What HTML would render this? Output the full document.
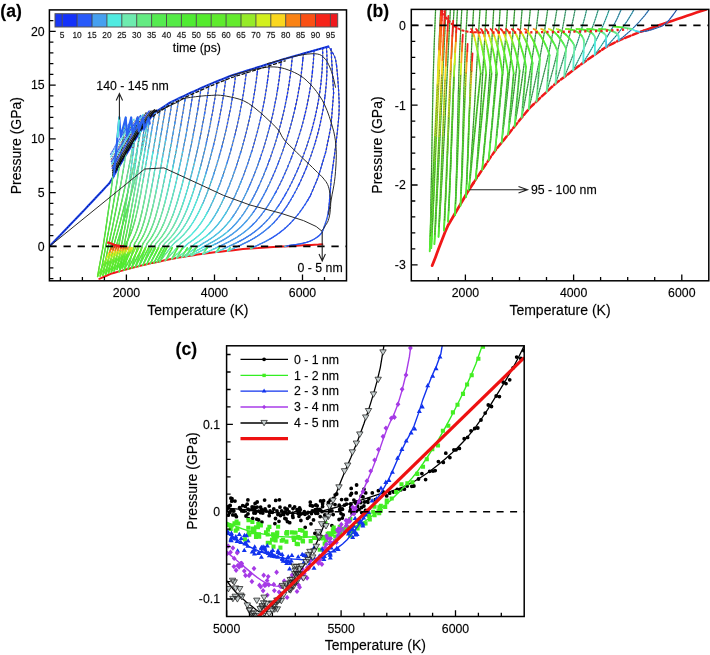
<!DOCTYPE html><html><head><meta charset="utf-8"><style>html,body{margin:0;padding:0;background:#fff}svg{display:block}</style></head><body>
<svg width="710" height="655" viewBox="0 0 710 655" font-family="'Liberation Sans', sans-serif">
<style>text{stroke:#000;stroke-width:0.28px;stroke-opacity:0.55}</style>
<rect width="710" height="655" fill="#fff"/>
<defs><clipPath id="ca"><rect x="49.4" y="9.9" width="297.1" height="270.9"/></clipPath><clipPath id="cb"><rect x="411.3" y="9.4" width="297.5" height="271.4"/></clipPath><clipPath id="cc"><rect x="226.6" y="345.8" width="297.6" height="270.7"/></clipPath></defs>
<g clip-path="url(#ca)" fill="none" stroke-linecap="round" stroke-linejoin="round">
<path d="M99.4 278.8 103.2 277.1 107.0 275.5 110.7 273.9 114.5 272.7 118.3 271.6 122.1 270.6 125.8 269.5 129.6 268.5 133.4 267.5 137.2 266.6 141.0 265.6 144.7 264.7 148.5 263.8 152.3 262.9 156.1 262.2 159.8 261.4 163.6 260.6 167.4 259.8 171.2 259.0 175.0 258.3 178.7 257.5 182.5 256.9 186.3 256.3 190.1 255.7 193.8 255.2 197.6 254.6 201.4 254.0 205.2 253.6 209.0 253.1 212.7 252.6 216.5 252.1 220.3 251.7 224.1 251.2 227.8 250.8 231.6 250.4 235.4 249.9 239.2 249.5 243.0 249.1 246.7 248.8 250.5 248.5 254.3 248.2 258.1 248.0 261.8 247.7 265.6 247.5 269.4 247.2 273.2 247.0 277.0 246.8 280.7 246.6 284.5 246.4 288.3 246.2 292.1 245.9 295.8 245.7 299.6 245.5 303.4 245.3 307.2 245.1 311.0 244.9 314.7 244.7 318.5 244.5 322.3 244.2" stroke="#f01818" stroke-width="2.0"/>
<path d="M49.4 246.4 52.9 242.7 56.5 239.0 60.0 235.4 63.5 231.7 67.1 228.0 70.6 224.3 74.1 220.6 77.6 217.0 81.2 213.3 84.7 209.6 88.2 205.8 91.8 202.0 95.3 198.2 98.8 194.5 102.4 190.7 105.9 186.9 109.4 183.2 113.0 177.2 116.5 171.1 120.0 165.0 123.5 158.9 127.1 152.9 130.6 147.1 134.1 141.4 137.7 135.6 141.2 130.3 144.7 125.6 148.3 120.8 151.8 116.1 155.3 112.2 158.9 109.9 162.4 107.6 165.9 105.3 169.4 103.0 173.0 101.1 176.5 99.5 180.0 97.8 183.6 96.1 187.1 94.4 190.6 92.7 194.2 91.2 197.7 89.6 201.2 88.0 204.7 86.4 208.3 84.9 211.8 83.4 215.3 81.9 218.9 80.5 222.4 79.1 225.9 77.7 229.5 76.3 233.0 75.1 236.5 74.0 240.1 72.8 243.6 71.7 247.1 70.6 250.6 69.5 254.2 68.4 257.7 67.3 261.2 66.2 264.8 65.1 268.3 64.0 271.8 62.9 275.4 61.8 278.9 60.7 282.4 59.6 286.0 58.6 289.5 57.5 293.0 56.5 296.5 55.5 300.1 54.5 303.6 53.4 307.1 52.4 310.7 51.4 314.2 50.4 317.7 49.4 321.3 48.4 324.8 47.4 328.3 46.4" stroke="#1a40f0" stroke-width="2.1"/>
<path d="M49.4 246.4 52.9 242.7 56.5 239.0 60.0 235.4 63.5 231.7 67.1 228.0 70.6 224.3 74.1 220.6 77.6 217.0 81.2 213.3 84.7 209.6 88.2 205.8 91.8 202.0 95.3 198.2 98.8 194.5 102.4 190.7 105.9 186.9 109.4 183.2 113.0 177.2 116.5 171.1 120.0 165.0 123.5 158.9 127.1 152.9 130.6 147.1 134.1 141.4 137.7 135.6 141.2 130.3 144.7 125.6 148.3 120.8 151.8 116.1 155.3 112.2 158.9 109.9 162.4 107.6 165.9 105.3 169.4 103.0 173.0 101.1 176.5 99.5 180.0 97.8 183.6 96.1 187.1 94.4 190.6 92.7 194.2 91.2 197.7 89.6 201.2 88.0 204.7 86.4 208.3 84.9 211.8 83.4 215.3 81.9 218.9 80.5 222.4 79.1 225.9 77.7 229.5 76.3 233.0 75.1 236.5 74.0 240.1 72.8 243.6 71.7 247.1 70.6 250.6 69.5 254.2 68.4 257.7 67.3 261.2 66.2 264.8 65.1 268.3 64.0 271.8 62.9 275.4 61.8 278.9 60.7 282.4 59.6 286.0 58.6 289.5 57.5 293.0 56.5 296.5 55.5 300.1 54.5 303.6 53.4 307.1 52.4 310.7 51.4 314.2 50.4 317.7 49.4 321.3 48.4 324.8 47.4 328.3 46.4" stroke="#000" stroke-width="0.9" stroke-dasharray="1 2.2" opacity="0.6"/>
<path d="M328.1 46.4 329.5 48.2 331.5 50.9 333.3 54.0 334.6 56.6 335.6 59.7 336.6 65.8 337.7 77.3 338.7 91.7 339.2 104.5 339.0 113.6 338.4 121.1 337.7 128.2 337.0 134.9 336.2 141.3 335.3 148.6 334.1 157.6 332.7 167.5 331.5 176.5 330.8 184.0 330.3 190.7 329.8 196.9 329.3 203.1 328.7 208.9 328.0 214.2 326.9 218.7 325.7 222.6 324.5 226.0 323.6 228.6 322.8 230.6 321.9 232.4 320.7 234.1 319.3 235.5 317.5 236.9 315.2 238.5 312.5 240.0 309.6 241.3 306.4 242.4 303.1 243.2 299.7 243.9 296.2 244.5 292.7 245.0 289.7 245.4 287.5 245.9 285.9 246.2 284.9 246.5" stroke="#454545" stroke-width="0.9"/>
<path d="M328.1 46.4 329.5 48.2 331.5 50.9 333.3 54.0 334.6 56.6 335.6 59.7 336.6 65.8" stroke="#1937f5" stroke-width="1.4" stroke-dasharray="1.2 2.8"/>
<path d="M336.6 65.8 337.7 77.3 338.7 91.7 339.2 104.5 339.0 113.6 338.4 121.1" stroke="#1634f8" stroke-width="1.4" stroke-dasharray="1.2 2.8"/>
<path d="M338.4 121.1 337.7 128.2 337.0 134.9 336.2 141.3 335.3 148.6 334.1 157.6 332.7 167.5" stroke="#1432fa" stroke-width="1.4" stroke-dasharray="1.2 2.8"/>
<path d="M332.7 167.5 331.5 176.5 330.8 184.0 330.3 190.7" stroke="#1e46fa" stroke-width="1.4" stroke-dasharray="1.8 2.2"/>
<path d="M330.3 190.7 329.8 196.9 329.3 203.1 328.7 208.9 328.0 214.2" stroke="#1e46fa" stroke-width="1.4" stroke-dasharray="2.4 1.6"/>
<path d="M328.0 214.2 326.9 218.7 325.7 222.6 324.5 226.0" stroke="#285afa" stroke-width="1.4" stroke-dasharray="2.4 1.6"/>
<path d="M324.5 226.0 323.6 228.6 322.8 230.6 321.9 232.4 320.7 234.1 319.3 235.5 317.5 236.9 315.2 238.5 312.5 240.0 309.6 241.3 306.4 242.4 303.1 243.2 299.7 243.9 296.2 244.5 292.7 245.0 289.7 245.4 287.5 245.9 285.9 246.2" stroke="#285afa" stroke-width="1.4" stroke-dasharray="3.2 0.8"/>
<path d="M285.9 246.2 284.9 246.5" stroke="#4bc6e8" stroke-width="1.4" stroke-dasharray="3.2 0.8"/>
<path d="M331.0 48.6 333.6 92.7 331.0 126.0 325.8 151.8 318.0 177.6 310.3 195.9 309.7 196.9 309.0 198.0 308.4 199.1 307.8 200.2 307.1 201.2 306.4 202.3 305.8 203.4 305.1 204.5 304.4 205.5 303.6 206.6 303.3 207.2 302.9 207.7 302.5 208.2 302.2 208.8 301.8 209.3 301.4 209.8 301.0 210.4 300.6 210.9 300.3 211.5 299.9 212.0 299.5 212.5 299.0 213.1 298.6 213.6 298.2 214.1 297.8 214.7 297.4 215.2 296.9 215.8 296.5 216.3 296.1 216.8 295.6 217.4 295.2 217.9 294.7 218.4 294.3 219.0 293.8 219.5 293.3 220.1 292.8 220.6 292.3 221.1 291.8 221.7 291.3 222.2 290.8 222.7 290.3 223.3 289.8 223.8 289.2 224.4 288.7 224.9 288.1 225.4 287.5 226.0 287.0 226.5 286.4 227.0 285.8 227.6 285.2 228.1 284.6 228.7 283.9 229.2 283.3 229.7 282.7 230.3 282.0 230.8 281.3 231.3 280.6 231.9 279.9 232.4 279.2 233.0 278.5 233.5 277.7 234.0 276.9 234.6 276.2 235.1 275.4 235.6 274.6 236.2 273.7 236.7 272.9 237.3 272.0 237.8 271.1 238.3 270.2 238.9 269.3 239.4 268.3 239.9 267.3 240.5 266.3 241.0 265.3 241.6 264.2 242.1 263.2 242.6 262.0 243.2 260.9 243.7 259.8 244.2 258.6 244.8 257.5 245.3 256.4 245.9 255.2 246.4 254.1 246.9 252.9 247.5 251.8 248.0 250.6 248.5" stroke="#454545" stroke-width="0.9"/>
<path d="M331.0 48.6 333.6 92.7" stroke="#1634f8" stroke-width="1.4" stroke-dasharray="1.2 2.8"/>
<path d="M333.6 92.7 331.0 126.0 325.8 151.8" stroke="#1432fa" stroke-width="1.4" stroke-dasharray="1.2 2.8"/>
<path d="M325.8 151.8 318.0 177.6 310.3 195.9" stroke="#1e46fa" stroke-width="1.4" stroke-dasharray="1.8 2.2"/>
<path d="M310.3 195.9 309.7 196.9 309.0 198.0 308.4 199.1 307.8 200.2" stroke="#1e46fa" stroke-width="1.4" stroke-dasharray="2.4 1.6"/>
<path d="M307.8 200.2 307.1 201.2 306.4 202.3 305.8 203.4 305.1 204.5 304.4 205.5 303.6 206.6 303.3 207.2 302.9 207.7 302.5 208.2 302.2 208.8 301.8 209.3 301.4 209.8 301.0 210.4 300.6 210.9 300.3 211.5 299.9 212.0 299.5 212.5 299.0 213.1 298.6 213.6 298.2 214.1 297.8 214.7 297.4 215.2 296.9 215.8 296.5 216.3 296.1 216.8 295.6 217.4 295.2 217.9 294.7 218.4 294.3 219.0 293.8 219.5 293.3 220.1 292.8 220.6 292.3 221.1 291.8 221.7 291.3 222.2 290.8 222.7 290.3 223.3 289.8 223.8 289.2 224.4 288.7 224.9 288.1 225.4 287.5 226.0 287.0 226.5 286.4 227.0 285.8 227.6 285.2 228.1" stroke="#285afa" stroke-width="1.4" stroke-dasharray="2.4 1.6"/>
<path d="M285.2 228.1 284.6 228.7 283.9 229.2 283.3 229.7 282.7 230.3 282.0 230.8 281.3 231.3 280.6 231.9 279.9 232.4 279.2 233.0 278.5 233.5 277.7 234.0 276.9 234.6 276.2 235.1 275.4 235.6 274.6 236.2 273.7 236.7 272.9 237.3 272.0 237.8 271.1 238.3 270.2 238.9 269.3 239.4" stroke="#285afa" stroke-width="1.4" stroke-dasharray="3.2 0.8"/>
<path d="M269.3 239.4 268.3 239.9 267.3 240.5 266.3 241.0 265.3 241.6 264.2 242.1 263.2 242.6 262.0 243.2 260.9 243.7 259.8 244.2 258.6 244.8 257.5 245.3 256.4 245.9 255.2 246.4 254.1 246.9" stroke="#377df5" stroke-width="1.4" stroke-dasharray="3.2 0.8"/>
<path d="M254.1 246.9 252.9 247.5" stroke="#46a0f0" stroke-width="1.4" stroke-dasharray="3.2 0.8"/>
<path d="M252.9 247.5 251.8 248.0" stroke="#4bc6e8" stroke-width="1.4" stroke-dasharray="3.2 0.8"/>
<path d="M251.8 248.0 250.6 248.5" stroke="#50ebe1" stroke-width="1.4" stroke-dasharray="3.2 0.8"/>
<path d="M326.5 47.0 326.6 48.0 326.6 49.1 326.7 50.2 326.7 51.3 326.8 52.3 326.8 53.4 326.9 54.5 326.9 55.6 326.9 56.6 327.0 57.7 327.0 58.8 327.0 59.9 327.0 60.9 327.0 62.0 327.0 63.1 327.0 64.2 327.0 65.2 327.0 66.3 327.0 67.4 327.0 68.5 326.9 69.5 326.9 70.6 326.9 71.7 326.9 72.8 326.8 73.8 326.8 74.9 326.7 76.0 326.7 77.1 326.6 78.1 326.6 79.2 326.5 80.3 326.4 81.4 326.3 82.4 326.3 83.5 326.2 84.6 326.1 85.7 326.0 86.7 325.9 87.8 325.8 88.9 325.7 90.0 325.6 91.0 325.5 92.1 325.4 93.2 325.2 94.3 325.1 95.3 325.0 96.4 324.8 97.5 324.7 98.6 324.6 99.6 324.4 100.7 324.3 101.8 324.1 102.9 323.9 103.9 323.8 105.0 323.6 106.1 323.4 107.2 323.2 108.2 323.1 109.3 322.9 110.4 322.7 111.5 322.5 112.5 322.3 113.6 322.1 114.7 321.9 115.8 321.6 116.8 321.4 117.9 321.2 119.0 321.0 120.1 320.7 121.1 320.5 122.2 320.3 123.3 320.0 124.4 319.8 125.4 319.5 126.5 319.3 127.6 319.0 128.7 318.7 129.7 318.5 130.8 318.2 131.9 317.9 133.0 317.6 134.0 317.3 135.1 317.0 136.2 316.7 137.3 316.4 138.3 316.1 139.4 315.8 140.5 315.5 141.6 315.2 142.6 314.9 143.7 314.5 144.8 314.2 145.9 313.9 146.9 313.5 148.0 313.2 149.1 312.8 150.2 312.5 151.2 312.1 152.3 311.7 153.4 311.4 154.5 311.0 155.5 310.6 156.6 310.2 157.7 309.8 158.8 309.4 159.8 309.0 160.9 308.6 162.0 308.2 163.1 307.8 164.1 307.4 165.2 307.0 166.3 306.5 167.4 306.1 168.4 305.7 169.5 305.2 170.6 304.8 171.7 304.3 172.7 303.9 173.8 303.4 174.9 302.9 176.0 302.4 177.0 302.0 178.1 301.5 179.2 301.0 180.3 300.5 181.3 300.0 182.4 299.5 183.5 298.9 184.6 298.4 185.6 297.9 186.7 297.3 187.8 296.8 188.9 296.3 189.9 295.7 191.0 295.1 192.1 294.5 193.2 294.0 194.2 293.4 195.3 292.8 196.4 292.1 197.5 291.5 198.5 290.9 199.6 290.3 200.7 289.6 201.8 288.9 202.8 288.3 203.9 287.6 205.0 286.9 206.1 286.2 207.1 285.8 207.7 285.4 208.2 285.1 208.7 284.7 209.3 284.3 209.8 283.9 210.4 283.5 210.9 283.1 211.4 282.7 212.0 282.3 212.5 281.9 213.0 281.5 213.6 281.1 214.1 280.7 214.7 280.3 215.2 279.8 215.7 279.4 216.3 279.0 216.8 278.5 217.3 278.1 217.9 277.6 218.4 277.1 219.0 276.7 219.5 276.2 220.0 275.7 220.6 275.2 221.1 274.7 221.6 274.2 222.2 273.7 222.7 273.2 223.3 272.6 223.8 272.1 224.3 271.5 224.9 271.0 225.4 270.4 225.9 269.8 226.5 269.3 227.0 268.7 227.6 268.0 228.1 267.4 228.6 266.8 229.2 266.1 229.7 265.5 230.2 264.8 230.8 264.1 231.3 263.4 231.9 262.7 232.4 262.0 232.9 261.3 233.5 260.5 234.0 259.7 234.5 259.0 235.1 258.1 235.6 257.3 236.2 256.5 236.7 255.6 237.2 254.7 237.8 253.8 238.3 252.9 238.8 252.0 239.4 251.0 239.9 250.0 240.5 249.0 241.0 248.0 241.5 246.9 242.1 245.8 242.6 244.7 243.1 243.6 243.7 242.4 244.2 241.3 244.8 240.1 245.3 239.0 245.8 237.8 246.4 236.7 246.9 235.5 247.4 234.4 248.0 233.2 248.5 232.1 249.1 230.9 249.6 229.7 250.1 228.6 250.7 227.4 251.2" stroke="#454545" stroke-width="0.9"/>
<path d="M326.5 47.0 326.6 48.0 326.6 49.1 326.7 50.2 326.7 51.3 326.8 52.3 326.8 53.4 326.9 54.5 326.9 55.6 326.9 56.6 327.0 57.7 327.0 58.8 327.0 59.9 327.0 60.9 327.0 62.0 327.0 63.1 327.0 64.2 327.0 65.2 327.0 66.3 327.0 67.4 327.0 68.5 326.9 69.5 326.9 70.6 326.9 71.7 326.9 72.8 326.8 73.8 326.8 74.9 326.7 76.0 326.7 77.1 326.6 78.1 326.6 79.2 326.5 80.3 326.4 81.4 326.3 82.4 326.3 83.5 326.2 84.6 326.1 85.7 326.0 86.7 325.9 87.8 325.8 88.9 325.7 90.0 325.6 91.0 325.5 92.1 325.4 93.2 325.2 94.3 325.1 95.3 325.0 96.4 324.8 97.5" stroke="#1634f8" stroke-width="1.4" stroke-dasharray="1.2 2.8"/>
<path d="M324.8 97.5 324.7 98.6 324.6 99.6 324.4 100.7 324.3 101.8 324.1 102.9 323.9 103.9 323.8 105.0 323.6 106.1 323.4 107.2 323.2 108.2 323.1 109.3 322.9 110.4 322.7 111.5 322.5 112.5 322.3 113.6 322.1 114.7 321.9 115.8 321.6 116.8 321.4 117.9 321.2 119.0 321.0 120.1 320.7 121.1 320.5 122.2 320.3 123.3 320.0 124.4 319.8 125.4 319.5 126.5 319.3 127.6 319.0 128.7 318.7 129.7 318.5 130.8 318.2 131.9 317.9 133.0 317.6 134.0 317.3 135.1 317.0 136.2 316.7 137.3 316.4 138.3 316.1 139.4 315.8 140.5 315.5 141.6 315.2 142.6 314.9 143.7" stroke="#1432fa" stroke-width="1.4" stroke-dasharray="1.2 2.8"/>
<path d="M314.9 143.7 314.5 144.8 314.2 145.9 313.9 146.9 313.5 148.0 313.2 149.1 312.8 150.2 312.5 151.2 312.1 152.3 311.7 153.4 311.4 154.5 311.0 155.5 310.6 156.6 310.2 157.7 309.8 158.8 309.4 159.8 309.0 160.9 308.6 162.0 308.2 163.1 307.8 164.1 307.4 165.2 307.0 166.3 306.5 167.4 306.1 168.4" stroke="#1e46fa" stroke-width="1.4" stroke-dasharray="1.2 2.8"/>
<path d="M306.1 168.4 305.7 169.5 305.2 170.6 304.8 171.7 304.3 172.7 303.9 173.8 303.4 174.9 302.9 176.0 302.4 177.0 302.0 178.1 301.5 179.2 301.0 180.3 300.5 181.3 300.0 182.4 299.5 183.5 298.9 184.6" stroke="#1e46fa" stroke-width="1.4" stroke-dasharray="1.8 2.2"/>
<path d="M298.9 184.6 298.4 185.6 297.9 186.7 297.3 187.8 296.8 188.9 296.3 189.9 295.7 191.0 295.1 192.1 294.5 193.2 294.0 194.2 293.4 195.3" stroke="#285afa" stroke-width="1.4" stroke-dasharray="1.8 2.2"/>
<path d="M293.4 195.3 292.8 196.4 292.1 197.5 291.5 198.5 290.9 199.6 290.3 200.7 289.6 201.8 288.9 202.8 288.3 203.9 287.6 205.0 286.9 206.1 286.2 207.1 285.8 207.7 285.4 208.2 285.1 208.7 284.7 209.3 284.3 209.8 283.9 210.4 283.5 210.9 283.1 211.4 282.7 212.0 282.3 212.5 281.9 213.0 281.5 213.6 281.1 214.1 280.7 214.7 280.3 215.2 279.8 215.7 279.4 216.3 279.0 216.8 278.5 217.3 278.1 217.9 277.6 218.4 277.1 219.0 276.7 219.5 276.2 220.0 275.7 220.6 275.2 221.1 274.7 221.6 274.2 222.2 273.7 222.7" stroke="#285afa" stroke-width="1.4" stroke-dasharray="2.4 1.6"/>
<path d="M273.7 222.7 273.2 223.3 272.6 223.8 272.1 224.3 271.5 224.9 271.0 225.4 270.4 225.9 269.8 226.5 269.3 227.0" stroke="#377df5" stroke-width="1.4" stroke-dasharray="2.4 1.6"/>
<path d="M269.3 227.0 268.7 227.6 268.0 228.1 267.4 228.6 266.8 229.2 266.1 229.7 265.5 230.2 264.8 230.8 264.1 231.3 263.4 231.9 262.7 232.4 262.0 232.9 261.3 233.5 260.5 234.0 259.7 234.5 259.0 235.1 258.1 235.6 257.3 236.2 256.5 236.7 255.6 237.2 254.7 237.8 253.8 238.3 252.9 238.8 252.0 239.4 251.0 239.9 250.0 240.5 249.0 241.0 248.0 241.5 246.9 242.1 245.8 242.6 244.7 243.1 243.6 243.7 242.4 244.2 241.3 244.8 240.1 245.3 239.0 245.8 237.8 246.4 236.7 246.9" stroke="#377df5" stroke-width="1.4" stroke-dasharray="3.2 0.8"/>
<path d="M236.7 246.9 235.5 247.4 234.4 248.0" stroke="#46a0f0" stroke-width="1.4" stroke-dasharray="3.2 0.8"/>
<path d="M234.4 248.0 233.2 248.5 232.1 249.1 230.9 249.6" stroke="#4bc6e8" stroke-width="1.4" stroke-dasharray="3.2 0.8"/>
<path d="M230.9 249.6 229.7 250.1 228.6 250.7 227.4 251.2" stroke="#50ebe1" stroke-width="1.4" stroke-dasharray="3.2 0.8"/>
<path d="M322.7 48.0 322.7 49.1 322.7 50.2 322.7 51.3 322.7 52.3 322.7 53.4 322.7 54.5 322.7 55.6 322.6 56.6 322.6 57.7 322.6 58.8 322.6 59.9 322.5 60.9 322.5 62.0 322.5 63.1 322.4 64.2 322.4 65.2 322.3 66.3 322.2 67.4 322.2 68.5 322.1 69.5 322.1 70.6 322.0 71.7 321.9 72.8 321.8 73.8 321.7 74.9 321.6 76.0 321.5 77.1 321.4 78.1 321.3 79.2 321.2 80.3 321.1 81.4 321.0 82.4 320.9 83.5 320.8 84.6 320.6 85.7 320.5 86.7 320.4 87.8 320.2 88.9 320.1 90.0 319.9 91.0 319.8 92.1 319.6 93.2 319.5 94.3 319.3 95.3 319.1 96.4 318.9 97.5 318.8 98.6 318.6 99.6 318.4 100.7 318.2 101.8 318.0 102.9 317.8 103.9 317.6 105.0 317.4 106.1 317.2 107.2 317.0 108.2 316.8 109.3 316.5 110.4 316.3 111.5 316.1 112.5 315.8 113.6 315.6 114.7 315.4 115.8 315.1 116.8 314.9 117.9 314.6 119.0 314.3 120.1 314.1 121.1 313.8 122.2 313.5 123.3 313.2 124.4 313.0 125.4 312.7 126.5 312.4 127.6 312.1 128.7 311.8 129.7 311.5 130.8 311.2 131.9 310.9 133.0 310.6 134.0 310.2 135.1 309.9 136.2 309.6 137.3 309.3 138.3 308.9 139.4 308.6 140.5 308.2 141.6 307.9 142.6 307.5 143.7 307.2 144.8 306.8 145.9 306.4 146.9 306.1 148.0 305.7 149.1 305.3 150.2 304.9 151.2 304.5 152.3 304.1 153.4 303.8 154.5 303.4 155.5 302.9 156.6 302.5 157.7 302.1 158.8 301.7 159.8 301.3 160.9 300.8 162.0 300.4 163.1 300.0 164.1 299.5 165.2 299.1 166.3 298.6 167.4 298.2 168.4 297.7 169.5 297.2 170.6 296.8 171.7 296.3 172.7 295.8 173.8 295.3 174.9 294.8 176.0 294.3 177.0 293.8 178.1 293.3 179.2 292.8 180.3 292.3 181.3 291.8 182.4 291.2 183.5 290.7 184.6 290.1 185.6 289.6 186.7 289.0 187.8 288.5 188.9 287.9 189.9 287.3 191.0 286.7 192.1 286.1 193.2 285.5 194.2 284.9 195.3 284.3 196.4 283.7 197.5 283.0 198.5 282.4 199.6 281.7 200.7 281.0 201.8 280.4 202.8 279.7 203.9 279.0 205.0 278.2 206.1 277.9 206.6 277.5 207.1 277.1 207.7 276.8 208.2 276.4 208.8 276.0 209.3 275.6 209.8 275.2 210.4 274.8 210.9 274.4 211.4 274.0 212.0 273.6 212.5 273.2 213.1 272.8 213.6 272.4 214.1 272.0 214.7 271.5 215.2 271.1 215.7 270.6 216.3 270.2 216.8 269.7 217.4 269.3 217.9 268.8 218.4 268.3 219.0 267.9 219.5 267.4 220.0 266.9 220.6 266.4 221.1 265.9 221.7 265.4 222.2 264.8 222.7 264.3 223.3 263.8 223.8 263.2 224.3 262.7 224.9 262.1 225.4 261.5 226.0 261.0 226.5 260.4 227.0 259.8 227.6 259.1 228.1 258.5 228.6 257.9 229.2 257.2 229.7 256.6 230.3 255.9 230.8 255.2 231.3 254.5 231.9 253.8 232.4 253.0 232.9 252.3 233.5 251.5 234.0 250.8 234.6 250.0 235.1 249.2 235.6 248.3 236.2 247.5 236.7 246.6 237.2 245.7 237.8 244.8 238.3 243.9 238.9 243.0 239.4 242.0 239.9 241.0 240.5 240.0 241.0 239.0 241.5 237.9 242.1 236.8 242.6 235.7 243.2 234.5 243.7 233.4 244.2 232.2 244.8 231.1 245.3 229.9 245.8 228.8 246.4 227.6 246.9 226.4 247.5 225.3 248.0 224.1 248.5 223.0 249.1 221.8 249.6 220.6 250.1 219.5 250.7 218.3 251.2 217.2 251.8 216.0 252.3" stroke="#454545" stroke-width="0.9"/>
<path d="M322.7 48.0 322.7 49.1 322.7 50.2 322.7 51.3 322.7 52.3 322.7 53.4 322.7 54.5 322.7 55.6 322.6 56.6 322.6 57.7 322.6 58.8 322.6 59.9 322.5 60.9 322.5 62.0 322.5 63.1 322.4 64.2 322.4 65.2 322.3 66.3 322.2 67.4 322.2 68.5 322.1 69.5 322.1 70.6 322.0 71.7 321.9 72.8 321.8 73.8 321.7 74.9 321.6 76.0 321.5 77.1 321.4 78.1 321.3 79.2 321.2 80.3 321.1 81.4 321.0 82.4 320.9 83.5" stroke="#1634f8" stroke-width="1.4" stroke-dasharray="1.2 2.8"/>
<path d="M320.9 83.5 320.8 84.6 320.6 85.7 320.5 86.7 320.4 87.8 320.2 88.9 320.1 90.0 319.9 91.0 319.8 92.1 319.6 93.2 319.5 94.3 319.3 95.3 319.1 96.4 318.9 97.5 318.8 98.6 318.6 99.6 318.4 100.7 318.2 101.8 318.0 102.9 317.8 103.9 317.6 105.0 317.4 106.1 317.2 107.2 317.0 108.2 316.8 109.3 316.5 110.4 316.3 111.5 316.1 112.5 315.8 113.6 315.6 114.7 315.4 115.8 315.1 116.8 314.9 117.9 314.6 119.0 314.3 120.1 314.1 121.1 313.8 122.2 313.5 123.3 313.2 124.4 313.0 125.4 312.7 126.5 312.4 127.6 312.1 128.7 311.8 129.7" stroke="#1432fa" stroke-width="1.4" stroke-dasharray="1.2 2.8"/>
<path d="M311.8 129.7 311.5 130.8 311.2 131.9 310.9 133.0 310.6 134.0 310.2 135.1 309.9 136.2 309.6 137.3 309.3 138.3 308.9 139.4 308.6 140.5 308.2 141.6 307.9 142.6 307.5 143.7 307.2 144.8 306.8 145.9 306.4 146.9 306.1 148.0 305.7 149.1 305.3 150.2 304.9 151.2 304.5 152.3 304.1 153.4 303.8 154.5 303.4 155.5 302.9 156.6 302.5 157.7 302.1 158.8 301.7 159.8 301.3 160.9 300.8 162.0 300.4 163.1 300.0 164.1 299.5 165.2 299.1 166.3 298.6 167.4" stroke="#1e46fa" stroke-width="1.4" stroke-dasharray="1.2 2.8"/>
<path d="M298.6 167.4 298.2 168.4 297.7 169.5 297.2 170.6" stroke="#1e46fa" stroke-width="1.4" stroke-dasharray="1.8 2.2"/>
<path d="M297.2 170.6 296.8 171.7 296.3 172.7 295.8 173.8 295.3 174.9 294.8 176.0 294.3 177.0 293.8 178.1 293.3 179.2 292.8 180.3 292.3 181.3 291.8 182.4 291.2 183.5 290.7 184.6 290.1 185.6 289.6 186.7 289.0 187.8 288.5 188.9 287.9 189.9 287.3 191.0 286.7 192.1 286.1 193.2 285.5 194.2" stroke="#285afa" stroke-width="1.4" stroke-dasharray="1.8 2.2"/>
<path d="M285.5 194.2 284.9 195.3 284.3 196.4 283.7 197.5 283.0 198.5 282.4 199.6 281.7 200.7 281.0 201.8 280.4 202.8 279.7 203.9 279.0 205.0 278.2 206.1 277.9 206.6 277.5 207.1" stroke="#285afa" stroke-width="1.4" stroke-dasharray="2.4 1.6"/>
<path d="M277.5 207.1 277.1 207.7 276.8 208.2 276.4 208.8 276.0 209.3 275.6 209.8 275.2 210.4 274.8 210.9 274.4 211.4 274.0 212.0 273.6 212.5 273.2 213.1 272.8 213.6 272.4 214.1 272.0 214.7 271.5 215.2 271.1 215.7 270.6 216.3 270.2 216.8 269.7 217.4 269.3 217.9 268.8 218.4 268.3 219.0 267.9 219.5 267.4 220.0 266.9 220.6 266.4 221.1 265.9 221.7 265.4 222.2 264.8 222.7 264.3 223.3 263.8 223.8 263.2 224.3 262.7 224.9 262.1 225.4 261.5 226.0" stroke="#377df5" stroke-width="1.4" stroke-dasharray="2.4 1.6"/>
<path d="M261.5 226.0 261.0 226.5 260.4 227.0 259.8 227.6 259.1 228.1 258.5 228.6 257.9 229.2 257.2 229.7 256.6 230.3 255.9 230.8 255.2 231.3 254.5 231.9 253.8 232.4 253.0 232.9 252.3 233.5 251.5 234.0 250.8 234.6 250.0 235.1 249.2 235.6 248.3 236.2 247.5 236.7 246.6 237.2 245.7 237.8 244.8 238.3 243.9 238.9 243.0 239.4 242.0 239.9 241.0 240.5 240.0 241.0 239.0 241.5 237.9 242.1" stroke="#377df5" stroke-width="1.4" stroke-dasharray="3.2 0.8"/>
<path d="M237.9 242.1 236.8 242.6 235.7 243.2 234.5 243.7 233.4 244.2 232.2 244.8 231.1 245.3 229.9 245.8 228.8 246.4 227.6 246.9 226.4 247.5 225.3 248.0" stroke="#46a0f0" stroke-width="1.4" stroke-dasharray="3.2 0.8"/>
<path d="M225.3 248.0 224.1 248.5 223.0 249.1 221.8 249.6" stroke="#4bc6e8" stroke-width="1.4" stroke-dasharray="3.2 0.8"/>
<path d="M221.8 249.6 220.6 250.1 219.5 250.7 218.3 251.2" stroke="#50ebe1" stroke-width="1.4" stroke-dasharray="3.2 0.8"/>
<path d="M218.3 251.2 217.2 251.8 216.0 252.3" stroke="#5febc8" stroke-width="1.4" stroke-dasharray="3.2 0.8"/>
<path d="M314.0 50.5 314.0 51.5 313.9 52.6 313.9 53.7 313.8 54.8 313.8 55.8 313.7 56.9 313.6 58.0 313.5 59.1 313.5 60.1 313.4 61.2 313.3 62.3 313.2 63.4 313.1 64.4 313.0 65.5 312.9 66.6 312.8 67.7 312.7 68.7 312.6 69.8 312.5 70.9 312.4 72.0 312.3 73.0 312.2 74.1 312.0 75.2 311.9 76.3 311.8 77.3 311.6 78.4 311.5 79.5 311.4 80.6 311.2 81.6 311.1 82.7 310.9 83.8 310.7 84.9 310.6 85.9 310.4 87.0 310.2 88.1 310.1 89.2 309.9 90.2 309.7 91.3 309.5 92.4 309.3 93.5 309.1 94.5 308.9 95.6 308.7 96.7 308.5 97.8 308.3 98.8 308.1 99.9 307.9 101.0 307.7 102.1 307.5 103.1 307.3 104.2 307.0 105.3 306.8 106.4 306.6 107.4 306.3 108.5 306.1 109.6 305.8 110.7 305.6 111.7 305.3 112.8 305.1 113.9 304.8 115.0 304.5 116.0 304.3 117.1 304.0 118.2 303.7 119.3 303.4 120.3 303.2 121.4 302.9 122.5 302.6 123.6 302.3 124.6 302.0 125.7 301.7 126.8 301.4 127.9 301.1 128.9 300.8 130.0 300.4 131.1 300.1 132.2 299.8 133.2 299.5 134.3 299.1 135.4 298.8 136.5 298.5 137.5 298.1 138.6 297.8 139.7 297.4 140.8 297.1 141.8 296.7 142.9 296.4 144.0 296.0 145.1 295.6 146.1 295.2 147.2 294.9 148.3 294.5 149.4 294.1 150.4 293.7 151.5 293.3 152.6 292.9 153.7 292.5 154.7 292.1 155.8 291.7 156.9 291.3 158.0 290.9 159.0 290.5 160.1 290.0 161.2 289.6 162.3 289.2 163.3 288.7 164.4 288.3 165.5 287.9 166.6 287.4 167.6 287.0 168.7 286.5 169.8 286.0 170.9 285.6 171.9 285.1 173.0 284.6 174.1 284.1 175.2 283.7 176.2 283.2 177.3 282.7 178.4 282.2 179.5 281.7 180.5 281.1 181.6 280.6 182.7 280.1 183.8 279.6 184.8 279.0 185.9 278.5 187.0 278.0 188.1 277.4 189.1 276.8 190.2 276.3 191.3 275.7 192.4 275.1 193.4 274.5 194.5 273.9 195.6 273.3 196.7 272.7 197.7 272.1 198.8 271.5 199.9 270.8 201.0 270.2 202.0 269.5 203.1 268.8 204.2 268.1 205.3 267.4 206.3 266.7 207.4 266.0 208.5 265.6 209.0 265.3 209.6 264.9 210.1 264.5 210.6 264.1 211.2 263.7 211.7 263.3 212.3 262.9 212.8 262.5 213.3 262.1 213.9 261.7 214.4 261.3 214.9 260.9 215.5 260.5 216.0 260.0 216.6 259.6 217.1 259.2 217.6 258.7 218.2 258.2 218.7 257.8 219.2 257.3 219.8 256.8 220.3 256.4 220.9 255.9 221.4 255.4 221.9 254.9 222.5 254.4 223.0 253.8 223.5 253.3 224.1 252.8 224.6 252.2 225.2 251.7 225.7 251.1 226.2 250.5 226.8 250.0 227.3 249.4 227.8 248.8 228.4 248.1 228.9 247.5 229.5 246.9 230.0 246.2 230.5 245.6 231.1 244.9 231.6 244.2 232.1 243.5 232.7 242.8 233.2 242.0 233.8 241.3 234.3 240.5 234.8 239.7 235.4 238.9 235.9 238.1 236.4 237.3 237.0 236.4 237.5 235.5 238.1 234.6 238.6 233.7 239.1 232.8 239.7 231.8 240.2 230.8 240.7 229.8 241.3 228.8 241.8 227.7 242.4 226.6 242.9 225.5 243.4 224.4 244.0 223.3 244.5 222.1 245.0 221.0 245.6 219.9 246.1 218.7 246.7 217.6 247.2 216.5 247.7 215.3 248.3 214.2 248.8 213.0 249.3 211.9 249.9 210.8 250.4 209.6 251.0 208.5 251.5 207.3 252.0 206.2 252.6 205.0 253.1 203.9 253.6 202.8 254.2" stroke="#454545" stroke-width="0.9"/>
<path d="M314.0 50.5 314.0 51.5 313.9 52.6 313.9 53.7 313.8 54.8 313.8 55.8 313.7 56.9 313.6 58.0 313.5 59.1 313.5 60.1 313.4 61.2 313.3 62.3 313.2 63.4 313.1 64.4 313.0 65.5 312.9 66.6 312.8 67.7 312.7 68.7 312.6 69.8 312.5 70.9 312.4 72.0" stroke="#1634f8" stroke-width="1.4" stroke-dasharray="1.2 2.8"/>
<path d="M312.4 72.0 312.3 73.0 312.2 74.1 312.0 75.2 311.9 76.3 311.8 77.3 311.6 78.4 311.5 79.5 311.4 80.6 311.2 81.6 311.1 82.7 310.9 83.8 310.7 84.9 310.6 85.9 310.4 87.0 310.2 88.1 310.1 89.2 309.9 90.2 309.7 91.3 309.5 92.4 309.3 93.5 309.1 94.5 308.9 95.6 308.7 96.7 308.5 97.8 308.3 98.8 308.1 99.9 307.9 101.0 307.7 102.1 307.5 103.1 307.3 104.2 307.0 105.3 306.8 106.4 306.6 107.4 306.3 108.5 306.1 109.6 305.8 110.7 305.6 111.7 305.3 112.8 305.1 113.9 304.8 115.0 304.5 116.0 304.3 117.1 304.0 118.2" stroke="#1432fa" stroke-width="1.4" stroke-dasharray="1.2 2.8"/>
<path d="M304.0 118.2 303.7 119.3 303.4 120.3 303.2 121.4 302.9 122.5 302.6 123.6 302.3 124.6 302.0 125.7 301.7 126.8 301.4 127.9 301.1 128.9 300.8 130.0 300.4 131.1 300.1 132.2 299.8 133.2 299.5 134.3 299.1 135.4 298.8 136.5 298.5 137.5 298.1 138.6 297.8 139.7 297.4 140.8 297.1 141.8 296.7 142.9 296.4 144.0 296.0 145.1 295.6 146.1 295.2 147.2 294.9 148.3 294.5 149.4 294.1 150.4 293.7 151.5 293.3 152.6 292.9 153.7 292.5 154.7 292.1 155.8 291.7 156.9 291.3 158.0" stroke="#1e46fa" stroke-width="1.4" stroke-dasharray="1.2 2.8"/>
<path d="M291.3 158.0 290.9 159.0 290.5 160.1 290.0 161.2 289.6 162.3 289.2 163.3 288.7 164.4 288.3 165.5" stroke="#285afa" stroke-width="1.4" stroke-dasharray="1.2 2.8"/>
<path d="M288.3 165.5 287.9 166.6 287.4 167.6 287.0 168.7 286.5 169.8 286.0 170.9 285.6 171.9 285.1 173.0 284.6 174.1 284.1 175.2 283.7 176.2 283.2 177.3 282.7 178.4 282.2 179.5 281.7 180.5 281.1 181.6 280.6 182.7 280.1 183.8 279.6 184.8 279.0 185.9 278.5 187.0 278.0 188.1 277.4 189.1 276.8 190.2 276.3 191.3 275.7 192.4" stroke="#285afa" stroke-width="1.4" stroke-dasharray="1.8 2.2"/>
<path d="M275.7 192.4 275.1 193.4" stroke="#285afa" stroke-width="1.4" stroke-dasharray="2.4 1.6"/>
<path d="M275.1 193.4 274.5 194.5 273.9 195.6 273.3 196.7 272.7 197.7 272.1 198.8 271.5 199.9 270.8 201.0 270.2 202.0 269.5 203.1 268.8 204.2 268.1 205.3 267.4 206.3 266.7 207.4 266.0 208.5 265.6 209.0 265.3 209.6 264.9 210.1 264.5 210.6 264.1 211.2 263.7 211.7 263.3 212.3 262.9 212.8 262.5 213.3 262.1 213.9 261.7 214.4 261.3 214.9 260.9 215.5 260.5 216.0 260.0 216.6 259.6 217.1 259.2 217.6 258.7 218.2 258.2 218.7 257.8 219.2 257.3 219.8 256.8 220.3 256.4 220.9 255.9 221.4 255.4 221.9 254.9 222.5 254.4 223.0 253.8 223.5 253.3 224.1" stroke="#377df5" stroke-width="1.4" stroke-dasharray="2.4 1.6"/>
<path d="M253.3 224.1 252.8 224.6 252.2 225.2 251.7 225.7 251.1 226.2 250.5 226.8 250.0 227.3" stroke="#377df5" stroke-width="1.4" stroke-dasharray="3.2 0.8"/>
<path d="M250.0 227.3 249.4 227.8 248.8 228.4 248.1 228.9 247.5 229.5 246.9 230.0 246.2 230.5 245.6 231.1 244.9 231.6 244.2 232.1 243.5 232.7 242.8 233.2 242.0 233.8 241.3 234.3 240.5 234.8 239.7 235.4 238.9 235.9 238.1 236.4 237.3 237.0 236.4 237.5 235.5 238.1 234.6 238.6 233.7 239.1 232.8 239.7 231.8 240.2 230.8 240.7 229.8 241.3 228.8 241.8 227.7 242.4 226.6 242.9 225.5 243.4 224.4 244.0 223.3 244.5 222.1 245.0 221.0 245.6 219.9 246.1 218.7 246.7 217.6 247.2" stroke="#46a0f0" stroke-width="1.4" stroke-dasharray="3.2 0.8"/>
<path d="M217.6 247.2 216.5 247.7 215.3 248.3 214.2 248.8 213.0 249.3" stroke="#4bc6e8" stroke-width="1.4" stroke-dasharray="3.2 0.8"/>
<path d="M213.0 249.3 211.9 249.9 210.8 250.4 209.6 251.0 208.5 251.5 207.3 252.0" stroke="#50ebe1" stroke-width="1.4" stroke-dasharray="3.2 0.8"/>
<path d="M207.3 252.0 206.2 252.6 205.0 253.1 203.9 253.6 202.8 254.2" stroke="#5febc8" stroke-width="1.4" stroke-dasharray="3.2 0.8"/>
<path d="M303.3 53.5 303.3 54.6 303.2 55.7 303.1 56.7 303.0 57.8 302.9 58.9 302.8 60.0 302.7 61.0 302.6 62.1 302.5 63.2 302.4 64.3 302.3 65.3 302.2 66.4 302.0 67.5 301.9 68.6 301.8 69.6 301.7 70.7 301.5 71.8 301.4 72.9 301.3 73.9 301.1 75.0 301.0 76.1 300.8 77.2 300.7 78.2 300.5 79.3 300.4 80.4 300.2 81.5 300.0 82.5 299.9 83.6 299.7 84.7 299.5 85.8 299.3 86.8 299.1 87.9 299.0 89.0 298.8 90.1 298.6 91.1 298.4 92.2 298.2 93.3 298.0 94.4 297.8 95.4 297.6 96.5 297.4 97.6 297.2 98.7 296.9 99.7 296.7 100.8 296.5 101.9 296.3 103.0 296.0 104.0 295.8 105.1 295.6 106.2 295.3 107.3 295.1 108.3 294.8 109.4 294.6 110.5 294.3 111.6 294.1 112.6 293.8 113.7 293.5 114.8 293.3 115.9 293.0 116.9 292.7 118.0 292.5 119.1 292.2 120.2 291.9 121.2 291.6 122.3 291.3 123.4 291.0 124.5 290.7 125.5 290.4 126.6 290.1 127.7 289.8 128.8 289.5 129.8 289.2 130.9 288.9 132.0 288.6 133.1 288.2 134.1 287.9 135.2 287.6 136.3 287.2 137.4 286.9 138.4 286.6 139.5 286.2 140.6 285.9 141.7 285.5 142.7 285.2 143.8 284.8 144.9 284.5 146.0 284.1 147.0 283.7 148.1 283.3 149.2 283.0 150.3 282.6 151.3 282.2 152.4 281.8 153.5 281.4 154.6 281.0 155.6 280.7 156.7 280.3 157.8 279.9 158.9 279.4 159.9 279.0 161.0 278.6 162.1 278.2 163.2 277.8 164.2 277.4 165.3 276.9 166.4 276.5 167.5 276.1 168.5 275.6 169.6 275.2 170.7 274.7 171.8 274.3 172.8 273.8 173.9 273.3 175.0 272.9 176.1 272.4 177.1 271.9 178.2 271.4 179.3 271.0 180.4 270.5 181.4 270.0 182.5 269.5 183.6 269.0 184.7 268.5 185.7 267.9 186.8 267.4 187.9 266.9 189.0 266.4 190.0 265.8 191.1 265.3 192.2 264.7 193.3 264.1 194.3 263.6 195.4 263.0 196.5 262.4 197.6 261.8 198.6 261.2 199.7 260.6 200.8 260.0 201.9 259.3 202.9 258.7 204.0 258.0 205.1 257.4 206.2 256.7 207.2 256.0 208.3 255.3 209.4 254.6 210.5 254.2 211.0 253.8 211.5 253.4 212.1 253.1 212.6 252.7 213.2 252.3 213.7 251.9 214.2 251.5 214.8 251.1 215.3 250.7 215.8 250.3 216.4 249.9 216.9 249.4 217.5 249.0 218.0 248.6 218.5 248.1 219.1 247.7 219.6 247.2 220.1 246.8 220.7 246.3 221.2 245.8 221.8 245.3 222.3 244.8 222.8 244.3 223.4 243.8 223.9 243.3 224.4 242.8 225.0 242.3 225.5 241.7 226.1 241.2 226.6 240.6 227.1 240.0 227.7 239.4 228.2 238.8 228.7 238.2 229.3 237.6 229.8 237.0 230.4 236.3 230.9 235.7 231.4 235.0 232.0 234.3 232.5 233.6 233.0 232.9 233.6 232.2 234.1 231.5 234.7 230.7 235.2 229.9 235.7 229.1 236.3 228.3 236.8 227.5 237.3 226.6 237.9 225.8 238.4 224.9 239.0 224.0 239.5 223.0 240.0 222.1 240.6 221.1 241.1 220.1 241.6 219.1 242.2 218.0 242.7 216.9 243.3 215.8 243.8 214.7 244.3 213.6 244.9 212.5 245.4 211.4 245.9 210.3 246.5 209.1 247.0 208.0 247.6 206.9 248.1 205.8 248.6 204.7 249.2 203.6 249.7 202.4 250.2 201.3 250.8 200.2 251.3 199.1 251.9 198.0 252.4 196.8 252.9 195.7 253.5 194.6 254.0 193.5 254.5 192.3 255.1 191.2 255.6" stroke="#454545" stroke-width="0.9"/>
<path d="M303.3 53.5 303.3 54.6 303.2 55.7 303.1 56.7 303.0 57.8 302.9 58.9 302.8 60.0" stroke="#1634f8" stroke-width="1.4" stroke-dasharray="1.2 2.8"/>
<path d="M302.8 60.0 302.7 61.0 302.6 62.1 302.5 63.2 302.4 64.3 302.3 65.3 302.2 66.4 302.0 67.5 301.9 68.6 301.8 69.6 301.7 70.7 301.5 71.8 301.4 72.9 301.3 73.9 301.1 75.0 301.0 76.1 300.8 77.2 300.7 78.2 300.5 79.3 300.4 80.4 300.2 81.5 300.0 82.5 299.9 83.6 299.7 84.7 299.5 85.8 299.3 86.8 299.1 87.9 299.0 89.0 298.8 90.1 298.6 91.1 298.4 92.2 298.2 93.3 298.0 94.4 297.8 95.4 297.6 96.5 297.4 97.6 297.2 98.7 296.9 99.7 296.7 100.8 296.5 101.9 296.3 103.0 296.0 104.0 295.8 105.1 295.6 106.2 295.3 107.3 295.1 108.3" stroke="#1432fa" stroke-width="1.4" stroke-dasharray="1.2 2.8"/>
<path d="M295.1 108.3 294.8 109.4 294.6 110.5 294.3 111.6 294.1 112.6 293.8 113.7 293.5 114.8 293.3 115.9 293.0 116.9 292.7 118.0 292.5 119.1 292.2 120.2 291.9 121.2 291.6 122.3 291.3 123.4 291.0 124.5 290.7 125.5 290.4 126.6 290.1 127.7 289.8 128.8 289.5 129.8 289.2 130.9 288.9 132.0 288.6 133.1 288.2 134.1 287.9 135.2 287.6 136.3 287.2 137.4 286.9 138.4 286.6 139.5 286.2 140.6 285.9 141.7 285.5 142.7 285.2 143.8 284.8 144.9 284.5 146.0" stroke="#1e46fa" stroke-width="1.4" stroke-dasharray="1.2 2.8"/>
<path d="M284.5 146.0 284.1 147.0 283.7 148.1 283.3 149.2 283.0 150.3 282.6 151.3 282.2 152.4 281.8 153.5 281.4 154.6 281.0 155.6 280.7 156.7 280.3 157.8 279.9 158.9 279.4 159.9 279.0 161.0 278.6 162.1 278.2 163.2" stroke="#285afa" stroke-width="1.4" stroke-dasharray="1.2 2.8"/>
<path d="M278.2 163.2 277.8 164.2 277.4 165.3 276.9 166.4 276.5 167.5 276.1 168.5 275.6 169.6 275.2 170.7 274.7 171.8 274.3 172.8 273.8 173.9 273.3 175.0 272.9 176.1 272.4 177.1 271.9 178.2 271.4 179.3 271.0 180.4 270.5 181.4" stroke="#285afa" stroke-width="1.4" stroke-dasharray="1.8 2.2"/>
<path d="M270.5 181.4 270.0 182.5 269.5 183.6 269.0 184.7 268.5 185.7 267.9 186.8 267.4 187.9 266.9 189.0 266.4 190.0" stroke="#377df5" stroke-width="1.4" stroke-dasharray="1.8 2.2"/>
<path d="M266.4 190.0 265.8 191.1 265.3 192.2 264.7 193.3 264.1 194.3 263.6 195.4 263.0 196.5 262.4 197.6 261.8 198.6 261.2 199.7 260.6 200.8 260.0 201.9 259.3 202.9 258.7 204.0 258.0 205.1 257.4 206.2 256.7 207.2 256.0 208.3 255.3 209.4 254.6 210.5 254.2 211.0 253.8 211.5 253.4 212.1 253.1 212.6 252.7 213.2 252.3 213.7" stroke="#377df5" stroke-width="1.4" stroke-dasharray="2.4 1.6"/>
<path d="M252.3 213.7 251.9 214.2 251.5 214.8 251.1 215.3 250.7 215.8 250.3 216.4 249.9 216.9 249.4 217.5 249.0 218.0 248.6 218.5 248.1 219.1 247.7 219.6 247.2 220.1 246.8 220.7 246.3 221.2" stroke="#46a0f0" stroke-width="1.4" stroke-dasharray="2.4 1.6"/>
<path d="M246.3 221.2 245.8 221.8 245.3 222.3 244.8 222.8 244.3 223.4 243.8 223.9 243.3 224.4 242.8 225.0 242.3 225.5 241.7 226.1 241.2 226.6 240.6 227.1 240.0 227.7 239.4 228.2 238.8 228.7 238.2 229.3 237.6 229.8 237.0 230.4 236.3 230.9 235.7 231.4 235.0 232.0 234.3 232.5 233.6 233.0 232.9 233.6 232.2 234.1 231.5 234.7 230.7 235.2 229.9 235.7 229.1 236.3 228.3 236.8 227.5 237.3 226.6 237.9 225.8 238.4 224.9 239.0 224.0 239.5 223.0 240.0 222.1 240.6 221.1 241.1 220.1 241.6 219.1 242.2 218.0 242.7 216.9 243.3 215.8 243.8 214.7 244.3" stroke="#46a0f0" stroke-width="1.4" stroke-dasharray="3.2 0.8"/>
<path d="M214.7 244.3 213.6 244.9 212.5 245.4 211.4 245.9 210.3 246.5 209.1 247.0 208.0 247.6 206.9 248.1 205.8 248.6" stroke="#4bc6e8" stroke-width="1.4" stroke-dasharray="3.2 0.8"/>
<path d="M205.8 248.6 204.7 249.2 203.6 249.7 202.4 250.2 201.3 250.8 200.2 251.3 199.1 251.9" stroke="#50ebe1" stroke-width="1.4" stroke-dasharray="3.2 0.8"/>
<path d="M199.1 251.9 198.0 252.4 196.8 252.9 195.7 253.5 194.6 254.0 193.5 254.5" stroke="#5febc8" stroke-width="1.4" stroke-dasharray="3.2 0.8"/>
<path d="M193.5 254.5 192.3 255.1 191.2 255.6" stroke="#6eebaf" stroke-width="1.4" stroke-dasharray="3.2 0.8"/>
<path d="M292.3 56.7 292.2 57.8 292.1 58.9 292.0 60.0 291.9 61.0 291.8 62.1 291.7 63.2 291.6 64.3 291.5 65.3 291.4 66.4 291.2 67.5 291.1 68.6 291.0 69.6 290.9 70.7 290.7 71.8 290.6 72.9 290.5 73.9 290.3 75.0 290.2 76.1 290.0 77.2 289.9 78.2 289.7 79.3 289.6 80.4 289.4 81.5 289.3 82.5 289.1 83.6 288.9 84.7 288.8 85.8 288.6 86.8 288.4 87.9 288.3 89.0 288.1 90.1 287.9 91.1 287.7 92.2 287.5 93.3 287.3 94.4 287.1 95.4 286.9 96.5 286.7 97.6 286.5 98.7 286.3 99.7 286.1 100.8 285.9 101.9 285.6 103.0 285.4 104.0 285.2 105.1 285.0 106.2 284.7 107.3 284.5 108.3 284.3 109.4 284.0 110.5 283.8 111.6 283.5 112.6 283.3 113.7 283.0 114.8 282.8 115.9 282.5 116.9 282.2 118.0 282.0 119.1 281.7 120.2 281.4 121.2 281.2 122.3 280.9 123.4 280.6 124.5 280.3 125.5 280.0 126.6 279.7 127.7 279.4 128.8 279.1 129.8 278.8 130.9 278.5 132.0 278.2 133.1 277.9 134.1 277.6 135.2 277.3 136.3 277.0 137.4 276.7 138.4 276.3 139.5 276.0 140.6 275.7 141.7 275.3 142.7 275.0 143.8 274.6 144.9 274.3 146.0 274.0 147.0 273.6 148.1 273.2 149.2 272.9 150.3 272.5 151.3 272.2 152.4 271.8 153.5 271.4 154.6 271.0 155.6 270.7 156.7 270.3 157.8 269.9 158.9 269.5 159.9 269.1 161.0 268.7 162.1 268.3 163.2 267.9 164.2 267.5 165.3 267.1 166.4 266.7 167.5 266.3 168.5 265.8 169.6 265.4 170.7 265.0 171.8 264.5 172.8 264.1 173.9 263.7 175.0 263.2 176.1 262.8 177.1 262.3 178.2 261.8 179.3 261.4 180.4 260.9 181.4 260.4 182.5 260.0 183.6 259.5 184.7 259.0 185.7 258.5 186.8 258.0 187.9 257.5 189.0 257.0 190.0 256.5 191.1 255.9 192.2 255.4 193.3 254.9 194.3 254.3 195.4 253.8 196.5 253.2 197.6 252.6 198.6 252.1 199.7 251.5 200.8 250.9 201.9 250.3 202.9 249.7 204.0 249.0 205.1 248.4 206.2 247.8 207.2 247.1 208.3 246.4 209.4 245.7 210.5 245.0 211.5 244.3 212.6 243.9 213.1 243.6 213.7 243.2 214.2 242.8 214.8 242.4 215.3 242.0 215.8 241.6 216.4 241.3 216.9 240.8 217.4 240.4 218.0 240.0 218.5 239.6 219.1 239.2 219.6 238.7 220.1 238.3 220.7 237.9 221.2 237.4 221.7 236.9 222.3 236.5 222.8 236.0 223.4 235.5 223.9 235.0 224.4 234.5 225.0 234.0 225.5 233.5 226.0 233.0 226.6 232.5 227.1 231.9 227.7 231.4 228.2 230.8 228.7 230.2 229.3 229.6 229.8 229.0 230.3 228.4 230.9 227.8 231.4 227.2 232.0 226.5 232.5 225.9 233.0 225.2 233.6 224.5 234.1 223.8 234.6 223.1 235.2 222.4 235.7 221.6 236.3 220.8 236.8 220.1 237.3 219.3 237.9 218.4 238.4 217.6 238.9 216.7 239.5 215.8 240.0 214.9 240.6 214.0 241.1 213.1 241.6 212.1 242.2 211.1 242.7 210.1 243.2 209.1 243.8 208.1 244.3 207.2 244.9 206.2 245.4 205.3 245.9 204.3 246.5 203.3 247.0 202.3 247.5 201.4 248.1 200.4 248.6 199.4 249.2 198.5 249.7 197.5 250.2 196.5 250.8 195.6 251.3 194.6 251.8 193.6 252.4 192.6 252.9 191.7 253.5 190.7 254.0 189.7 254.5 188.7 255.1 187.7 255.6 186.8 256.1 185.8 256.7" stroke="#454545" stroke-width="0.9"/>
<path d="M292.3 56.7 292.2 57.8 292.1 58.9 292.0 60.0 291.9 61.0 291.8 62.1 291.7 63.2 291.6 64.3 291.5 65.3 291.4 66.4 291.2 67.5 291.1 68.6 291.0 69.6 290.9 70.7 290.7 71.8 290.6 72.9 290.5 73.9 290.3 75.0 290.2 76.1 290.0 77.2 289.9 78.2 289.7 79.3 289.6 80.4 289.4 81.5 289.3 82.5 289.1 83.6 288.9 84.7 288.8 85.8 288.6 86.8 288.4 87.9 288.3 89.0 288.1 90.1 287.9 91.1 287.7 92.2 287.5 93.3 287.3 94.4 287.1 95.4 286.9 96.5 286.7 97.6 286.5 98.7" stroke="#1432fa" stroke-width="1.4" stroke-dasharray="1.2 2.8"/>
<path d="M286.5 98.7 286.3 99.7 286.1 100.8 285.9 101.9 285.6 103.0 285.4 104.0 285.2 105.1 285.0 106.2 284.7 107.3 284.5 108.3 284.3 109.4 284.0 110.5 283.8 111.6 283.5 112.6 283.3 113.7 283.0 114.8 282.8 115.9 282.5 116.9 282.2 118.0 282.0 119.1 281.7 120.2 281.4 121.2 281.2 122.3 280.9 123.4 280.6 124.5 280.3 125.5 280.0 126.6 279.7 127.7 279.4 128.8 279.1 129.8 278.8 130.9 278.5 132.0 278.2 133.1 277.9 134.1 277.6 135.2 277.3 136.3" stroke="#1e46fa" stroke-width="1.4" stroke-dasharray="1.2 2.8"/>
<path d="M277.3 136.3 277.0 137.4 276.7 138.4 276.3 139.5 276.0 140.6 275.7 141.7 275.3 142.7 275.0 143.8 274.6 144.9 274.3 146.0 274.0 147.0 273.6 148.1 273.2 149.2 272.9 150.3 272.5 151.3 272.2 152.4 271.8 153.5 271.4 154.6 271.0 155.6 270.7 156.7 270.3 157.8 269.9 158.9 269.5 159.9" stroke="#285afa" stroke-width="1.4" stroke-dasharray="1.2 2.8"/>
<path d="M269.5 159.9 269.1 161.0 268.7 162.1 268.3 163.2 267.9 164.2 267.5 165.3 267.1 166.4 266.7 167.5 266.3 168.5 265.8 169.6" stroke="#285afa" stroke-width="1.4" stroke-dasharray="1.8 2.2"/>
<path d="M265.8 169.6 265.4 170.7 265.0 171.8 264.5 172.8 264.1 173.9 263.7 175.0 263.2 176.1 262.8 177.1 262.3 178.2 261.8 179.3 261.4 180.4 260.9 181.4 260.4 182.5 260.0 183.6 259.5 184.7 259.0 185.7 258.5 186.8" stroke="#377df5" stroke-width="1.4" stroke-dasharray="1.8 2.2"/>
<path d="M258.5 186.8 258.0 187.9 257.5 189.0 257.0 190.0 256.5 191.1 255.9 192.2 255.4 193.3 254.9 194.3 254.3 195.4 253.8 196.5 253.2 197.6 252.6 198.6 252.1 199.7 251.5 200.8" stroke="#377df5" stroke-width="1.4" stroke-dasharray="2.4 1.6"/>
<path d="M251.5 200.8 250.9 201.9 250.3 202.9 249.7 204.0 249.0 205.1 248.4 206.2 247.8 207.2 247.1 208.3 246.4 209.4 245.7 210.5 245.0 211.5 244.3 212.6 243.9 213.1 243.6 213.7 243.2 214.2 242.8 214.8 242.4 215.3 242.0 215.8 241.6 216.4 241.3 216.9 240.8 217.4 240.4 218.0 240.0 218.5" stroke="#46a0f0" stroke-width="1.4" stroke-dasharray="2.4 1.6"/>
<path d="M240.0 218.5 239.6 219.1 239.2 219.6 238.7 220.1 238.3 220.7 237.9 221.2 237.4 221.7 236.9 222.3 236.5 222.8 236.0 223.4 235.5 223.9 235.0 224.4 234.5 225.0 234.0 225.5 233.5 226.0 233.0 226.6 232.5 227.1 231.9 227.7 231.4 228.2 230.8 228.7 230.2 229.3 229.6 229.8 229.0 230.3 228.4 230.9" stroke="#46a0f0" stroke-width="1.4" stroke-dasharray="3.2 0.8"/>
<path d="M228.4 230.9 227.8 231.4 227.2 232.0 226.5 232.5 225.9 233.0 225.2 233.6 224.5 234.1 223.8 234.6 223.1 235.2 222.4 235.7 221.6 236.3 220.8 236.8 220.1 237.3 219.3 237.9 218.4 238.4 217.6 238.9 216.7 239.5 215.8 240.0 214.9 240.6 214.0 241.1 213.1 241.6 212.1 242.2 211.1 242.7 210.1 243.2 209.1 243.8 208.1 244.3 207.2 244.9 206.2 245.4 205.3 245.9 204.3 246.5 203.3 247.0 202.3 247.5" stroke="#4bc6e8" stroke-width="1.4" stroke-dasharray="3.2 0.8"/>
<path d="M202.3 247.5 201.4 248.1 200.4 248.6 199.4 249.2 198.5 249.7 197.5 250.2 196.5 250.8" stroke="#50ebe1" stroke-width="1.4" stroke-dasharray="3.2 0.8"/>
<path d="M196.5 250.8 195.6 251.3 194.6 251.8 193.6 252.4 192.6 252.9 191.7 253.5 190.7 254.0" stroke="#5febc8" stroke-width="1.4" stroke-dasharray="3.2 0.8"/>
<path d="M190.7 254.0 189.7 254.5" stroke="#6eebaf" stroke-width="1.4" stroke-dasharray="3.2 0.8"/>
<path d="M189.7 254.5 188.7 255.1 187.7 255.6 186.8 256.1 185.8 256.7" stroke="#6eebaf" stroke-width="1.4"/>
<path d="M281.3 59.9 281.2 61.0 281.1 62.1 281.0 63.1 280.9 64.2 280.8 65.3 280.7 66.4 280.6 67.4 280.4 68.5 280.3 69.6 280.2 70.7 280.1 71.7 279.9 72.8 279.8 73.9 279.7 75.0 279.5 76.0 279.4 77.1 279.3 78.2 279.1 79.3 279.0 80.3 278.8 81.4 278.7 82.5 278.5 83.6 278.3 84.6 278.2 85.7 278.0 86.8 277.8 87.9 277.7 88.9 277.5 90.0 277.3 91.1 277.1 92.2 276.9 93.2 276.7 94.3 276.6 95.4 276.4 96.5 276.2 97.5 276.0 98.6 275.8 99.7 275.6 100.8 275.3 101.8 275.1 102.9 274.9 104.0 274.7 105.1 274.5 106.1 274.3 107.2 274.0 108.3 273.8 109.4 273.6 110.4 273.3 111.5 273.1 112.6 272.9 113.7 272.6 114.7 272.4 115.8 272.1 116.9 271.9 118.0 271.6 119.0 271.3 120.1 271.1 121.2 270.8 122.3 270.5 123.3 270.3 124.4 270.0 125.5 269.7 126.6 269.4 127.6 269.2 128.7 268.9 129.8 268.6 130.9 268.3 131.9 268.0 133.0 267.7 134.1 267.4 135.2 267.1 136.2 266.8 137.3 266.5 138.4 266.2 139.5 265.8 140.5 265.5 141.6 265.2 142.7 264.9 143.8 264.5 144.8 264.2 145.9 263.9 147.0 263.5 148.1 263.2 149.1 262.9 150.2 262.5 151.3 262.2 152.4 261.8 153.4 261.4 154.5 261.1 155.6 260.7 156.7 260.4 157.7 260.0 158.8 259.6 159.9 259.2 161.0 258.9 162.0 258.5 163.1 258.1 164.2 257.7 165.3 257.3 166.3 256.9 167.4 256.5 168.5 256.1 169.6 255.7 170.6 255.3 171.7 254.9 172.8 254.4 173.9 254.0 174.9 253.6 176.0 253.2 177.1 252.7 178.2 252.3 179.2 251.8 180.3 251.4 181.4 250.9 182.5 250.5 183.5 250.0 184.6 249.5 185.7 249.1 186.8 248.6 187.8 248.1 188.9 247.6 190.0 247.1 191.1 246.6 192.1 246.1 193.2 245.6 194.3 245.1 195.4 244.6 196.4 244.0 197.5 243.5 198.6 242.9 199.7 242.4 200.7 241.8 201.8 241.2 202.9 240.7 204.0 240.1 205.0 239.5 206.1 238.8 207.2 238.2 208.3 237.6 209.3 236.9 210.4 236.2 211.5 235.6 212.6 234.9 213.6 234.1 214.7 233.8 215.3 233.4 215.8 233.0 216.3 232.7 216.9 232.3 217.4 231.9 217.9 231.5 218.5 231.1 219.0 230.7 219.6 230.3 220.1 229.9 220.6 229.5 221.2 229.0 221.7 228.6 222.2 228.1 222.8 227.7 223.3 227.2 223.9 226.8 224.4 226.3 224.9 225.8 225.5 225.3 226.0 224.9 226.5 224.4 227.1 223.8 227.6 223.3 228.2 222.8 228.7 222.2 229.2 221.7 229.8 221.1 230.3 220.6 230.8 220.0 231.4 219.4 231.9 218.8 232.5 218.2 233.0 217.5 233.5 216.9 234.1 216.2 234.6 215.5 235.1 214.8 235.7 214.1 236.2 213.4 236.8 212.7 237.3 211.9 237.8 211.2 238.4 210.4 238.9 209.6 239.4 208.7 240.0 207.9 240.5 207.0 241.1 206.1 241.6 205.2 242.1 204.3 242.7 203.3 243.2 202.5 243.7 201.7 244.3 200.9 244.8 200.0 245.4 199.2 245.9 198.4 246.4 197.6 247.0 196.7 247.5 195.9 248.0 195.1 248.6 194.3 249.1 193.4 249.7 192.6 250.2 191.8 250.7 191.0 251.3 190.1 251.8 189.3 252.3 188.5 252.9 187.6 253.4 186.8 254.0 186.0 254.5 185.1 255.0 184.3 255.6 183.5 256.1 182.6 256.6 181.8 257.2" stroke="#454545" stroke-width="0.9"/>
<path d="M281.3 59.9 281.2 61.0 281.1 62.1 281.0 63.1 280.9 64.2 280.8 65.3 280.7 66.4 280.6 67.4 280.4 68.5 280.3 69.6 280.2 70.7 280.1 71.7 279.9 72.8 279.8 73.9 279.7 75.0 279.5 76.0 279.4 77.1 279.3 78.2 279.1 79.3 279.0 80.3 278.8 81.4 278.7 82.5 278.5 83.6 278.3 84.6 278.2 85.7 278.0 86.8 277.8 87.9 277.7 88.9 277.5 90.0" stroke="#1432fa" stroke-width="1.4" stroke-dasharray="1.2 2.8"/>
<path d="M277.5 90.0 277.3 91.1 277.1 92.2 276.9 93.2 276.7 94.3 276.6 95.4 276.4 96.5 276.2 97.5 276.0 98.6 275.8 99.7 275.6 100.8 275.3 101.8 275.1 102.9 274.9 104.0 274.7 105.1 274.5 106.1 274.3 107.2 274.0 108.3 273.8 109.4 273.6 110.4 273.3 111.5 273.1 112.6 272.9 113.7 272.6 114.7 272.4 115.8 272.1 116.9 271.9 118.0 271.6 119.0 271.3 120.1 271.1 121.2 270.8 122.3 270.5 123.3 270.3 124.4 270.0 125.5 269.7 126.6 269.4 127.6" stroke="#1e46fa" stroke-width="1.4" stroke-dasharray="1.2 2.8"/>
<path d="M269.4 127.6 269.2 128.7 268.9 129.8 268.6 130.9 268.3 131.9 268.0 133.0 267.7 134.1 267.4 135.2 267.1 136.2 266.8 137.3 266.5 138.4 266.2 139.5 265.8 140.5 265.5 141.6 265.2 142.7 264.9 143.8 264.5 144.8 264.2 145.9 263.9 147.0 263.5 148.1 263.2 149.1 262.9 150.2 262.5 151.3 262.2 152.4 261.8 153.4 261.4 154.5 261.1 155.6 260.7 156.7 260.4 157.7" stroke="#285afa" stroke-width="1.4" stroke-dasharray="1.2 2.8"/>
<path d="M260.4 157.7 260.0 158.8 259.6 159.9" stroke="#285afa" stroke-width="1.4" stroke-dasharray="1.8 2.2"/>
<path d="M259.6 159.9 259.2 161.0 258.9 162.0 258.5 163.1 258.1 164.2 257.7 165.3 257.3 166.3 256.9 167.4 256.5 168.5 256.1 169.6 255.7 170.6 255.3 171.7 254.9 172.8 254.4 173.9 254.0 174.9 253.6 176.0 253.2 177.1 252.7 178.2 252.3 179.2 251.8 180.3 251.4 181.4 250.9 182.5 250.5 183.5 250.0 184.6" stroke="#377df5" stroke-width="1.4" stroke-dasharray="1.8 2.2"/>
<path d="M250.0 184.6 249.5 185.7 249.1 186.8 248.6 187.8 248.1 188.9 247.6 190.0" stroke="#377df5" stroke-width="1.4" stroke-dasharray="2.4 1.6"/>
<path d="M247.6 190.0 247.1 191.1 246.6 192.1 246.1 193.2 245.6 194.3 245.1 195.4 244.6 196.4 244.0 197.5 243.5 198.6 242.9 199.7 242.4 200.7 241.8 201.8 241.2 202.9 240.7 204.0 240.1 205.0 239.5 206.1 238.8 207.2 238.2 208.3 237.6 209.3 236.9 210.4 236.2 211.5 235.6 212.6 234.9 213.6 234.1 214.7 233.8 215.3 233.4 215.8" stroke="#46a0f0" stroke-width="1.4" stroke-dasharray="2.4 1.6"/>
<path d="M233.4 215.8 233.0 216.3 232.7 216.9 232.3 217.4 231.9 217.9 231.5 218.5" stroke="#46a0f0" stroke-width="1.4" stroke-dasharray="3.2 0.8"/>
<path d="M231.5 218.5 231.1 219.0 230.7 219.6 230.3 220.1 229.9 220.6 229.5 221.2 229.0 221.7 228.6 222.2 228.1 222.8 227.7 223.3 227.2 223.9 226.8 224.4 226.3 224.9 225.8 225.5 225.3 226.0 224.9 226.5 224.4 227.1 223.8 227.6 223.3 228.2 222.8 228.7 222.2 229.2 221.7 229.8 221.1 230.3 220.6 230.8 220.0 231.4 219.4 231.9 218.8 232.5 218.2 233.0 217.5 233.5 216.9 234.1 216.2 234.6 215.5 235.1 214.8 235.7 214.1 236.2 213.4 236.8 212.7 237.3 211.9 237.8 211.2 238.4 210.4 238.9 209.6 239.4 208.7 240.0 207.9 240.5 207.0 241.1 206.1 241.6 205.2 242.1 204.3 242.7 203.3 243.2 202.5 243.7 201.7 244.3 200.9 244.8 200.0 245.4 199.2 245.9" stroke="#4bc6e8" stroke-width="1.4" stroke-dasharray="3.2 0.8"/>
<path d="M199.2 245.9 198.4 246.4 197.6 247.0 196.7 247.5 195.9 248.0 195.1 248.6 194.3 249.1 193.4 249.7" stroke="#50ebe1" stroke-width="1.4" stroke-dasharray="3.2 0.8"/>
<path d="M193.4 249.7 192.6 250.2 191.8 250.7 191.0 251.3 190.1 251.8" stroke="#5febc8" stroke-width="1.4" stroke-dasharray="3.2 0.8"/>
<path d="M190.1 251.8 189.3 252.3 188.5 252.9" stroke="#5febc8" stroke-width="1.4"/>
<path d="M188.5 252.9 187.6 253.4 186.8 254.0 186.0 254.5 185.1 255.0 184.3 255.6 183.5 256.1" stroke="#6eebaf" stroke-width="1.4"/>
<path d="M183.5 256.1 182.6 256.6 181.8 257.2" stroke="#69eb98" stroke-width="1.4"/>
<path d="M269.5 63.6 269.4 64.7 269.3 65.7 269.2 66.8 269.1 67.9 269.0 69.0 268.9 70.0 268.7 71.1 268.6 72.2 268.5 73.3 268.4 74.3 268.2 75.4 268.1 76.5 268.0 77.6 267.8 78.6 267.7 79.7 267.5 80.8 267.4 81.9 267.2 82.9 267.1 84.0 266.9 85.1 266.7 86.2 266.6 87.2 266.4 88.3 266.2 89.4 266.1 90.5 265.9 91.5 265.7 92.6 265.5 93.7 265.4 94.8 265.2 95.8 265.0 96.9 264.8 98.0 264.6 99.1 264.4 100.1 264.2 101.2 264.0 102.3 263.8 103.4 263.6 104.4 263.4 105.5 263.2 106.6 262.9 107.7 262.7 108.7 262.5 109.8 262.3 110.9 262.0 112.0 261.8 113.0 261.6 114.1 261.3 115.2 261.1 116.3 260.9 117.3 260.6 118.4 260.4 119.5 260.1 120.6 259.9 121.6 259.6 122.7 259.4 123.8 259.1 124.9 258.8 125.9 258.6 127.0 258.3 128.1 258.0 129.2 257.7 130.2 257.5 131.3 257.2 132.4 256.9 133.5 256.6 134.5 256.3 135.6 256.0 136.7 255.7 137.8 255.4 138.8 255.1 139.9 254.8 141.0 254.5 142.1 254.2 143.1 253.9 144.2 253.6 145.3 253.3 146.4 252.9 147.4 252.6 148.5 252.3 149.6 252.0 150.7 251.6 151.7 251.3 152.8 250.9 153.9 250.6 155.0 250.3 156.0 249.9 157.1 249.6 158.2 249.2 159.3 248.8 160.3 248.5 161.4 248.1 162.5 247.8 163.6 247.4 164.6 247.0 165.7 246.6 166.8 246.3 167.9 245.9 168.9 245.5 170.0 245.1 171.1 244.7 172.2 244.3 173.2 243.9 174.3 243.5 175.4 243.1 176.5 242.7 177.5 242.3 178.6 241.8 179.7 241.4 180.8 241.0 181.8 240.5 182.9 240.1 184.0 239.7 185.1 239.2 186.1 238.8 187.2 238.3 188.3 237.8 189.4 237.4 190.4 236.9 191.5 236.4 192.6 235.9 193.7 235.5 194.7 235.0 195.8 234.5 196.9 233.9 198.0 233.4 199.0 232.9 200.1 232.4 201.2 231.8 202.3 231.3 203.3 230.7 204.4 230.2 205.5 229.6 206.6 229.0 207.6 228.4 208.7 227.8 209.8 227.2 210.9 226.5 211.9 225.9 213.0 225.2 214.1 224.5 215.2 223.8 216.2 223.1 217.3 222.7 217.8 222.4 218.4 222.0 218.9 221.6 219.5 221.2 220.0 220.9 220.5 220.5 221.1 220.1 221.6 219.6 222.1 219.2 222.7 218.8 223.2 218.4 223.8 218.0 224.3 217.5 224.8 217.1 225.4 216.6 225.9 216.1 226.4 215.7 227.0 215.2 227.5 214.7 228.1 214.2 228.6 213.7 229.1 213.2 229.7 212.7 230.2 212.1 230.7 211.6 231.3 211.0 231.8 210.5 232.4 209.9 232.9 209.3 233.4 208.7 234.0 208.1 234.5 207.5 235.0 206.8 235.6 206.2 236.1 205.5 236.7 204.8 237.2 204.1 237.7 203.4 238.3 202.7 238.8 201.9 239.3 201.1 239.9 200.4 240.4 199.6 241.0 198.7 241.5 197.9 242.0 197.0 242.6 196.1 243.1 195.2 243.6 194.5 244.2 193.9 244.7 193.2 245.3 192.5 245.8 191.8 246.3 191.1 246.9 190.4 247.4 189.8 247.9 189.1 248.5 188.4 249.0 187.7 249.6 187.0 250.1 186.3 250.6 185.6 251.2 185.0 251.7 184.3 252.2 183.6 252.8 182.9 253.3 182.2 253.9 181.5 254.4 180.8 254.9 180.1 255.5 179.4 256.0 178.7 256.5 178.0 257.1 177.3 257.6 176.6 258.2" stroke="#454545" stroke-width="0.9"/>
<path d="M269.5 63.6 269.4 64.7 269.3 65.7 269.2 66.8 269.1 67.9 269.0 69.0 268.9 70.0 268.7 71.1 268.6 72.2 268.5 73.3 268.4 74.3 268.2 75.4 268.1 76.5 268.0 77.6 267.8 78.6 267.7 79.7 267.5 80.8 267.4 81.9" stroke="#1432fa" stroke-width="1.4" stroke-dasharray="1.2 2.8"/>
<path d="M267.4 81.9 267.2 82.9 267.1 84.0 266.9 85.1 266.7 86.2 266.6 87.2 266.4 88.3 266.2 89.4 266.1 90.5 265.9 91.5 265.7 92.6 265.5 93.7 265.4 94.8 265.2 95.8 265.0 96.9 264.8 98.0 264.6 99.1 264.4 100.1 264.2 101.2 264.0 102.3 263.8 103.4 263.6 104.4 263.4 105.5 263.2 106.6 262.9 107.7 262.7 108.7 262.5 109.8 262.3 110.9 262.0 112.0 261.8 113.0 261.6 114.1 261.3 115.2 261.1 116.3 260.9 117.3 260.6 118.4 260.4 119.5" stroke="#1e46fa" stroke-width="1.4" stroke-dasharray="1.2 2.8"/>
<path d="M260.4 119.5 260.1 120.6 259.9 121.6 259.6 122.7 259.4 123.8 259.1 124.9 258.8 125.9 258.6 127.0 258.3 128.1 258.0 129.2 257.7 130.2 257.5 131.3 257.2 132.4 256.9 133.5 256.6 134.5 256.3 135.6 256.0 136.7 255.7 137.8 255.4 138.8 255.1 139.9 254.8 141.0 254.5 142.1 254.2 143.1 253.9 144.2 253.6 145.3 253.3 146.4 252.9 147.4 252.6 148.5 252.3 149.6 252.0 150.7 251.6 151.7" stroke="#285afa" stroke-width="1.4" stroke-dasharray="1.2 2.8"/>
<path d="M251.6 151.7 251.3 152.8 250.9 153.9 250.6 155.0" stroke="#377df5" stroke-width="1.4" stroke-dasharray="1.2 2.8"/>
<path d="M250.6 155.0 250.3 156.0 249.9 157.1 249.6 158.2 249.2 159.3 248.8 160.3 248.5 161.4 248.1 162.5 247.8 163.6 247.4 164.6 247.0 165.7 246.6 166.8 246.3 167.9 245.9 168.9 245.5 170.0 245.1 171.1 244.7 172.2 244.3 173.2 243.9 174.3 243.5 175.4 243.1 176.5 242.7 177.5 242.3 178.6 241.8 179.7 241.4 180.8" stroke="#377df5" stroke-width="1.4" stroke-dasharray="1.8 2.2"/>
<path d="M241.4 180.8 241.0 181.8" stroke="#46a0f0" stroke-width="1.4" stroke-dasharray="1.8 2.2"/>
<path d="M241.0 181.8 240.5 182.9 240.1 184.0 239.7 185.1 239.2 186.1 238.8 187.2 238.3 188.3 237.8 189.4 237.4 190.4 236.9 191.5 236.4 192.6 235.9 193.7 235.5 194.7 235.0 195.8 234.5 196.9 233.9 198.0 233.4 199.0 232.9 200.1 232.4 201.2 231.8 202.3 231.3 203.3 230.7 204.4 230.2 205.5 229.6 206.6 229.0 207.6" stroke="#46a0f0" stroke-width="1.4" stroke-dasharray="2.4 1.6"/>
<path d="M229.0 207.6 228.4 208.7 227.8 209.8 227.2 210.9 226.5 211.9 225.9 213.0" stroke="#4bc6e8" stroke-width="1.4" stroke-dasharray="2.4 1.6"/>
<path d="M225.9 213.0 225.2 214.1 224.5 215.2 223.8 216.2 223.1 217.3 222.7 217.8 222.4 218.4 222.0 218.9 221.6 219.5 221.2 220.0 220.9 220.5 220.5 221.1 220.1 221.6 219.6 222.1 219.2 222.7 218.8 223.2 218.4 223.8 218.0 224.3 217.5 224.8 217.1 225.4 216.6 225.9 216.1 226.4 215.7 227.0 215.2 227.5 214.7 228.1 214.2 228.6 213.7 229.1 213.2 229.7 212.7 230.2 212.1 230.7 211.6 231.3 211.0 231.8 210.5 232.4 209.9 232.9 209.3 233.4 208.7 234.0" stroke="#4bc6e8" stroke-width="1.4" stroke-dasharray="3.2 0.8"/>
<path d="M208.7 234.0 208.1 234.5 207.5 235.0 206.8 235.6 206.2 236.1 205.5 236.7 204.8 237.2 204.1 237.7 203.4 238.3 202.7 238.8 201.9 239.3 201.1 239.9 200.4 240.4 199.6 241.0 198.7 241.5 197.9 242.0 197.0 242.6 196.1 243.1 195.2 243.6 194.5 244.2 193.9 244.7 193.2 245.3 192.5 245.8 191.8 246.3 191.1 246.9 190.4 247.4 189.8 247.9" stroke="#50ebe1" stroke-width="1.4" stroke-dasharray="3.2 0.8"/>
<path d="M189.8 247.9 189.1 248.5 188.4 249.0" stroke="#5febc8" stroke-width="1.4" stroke-dasharray="3.2 0.8"/>
<path d="M188.4 249.0 187.7 249.6 187.0 250.1 186.3 250.6 185.6 251.2 185.0 251.7" stroke="#5febc8" stroke-width="1.4"/>
<path d="M185.0 251.7 184.3 252.2 183.6 252.8 182.9 253.3 182.2 253.9 181.5 254.4 180.8 254.9 180.1 255.5" stroke="#6eebaf" stroke-width="1.4"/>
<path d="M180.1 255.5 179.4 256.0 178.7 256.5 178.0 257.1 177.3 257.6 176.6 258.2" stroke="#69eb98" stroke-width="1.4"/>
<path d="M257.8 67.2 257.7 68.3 257.6 69.4 257.5 70.5 257.4 71.5 257.2 72.6 257.1 73.7 257.0 74.8 256.9 75.8 256.7 76.9 256.6 78.0 256.4 79.1 256.3 80.1 256.2 81.2 256.0 82.3 255.9 83.4 255.7 84.4 255.5 85.5 255.4 86.6 255.2 87.7 255.1 88.7 254.9 89.8 254.7 90.9 254.6 92.0 254.4 93.0 254.2 94.1 254.0 95.2 253.8 96.3 253.7 97.3 253.5 98.4 253.3 99.5 253.1 100.6 252.9 101.6 252.7 102.7 252.5 103.8 252.3 104.9 252.1 105.9 251.9 107.0 251.7 108.1 251.5 109.2 251.2 110.2 251.0 111.3 250.8 112.4 250.6 113.5 250.4 114.5 250.1 115.6 249.9 116.7 249.7 117.8 249.4 118.8 249.2 119.9 248.9 121.0 248.7 122.1 248.4 123.1 248.2 124.2 247.9 125.3 247.7 126.4 247.4 127.4 247.2 128.5 246.9 129.6 246.6 130.7 246.4 131.7 246.1 132.8 245.8 133.9 245.5 135.0 245.3 136.0 245.0 137.1 244.7 138.2 244.4 139.3 244.1 140.3 243.8 141.4 243.5 142.5 243.2 143.6 242.9 144.6 242.6 145.7 242.3 146.8 242.0 147.9 241.7 148.9 241.4 150.0 241.1 151.1 240.7 152.2 240.4 153.2 240.1 154.3 239.8 155.4 239.4 156.5 239.1 157.5 238.8 158.6 238.4 159.7 238.1 160.8 237.7 161.8 237.4 162.9 237.0 164.0 236.7 165.1 236.3 166.1 236.0 167.2 235.6 168.3 235.2 169.4 234.9 170.4 234.5 171.5 234.1 172.6 233.7 173.7 233.3 174.7 232.9 175.8 232.6 176.9 232.2 178.0 231.8 179.0 231.4 180.1 230.9 181.2 230.5 182.3 230.1 183.3 229.7 184.4 229.3 185.5 228.9 186.6 228.4 187.6 228.0 188.7 227.5 189.8 227.1 190.9 226.7 191.9 226.2 193.0 225.7 194.1 225.3 195.2 224.8 196.2 224.3 197.3 223.8 198.4 223.3 199.5 222.8 200.5 222.3 201.6 221.8 202.7 221.3 203.8 220.8 204.8 220.2 205.9 219.7 207.0 219.1 208.1 218.5 209.1 218.0 210.2 217.4 211.3 216.8 212.4 216.1 213.4 215.5 214.5 214.9 215.6 214.2 216.7 213.5 217.7 212.8 218.8 212.1 219.9 211.7 220.4 211.4 221.0 211.0 221.5 210.6 222.0 210.2 222.6 209.8 223.1 209.4 223.6 209.0 224.2 208.6 224.7 208.2 225.3 207.8 225.8 207.3 226.3 206.9 226.9 206.5 227.4 206.0 227.9 205.5 228.5 205.1 229.0 204.6 229.6 204.1 230.1 203.6 230.6 203.1 231.2 202.6 231.7 202.1 232.2 201.5 232.8 201.0 233.3 200.4 233.9 199.9 234.4 199.3 234.9 198.7 235.5 198.1 236.0 197.5 236.5 196.8 237.1 196.2 237.6 195.5 238.2 194.8 238.7 194.1 239.2 193.4 239.8 192.7 240.3 192.0 240.8 191.2 241.4 190.4 241.9 189.6 242.5 188.8 243.0 188.0 243.5 187.4 244.1 186.9 244.6 186.3 245.1 185.7 245.7 185.2 246.2 184.6 246.8 184.1 247.3 183.5 247.8 182.9 248.4 182.4 248.9 181.8 249.4 181.3 250.0 180.7 250.5 180.1 251.1 179.6 251.6 179.0 252.1 178.4 252.7 177.9 253.2 177.3 253.7 176.7 254.3 176.1 254.8 175.6 255.4 175.0 255.9 174.4 256.4 173.9 257.0 173.3 257.5 172.7 258.0 172.1 258.6 171.6 259.1" stroke="#454545" stroke-width="0.9"/>
<path d="M257.8 67.2 257.7 68.3 257.6 69.4 257.5 70.5 257.4 71.5 257.2 72.6 257.1 73.7" stroke="#1432fa" stroke-width="1.4" stroke-dasharray="1.2 2.8"/>
<path d="M257.1 73.7 257.0 74.8 256.9 75.8 256.7 76.9 256.6 78.0 256.4 79.1 256.3 80.1 256.2 81.2 256.0 82.3 255.9 83.4 255.7 84.4 255.5 85.5 255.4 86.6 255.2 87.7 255.1 88.7 254.9 89.8 254.7 90.9 254.6 92.0 254.4 93.0 254.2 94.1 254.0 95.2 253.8 96.3 253.7 97.3 253.5 98.4 253.3 99.5 253.1 100.6 252.9 101.6 252.7 102.7 252.5 103.8 252.3 104.9 252.1 105.9 251.9 107.0 251.7 108.1 251.5 109.2 251.2 110.2 251.0 111.3 250.8 112.4" stroke="#1e46fa" stroke-width="1.4" stroke-dasharray="1.2 2.8"/>
<path d="M250.8 112.4 250.6 113.5 250.4 114.5 250.1 115.6 249.9 116.7 249.7 117.8 249.4 118.8 249.2 119.9 248.9 121.0 248.7 122.1 248.4 123.1 248.2 124.2 247.9 125.3 247.7 126.4 247.4 127.4 247.2 128.5 246.9 129.6 246.6 130.7 246.4 131.7 246.1 132.8 245.8 133.9 245.5 135.0 245.3 136.0 245.0 137.1 244.7 138.2 244.4 139.3 244.1 140.3 243.8 141.4 243.5 142.5 243.2 143.6" stroke="#285afa" stroke-width="1.4" stroke-dasharray="1.2 2.8"/>
<path d="M243.2 143.6 242.9 144.6 242.6 145.7 242.3 146.8 242.0 147.9 241.7 148.9 241.4 150.0 241.1 151.1 240.7 152.2" stroke="#377df5" stroke-width="1.4" stroke-dasharray="1.2 2.8"/>
<path d="M240.7 152.2 240.4 153.2 240.1 154.3 239.8 155.4 239.4 156.5 239.1 157.5 238.8 158.6 238.4 159.7 238.1 160.8 237.7 161.8 237.4 162.9 237.0 164.0 236.7 165.1 236.3 166.1 236.0 167.2 235.6 168.3 235.2 169.4 234.9 170.4 234.5 171.5" stroke="#377df5" stroke-width="1.4" stroke-dasharray="1.8 2.2"/>
<path d="M234.5 171.5 234.1 172.6 233.7 173.7 233.3 174.7 232.9 175.8 232.6 176.9 232.2 178.0 231.8 179.0" stroke="#46a0f0" stroke-width="1.4" stroke-dasharray="1.8 2.2"/>
<path d="M231.8 179.0 231.4 180.1 230.9 181.2 230.5 182.3 230.1 183.3 229.7 184.4 229.3 185.5 228.9 186.6 228.4 187.6 228.0 188.7 227.5 189.8 227.1 190.9 226.7 191.9 226.2 193.0 225.7 194.1 225.3 195.2 224.8 196.2 224.3 197.3 223.8 198.4" stroke="#46a0f0" stroke-width="1.4" stroke-dasharray="2.4 1.6"/>
<path d="M223.8 198.4 223.3 199.5 222.8 200.5 222.3 201.6 221.8 202.7 221.3 203.8 220.8 204.8 220.2 205.9 219.7 207.0 219.1 208.1 218.5 209.1 218.0 210.2" stroke="#4bc6e8" stroke-width="1.4" stroke-dasharray="2.4 1.6"/>
<path d="M218.0 210.2 217.4 211.3 216.8 212.4 216.1 213.4 215.5 214.5 214.9 215.6 214.2 216.7 213.5 217.7 212.8 218.8 212.1 219.9 211.7 220.4 211.4 221.0 211.0 221.5 210.6 222.0 210.2 222.6 209.8 223.1" stroke="#4bc6e8" stroke-width="1.4" stroke-dasharray="3.2 0.8"/>
<path d="M209.8 223.1 209.4 223.6 209.0 224.2 208.6 224.7 208.2 225.3 207.8 225.8 207.3 226.3 206.9 226.9 206.5 227.4 206.0 227.9 205.5 228.5 205.1 229.0 204.6 229.6 204.1 230.1 203.6 230.6 203.1 231.2 202.6 231.7 202.1 232.2 201.5 232.8 201.0 233.3 200.4 233.9 199.9 234.4 199.3 234.9 198.7 235.5 198.1 236.0 197.5 236.5 196.8 237.1 196.2 237.6 195.5 238.2 194.8 238.7 194.1 239.2 193.4 239.8 192.7 240.3 192.0 240.8 191.2 241.4 190.4 241.9 189.6 242.5 188.8 243.0 188.0 243.5 187.4 244.1 186.9 244.6 186.3 245.1 185.7 245.7 185.2 246.2" stroke="#50ebe1" stroke-width="1.4" stroke-dasharray="3.2 0.8"/>
<path d="M185.2 246.2 184.6 246.8 184.1 247.3 183.5 247.8 182.9 248.4 182.4 248.9 181.8 249.4 181.3 250.0 180.7 250.5" stroke="#5febc8" stroke-width="1.4"/>
<path d="M180.7 250.5 180.1 251.1 179.6 251.6 179.0 252.1 178.4 252.7 177.9 253.2 177.3 253.7 176.7 254.3" stroke="#6eebaf" stroke-width="1.4"/>
<path d="M176.7 254.3 176.1 254.8 175.6 255.4 175.0 255.9 174.4 256.4 173.9 257.0 173.3 257.5 172.7 258.0" stroke="#69eb98" stroke-width="1.4"/>
<path d="M172.7 258.0 172.1 258.6 171.6 259.1" stroke="#64eb82" stroke-width="1.4"/>
<path d="M246.5 70.8 246.4 71.9 246.2 73.0 246.1 74.0 246.0 75.1 245.8 76.2 245.7 77.3 245.6 78.3 245.4 79.4 245.3 80.5 245.1 81.6 245.0 82.6 244.9 83.7 244.7 84.8 244.5 85.9 244.4 86.9 244.2 88.0 244.1 89.1 243.9 90.2 243.7 91.2 243.6 92.3 243.4 93.4 243.2 94.5 243.0 95.5 242.9 96.6 242.7 97.7 242.5 98.8 242.3 99.8 242.1 100.9 241.9 102.0 241.7 103.1 241.5 104.1 241.4 105.2 241.1 106.3 240.9 107.4 240.7 108.4 240.5 109.5 240.3 110.6 240.1 111.7 239.9 112.7 239.7 113.8 239.5 114.9 239.2 116.0 239.0 117.0 238.8 118.1 238.5 119.2 238.3 120.3 238.1 121.3 237.8 122.4 237.6 123.5 237.4 124.6 237.1 125.6 236.9 126.7 236.6 127.8 236.4 128.9 236.1 129.9 235.8 131.0 235.6 132.1 235.3 133.2 235.1 134.2 234.8 135.3 234.5 136.4 234.2 137.5 234.0 138.5 233.7 139.6 233.4 140.7 233.1 141.8 232.8 142.8 232.6 143.9 232.3 145.0 232.0 146.1 231.7 147.1 231.4 148.2 231.1 149.3 230.8 150.4 230.5 151.4 230.2 152.5 229.9 153.6 229.5 154.7 229.2 155.7 228.9 156.8 228.6 157.9 228.3 159.0 227.9 160.0 227.6 161.1 227.3 162.2 226.9 163.3 226.6 164.3 226.2 165.4 225.9 166.5 225.6 167.6 225.2 168.6 224.9 169.7 224.5 170.8 224.1 171.9 223.8 172.9 223.4 174.0 223.0 175.1 222.7 176.2 222.3 177.2 221.9 178.3 221.5 179.4 221.1 180.5 220.8 181.5 220.4 182.6 220.0 183.7 219.6 184.8 219.2 185.8 218.8 186.9 218.3 188.0 217.9 189.1 217.5 190.1 217.1 191.2 216.6 192.3 216.2 193.4 215.8 194.4 215.3 195.5 214.9 196.6 214.4 197.7 214.0 198.7 213.5 199.8 213.0 200.9 212.5 202.0 212.0 203.0 211.5 204.1 211.0 205.2 210.5 206.3 210.0 207.3 209.5 208.4 208.9 209.5 208.4 210.6 207.8 211.6 207.2 212.7 206.6 213.8 206.0 214.9 205.4 215.9 204.8 217.0 204.2 218.1 203.5 219.2 202.8 220.2 202.1 221.3 201.4 222.4 201.0 222.9 200.7 223.5 200.3 224.0 199.9 224.5 199.5 225.1 199.1 225.6 198.7 226.1 198.3 226.7 197.9 227.2 197.5 227.8 197.1 228.3 196.6 228.8 196.2 229.4 195.7 229.9 195.3 230.4 194.8 231.0 194.3 231.5 193.8 232.1 193.3 232.6 192.8 233.1 192.3 233.7 191.8 234.2 191.3 234.7 190.7 235.3 190.2 235.8 189.6 236.4 189.0 236.9 188.4 237.4 187.8 238.0 187.2 238.5 186.5 239.0 185.9 239.6 185.2 240.1 184.6 240.7 183.9 241.2 183.1 241.7 182.4 242.3 181.7 242.8 180.9 243.3 180.4 243.9 179.9 244.4 179.5 245.0 179.0 245.5 178.5 246.0 178.0 246.6 177.5 247.1 177.1 247.6 176.6 248.2 176.1 248.7 175.6 249.3 175.1 249.8 174.6 250.3 174.2 250.9 173.7 251.4 173.2 251.9 172.7 252.5 172.2 253.0 171.7 253.6 171.2 254.1 170.8 254.6 170.3 255.2 169.8 255.7 169.3 256.2 168.8 256.8 168.3 257.3 167.8 257.9 167.3 258.4 166.8 258.9 166.3 259.5 165.8 260.0 165.3 260.5" stroke="#454545" stroke-width="0.9"/>
<path d="M246.5 70.8 246.4 71.9 246.2 73.0 246.1 74.0 246.0 75.1 245.8 76.2 245.7 77.3 245.6 78.3 245.4 79.4 245.3 80.5 245.1 81.6 245.0 82.6 244.9 83.7 244.7 84.8 244.5 85.9 244.4 86.9 244.2 88.0 244.1 89.1 243.9 90.2 243.7 91.2 243.6 92.3 243.4 93.4 243.2 94.5 243.0 95.5 242.9 96.6 242.7 97.7 242.5 98.8 242.3 99.8 242.1 100.9 241.9 102.0 241.7 103.1 241.5 104.1 241.4 105.2 241.1 106.3" stroke="#1e46fa" stroke-width="1.4" stroke-dasharray="1.2 2.8"/>
<path d="M241.1 106.3 240.9 107.4 240.7 108.4 240.5 109.5 240.3 110.6 240.1 111.7 239.9 112.7 239.7 113.8 239.5 114.9 239.2 116.0 239.0 117.0 238.8 118.1 238.5 119.2 238.3 120.3 238.1 121.3 237.8 122.4 237.6 123.5 237.4 124.6 237.1 125.6 236.9 126.7 236.6 127.8 236.4 128.9 236.1 129.9 235.8 131.0 235.6 132.1 235.3 133.2 235.1 134.2 234.8 135.3 234.5 136.4" stroke="#285afa" stroke-width="1.4" stroke-dasharray="1.2 2.8"/>
<path d="M234.5 136.4 234.2 137.5 234.0 138.5 233.7 139.6 233.4 140.7 233.1 141.8 232.8 142.8 232.6 143.9 232.3 145.0 232.0 146.1 231.7 147.1 231.4 148.2 231.1 149.3" stroke="#377df5" stroke-width="1.4" stroke-dasharray="1.2 2.8"/>
<path d="M231.1 149.3 230.8 150.4 230.5 151.4 230.2 152.5 229.9 153.6 229.5 154.7 229.2 155.7 228.9 156.8 228.6 157.9 228.3 159.0 227.9 160.0 227.6 161.1 227.3 162.2 226.9 163.3" stroke="#377df5" stroke-width="1.4" stroke-dasharray="1.8 2.2"/>
<path d="M226.9 163.3 226.6 164.3 226.2 165.4 225.9 166.5 225.6 167.6 225.2 168.6 224.9 169.7 224.5 170.8 224.1 171.9 223.8 172.9 223.4 174.0 223.0 175.1 222.7 176.2" stroke="#46a0f0" stroke-width="1.4" stroke-dasharray="1.8 2.2"/>
<path d="M222.7 176.2 222.3 177.2 221.9 178.3 221.5 179.4 221.1 180.5 220.8 181.5 220.4 182.6 220.0 183.7 219.6 184.8 219.2 185.8 218.8 186.9 218.3 188.0 217.9 189.1" stroke="#46a0f0" stroke-width="1.4" stroke-dasharray="2.4 1.6"/>
<path d="M217.9 189.1 217.5 190.1 217.1 191.2 216.6 192.3 216.2 193.4 215.8 194.4 215.3 195.5 214.9 196.6 214.4 197.7 214.0 198.7 213.5 199.8 213.0 200.9 212.5 202.0 212.0 203.0 211.5 204.1 211.0 205.2 210.5 206.3 210.0 207.3" stroke="#4bc6e8" stroke-width="1.4" stroke-dasharray="2.4 1.6"/>
<path d="M210.0 207.3 209.5 208.4 208.9 209.5 208.4 210.6 207.8 211.6 207.2 212.7" stroke="#4bc6e8" stroke-width="1.4" stroke-dasharray="3.2 0.8"/>
<path d="M207.2 212.7 206.6 213.8 206.0 214.9 205.4 215.9 204.8 217.0 204.2 218.1 203.5 219.2 202.8 220.2 202.1 221.3 201.4 222.4 201.0 222.9 200.7 223.5 200.3 224.0 199.9 224.5 199.5 225.1 199.1 225.6 198.7 226.1 198.3 226.7 197.9 227.2 197.5 227.8 197.1 228.3 196.6 228.8 196.2 229.4 195.7 229.9 195.3 230.4 194.8 231.0 194.3 231.5 193.8 232.1 193.3 232.6 192.8 233.1 192.3 233.7 191.8 234.2 191.3 234.7 190.7 235.3 190.2 235.8 189.6 236.4" stroke="#50ebe1" stroke-width="1.4" stroke-dasharray="3.2 0.8"/>
<path d="M189.6 236.4 189.0 236.9 188.4 237.4 187.8 238.0 187.2 238.5 186.5 239.0 185.9 239.6 185.2 240.1 184.6 240.7 183.9 241.2 183.1 241.7 182.4 242.3 181.7 242.8 180.9 243.3" stroke="#5febc8" stroke-width="1.4" stroke-dasharray="3.2 0.8"/>
<path d="M180.9 243.3 180.4 243.9 179.9 244.4 179.5 245.0 179.0 245.5 178.5 246.0 178.0 246.6 177.5 247.1 177.1 247.6 176.6 248.2 176.1 248.7" stroke="#5febc8" stroke-width="1.4"/>
<path d="M176.1 248.7 175.6 249.3 175.1 249.8 174.6 250.3 174.2 250.9 173.7 251.4 173.2 251.9 172.7 252.5 172.2 253.0" stroke="#6eebaf" stroke-width="1.4"/>
<path d="M172.2 253.0 171.7 253.6 171.2 254.1 170.8 254.6 170.3 255.2 169.8 255.7 169.3 256.2 168.8 256.8 168.3 257.3" stroke="#69eb98" stroke-width="1.4"/>
<path d="M168.3 257.3 167.8 257.9 167.3 258.4 166.8 258.9 166.3 259.5 165.8 260.0 165.3 260.5" stroke="#64eb82" stroke-width="1.4"/>
<path d="M235.8 74.2 235.6 75.3 235.5 76.4 235.4 77.4 235.2 78.5 235.1 79.6 234.9 80.7 234.8 81.7 234.7 82.8 234.5 83.9 234.4 85.0 234.2 86.0 234.0 87.1 233.9 88.2 233.7 89.3 233.6 90.3 233.4 91.4 233.2 92.5 233.1 93.6 232.9 94.6 232.7 95.7 232.5 96.8 232.4 97.9 232.2 98.9 232.0 100.0 231.8 101.1 231.6 102.2 231.4 103.2 231.3 104.3 231.1 105.4 230.9 106.5 230.7 107.5 230.5 108.6 230.3 109.7 230.1 110.8 229.8 111.8 229.6 112.9 229.4 114.0 229.2 115.1 229.0 116.1 228.8 117.2 228.5 118.3 228.3 119.4 228.1 120.4 227.9 121.5 227.6 122.6 227.4 123.7 227.2 124.7 226.9 125.8 226.7 126.9 226.4 128.0 226.2 129.0 226.0 130.1 225.7 131.2 225.5 132.3 225.2 133.3 224.9 134.4 224.7 135.5 224.4 136.6 224.2 137.6 223.9 138.7 223.6 139.8 223.4 140.9 223.1 141.9 222.8 143.0 222.5 144.1 222.2 145.2 222.0 146.2 221.7 147.3 221.4 148.4 221.1 149.5 220.8 150.5 220.5 151.6 220.2 152.7 219.9 153.8 219.6 154.8 219.3 155.9 219.0 157.0 218.7 158.1 218.4 159.1 218.1 160.2 217.7 161.3 217.4 162.4 217.1 163.4 216.8 164.5 216.5 165.6 216.1 166.7 215.8 167.7 215.5 168.8 215.1 169.9 214.8 171.0 214.4 172.0 214.1 173.1 213.7 174.2 213.4 175.3 213.0 176.3 212.7 177.4 212.3 178.5 211.9 179.6 211.6 180.6 211.2 181.7 210.8 182.8 210.4 183.9 210.1 184.9 209.7 186.0 209.3 187.1 208.9 188.2 208.5 189.2 208.1 190.3 207.7 191.4 207.3 192.5 206.9 193.5 206.4 194.6 206.0 195.7 205.6 196.8 205.2 197.8 204.7 198.9 204.3 200.0 203.8 201.1 203.4 202.1 202.9 203.2 202.4 204.3 201.9 205.4 201.4 206.4 200.9 207.5 200.4 208.6 199.9 209.7 199.4 210.7 198.9 211.8 198.3 212.9 197.8 214.0 197.2 215.0 196.6 216.1 196.0 217.2 195.4 218.3 194.8 219.3 194.2 220.4 193.5 221.5 192.8 222.6 192.2 223.6 191.4 224.7 191.1 225.2 190.7 225.8 190.3 226.3 190.0 226.9 189.6 227.4 189.2 227.9 188.8 228.5 188.4 229.0 187.9 229.5 187.5 230.1 187.1 230.6 186.7 231.2 186.2 231.7 185.8 232.2 185.3 232.8 184.8 233.3 184.3 233.8 183.9 234.4 183.4 234.9 182.8 235.5 182.3 236.0 181.8 236.5 181.2 237.1 180.7 237.6 180.1 238.1 179.5 238.7 179.0 239.2 178.3 239.8 177.7 240.3 177.1 240.8 176.4 241.4 175.8 241.9 175.1 242.4 174.4 243.0 173.7 243.5 173.3 244.1 172.9 244.6 172.5 245.1 172.1 245.7 171.6 246.2 171.2 246.7 170.8 247.3 170.4 247.8 170.0 248.4 169.6 248.9 169.2 249.4 168.7 250.0 168.3 250.5 167.9 251.0 167.5 251.6 167.1 252.1 166.7 252.7 166.2 253.2 165.8 253.7 165.4 254.3 165.0 254.8 164.6 255.3 164.1 255.9 163.7 256.4 163.3 257.0 162.9 257.5 162.4 258.0 162.0 258.6 161.6 259.1 161.2 259.6 160.7 260.2 160.3 260.7 159.9 261.3 159.5 261.8" stroke="#454545" stroke-width="0.9"/>
<path d="M235.8 74.2 235.6 75.3 235.5 76.4 235.4 77.4 235.2 78.5 235.1 79.6 234.9 80.7 234.8 81.7 234.7 82.8 234.5 83.9 234.4 85.0 234.2 86.0 234.0 87.1 233.9 88.2 233.7 89.3 233.6 90.3 233.4 91.4 233.2 92.5 233.1 93.6 232.9 94.6 232.7 95.7 232.5 96.8 232.4 97.9 232.2 98.9" stroke="#1e46fa" stroke-width="1.4" stroke-dasharray="1.2 2.8"/>
<path d="M232.2 98.9 232.0 100.0 231.8 101.1 231.6 102.2 231.4 103.2 231.3 104.3 231.1 105.4 230.9 106.5 230.7 107.5 230.5 108.6 230.3 109.7 230.1 110.8 229.8 111.8 229.6 112.9 229.4 114.0 229.2 115.1 229.0 116.1 228.8 117.2 228.5 118.3 228.3 119.4 228.1 120.4 227.9 121.5 227.6 122.6 227.4 123.7 227.2 124.7 226.9 125.8 226.7 126.9 226.4 128.0 226.2 129.0 226.0 130.1" stroke="#285afa" stroke-width="1.4" stroke-dasharray="1.2 2.8"/>
<path d="M226.0 130.1 225.7 131.2 225.5 132.3 225.2 133.3 224.9 134.4 224.7 135.5 224.4 136.6 224.2 137.6 223.9 138.7 223.6 139.8 223.4 140.9 223.1 141.9 222.8 143.0 222.5 144.1 222.2 145.2 222.0 146.2" stroke="#377df5" stroke-width="1.4" stroke-dasharray="1.2 2.8"/>
<path d="M222.0 146.2 221.7 147.3 221.4 148.4 221.1 149.5 220.8 150.5 220.5 151.6 220.2 152.7 219.9 153.8 219.6 154.8 219.3 155.9 219.0 157.0" stroke="#377df5" stroke-width="1.4" stroke-dasharray="1.8 2.2"/>
<path d="M219.0 157.0 218.7 158.1 218.4 159.1 218.1 160.2 217.7 161.3 217.4 162.4 217.1 163.4 216.8 164.5 216.5 165.6 216.1 166.7 215.8 167.7 215.5 168.8 215.1 169.9 214.8 171.0 214.4 172.0 214.1 173.1" stroke="#46a0f0" stroke-width="1.4" stroke-dasharray="1.8 2.2"/>
<path d="M214.1 173.1 213.7 174.2 213.4 175.3 213.0 176.3 212.7 177.4 212.3 178.5 211.9 179.6 211.6 180.6" stroke="#46a0f0" stroke-width="1.4" stroke-dasharray="2.4 1.6"/>
<path d="M211.6 180.6 211.2 181.7 210.8 182.8 210.4 183.9 210.1 184.9 209.7 186.0 209.3 187.1 208.9 188.2 208.5 189.2 208.1 190.3 207.7 191.4 207.3 192.5 206.9 193.5 206.4 194.6 206.0 195.7 205.6 196.8 205.2 197.8 204.7 198.9 204.3 200.0 203.8 201.1 203.4 202.1 202.9 203.2 202.4 204.3" stroke="#4bc6e8" stroke-width="1.4" stroke-dasharray="2.4 1.6"/>
<path d="M202.4 204.3 201.9 205.4 201.4 206.4 200.9 207.5 200.4 208.6 199.9 209.7 199.4 210.7 198.9 211.8 198.3 212.9 197.8 214.0 197.2 215.0 196.6 216.1 196.0 217.2 195.4 218.3 194.8 219.3 194.2 220.4 193.5 221.5 192.8 222.6 192.2 223.6 191.4 224.7 191.1 225.2 190.7 225.8 190.3 226.3 190.0 226.9" stroke="#50ebe1" stroke-width="1.4" stroke-dasharray="3.2 0.8"/>
<path d="M190.0 226.9 189.6 227.4 189.2 227.9 188.8 228.5 188.4 229.0 187.9 229.5 187.5 230.1 187.1 230.6 186.7 231.2 186.2 231.7 185.8 232.2 185.3 232.8 184.8 233.3 184.3 233.8 183.9 234.4 183.4 234.9 182.8 235.5 182.3 236.0 181.8 236.5 181.2 237.1 180.7 237.6 180.1 238.1 179.5 238.7 179.0 239.2 178.3 239.8 177.7 240.3 177.1 240.8" stroke="#5febc8" stroke-width="1.4" stroke-dasharray="3.2 0.8"/>
<path d="M177.1 240.8 176.4 241.4 175.8 241.9 175.1 242.4 174.4 243.0 173.7 243.5 173.3 244.1 172.9 244.6 172.5 245.1 172.1 245.7 171.6 246.2 171.2 246.7" stroke="#5febc8" stroke-width="1.4"/>
<path d="M171.2 246.7 170.8 247.3 170.4 247.8 170.0 248.4 169.6 248.9 169.2 249.4 168.7 250.0 168.3 250.5 167.9 251.0 167.5 251.6" stroke="#6eebaf" stroke-width="1.4"/>
<path d="M167.5 251.6 167.1 252.1 166.7 252.7 166.2 253.2 165.8 253.7 165.4 254.3 165.0 254.8 164.6 255.3 164.1 255.9 163.7 256.4" stroke="#69eb98" stroke-width="1.4"/>
<path d="M163.7 256.4 163.3 257.0 162.9 257.5 162.4 258.0 162.0 258.6 161.6 259.1 161.2 259.6 160.7 260.2 160.3 260.7 159.9 261.3" stroke="#64eb82" stroke-width="1.4"/>
<path d="M159.9 261.3 159.5 261.8" stroke="#5ceb69" stroke-width="1.4"/>
<path d="M226.0 77.7 225.9 78.7 225.7 79.8 225.6 80.9 225.4 82.0 225.3 83.0 225.1 84.1 225.0 85.2 224.8 86.3 224.7 87.3 224.5 88.4 224.4 89.5 224.2 90.6 224.1 91.6 223.9 92.7 223.7 93.8 223.6 94.9 223.4 95.9 223.2 97.0 223.1 98.1 222.9 99.2 222.7 100.2 222.5 101.3 222.3 102.4 222.2 103.5 222.0 104.5 221.8 105.6 221.6 106.7 221.4 107.8 221.2 108.8 221.0 109.9 220.8 111.0 220.6 112.1 220.4 113.1 220.2 114.2 220.0 115.3 219.8 116.4 219.6 117.4 219.4 118.5 219.2 119.6 219.0 120.7 218.7 121.7 218.5 122.8 218.3 123.9 218.1 125.0 217.9 126.0 217.6 127.1 217.4 128.2 217.2 129.3 216.9 130.3 216.7 131.4 216.5 132.5 216.2 133.6 216.0 134.6 215.7 135.7 215.5 136.8 215.3 137.9 215.0 138.9 214.8 140.0 214.5 141.1 214.2 142.2 214.0 143.2 213.7 144.3 213.5 145.4 213.2 146.5 212.9 147.5 212.7 148.6 212.4 149.7 212.1 150.8 211.9 151.8 211.6 152.9 211.3 154.0 211.0 155.1 210.7 156.1 210.5 157.2 210.2 158.3 209.9 159.4 209.6 160.4 209.3 161.5 209.0 162.6 208.7 163.7 208.4 164.7 208.1 165.8 207.8 166.9 207.5 168.0 207.2 169.0 206.9 170.1 206.5 171.2 206.2 172.3 205.9 173.3 205.6 174.4 205.3 175.5 204.9 176.6 204.6 177.6 204.3 178.7 203.9 179.8 203.6 180.9 203.2 181.9 202.9 183.0 202.6 184.1 202.2 185.2 201.8 186.2 201.5 187.3 201.1 188.4 200.8 189.5 200.4 190.5 200.0 191.6 199.6 192.7 199.3 193.8 198.9 194.8 198.5 195.9 198.1 197.0 197.7 198.1 197.3 199.1 196.9 200.2 196.5 201.3 196.0 202.4 195.6 203.4 195.2 204.5 194.7 205.6 194.3 206.7 193.8 207.7 193.4 208.8 192.9 209.9 192.4 211.0 191.9 212.0 191.4 213.1 190.9 214.2 190.4 215.3 189.9 216.3 189.3 217.4 188.8 218.5 188.2 219.6 187.6 220.6 187.0 221.7 186.4 222.8 185.7 223.9 185.1 224.9 184.4 226.0 183.7 227.1 183.0 228.2 182.6 228.7 182.2 229.2 181.9 229.8 181.5 230.3 181.1 230.8 180.7 231.4 180.2 231.9 179.8 232.5 179.4 233.0 179.0 233.5 178.5 234.1 178.1 234.6 177.6 235.1 177.1 235.7 176.6 236.2 176.1 236.8 175.6 237.3 175.1 237.8 174.6 238.4 174.1 238.9 173.5 239.4 172.9 240.0 172.4 240.5 171.8 241.1 171.2 241.6 170.6 242.1 169.9 242.7 169.3 243.2 168.6 244.3 167.9 245.4 167.2 246.4 166.5 247.5 165.8 248.6 165.1 249.7 164.4 250.7 163.7 251.8 163.0 252.9 162.3 254.0 161.6 255.0 160.9 256.1 160.1 257.2 159.4 258.3 158.7 259.3 158.0 260.4 157.3 261.5 156.9 262.0" stroke="#454545" stroke-width="0.9"/>
<path d="M226.0 77.7 225.9 78.7 225.7 79.8 225.6 80.9 225.4 82.0 225.3 83.0 225.1 84.1 225.0 85.2 224.8 86.3 224.7 87.3 224.5 88.4 224.4 89.5 224.2 90.6 224.1 91.6 223.9 92.7 223.7 93.8" stroke="#1e46fa" stroke-width="1.4" stroke-dasharray="1.2 2.8"/>
<path d="M223.7 93.8 223.6 94.9 223.4 95.9 223.2 97.0 223.1 98.1 222.9 99.2 222.7 100.2 222.5 101.3 222.3 102.4 222.2 103.5 222.0 104.5 221.8 105.6 221.6 106.7 221.4 107.8 221.2 108.8 221.0 109.9 220.8 111.0 220.6 112.1 220.4 113.1 220.2 114.2 220.0 115.3 219.8 116.4 219.6 117.4 219.4 118.5 219.2 119.6 219.0 120.7 218.7 121.7 218.5 122.8 218.3 123.9" stroke="#285afa" stroke-width="1.4" stroke-dasharray="1.2 2.8"/>
<path d="M218.3 123.9 218.1 125.0 217.9 126.0 217.6 127.1 217.4 128.2 217.2 129.3 216.9 130.3 216.7 131.4 216.5 132.5 216.2 133.6 216.0 134.6 215.7 135.7 215.5 136.8 215.3 137.9 215.0 138.9 214.8 140.0 214.5 141.1 214.2 142.2 214.0 143.2 213.7 144.3" stroke="#377df5" stroke-width="1.4" stroke-dasharray="1.2 2.8"/>
<path d="M213.7 144.3 213.5 145.4 213.2 146.5 212.9 147.5 212.7 148.6 212.4 149.7" stroke="#377df5" stroke-width="1.4" stroke-dasharray="1.8 2.2"/>
<path d="M212.4 149.7 212.1 150.8 211.9 151.8 211.6 152.9 211.3 154.0 211.0 155.1 210.7 156.1 210.5 157.2 210.2 158.3 209.9 159.4 209.6 160.4 209.3 161.5 209.0 162.6 208.7 163.7 208.4 164.7 208.1 165.8 207.8 166.9 207.5 168.0 207.2 169.0 206.9 170.1 206.5 171.2" stroke="#46a0f0" stroke-width="1.4" stroke-dasharray="1.8 2.2"/>
<path d="M206.5 171.2 206.2 172.3 205.9 173.3 205.6 174.4" stroke="#46a0f0" stroke-width="1.4" stroke-dasharray="2.4 1.6"/>
<path d="M205.6 174.4 205.3 175.5 204.9 176.6 204.6 177.6 204.3 178.7 203.9 179.8 203.6 180.9 203.2 181.9 202.9 183.0 202.6 184.1 202.2 185.2 201.8 186.2 201.5 187.3 201.1 188.4 200.8 189.5 200.4 190.5 200.0 191.6 199.6 192.7 199.3 193.8 198.9 194.8 198.5 195.9" stroke="#4bc6e8" stroke-width="1.4" stroke-dasharray="2.4 1.6"/>
<path d="M198.5 195.9 198.1 197.0 197.7 198.1 197.3 199.1 196.9 200.2 196.5 201.3 196.0 202.4" stroke="#50ebe1" stroke-width="1.4" stroke-dasharray="2.4 1.6"/>
<path d="M196.0 202.4 195.6 203.4 195.2 204.5 194.7 205.6 194.3 206.7 193.8 207.7 193.4 208.8 192.9 209.9 192.4 211.0 191.9 212.0 191.4 213.1 190.9 214.2 190.4 215.3 189.9 216.3 189.3 217.4" stroke="#50ebe1" stroke-width="1.4" stroke-dasharray="3.2 0.8"/>
<path d="M189.3 217.4 188.8 218.5 188.2 219.6 187.6 220.6 187.0 221.7 186.4 222.8 185.7 223.9 185.1 224.9 184.4 226.0 183.7 227.1 183.0 228.2 182.6 228.7 182.2 229.2 181.9 229.8 181.5 230.3 181.1 230.8 180.7 231.4 180.2 231.9 179.8 232.5 179.4 233.0 179.0 233.5 178.5 234.1 178.1 234.6 177.6 235.1 177.1 235.7 176.6 236.2 176.1 236.8 175.6 237.3 175.1 237.8 174.6 238.4" stroke="#5febc8" stroke-width="1.4" stroke-dasharray="3.2 0.8"/>
<path d="M174.6 238.4 174.1 238.9" stroke="#5febc8" stroke-width="1.4"/>
<path d="M174.1 238.9 173.5 239.4 172.9 240.0 172.4 240.5 171.8 241.1 171.2 241.6 170.6 242.1 169.9 242.7 169.3 243.2 168.6 244.3 167.9 245.4 167.2 246.4 166.5 247.5 165.8 248.6" stroke="#6eebaf" stroke-width="1.4"/>
<path d="M165.8 248.6 165.1 249.7 164.4 250.7 163.7 251.8 163.0 252.9 162.3 254.0" stroke="#69eb98" stroke-width="1.4"/>
<path d="M162.3 254.0 161.6 255.0 160.9 256.1 160.1 257.2 159.4 258.3" stroke="#64eb82" stroke-width="1.4"/>
<path d="M159.4 258.3 158.7 259.3 158.0 260.4 157.3 261.5 156.9 262.0" stroke="#5ceb69" stroke-width="1.4"/>
<path d="M217.4 81.1 217.2 82.2 217.1 83.3 216.9 84.4 216.8 85.4 216.6 86.5 216.5 87.6 216.3 88.7 216.2 89.7 216.0 90.8 215.9 91.9 215.7 93.0 215.5 94.0 215.4 95.1 215.2 96.2 215.0 97.3 214.9 98.3 214.7 99.4 214.5 100.5 214.3 101.6 214.2 102.6 214.0 103.7 213.8 104.8 213.6 105.9 213.4 106.9 213.3 108.0 213.1 109.1 212.9 110.2 212.7 111.2 212.5 112.3 212.3 113.4 212.1 114.5 211.9 115.5 211.7 116.6 211.5 117.7 211.3 118.8 211.1 119.8 210.9 120.9 210.7 122.0 210.5 123.1 210.3 124.1 210.1 125.2 209.9 126.3 209.6 127.4 209.4 128.4 209.2 129.5 209.0 130.6 208.8 131.7 208.5 132.7 208.3 133.8 208.1 134.9 207.9 136.0 207.6 137.0 207.4 138.1 207.2 139.2 206.9 140.3 206.7 141.3 206.4 142.4 206.2 143.5 206.0 144.6 205.7 145.6 205.5 146.7 205.2 147.8 205.0 148.9 204.7 149.9 204.4 151.0 204.2 152.1 203.9 153.2 203.7 154.2 203.4 155.3 203.1 156.4 202.9 157.5 202.6 158.5 202.3 159.6 202.1 160.7 201.8 161.8 201.5 162.8 201.2 163.9 201.0 165.0 200.7 166.1 200.4 167.1 200.1 168.2 199.8 169.3 199.5 170.4 199.2 171.4 198.9 172.5 198.6 173.6 198.3 174.7 198.0 175.7 197.7 176.8 197.4 177.9 197.1 179.0 196.8 180.0 196.5 181.1 196.2 182.2 195.9 183.3 195.5 184.3 195.2 185.4 194.9 186.5 194.6 187.6 194.2 188.6 193.9 189.7 193.5 190.8 193.2 191.9 192.8 192.9 192.5 194.0 192.1 195.1 191.8 196.2 191.4 197.2 191.0 198.3 190.7 199.4 190.3 200.5 189.9 201.5 189.5 202.6 189.1 203.7 188.7 204.8 188.3 205.8 187.9 206.9 187.5 208.0 187.1 209.1 186.6 210.1 186.2 211.2 185.7 212.3 185.3 213.4 184.8 214.4 184.3 215.5 183.8 216.6 183.3 217.7 182.8 218.7 182.3 219.8 181.7 220.9 181.2 222.0 180.6 223.0 180.0 224.1 179.4 225.2 178.8 226.3 178.1 227.3 177.4 228.4 176.7 229.5 176.0 230.6 175.7 231.1 175.3 231.6 174.9 232.2 174.5 232.7 174.1 233.2 173.7 233.8 173.3 234.3 172.9 234.9 172.4 235.4 172.0 235.9 171.5 236.5 171.1 237.0 170.6 237.5 170.1 238.1 169.6 238.6 169.1 239.2 168.6 239.7 168.1 240.2 167.5 240.8 167.0 241.3 166.4 241.8 165.8 242.4 165.2 242.9 164.6 243.5 164.1 244.5 163.5 245.6 162.9 246.7 162.3 247.8 161.7 248.8 161.1 249.9 160.5 251.0 159.9 252.1 159.3 253.1 158.7 254.2 158.1 255.3 157.5 256.4 156.9 257.4 156.3 258.5 155.7 259.6 155.1 260.7 154.5 261.7 153.8 262.8" stroke="#454545" stroke-width="0.9"/>
<path d="M217.4 81.1 217.2 82.2 217.1 83.3 216.9 84.4 216.8 85.4 216.6 86.5" stroke="#1e46fa" stroke-width="1.4" stroke-dasharray="1.2 2.8"/>
<path d="M216.6 86.5 216.5 87.6 216.3 88.7 216.2 89.7 216.0 90.8 215.9 91.9 215.7 93.0 215.5 94.0 215.4 95.1 215.2 96.2 215.0 97.3 214.9 98.3 214.7 99.4 214.5 100.5 214.3 101.6 214.2 102.6 214.0 103.7 213.8 104.8 213.6 105.9 213.4 106.9 213.3 108.0 213.1 109.1 212.9 110.2 212.7 111.2 212.5 112.3 212.3 113.4 212.1 114.5 211.9 115.5 211.7 116.6 211.5 117.7 211.3 118.8" stroke="#285afa" stroke-width="1.4" stroke-dasharray="1.2 2.8"/>
<path d="M211.3 118.8 211.1 119.8 210.9 120.9 210.7 122.0 210.5 123.1 210.3 124.1 210.1 125.2 209.9 126.3 209.6 127.4 209.4 128.4 209.2 129.5 209.0 130.6 208.8 131.7 208.5 132.7 208.3 133.8 208.1 134.9 207.9 136.0 207.6 137.0 207.4 138.1 207.2 139.2 206.9 140.3 206.7 141.3" stroke="#377df5" stroke-width="1.4" stroke-dasharray="1.2 2.8"/>
<path d="M206.7 141.3 206.4 142.4 206.2 143.5 206.0 144.6" stroke="#377df5" stroke-width="1.4" stroke-dasharray="1.8 2.2"/>
<path d="M206.0 144.6 205.7 145.6 205.5 146.7 205.2 147.8 205.0 148.9 204.7 149.9 204.4 151.0 204.2 152.1 203.9 153.2 203.7 154.2 203.4 155.3 203.1 156.4 202.9 157.5 202.6 158.5 202.3 159.6 202.1 160.7 201.8 161.8 201.5 162.8 201.2 163.9 201.0 165.0 200.7 166.1 200.4 167.1" stroke="#46a0f0" stroke-width="1.4" stroke-dasharray="1.8 2.2"/>
<path d="M200.4 167.1 200.1 168.2" stroke="#4bc6e8" stroke-width="1.4" stroke-dasharray="1.8 2.2"/>
<path d="M200.1 168.2 199.8 169.3 199.5 170.4 199.2 171.4 198.9 172.5 198.6 173.6 198.3 174.7 198.0 175.7 197.7 176.8 197.4 177.9 197.1 179.0 196.8 180.0 196.5 181.1 196.2 182.2 195.9 183.3 195.5 184.3 195.2 185.4 194.9 186.5 194.6 187.6 194.2 188.6" stroke="#4bc6e8" stroke-width="1.4" stroke-dasharray="2.4 1.6"/>
<path d="M194.2 188.6 193.9 189.7 193.5 190.8 193.2 191.9 192.8 192.9 192.5 194.0 192.1 195.1 191.8 196.2 191.4 197.2 191.0 198.3 190.7 199.4 190.3 200.5" stroke="#50ebe1" stroke-width="1.4" stroke-dasharray="2.4 1.6"/>
<path d="M190.3 200.5 189.9 201.5 189.5 202.6 189.1 203.7 188.7 204.8 188.3 205.8 187.9 206.9 187.5 208.0 187.1 209.1 186.6 210.1" stroke="#50ebe1" stroke-width="1.4" stroke-dasharray="3.2 0.8"/>
<path d="M186.6 210.1 186.2 211.2 185.7 212.3 185.3 213.4 184.8 214.4 184.3 215.5 183.8 216.6 183.3 217.7 182.8 218.7 182.3 219.8 181.7 220.9 181.2 222.0 180.6 223.0 180.0 224.1 179.4 225.2 178.8 226.3 178.1 227.3 177.4 228.4 176.7 229.5" stroke="#5febc8" stroke-width="1.4" stroke-dasharray="3.2 0.8"/>
<path d="M176.7 229.5 176.0 230.6 175.7 231.1 175.3 231.6 174.9 232.2 174.5 232.7 174.1 233.2 173.7 233.8 173.3 234.3 172.9 234.9 172.4 235.4 172.0 235.9" stroke="#6eebaf" stroke-width="1.4" stroke-dasharray="3.2 0.8"/>
<path d="M172.0 235.9 171.5 236.5 171.1 237.0 170.6 237.5 170.1 238.1 169.6 238.6 169.1 239.2 168.6 239.7 168.1 240.2 167.5 240.8 167.0 241.3 166.4 241.8 165.8 242.4 165.2 242.9 164.6 243.5 164.1 244.5 163.5 245.6 162.9 246.7" stroke="#6eebaf" stroke-width="1.4"/>
<path d="M162.9 246.7 162.3 247.8 161.7 248.8 161.1 249.9 160.5 251.0 159.9 252.1" stroke="#69eb98" stroke-width="1.4"/>
<path d="M159.9 252.1 159.3 253.1 158.7 254.2 158.1 255.3 157.5 256.4 156.9 257.4" stroke="#64eb82" stroke-width="1.4"/>
<path d="M156.9 257.4 156.3 258.5 155.7 259.6 155.1 260.7 154.5 261.7" stroke="#5ceb69" stroke-width="1.4"/>
<path d="M154.5 261.7 153.8 262.8" stroke="#55eb50" stroke-width="1.4"/>
<path d="M209.1 84.5 209.0 85.6 208.8 86.6 208.7 87.7 208.5 88.8 208.4 89.9 208.2 90.9 208.1 92.0 207.9 93.1 207.7 94.2 207.6 95.2 207.4 96.3 207.3 97.4 207.1 98.5 206.9 99.5 206.7 100.6 206.6 101.7 206.4 102.8 206.2 103.8 206.1 104.9 205.9 106.0 205.7 107.1 205.5 108.1 205.3 109.2 205.2 110.3 205.0 111.4 204.8 112.4 204.6 113.5 204.4 114.6 204.2 115.7 204.0 116.7 203.8 117.8 203.6 118.9 203.4 120.0 203.2 121.0 203.0 122.1 202.8 123.2 202.6 124.3 202.4 125.3 202.2 126.4 202.0 127.5 201.8 128.6 201.6 129.6 201.4 130.7 201.2 131.8 201.0 132.9 200.8 133.9 200.5 135.0 200.3 136.1 200.1 137.2 199.9 138.2 199.7 139.3 199.4 140.4 199.2 141.5 199.0 142.5 198.8 143.6 198.5 144.7 198.3 145.8 198.1 146.8 197.8 147.9 197.6 149.0 197.3 150.1 197.1 151.1 196.9 152.2 196.6 153.3 196.4 154.4 196.1 155.4 195.9 156.5 195.6 157.6 195.4 158.7 195.1 159.7 194.9 160.8 194.6 161.9 194.4 163.0 194.1 164.0 193.8 165.1 193.6 166.2 193.3 167.3 193.0 168.3 192.8 169.4 192.5 170.5 192.2 171.6 192.0 172.6 191.7 173.7 191.4 174.8 191.1 175.9 190.8 176.9 190.5 178.0 190.3 179.1 190.0 180.2 189.7 181.2 189.4 182.3 189.1 183.4 188.8 184.5 188.5 185.5 188.2 186.6 187.9 187.7 187.6 188.8 187.3 189.8 186.9 190.9 186.6 192.0 186.3 193.1 186.0 194.1 185.6 195.2 185.3 196.3 185.0 197.4 184.6 198.4 184.3 199.5 183.9 200.6 183.6 201.7 183.2 202.7 182.9 203.8 182.5 204.9 182.1 206.0 181.7 207.0 181.4 208.1 181.0 209.2 180.6 210.3 180.1 211.3 179.7 212.4 179.3 213.5 178.9 214.6 178.4 215.6 178.0 216.7 177.5 217.8 177.0 218.9 176.5 219.9 176.0 221.0 175.5 222.1 175.0 223.2 174.4 224.2 173.9 225.3 173.3 226.4 172.7 227.5 172.1 228.5 171.4 229.6 170.8 230.7 170.1 231.8 169.3 232.8 169.0 233.4 168.6 233.9 168.2 234.4 167.8 235.0 167.4 235.5 167.0 236.1 166.6 236.6 166.2 237.1 165.7 237.7 165.3 238.2 164.8 238.7 164.3 239.3 163.9 239.8 163.4 240.4 162.9 240.9 162.4 241.4 161.8 242.0 161.3 242.5 160.7 243.0 160.2 243.6 159.7 244.7 159.1 245.7 158.6 246.8 158.1 247.9 157.6 249.0 157.0 250.0 156.5 251.1 156.0 252.2 155.5 253.3 154.9 254.3 154.4 255.4 153.9 256.5 153.3 257.6 152.8 258.6 152.3 259.7 151.7 260.8 151.2 261.9 150.6 262.9 150.4 263.5" stroke="#454545" stroke-width="0.9"/>
<path d="M209.1 84.5 209.0 85.6 208.8 86.6 208.7 87.7 208.5 88.8 208.4 89.9 208.2 90.9 208.1 92.0 207.9 93.1 207.7 94.2 207.6 95.2 207.4 96.3 207.3 97.4 207.1 98.5 206.9 99.5 206.7 100.6 206.6 101.7 206.4 102.8 206.2 103.8 206.1 104.9 205.9 106.0 205.7 107.1 205.5 108.1 205.3 109.2 205.2 110.3 205.0 111.4 204.8 112.4 204.6 113.5" stroke="#285afa" stroke-width="1.4" stroke-dasharray="1.2 2.8"/>
<path d="M204.6 113.5 204.4 114.6 204.2 115.7 204.0 116.7 203.8 117.8 203.6 118.9 203.4 120.0 203.2 121.0 203.0 122.1 202.8 123.2 202.6 124.3 202.4 125.3 202.2 126.4 202.0 127.5 201.8 128.6 201.6 129.6 201.4 130.7 201.2 131.8 201.0 132.9 200.8 133.9 200.5 135.0 200.3 136.1 200.1 137.2 199.9 138.2 199.7 139.3" stroke="#377df5" stroke-width="1.4" stroke-dasharray="1.2 2.8"/>
<path d="M199.7 139.3 199.4 140.4 199.2 141.5 199.0 142.5 198.8 143.6 198.5 144.7 198.3 145.8 198.1 146.8 197.8 147.9 197.6 149.0 197.3 150.1 197.1 151.1 196.9 152.2 196.6 153.3 196.4 154.4 196.1 155.4 195.9 156.5 195.6 157.6 195.4 158.7 195.1 159.7 194.9 160.8 194.6 161.9" stroke="#46a0f0" stroke-width="1.4" stroke-dasharray="1.8 2.2"/>
<path d="M194.6 161.9 194.4 163.0 194.1 164.0 193.8 165.1 193.6 166.2" stroke="#4bc6e8" stroke-width="1.4" stroke-dasharray="1.8 2.2"/>
<path d="M193.6 166.2 193.3 167.3 193.0 168.3 192.8 169.4 192.5 170.5 192.2 171.6 192.0 172.6 191.7 173.7 191.4 174.8 191.1 175.9 190.8 176.9 190.5 178.0 190.3 179.1 190.0 180.2 189.7 181.2 189.4 182.3" stroke="#4bc6e8" stroke-width="1.4" stroke-dasharray="2.4 1.6"/>
<path d="M189.4 182.3 189.1 183.4 188.8 184.5 188.5 185.5 188.2 186.6 187.9 187.7 187.6 188.8 187.3 189.8 186.9 190.9 186.6 192.0 186.3 193.1 186.0 194.1 185.6 195.2 185.3 196.3 185.0 197.4 184.6 198.4" stroke="#50ebe1" stroke-width="1.4" stroke-dasharray="2.4 1.6"/>
<path d="M184.6 198.4 184.3 199.5 183.9 200.6 183.6 201.7 183.2 202.7" stroke="#50ebe1" stroke-width="1.4" stroke-dasharray="3.2 0.8"/>
<path d="M183.2 202.7 182.9 203.8 182.5 204.9 182.1 206.0 181.7 207.0 181.4 208.1 181.0 209.2 180.6 210.3 180.1 211.3 179.7 212.4 179.3 213.5 178.9 214.6 178.4 215.6 178.0 216.7 177.5 217.8 177.0 218.9 176.5 219.9 176.0 221.0 175.5 222.1" stroke="#5febc8" stroke-width="1.4" stroke-dasharray="3.2 0.8"/>
<path d="M175.5 222.1 175.0 223.2 174.4 224.2 173.9 225.3 173.3 226.4 172.7 227.5 172.1 228.5 171.4 229.6 170.8 230.7 170.1 231.8 169.3 232.8 169.0 233.4 168.6 233.9" stroke="#6eebaf" stroke-width="1.4" stroke-dasharray="3.2 0.8"/>
<path d="M168.6 233.9 168.2 234.4 167.8 235.0 167.4 235.5 167.0 236.1 166.6 236.6 166.2 237.1 165.7 237.7 165.3 238.2 164.8 238.7 164.3 239.3 163.9 239.8 163.4 240.4" stroke="#6eebaf" stroke-width="1.4"/>
<path d="M163.4 240.4 162.9 240.9 162.4 241.4 161.8 242.0 161.3 242.5 160.7 243.0 160.2 243.6 159.7 244.7 159.1 245.7 158.6 246.8 158.1 247.9 157.6 249.0 157.0 250.0" stroke="#69eb98" stroke-width="1.4"/>
<path d="M157.0 250.0 156.5 251.1 156.0 252.2 155.5 253.3 154.9 254.3" stroke="#64eb82" stroke-width="1.4"/>
<path d="M154.9 254.3 154.4 255.4 153.9 256.5 153.3 257.6 152.8 258.6 152.3 259.7" stroke="#5ceb69" stroke-width="1.4"/>
<path d="M152.3 259.7 151.7 260.8 151.2 261.9 150.6 262.9 150.4 263.5" stroke="#55eb50" stroke-width="1.4"/>
<path d="M201.1 88.1 200.9 89.2 200.7 90.2 200.6 91.3 200.4 92.4 200.3 93.5 200.1 94.5 200.0 95.6 199.8 96.7 199.6 97.8 199.5 98.8 199.3 99.9 199.1 101.0 199.0 102.1 198.8 103.1 198.6 104.2 198.4 105.3 198.3 106.4 198.1 107.4 197.9 108.5 197.7 109.6 197.6 110.7 197.4 111.7 197.2 112.8 197.0 113.9 196.8 115.0 196.6 116.0 196.5 117.1 196.3 118.2 196.1 119.3 195.9 120.3 195.7 121.4 195.5 122.5 195.3 123.6 195.1 124.6 194.9 125.7 194.7 126.8 194.5 127.9 194.3 128.9 194.1 130.0 193.9 131.1 193.7 132.2 193.5 133.2 193.3 134.3 193.1 135.4 192.9 136.5 192.7 137.5 192.5 138.6 192.2 139.7 192.0 140.8 191.8 141.8 191.6 142.9 191.4 144.0 191.2 145.1 190.9 146.1 190.7 147.2 190.5 148.3 190.3 149.4 190.1 150.4 189.8 151.5 189.6 152.6 189.4 153.7 189.1 154.7 188.9 155.8 188.7 156.9 188.4 158.0 188.2 159.0 188.0 160.1 187.7 161.2 187.5 162.3 187.2 163.3 187.0 164.4 186.7 165.5 186.5 166.6 186.3 167.6 186.0 168.7 185.8 169.8 185.5 170.9 185.2 171.9 185.0 173.0 184.7 174.1 184.5 175.2 184.2 176.2 183.9 177.3 183.7 178.4 183.4 179.5 183.1 180.5 182.9 181.6 182.6 182.7 182.3 183.8 182.1 184.8 181.8 185.9 181.5 187.0 181.2 188.1 180.9 189.1 180.6 190.2 180.3 191.3 180.0 192.4 179.7 193.4 179.4 194.5 179.1 195.6 178.8 196.7 178.5 197.7 178.2 198.8 177.9 199.9 177.6 201.0 177.2 202.0 176.9 203.1 176.6 204.2 176.2 205.3 175.9 206.3 175.5 207.4 175.2 208.5 174.8 209.6 174.4 210.6 174.1 211.7 173.7 212.8 173.3 213.9 172.9 214.9 172.5 216.0 172.0 217.1 171.6 218.2 171.2 219.2 170.7 220.3 170.3 221.4 169.8 222.5 169.3 223.5 168.8 224.6 168.3 225.7 167.7 226.8 167.2 227.8 166.6 228.9 166.0 230.0 165.4 231.1 164.7 232.1 164.0 233.2 163.3 234.3 162.6 235.4 162.2 235.9 161.9 236.4 161.5 237.0 161.1 237.5 160.6 238.1 160.2 238.6 159.8 239.1 159.4 239.7 158.9 240.2 158.5 240.7 158.0 241.3 157.5 241.8 157.0 242.4 156.5 242.9 156.0 243.4 155.5 244.5 155.0 245.6 154.6 246.7 154.1 247.7 153.6 248.8 153.2 249.9 152.7 251.0 152.2 252.0 151.7 253.1 151.2 254.2 150.8 255.3 150.3 256.3 149.8 257.4 149.3 258.5 148.8 259.6 148.4 260.6 147.9 261.7 147.4 262.8 146.9 263.9 146.6 264.4" stroke="#454545" stroke-width="0.9"/>
<path d="M201.1 88.1 200.9 89.2 200.7 90.2 200.6 91.3 200.4 92.4 200.3 93.5 200.1 94.5 200.0 95.6 199.8 96.7 199.6 97.8 199.5 98.8 199.3 99.9 199.1 101.0 199.0 102.1 198.8 103.1 198.6 104.2 198.4 105.3 198.3 106.4 198.1 107.4 197.9 108.5 197.7 109.6" stroke="#285afa" stroke-width="1.4" stroke-dasharray="1.2 2.8"/>
<path d="M197.7 109.6 197.6 110.7 197.4 111.7 197.2 112.8 197.0 113.9 196.8 115.0 196.6 116.0 196.5 117.1 196.3 118.2 196.1 119.3 195.9 120.3 195.7 121.4 195.5 122.5 195.3 123.6 195.1 124.6 194.9 125.7 194.7 126.8 194.5 127.9 194.3 128.9 194.1 130.0 193.9 131.1 193.7 132.2 193.5 133.2 193.3 134.3" stroke="#377df5" stroke-width="1.4" stroke-dasharray="1.2 2.8"/>
<path d="M193.3 134.3 193.1 135.4 192.9 136.5 192.7 137.5" stroke="#46a0f0" stroke-width="1.4" stroke-dasharray="1.2 2.8"/>
<path d="M192.7 137.5 192.5 138.6 192.2 139.7 192.0 140.8 191.8 141.8 191.6 142.9 191.4 144.0 191.2 145.1 190.9 146.1 190.7 147.2 190.5 148.3 190.3 149.4 190.1 150.4 189.8 151.5 189.6 152.6 189.4 153.7 189.1 154.7 188.9 155.8 188.7 156.9" stroke="#46a0f0" stroke-width="1.4" stroke-dasharray="1.8 2.2"/>
<path d="M188.7 156.9 188.4 158.0 188.2 159.0 188.0 160.1 187.7 161.2 187.5 162.3 187.2 163.3 187.0 164.4" stroke="#4bc6e8" stroke-width="1.4" stroke-dasharray="1.8 2.2"/>
<path d="M187.0 164.4 186.7 165.5 186.5 166.6 186.3 167.6 186.0 168.7 185.8 169.8 185.5 170.9 185.2 171.9 185.0 173.0 184.7 174.1 184.5 175.2 184.2 176.2 183.9 177.3" stroke="#4bc6e8" stroke-width="1.4" stroke-dasharray="2.4 1.6"/>
<path d="M183.9 177.3 183.7 178.4 183.4 179.5 183.1 180.5 182.9 181.6 182.6 182.7 182.3 183.8 182.1 184.8 181.8 185.9 181.5 187.0 181.2 188.1 180.9 189.1 180.6 190.2 180.3 191.3 180.0 192.4 179.7 193.4 179.4 194.5 179.1 195.6" stroke="#50ebe1" stroke-width="1.4" stroke-dasharray="2.4 1.6"/>
<path d="M179.1 195.6 178.8 196.7 178.5 197.7 178.2 198.8 177.9 199.9 177.6 201.0 177.2 202.0 176.9 203.1 176.6 204.2 176.2 205.3 175.9 206.3 175.5 207.4 175.2 208.5 174.8 209.6 174.4 210.6 174.1 211.7 173.7 212.8 173.3 213.9 172.9 214.9" stroke="#5febc8" stroke-width="1.4" stroke-dasharray="3.2 0.8"/>
<path d="M172.9 214.9 172.5 216.0 172.0 217.1 171.6 218.2 171.2 219.2 170.7 220.3 170.3 221.4 169.8 222.5 169.3 223.5 168.8 224.6 168.3 225.7 167.7 226.8 167.2 227.8 166.6 228.9 166.0 230.0 165.4 231.1 164.7 232.1" stroke="#6eebaf" stroke-width="1.4" stroke-dasharray="3.2 0.8"/>
<path d="M164.7 232.1 164.0 233.2 163.3 234.3 162.6 235.4 162.2 235.9 161.9 236.4 161.5 237.0 161.1 237.5 160.6 238.1 160.2 238.6 159.8 239.1 159.4 239.7 158.9 240.2 158.5 240.7 158.0 241.3 157.5 241.8 157.0 242.4 156.5 242.9 156.0 243.4 155.5 244.5 155.0 245.6 154.6 246.7" stroke="#69eb98" stroke-width="1.4"/>
<path d="M154.6 246.7 154.1 247.7 153.6 248.8 153.2 249.9 152.7 251.0 152.2 252.0 151.7 253.1" stroke="#64eb82" stroke-width="1.4"/>
<path d="M151.7 253.1 151.2 254.2 150.8 255.3 150.3 256.3 149.8 257.4 149.3 258.5" stroke="#5ceb69" stroke-width="1.4"/>
<path d="M149.3 258.5 148.8 259.6 148.4 260.6 147.9 261.7 147.4 262.8 146.9 263.9 146.6 264.4" stroke="#55eb50" stroke-width="1.4"/>
<path d="M193.1 91.6 193.0 92.7 192.8 93.8 192.7 94.9 192.5 95.9 192.3 97.0 192.2 98.1 192.0 99.2 191.8 100.2 191.7 101.3 191.5 102.4 191.3 103.5 191.2 104.5 191.0 105.6 190.8 106.7 190.6 107.8 190.5 108.8 190.3 109.9 190.1 111.0 189.9 112.1 189.7 113.1 189.6 114.2 189.4 115.3 189.2 116.4 189.0 117.4 188.8 118.5 188.7 119.6 188.5 120.7 188.3 121.7 188.1 122.8 187.9 123.9 187.7 125.0 187.5 126.0 187.3 127.1 187.1 128.2 186.9 129.3 186.7 130.3 186.6 131.4 186.4 132.5 186.2 133.6 186.0 134.6 185.8 135.7 185.6 136.8 185.4 137.9 185.2 138.9 185.0 140.0 184.7 141.1 184.5 142.2 184.3 143.2 184.1 144.3 183.9 145.4 183.7 146.5 183.5 147.5 183.3 148.6 183.1 149.7 182.9 150.8 182.6 151.8 182.4 152.9 182.2 154.0 182.0 155.1 181.8 156.1 181.5 157.2 181.3 158.3 181.1 159.4 180.9 160.4 180.7 161.5 180.4 162.6 180.2 163.7 180.0 164.7 179.7 165.8 179.5 166.9 179.3 168.0 179.0 169.0 178.8 170.1 178.6 171.2 178.3 172.3 178.1 173.3 177.8 174.4 177.6 175.5 177.4 176.6 177.1 177.6 176.9 178.7 176.6 179.8 176.4 180.9 176.1 181.9 175.9 183.0 175.6 184.1 175.4 185.2 175.1 186.2 174.8 187.3 174.6 188.4 174.3 189.5 174.0 190.5 173.8 191.6 173.5 192.7 173.2 193.8 172.9 194.8 172.7 195.9 172.4 197.0 172.1 198.1 171.8 199.1 171.5 200.2 171.2 201.3 170.9 202.4 170.6 203.4 170.3 204.5 170.0 205.6 169.6 206.7 169.3 207.7 169.0 208.8 168.7 209.9 168.3 211.0 168.0 212.0 167.6 213.1 167.2 214.2 166.9 215.3 166.5 216.3 166.1 217.4 165.7 218.5 165.3 219.6 164.9 220.6 164.5 221.7 164.0 222.8 163.6 223.9 163.1 224.9 162.6 226.0 162.1 227.1 161.6 228.2 161.1 229.2 160.5 230.3 159.9 231.4 159.3 232.5 158.7 233.5 158.1 234.6 157.4 235.7 156.7 236.8 156.3 237.3 155.9 237.8 155.6 238.4 155.2 238.9 154.8 239.4 154.4 240.0 153.9 240.5 153.5 241.1 153.1 241.6 152.6 242.1 152.2 242.7 151.7 243.2 151.3 244.3 150.9 245.4 150.4 246.4 150.0 247.5 149.6 248.6 149.2 249.7 148.7 250.7 148.3 251.8 147.9 252.9 147.4 254.0 147.0 255.0 146.6 256.1 146.2 257.2 145.7 258.3 145.3 259.3 144.9 260.4 144.4 261.5 144.0 262.6 143.5 263.6 143.1 264.7 142.9 265.2" stroke="#454545" stroke-width="0.9"/>
<path d="M193.1 91.6 193.0 92.7 192.8 93.8 192.7 94.9 192.5 95.9 192.3 97.0 192.2 98.1 192.0 99.2 191.8 100.2 191.7 101.3 191.5 102.4 191.3 103.5 191.2 104.5 191.0 105.6" stroke="#285afa" stroke-width="1.4" stroke-dasharray="1.2 2.8"/>
<path d="M191.0 105.6 190.8 106.7 190.6 107.8 190.5 108.8 190.3 109.9 190.1 111.0 189.9 112.1 189.7 113.1 189.6 114.2 189.4 115.3 189.2 116.4 189.0 117.4 188.8 118.5 188.7 119.6 188.5 120.7 188.3 121.7 188.1 122.8 187.9 123.9 187.7 125.0 187.5 126.0 187.3 127.1 187.1 128.2 186.9 129.3 186.7 130.3" stroke="#377df5" stroke-width="1.4" stroke-dasharray="1.2 2.8"/>
<path d="M186.7 130.3 186.6 131.4 186.4 132.5 186.2 133.6 186.0 134.6 185.8 135.7" stroke="#46a0f0" stroke-width="1.4" stroke-dasharray="1.2 2.8"/>
<path d="M185.8 135.7 185.6 136.8 185.4 137.9 185.2 138.9 185.0 140.0 184.7 141.1 184.5 142.2 184.3 143.2 184.1 144.3 183.9 145.4 183.7 146.5 183.5 147.5 183.3 148.6 183.1 149.7 182.9 150.8 182.6 151.8" stroke="#46a0f0" stroke-width="1.4" stroke-dasharray="1.8 2.2"/>
<path d="M182.6 151.8 182.4 152.9 182.2 154.0 182.0 155.1 181.8 156.1 181.5 157.2 181.3 158.3 181.1 159.4 180.9 160.4 180.7 161.5 180.4 162.6" stroke="#4bc6e8" stroke-width="1.4" stroke-dasharray="1.8 2.2"/>
<path d="M180.4 162.6 180.2 163.7 180.0 164.7 179.7 165.8 179.5 166.9 179.3 168.0 179.0 169.0 178.8 170.1 178.6 171.2" stroke="#4bc6e8" stroke-width="1.4" stroke-dasharray="2.4 1.6"/>
<path d="M178.6 171.2 178.3 172.3 178.1 173.3 177.8 174.4 177.6 175.5 177.4 176.6 177.1 177.6 176.9 178.7 176.6 179.8 176.4 180.9 176.1 181.9 175.9 183.0 175.6 184.1 175.4 185.2 175.1 186.2 174.8 187.3 174.6 188.4 174.3 189.5 174.0 190.5" stroke="#50ebe1" stroke-width="1.4" stroke-dasharray="2.4 1.6"/>
<path d="M174.0 190.5 173.8 191.6 173.5 192.7 173.2 193.8" stroke="#5febc8" stroke-width="1.4" stroke-dasharray="2.4 1.6"/>
<path d="M173.2 193.8 172.9 194.8 172.7 195.9 172.4 197.0 172.1 198.1 171.8 199.1 171.5 200.2 171.2 201.3 170.9 202.4 170.6 203.4 170.3 204.5 170.0 205.6 169.6 206.7 169.3 207.7" stroke="#5febc8" stroke-width="1.4" stroke-dasharray="3.2 0.8"/>
<path d="M169.3 207.7 169.0 208.8 168.7 209.9 168.3 211.0 168.0 212.0 167.6 213.1 167.2 214.2 166.9 215.3 166.5 216.3 166.1 217.4 165.7 218.5 165.3 219.6 164.9 220.6 164.5 221.7 164.0 222.8 163.6 223.9 163.1 224.9" stroke="#6eebaf" stroke-width="1.4" stroke-dasharray="3.2 0.8"/>
<path d="M163.1 224.9 162.6 226.0 162.1 227.1 161.6 228.2 161.1 229.2 160.5 230.3" stroke="#69eb98" stroke-width="1.4" stroke-dasharray="3.2 0.8"/>
<path d="M160.5 230.3 159.9 231.4 159.3 232.5 158.7 233.5 158.1 234.6 157.4 235.7 156.7 236.8 156.3 237.3 155.9 237.8 155.6 238.4 155.2 238.9 154.8 239.4 154.4 240.0 153.9 240.5 153.5 241.1 153.1 241.6 152.6 242.1" stroke="#69eb98" stroke-width="1.4"/>
<path d="M152.6 242.1 152.2 242.7 151.7 243.2 151.3 244.3 150.9 245.4 150.4 246.4 150.0 247.5 149.6 248.6 149.2 249.7 148.7 250.7" stroke="#64eb82" stroke-width="1.4"/>
<path d="M148.7 250.7 148.3 251.8 147.9 252.9 147.4 254.0 147.0 255.0 146.6 256.1" stroke="#5ceb69" stroke-width="1.4"/>
<path d="M146.6 256.1 146.2 257.2 145.7 258.3 145.3 259.3 144.9 260.4 144.4 261.5" stroke="#55eb50" stroke-width="1.4"/>
<path d="M144.4 261.5 144.0 262.6 143.5 263.6 143.1 264.7 142.9 265.2" stroke="#55eb4b" stroke-width="1.4"/>
<path d="M185.7 95.1 185.5 96.1 185.4 97.2 185.2 98.3 185.0 99.4 184.9 100.4 184.7 101.5 184.5 102.6 184.4 103.7 184.2 104.7 184.0 105.8 183.8 106.9 183.7 108.0 183.5 109.0 183.3 110.1 183.1 111.2 183.0 112.3 182.8 113.3 182.6 114.4 182.4 115.5 182.2 116.6 182.1 117.6 181.9 118.7 181.7 119.8 181.5 120.9 181.3 121.9 181.1 123.0 181.0 124.1 180.8 125.2 180.6 126.2 180.4 127.3 180.2 128.4 180.0 129.5 179.8 130.5 179.6 131.6 179.5 132.7 179.3 133.8 179.1 134.8 178.9 135.9 178.7 137.0 178.5 138.1 178.3 139.1 178.1 140.2 177.9 141.3 177.7 142.4 177.5 143.4 177.3 144.5 177.1 145.6 176.9 146.7 176.7 147.7 176.5 148.8 176.3 149.9 176.1 151.0 175.9 152.0 175.7 153.1 175.5 154.2 175.3 155.3 175.0 156.3 174.8 157.4 174.6 158.5 174.4 159.6 174.2 160.6 174.0 161.7 173.8 162.8 173.6 163.9 173.3 164.9 173.1 166.0 172.9 167.1 172.7 168.2 172.5 169.2 172.2 170.3 172.0 171.4 171.8 172.5 171.6 173.5 171.3 174.6 171.1 175.7 170.9 176.8 170.7 177.8 170.4 178.9 170.2 180.0 170.0 181.1 169.7 182.1 169.5 183.2 169.3 184.3 169.0 185.4 168.8 186.4 168.5 187.5 168.3 188.6 168.0 189.7 167.8 190.7 167.5 191.8 167.3 192.9 167.0 194.0 166.8 195.0 166.5 196.1 166.2 197.2 166.0 198.3 165.7 199.3 165.4 200.4 165.2 201.5 164.9 202.6 164.6 203.6 164.3 204.7 164.0 205.8 163.7 206.9 163.4 207.9 163.1 209.0 162.8 210.1 162.5 211.2 162.2 212.2 161.8 213.3 161.5 214.4 161.2 215.5 160.8 216.5 160.5 217.6 160.1 218.7 159.7 219.8 159.3 220.8 158.9 221.9 158.5 223.0 158.1 224.1 157.7 225.1 157.2 226.2 156.8 227.3 156.3 228.4 155.8 229.4 155.3 230.5 154.8 231.6 154.2 232.7 153.6 233.7 153.0 234.8 152.4 235.9 151.8 237.0 151.1 238.0 150.4 239.1 150.0 239.7 149.6 240.2 149.2 240.7 148.8 241.3 148.4 241.8 148.0 242.3 147.6 242.9 147.1 243.4 146.8 244.5 146.4 245.6 146.0 246.6 145.6 247.7 145.2 248.8 144.9 249.9 144.5 250.9 144.1 252.0 143.7 253.1 143.3 254.2 142.9 255.2 142.5 256.3 142.2 257.4 141.8 258.5 141.4 259.5 141.0 260.6 140.6 261.7 140.2 262.8 139.8 263.8 139.4 264.9 139.0 266.0 138.8 266.5" stroke="#454545" stroke-width="0.9"/>
<path d="M185.7 95.1 185.5 96.1 185.4 97.2 185.2 98.3 185.0 99.4 184.9 100.4" stroke="#285afa" stroke-width="1.4" stroke-dasharray="1.2 2.8"/>
<path d="M184.9 100.4 184.7 101.5 184.5 102.6 184.4 103.7 184.2 104.7 184.0 105.8 183.8 106.9 183.7 108.0 183.5 109.0 183.3 110.1 183.1 111.2 183.0 112.3 182.8 113.3 182.6 114.4 182.4 115.5 182.2 116.6 182.1 117.6 181.9 118.7 181.7 119.8 181.5 120.9 181.3 121.9 181.1 123.0 181.0 124.1 180.8 125.2 180.6 126.2" stroke="#377df5" stroke-width="1.4" stroke-dasharray="1.2 2.8"/>
<path d="M180.6 126.2 180.4 127.3 180.2 128.4 180.0 129.5 179.8 130.5 179.6 131.6 179.5 132.7 179.3 133.8" stroke="#46a0f0" stroke-width="1.4" stroke-dasharray="1.2 2.8"/>
<path d="M179.3 133.8 179.1 134.8 178.9 135.9 178.7 137.0 178.5 138.1 178.3 139.1 178.1 140.2 177.9 141.3 177.7 142.4 177.5 143.4 177.3 144.5 177.1 145.6 176.9 146.7 176.7 147.7" stroke="#46a0f0" stroke-width="1.4" stroke-dasharray="1.8 2.2"/>
<path d="M176.7 147.7 176.5 148.8 176.3 149.9 176.1 151.0 175.9 152.0 175.7 153.1 175.5 154.2 175.3 155.3 175.0 156.3 174.8 157.4 174.6 158.5 174.4 159.6 174.2 160.6" stroke="#4bc6e8" stroke-width="1.4" stroke-dasharray="1.8 2.2"/>
<path d="M174.2 160.6 174.0 161.7 173.8 162.8 173.6 163.9 173.3 164.9 173.1 166.0 172.9 167.1" stroke="#4bc6e8" stroke-width="1.4" stroke-dasharray="2.4 1.6"/>
<path d="M172.9 167.1 172.7 168.2 172.5 169.2 172.2 170.3 172.0 171.4 171.8 172.5 171.6 173.5 171.3 174.6 171.1 175.7 170.9 176.8 170.7 177.8 170.4 178.9 170.2 180.0 170.0 181.1 169.7 182.1 169.5 183.2 169.3 184.3 169.0 185.4" stroke="#50ebe1" stroke-width="1.4" stroke-dasharray="2.4 1.6"/>
<path d="M169.0 185.4 168.8 186.4 168.5 187.5 168.3 188.6 168.0 189.7 167.8 190.7 167.5 191.8" stroke="#5febc8" stroke-width="1.4" stroke-dasharray="2.4 1.6"/>
<path d="M167.5 191.8 167.3 192.9 167.0 194.0 166.8 195.0 166.5 196.1 166.2 197.2 166.0 198.3 165.7 199.3 165.4 200.4 165.2 201.5 164.9 202.6" stroke="#5febc8" stroke-width="1.4" stroke-dasharray="3.2 0.8"/>
<path d="M164.9 202.6 164.6 203.6 164.3 204.7 164.0 205.8 163.7 206.9 163.4 207.9 163.1 209.0 162.8 210.1 162.5 211.2 162.2 212.2 161.8 213.3 161.5 214.4 161.2 215.5 160.8 216.5 160.5 217.6 160.1 218.7" stroke="#6eebaf" stroke-width="1.4" stroke-dasharray="3.2 0.8"/>
<path d="M160.1 218.7 159.7 219.8 159.3 220.8 158.9 221.9 158.5 223.0 158.1 224.1 157.7 225.1 157.2 226.2 156.8 227.3 156.3 228.4" stroke="#69eb98" stroke-width="1.4" stroke-dasharray="3.2 0.8"/>
<path d="M156.3 228.4 155.8 229.4 155.3 230.5 154.8 231.6 154.2 232.7 153.6 233.7 153.0 234.8" stroke="#69eb98" stroke-width="1.4"/>
<path d="M153.0 234.8 152.4 235.9 151.8 237.0 151.1 238.0 150.4 239.1 150.0 239.7 149.6 240.2 149.2 240.7 148.8 241.3 148.4 241.8 148.0 242.3 147.6 242.9 147.1 243.4 146.8 244.5 146.4 245.6 146.0 246.6 145.6 247.7" stroke="#64eb82" stroke-width="1.4"/>
<path d="M145.6 247.7 145.2 248.8 144.9 249.9 144.5 250.9 144.1 252.0 143.7 253.1 143.3 254.2" stroke="#5ceb69" stroke-width="1.4"/>
<path d="M143.3 254.2 142.9 255.2 142.5 256.3 142.2 257.4 141.8 258.5 141.4 259.5 141.0 260.6" stroke="#55eb50" stroke-width="1.4"/>
<path d="M141.0 260.6 140.6 261.7 140.2 262.8 139.8 263.8 139.4 264.9 139.0 266.0 138.8 266.5" stroke="#55eb4b" stroke-width="1.4"/>
<path d="M178.9 98.3 178.7 99.4 178.6 100.5 178.4 101.5 178.2 102.6 178.0 103.7 177.9 104.8 177.7 105.8 177.5 106.9 177.3 108.0 177.2 109.1 177.0 110.1 176.8 111.2 176.6 112.3 176.5 113.4 176.3 114.4 176.1 115.5 175.9 116.6 175.7 117.7 175.6 118.7 175.4 119.8 175.2 120.9 175.0 122.0 174.8 123.0 174.7 124.1 174.5 125.2 174.3 126.3 174.1 127.3 173.9 128.4 173.7 129.5 173.5 130.6 173.4 131.6 173.2 132.7 173.0 133.8 172.8 134.9 172.6 135.9 172.4 137.0 172.2 138.1 172.0 139.2 171.8 140.2 171.7 141.3 171.5 142.4 171.3 143.5 171.1 144.5 170.9 145.6 170.7 146.7 170.5 147.8 170.3 148.8 170.1 149.9 169.9 151.0 169.7 152.1 169.5 153.1 169.3 154.2 169.1 155.3 168.9 156.4 168.7 157.4 168.5 158.5 168.3 159.6 168.1 160.7 167.9 161.7 167.7 162.8 167.5 163.9 167.3 165.0 167.1 166.0 166.9 167.1 166.7 168.2 166.4 169.3 166.2 170.3 166.0 171.4 165.8 172.5 165.6 173.6 165.4 174.6 165.2 175.7 165.0 176.8 164.7 177.9 164.5 178.9 164.3 180.0 164.1 181.1 163.9 182.2 163.6 183.2 163.4 184.3 163.2 185.4 163.0 186.5 162.7 187.5 162.5 188.6 162.3 189.7 162.0 190.8 161.8 191.8 161.6 192.9 161.3 194.0 161.1 195.1 160.9 196.1 160.6 197.2 160.4 198.3 160.1 199.4 159.9 200.4 159.6 201.5 159.3 202.6 159.1 203.7 158.8 204.7 158.6 205.8 158.3 206.9 158.0 208.0 157.7 209.0 157.4 210.1 157.1 211.2 156.8 212.3 156.5 213.3 156.2 214.4 155.9 215.5 155.6 216.6 155.3 217.6 154.9 218.7 154.6 219.8 154.2 220.9 153.9 221.9 153.5 223.0 153.1 224.1 152.7 225.2 152.3 226.2 151.9 227.3 151.4 228.4 151.0 229.5 150.5 230.5 150.0 231.6 149.5 232.7 149.0 233.8 148.4 234.8 147.9 235.9 147.3 237.0 146.6 238.1 146.0 239.1 145.3 240.2 144.6 241.3 144.2 241.8 143.8 242.4 143.4 242.9 143.0 243.4 142.7 244.5 142.3 245.6 142.0 246.7 141.6 247.7 141.3 248.8 140.9 249.9 140.6 251.0 140.2 252.0 139.9 253.1 139.6 254.2 139.2 255.3 138.9 256.3 138.5 257.4 138.2 258.5 137.8 259.6 137.5 260.6 137.1 261.7 136.8 262.8 136.4 263.9 136.1 264.9 135.7 266.0 135.3 267.1" stroke="#454545" stroke-width="0.9"/>
<path d="M178.9 98.3 178.7 99.4 178.6 100.5 178.4 101.5 178.2 102.6 178.0 103.7 177.9 104.8 177.7 105.8 177.5 106.9 177.3 108.0 177.2 109.1 177.0 110.1 176.8 111.2 176.6 112.3 176.5 113.4 176.3 114.4 176.1 115.5 175.9 116.6 175.7 117.7 175.6 118.7 175.4 119.8 175.2 120.9 175.0 122.0 174.8 123.0" stroke="#377df5" stroke-width="1.4" stroke-dasharray="1.2 2.8"/>
<path d="M174.8 123.0 174.7 124.1 174.5 125.2 174.3 126.3 174.1 127.3 173.9 128.4 173.7 129.5 173.5 130.6 173.4 131.6 173.2 132.7" stroke="#46a0f0" stroke-width="1.4" stroke-dasharray="1.2 2.8"/>
<path d="M173.2 132.7 173.0 133.8 172.8 134.9 172.6 135.9 172.4 137.0 172.2 138.1 172.0 139.2 171.8 140.2 171.7 141.3 171.5 142.4 171.3 143.5 171.1 144.5" stroke="#46a0f0" stroke-width="1.4" stroke-dasharray="1.8 2.2"/>
<path d="M171.1 144.5 170.9 145.6 170.7 146.7 170.5 147.8 170.3 148.8 170.1 149.9 169.9 151.0 169.7 152.1 169.5 153.1 169.3 154.2 169.1 155.3 168.9 156.4 168.7 157.4 168.5 158.5 168.3 159.6" stroke="#4bc6e8" stroke-width="1.4" stroke-dasharray="1.8 2.2"/>
<path d="M168.3 159.6 168.1 160.7 167.9 161.7 167.7 162.8" stroke="#4bc6e8" stroke-width="1.4" stroke-dasharray="2.4 1.6"/>
<path d="M167.7 162.8 167.5 163.9 167.3 165.0 167.1 166.0 166.9 167.1 166.7 168.2 166.4 169.3 166.2 170.3 166.0 171.4 165.8 172.5 165.6 173.6 165.4 174.6 165.2 175.7 165.0 176.8 164.7 177.9 164.5 178.9 164.3 180.0" stroke="#50ebe1" stroke-width="1.4" stroke-dasharray="2.4 1.6"/>
<path d="M164.3 180.0 164.1 181.1 163.9 182.2 163.6 183.2 163.4 184.3 163.2 185.4 163.0 186.5 162.7 187.5 162.5 188.6 162.3 189.7 162.0 190.8" stroke="#5febc8" stroke-width="1.4" stroke-dasharray="2.4 1.6"/>
<path d="M162.0 190.8 161.8 191.8 161.6 192.9 161.3 194.0 161.1 195.1 160.9 196.1 160.6 197.2" stroke="#5febc8" stroke-width="1.4" stroke-dasharray="3.2 0.8"/>
<path d="M160.6 197.2 160.4 198.3 160.1 199.4 159.9 200.4 159.6 201.5 159.3 202.6 159.1 203.7 158.8 204.7 158.6 205.8 158.3 206.9 158.0 208.0 157.7 209.0 157.4 210.1 157.1 211.2 156.8 212.3" stroke="#6eebaf" stroke-width="1.4" stroke-dasharray="3.2 0.8"/>
<path d="M156.8 212.3 156.5 213.3 156.2 214.4 155.9 215.5 155.6 216.6 155.3 217.6 154.9 218.7 154.6 219.8 154.2 220.9 153.9 221.9 153.5 223.0 153.1 224.1 152.7 225.2 152.3 226.2" stroke="#69eb98" stroke-width="1.4" stroke-dasharray="3.2 0.8"/>
<path d="M152.3 226.2 151.9 227.3 151.4 228.4" stroke="#69eb98" stroke-width="1.4"/>
<path d="M151.4 228.4 151.0 229.5 150.5 230.5 150.0 231.6 149.5 232.7 149.0 233.8 148.4 234.8 147.9 235.9 147.3 237.0 146.6 238.1 146.0 239.1 145.3 240.2 144.6 241.3 144.2 241.8 143.8 242.4 143.4 242.9" stroke="#64eb82" stroke-width="1.4"/>
<path d="M143.4 242.9 143.0 243.4 142.7 244.5 142.3 245.6 142.0 246.7 141.6 247.7 141.3 248.8 140.9 249.9 140.6 251.0" stroke="#5ceb69" stroke-width="1.4"/>
<path d="M140.6 251.0 140.2 252.0 139.9 253.1 139.6 254.2 139.2 255.3 138.9 256.3 138.5 257.4" stroke="#55eb50" stroke-width="1.4"/>
<path d="M138.5 257.4 138.2 258.5 137.8 259.6 137.5 260.6 137.1 261.7 136.8 262.8 136.4 263.9" stroke="#55eb4b" stroke-width="1.4"/>
<path d="M136.4 263.9 136.1 264.9 135.7 266.0 135.3 267.1" stroke="#55eb46" stroke-width="1.4"/>
<path d="M172.1 101.6 171.9 102.6 171.7 103.7 171.6 104.8 171.4 105.9 171.2 106.9 171.0 108.0 170.9 109.1 170.7 110.2 170.5 111.2 170.3 112.3 170.2 113.4 170.0 114.5 169.8 115.5 169.6 116.6 169.4 117.7 169.3 118.8 169.1 119.8 168.9 120.9 168.7 122.0 168.5 123.1 168.3 124.1 168.2 125.2 168.0 126.3 167.8 127.4 167.6 128.4 167.4 129.5 167.2 130.6 167.1 131.7 166.9 132.7 166.7 133.8 166.5 134.9 166.3 136.0 166.1 137.0 166.0 138.1 165.8 139.2 165.6 140.3 165.4 141.3 165.2 142.4 165.0 143.5 164.8 144.6 164.6 145.6 164.4 146.7 164.3 147.8 164.1 148.9 163.9 149.9 163.7 151.0 163.5 152.1 163.3 153.2 163.1 154.2 162.9 155.3 162.7 156.4 162.5 157.5 162.3 158.5 162.1 159.6 161.9 160.7 161.8 161.8 161.6 162.8 161.4 163.9 161.2 165.0 161.0 166.1 160.8 167.1 160.6 168.2 160.4 169.3 160.2 170.4 160.0 171.4 159.8 172.5 159.6 173.6 159.4 174.7 159.2 175.7 159.0 176.8 158.8 177.9 158.5 179.0 158.3 180.0 158.1 181.1 157.9 182.2 157.7 183.3 157.5 184.3 157.3 185.4 157.1 186.5 156.9 187.6 156.7 188.6 156.4 189.7 156.2 190.8 156.0 191.9 155.8 192.9 155.6 194.0 155.3 195.1 155.1 196.2 154.9 197.2 154.7 198.3 154.4 199.4 154.2 200.5 154.0 201.5 153.7 202.6 153.5 203.7 153.2 204.8 153.0 205.8 152.7 206.9 152.5 208.0 152.2 209.1 151.9 210.1 151.7 211.2 151.4 212.3 151.1 213.4 150.8 214.4 150.6 215.5 150.3 216.6 150.0 217.7 149.6 218.7 149.3 219.8 149.0 220.9 148.7 222.0 148.3 223.0 148.0 224.1 147.6 225.2 147.2 226.3 146.8 227.3 146.4 228.4 146.0 229.5 145.6 230.6 145.1 231.6 144.7 232.7 144.2 233.8 143.7 234.9 143.2 235.9 142.6 237.0 142.0 238.1 141.4 239.2 140.8 240.2 140.1 241.3 139.4 242.4 138.7 243.5 138.4 244.5 138.1 245.6 137.8 246.7 137.5 247.8 137.2 248.8 136.9 249.9 136.6 251.0 136.3 252.1 135.9 253.1 135.6 254.2 135.3 255.3 135.0 256.4 134.7 257.4 134.4 258.5 134.1 259.6 133.8 260.7 133.5 261.7 133.1 262.8 132.8 263.9 132.5 265.0 132.2 266.0 131.9 267.1 131.6 268.2" stroke="#454545" stroke-width="0.9"/>
<path d="M172.1 101.6 171.9 102.6 171.7 103.7 171.6 104.8 171.4 105.9 171.2 106.9 171.0 108.0 170.9 109.1 170.7 110.2 170.5 111.2 170.3 112.3 170.2 113.4 170.0 114.5 169.8 115.5 169.6 116.6 169.4 117.7 169.3 118.8 169.1 119.8" stroke="#377df5" stroke-width="1.4" stroke-dasharray="1.2 2.8"/>
<path d="M169.1 119.8 168.9 120.9 168.7 122.0 168.5 123.1 168.3 124.1 168.2 125.2 168.0 126.3 167.8 127.4 167.6 128.4 167.4 129.5 167.2 130.6" stroke="#46a0f0" stroke-width="1.4" stroke-dasharray="1.2 2.8"/>
<path d="M167.2 130.6 167.1 131.7 166.9 132.7 166.7 133.8 166.5 134.9 166.3 136.0 166.1 137.0 166.0 138.1 165.8 139.2 165.6 140.3" stroke="#46a0f0" stroke-width="1.4" stroke-dasharray="1.8 2.2"/>
<path d="M165.6 140.3 165.4 141.3 165.2 142.4 165.0 143.5 164.8 144.6 164.6 145.6 164.4 146.7 164.3 147.8 164.1 148.9 163.9 149.9 163.7 151.0 163.5 152.1 163.3 153.2 163.1 154.2 162.9 155.3 162.7 156.4 162.5 157.5" stroke="#4bc6e8" stroke-width="1.4" stroke-dasharray="1.8 2.2"/>
<path d="M162.5 157.5 162.3 158.5" stroke="#4bc6e8" stroke-width="1.4" stroke-dasharray="2.4 1.6"/>
<path d="M162.3 158.5 162.1 159.6 161.9 160.7 161.8 161.8 161.6 162.8 161.4 163.9 161.2 165.0 161.0 166.1 160.8 167.1 160.6 168.2 160.4 169.3 160.2 170.4 160.0 171.4 159.8 172.5 159.6 173.6 159.4 174.7 159.2 175.7" stroke="#50ebe1" stroke-width="1.4" stroke-dasharray="2.4 1.6"/>
<path d="M159.2 175.7 159.0 176.8 158.8 177.9 158.5 179.0 158.3 180.0 158.1 181.1 157.9 182.2 157.7 183.3 157.5 184.3 157.3 185.4 157.1 186.5 156.9 187.6 156.7 188.6" stroke="#5febc8" stroke-width="1.4" stroke-dasharray="2.4 1.6"/>
<path d="M156.7 188.6 156.4 189.7 156.2 190.8 156.0 191.9" stroke="#5febc8" stroke-width="1.4" stroke-dasharray="3.2 0.8"/>
<path d="M156.0 191.9 155.8 192.9 155.6 194.0 155.3 195.1 155.1 196.2 154.9 197.2 154.7 198.3 154.4 199.4 154.2 200.5 154.0 201.5 153.7 202.6 153.5 203.7 153.2 204.8 153.0 205.8 152.7 206.9" stroke="#6eebaf" stroke-width="1.4" stroke-dasharray="3.2 0.8"/>
<path d="M152.7 206.9 152.5 208.0 152.2 209.1 151.9 210.1 151.7 211.2 151.4 212.3 151.1 213.4 150.8 214.4 150.6 215.5 150.3 216.6 150.0 217.7 149.6 218.7 149.3 219.8 149.0 220.9 148.7 222.0" stroke="#69eb98" stroke-width="1.4" stroke-dasharray="3.2 0.8"/>
<path d="M148.7 222.0 148.3 223.0 148.0 224.1 147.6 225.2" stroke="#64eb82" stroke-width="1.4" stroke-dasharray="3.2 0.8"/>
<path d="M147.6 225.2 147.2 226.3 146.8 227.3 146.4 228.4 146.0 229.5 145.6 230.6 145.1 231.6 144.7 232.7 144.2 233.8 143.7 234.9 143.2 235.9" stroke="#64eb82" stroke-width="1.4"/>
<path d="M143.2 235.9 142.6 237.0 142.0 238.1 141.4 239.2 140.8 240.2 140.1 241.3 139.4 242.4 138.7 243.5 138.4 244.5 138.1 245.6 137.8 246.7 137.5 247.8" stroke="#5ceb69" stroke-width="1.4"/>
<path d="M137.5 247.8 137.2 248.8 136.9 249.9 136.6 251.0 136.3 252.1 135.9 253.1 135.6 254.2 135.3 255.3" stroke="#55eb50" stroke-width="1.4"/>
<path d="M135.3 255.3 135.0 256.4 134.7 257.4 134.4 258.5 134.1 259.6 133.8 260.7 133.5 261.7" stroke="#55eb4b" stroke-width="1.4"/>
<path d="M133.5 261.7 133.1 262.8 132.8 263.9 132.5 265.0 132.2 266.0 131.9 267.1 131.6 268.2" stroke="#55eb46" stroke-width="1.4"/>
<path d="M165.9 105.3 165.7 106.4 165.5 107.5 165.4 108.5 165.2 109.6 165.0 110.7 164.8 111.8 164.6 112.8 164.5 113.9 164.3 115.0 164.1 116.1 163.9 117.1 163.7 118.2 163.6 119.3 163.4 120.4 163.2 121.4 163.0 122.5 162.8 123.6 162.6 124.7 162.5 125.7 162.3 126.8 162.1 127.9 161.9 129.0 161.7 130.0 161.5 131.1 161.4 132.2 161.2 133.3 161.0 134.3 160.8 135.4 160.6 136.5 160.4 137.6 160.3 138.6 160.1 139.7 159.9 140.8 159.7 141.9 159.5 142.9 159.3 144.0 159.2 145.1 159.0 146.2 158.8 147.2 158.6 148.3 158.4 149.4 158.2 150.5 158.0 151.5 157.9 152.6 157.7 153.7 157.5 154.8 157.3 155.8 157.1 156.9 156.9 158.0 156.7 159.1 156.5 160.1 156.4 161.2 156.2 162.3 156.0 163.4 155.8 164.4 155.6 165.5 155.4 166.6 155.2 167.7 155.0 168.7 154.8 169.8 154.6 170.9 154.4 172.0 154.3 173.0 154.1 174.1 153.9 175.2 153.7 176.3 153.5 177.3 153.3 178.4 153.1 179.5 152.9 180.6 152.7 181.6 152.5 182.7 152.3 183.8 152.1 184.9 151.9 185.9 151.7 187.0 151.5 188.1 151.3 189.2 151.1 190.2 150.9 191.3 150.7 192.4 150.5 193.5 150.3 194.5 150.0 195.6 149.8 196.7 149.6 197.8 149.4 198.8 149.2 199.9 149.0 201.0 148.7 202.1 148.5 203.1 148.3 204.2 148.1 205.3 147.8 206.4 147.6 207.4 147.3 208.5 147.1 209.6 146.9 210.7 146.6 211.7 146.3 212.8 146.1 213.9 145.8 215.0 145.5 216.0 145.3 217.1 145.0 218.2 144.7 219.3 144.4 220.3 144.1 221.4 143.8 222.5 143.4 223.6 143.1 224.6 142.8 225.7 142.4 226.8 142.0 227.9 141.7 228.9 141.3 230.0 140.9 231.1 140.4 232.2 140.0 233.2 139.5 234.3 139.0 235.4 138.5 236.5 138.0 237.5 137.5 238.6 136.9 239.7 136.3 240.8 135.6 241.8 135.0 242.9 134.5 244.0 134.2 245.1 133.9 246.1 133.6 247.2 133.4 248.3 133.1 249.4 132.8 250.4 132.5 251.5 132.2 252.6 132.0 253.7 131.7 254.7 131.4 255.8 131.1 256.9 130.8 258.0 130.6 259.0 130.3 260.1 130.0 261.2 129.7 262.3 129.4 263.3 129.2 264.4 128.9 265.5 128.6 266.6 128.3 267.6 128.0 268.7 127.9 269.3" stroke="#454545" stroke-width="0.9"/>
<path d="M165.9 105.3 165.7 106.4 165.5 107.5 165.4 108.5 165.2 109.6 165.0 110.7 164.8 111.8 164.6 112.8 164.5 113.9 164.3 115.0 164.1 116.1 163.9 117.1" stroke="#377df5" stroke-width="1.4" stroke-dasharray="1.2 2.8"/>
<path d="M163.9 117.1 163.7 118.2 163.6 119.3 163.4 120.4 163.2 121.4 163.0 122.5 162.8 123.6 162.6 124.7 162.5 125.7 162.3 126.8 162.1 127.9 161.9 129.0" stroke="#46a0f0" stroke-width="1.4" stroke-dasharray="1.2 2.8"/>
<path d="M161.9 129.0 161.7 130.0 161.5 131.1 161.4 132.2 161.2 133.3 161.0 134.3 160.8 135.4 160.6 136.5 160.4 137.6" stroke="#46a0f0" stroke-width="1.4" stroke-dasharray="1.8 2.2"/>
<path d="M160.4 137.6 160.3 138.6 160.1 139.7 159.9 140.8 159.7 141.9 159.5 142.9 159.3 144.0 159.2 145.1 159.0 146.2 158.8 147.2 158.6 148.3 158.4 149.4 158.2 150.5 158.0 151.5 157.9 152.6 157.7 153.7 157.5 154.8 157.3 155.8" stroke="#4bc6e8" stroke-width="1.4" stroke-dasharray="1.8 2.2"/>
<path d="M157.3 155.8 157.1 156.9 156.9 158.0 156.7 159.1 156.5 160.1 156.4 161.2 156.2 162.3 156.0 163.4 155.8 164.4 155.6 165.5 155.4 166.6 155.2 167.7 155.0 168.7 154.8 169.8 154.6 170.9 154.4 172.0" stroke="#50ebe1" stroke-width="1.4" stroke-dasharray="2.4 1.6"/>
<path d="M154.4 172.0 154.3 173.0 154.1 174.1 153.9 175.2 153.7 176.3 153.5 177.3 153.3 178.4 153.1 179.5 152.9 180.6 152.7 181.6 152.5 182.7 152.3 183.8 152.1 184.9 151.9 185.9 151.7 187.0" stroke="#5febc8" stroke-width="1.4" stroke-dasharray="2.4 1.6"/>
<path d="M151.7 187.0 151.5 188.1" stroke="#5febc8" stroke-width="1.4" stroke-dasharray="3.2 0.8"/>
<path d="M151.5 188.1 151.3 189.2 151.1 190.2 150.9 191.3 150.7 192.4 150.5 193.5 150.3 194.5 150.0 195.6 149.8 196.7 149.6 197.8 149.4 198.8 149.2 199.9 149.0 201.0 148.7 202.1" stroke="#6eebaf" stroke-width="1.4" stroke-dasharray="3.2 0.8"/>
<path d="M148.7 202.1 148.5 203.1 148.3 204.2 148.1 205.3 147.8 206.4 147.6 207.4 147.3 208.5 147.1 209.6 146.9 210.7 146.6 211.7 146.3 212.8 146.1 213.9 145.8 215.0 145.5 216.0 145.3 217.1" stroke="#69eb98" stroke-width="1.4" stroke-dasharray="3.2 0.8"/>
<path d="M145.3 217.1 145.0 218.2 144.7 219.3 144.4 220.3 144.1 221.4 143.8 222.5 143.4 223.6" stroke="#64eb82" stroke-width="1.4" stroke-dasharray="3.2 0.8"/>
<path d="M143.4 223.6 143.1 224.6 142.8 225.7 142.4 226.8 142.0 227.9 141.7 228.9 141.3 230.0" stroke="#64eb82" stroke-width="1.4"/>
<path d="M141.3 230.0 140.9 231.1 140.4 232.2 140.0 233.2 139.5 234.3 139.0 235.4 138.5 236.5 138.0 237.5 137.5 238.6 136.9 239.7 136.3 240.8 135.6 241.8 135.0 242.9 134.5 244.0" stroke="#5ceb69" stroke-width="1.4"/>
<path d="M134.5 244.0 134.2 245.1 133.9 246.1 133.6 247.2 133.4 248.3 133.1 249.4 132.8 250.4 132.5 251.5" stroke="#55eb50" stroke-width="1.4"/>
<path d="M132.5 251.5 132.2 252.6 132.0 253.7 131.7 254.7 131.4 255.8 131.1 256.9 130.8 258.0 130.6 259.0" stroke="#55eb4b" stroke-width="1.4"/>
<path d="M130.6 259.0 130.3 260.1 130.0 261.2 129.7 262.3 129.4 263.3 129.2 264.4 128.9 265.5 128.6 266.6" stroke="#55eb46" stroke-width="1.4"/>
<path d="M128.6 266.6 128.3 267.6 128.0 268.7 127.9 269.3" stroke="#52eb3c" stroke-width="1.4"/>
<path d="M160.3 109.0 160.1 110.0 159.9 111.1 159.8 112.2 159.6 113.3 159.4 114.3 159.2 115.4 159.0 116.5 158.8 117.6 158.7 118.6 158.5 119.7 158.3 120.8 158.1 121.9 157.9 122.9 157.7 124.0 157.6 125.1 157.4 126.2 157.2 127.2 157.0 128.3 156.8 129.4 156.6 130.5 156.5 131.5 156.3 132.6 156.1 133.7 155.9 134.8 155.7 135.8 155.5 136.9 155.4 138.0 155.2 139.1 155.0 140.1 154.8 141.2 154.6 142.3 154.4 143.4 154.3 144.4 154.1 145.5 153.9 146.6 153.7 147.7 153.5 148.7 153.3 149.8 153.2 150.9 153.0 152.0 152.8 153.0 152.6 154.1 152.4 155.2 152.2 156.3 152.1 157.3 151.9 158.4 151.7 159.5 151.5 160.6 151.3 161.6 151.1 162.7 150.9 163.8 150.8 164.9 150.6 165.9 150.4 167.0 150.2 168.1 150.0 169.2 149.8 170.2 149.6 171.3 149.5 172.4 149.3 173.5 149.1 174.5 148.9 175.6 148.7 176.7 148.5 177.8 148.3 178.8 148.1 179.9 147.9 181.0 147.8 182.1 147.6 183.1 147.4 184.2 147.2 185.3 147.0 186.4 146.8 187.4 146.6 188.5 146.4 189.6 146.2 190.7 146.0 191.7 145.8 192.8 145.6 193.9 145.4 195.0 145.2 196.0 145.0 197.1 144.8 198.2 144.6 199.3 144.4 200.3 144.2 201.4 143.9 202.5 143.7 203.6 143.5 204.6 143.3 205.7 143.1 206.8 142.8 207.9 142.6 208.9 142.4 210.0 142.1 211.1 141.9 212.2 141.7 213.2 141.4 214.3 141.1 215.4 140.9 216.5 140.6 217.5 140.3 218.6 140.1 219.7 139.8 220.8 139.5 221.8 139.2 222.9 138.9 224.0 138.5 225.1 138.2 226.1 137.9 227.2 137.5 228.3 137.1 229.4 136.8 230.4 136.4 231.5 135.9 232.6 135.5 233.7 135.1 234.7 134.6 235.8 134.1 236.9 133.6 238.0 133.1 239.0 132.5 240.1 131.9 241.2 131.3 242.3 130.6 243.3 130.4 244.4 130.1 245.5 129.9 246.6 129.6 247.6 129.3 248.7 129.1 249.8 128.8 250.9 128.5 251.9 128.3 253.0 128.0 254.1 127.8 255.2 127.5 256.2 127.2 257.3 127.0 258.4 126.7 259.5 126.5 260.5 126.2 261.6 125.9 262.7 125.7 263.8 125.4 264.8 125.2 265.9 124.9 267.0 124.6 268.1 124.4 269.1 124.1 270.2" stroke="#454545" stroke-width="0.9"/>
<path d="M160.3 109.0 160.1 110.0 159.9 111.1 159.8 112.2 159.6 113.3 159.4 114.3" stroke="#377df5" stroke-width="1.4" stroke-dasharray="1.2 2.8"/>
<path d="M159.4 114.3 159.2 115.4 159.0 116.5 158.8 117.6 158.7 118.6 158.5 119.7 158.3 120.8 158.1 121.9 157.9 122.9 157.7 124.0 157.6 125.1 157.4 126.2 157.2 127.2 157.0 128.3" stroke="#46a0f0" stroke-width="1.4" stroke-dasharray="1.2 2.8"/>
<path d="M157.0 128.3 156.8 129.4 156.6 130.5 156.5 131.5 156.3 132.6 156.1 133.7 155.9 134.8 155.7 135.8" stroke="#46a0f0" stroke-width="1.4" stroke-dasharray="1.8 2.2"/>
<path d="M155.7 135.8 155.5 136.9 155.4 138.0 155.2 139.1 155.0 140.1 154.8 141.2 154.6 142.3 154.4 143.4 154.3 144.4 154.1 145.5 153.9 146.6 153.7 147.7 153.5 148.7 153.3 149.8 153.2 150.9 153.0 152.0 152.8 153.0" stroke="#4bc6e8" stroke-width="1.4" stroke-dasharray="1.8 2.2"/>
<path d="M152.8 153.0 152.6 154.1 152.4 155.2" stroke="#50ebe1" stroke-width="1.4" stroke-dasharray="1.8 2.2"/>
<path d="M152.4 155.2 152.2 156.3 152.1 157.3 151.9 158.4 151.7 159.5 151.5 160.6 151.3 161.6 151.1 162.7 150.9 163.8 150.8 164.9 150.6 165.9 150.4 167.0 150.2 168.1 150.0 169.2" stroke="#50ebe1" stroke-width="1.4" stroke-dasharray="2.4 1.6"/>
<path d="M150.0 169.2 149.8 170.2 149.6 171.3 149.5 172.4 149.3 173.5 149.1 174.5 148.9 175.6 148.7 176.7 148.5 177.8 148.3 178.8 148.1 179.9 147.9 181.0 147.8 182.1 147.6 183.1 147.4 184.2" stroke="#5febc8" stroke-width="1.4" stroke-dasharray="2.4 1.6"/>
<path d="M147.4 184.2 147.2 185.3 147.0 186.4" stroke="#6eebaf" stroke-width="1.4" stroke-dasharray="2.4 1.6"/>
<path d="M147.0 186.4 146.8 187.4 146.6 188.5 146.4 189.6 146.2 190.7 146.0 191.7 145.8 192.8 145.6 193.9 145.4 195.0 145.2 196.0 145.0 197.1 144.8 198.2" stroke="#6eebaf" stroke-width="1.4" stroke-dasharray="3.2 0.8"/>
<path d="M144.8 198.2 144.6 199.3 144.4 200.3 144.2 201.4 143.9 202.5 143.7 203.6 143.5 204.6 143.3 205.7 143.1 206.8 142.8 207.9 142.6 208.9 142.4 210.0 142.1 211.1 141.9 212.2" stroke="#69eb98" stroke-width="1.4" stroke-dasharray="3.2 0.8"/>
<path d="M141.9 212.2 141.7 213.2 141.4 214.3 141.1 215.4 140.9 216.5 140.6 217.5 140.3 218.6 140.1 219.7 139.8 220.8 139.5 221.8" stroke="#64eb82" stroke-width="1.4" stroke-dasharray="3.2 0.8"/>
<path d="M139.5 221.8 139.2 222.9 138.9 224.0 138.5 225.1" stroke="#64eb82" stroke-width="1.4"/>
<path d="M138.5 225.1 138.2 226.1 137.9 227.2 137.5 228.3 137.1 229.4 136.8 230.4 136.4 231.5 135.9 232.6 135.5 233.7 135.1 234.7 134.6 235.8 134.1 236.9 133.6 238.0" stroke="#5ceb69" stroke-width="1.4"/>
<path d="M133.6 238.0 133.1 239.0 132.5 240.1 131.9 241.2 131.3 242.3 130.6 243.3 130.4 244.4 130.1 245.5 129.9 246.6 129.6 247.6 129.3 248.7" stroke="#55eb50" stroke-width="1.4"/>
<path d="M129.3 248.7 129.1 249.8 128.8 250.9 128.5 251.9 128.3 253.0 128.0 254.1 127.8 255.2 127.5 256.2" stroke="#55eb4b" stroke-width="1.4"/>
<path d="M127.5 256.2 127.2 257.3 127.0 258.4 126.7 259.5 126.5 260.5 126.2 261.6 125.9 262.7 125.7 263.8" stroke="#55eb46" stroke-width="1.4"/>
<path d="M125.7 263.8 125.4 264.8 125.2 265.9 124.9 267.0 124.6 268.1 124.4 269.1 124.1 270.2" stroke="#52eb3c" stroke-width="1.4"/>
<path d="M154.7 112.6 154.5 113.7 154.3 114.8 154.2 115.9 154.0 116.9 153.8 118.0 153.6 119.1 153.4 120.2 153.2 121.2 153.1 122.3 152.9 123.4 152.7 124.5 152.5 125.5 152.3 126.6 152.1 127.7 152.0 128.8 151.8 129.8 151.6 130.9 151.4 132.0 151.2 133.1 151.0 134.1 150.9 135.2 150.7 136.3 150.5 137.4 150.3 138.4 150.1 139.5 149.9 140.6 149.8 141.7 149.6 142.7 149.4 143.8 149.2 144.9 149.0 146.0 148.8 147.0 148.7 148.1 148.5 149.2 148.3 150.3 148.1 151.3 147.9 152.4 147.7 153.5 147.6 154.6 147.4 155.6 147.2 156.7 147.0 157.8 146.8 158.9 146.6 159.9 146.4 161.0 146.3 162.1 146.1 163.2 145.9 164.2 145.7 165.3 145.5 166.4 145.3 167.5 145.2 168.5 145.0 169.6 144.8 170.7 144.6 171.8 144.4 172.8 144.2 173.9 144.0 175.0 143.8 176.1 143.7 177.1 143.5 178.2 143.3 179.3 143.1 180.4 142.9 181.4 142.7 182.5 142.5 183.6 142.3 184.7 142.1 185.7 141.9 186.8 141.7 187.9 141.5 189.0 141.4 190.0 141.2 191.1 141.0 192.2 140.8 193.3 140.6 194.3 140.4 195.4 140.2 196.5 139.9 197.6 139.7 198.6 139.5 199.7 139.3 200.8 139.1 201.9 138.9 202.9 138.7 204.0 138.5 205.1 138.2 206.2 138.0 207.2 137.8 208.3 137.6 209.4 137.3 210.5 137.1 211.5 136.8 212.6 136.6 213.7 136.4 214.8 136.1 215.8 135.8 216.9 135.6 218.0 135.3 219.1 135.0 220.1 134.7 221.2 134.4 222.3 134.1 223.4 133.8 224.4 133.5 225.5 133.2 226.6 132.8 227.7 132.5 228.7 132.1 229.8 131.7 230.9 131.3 232.0 130.9 233.0 130.5 234.1 130.0 235.2 129.6 236.3 129.1 237.3 128.6 238.4 128.0 239.5 127.5 240.6 126.9 241.6 126.3 242.7 125.8 243.8 125.6 244.9 125.3 245.9 125.1 247.0 124.8 248.1 124.5 249.2 124.3 250.2 124.0 251.3 123.8 252.4 123.5 253.5 123.3 254.5 123.0 255.6 122.7 256.7 122.5 257.8 122.2 258.8 122.0 259.9 121.7 261.0 121.5 262.1 121.2 263.1 121.0 264.2 120.7 265.3 120.4 266.4 120.2 267.4 119.9 268.5 119.7 269.6 119.4 270.7 119.2 271.7" stroke="#454545" stroke-width="0.9"/>
<path d="M154.7 112.6 154.5 113.7 154.3 114.8 154.2 115.9 154.0 116.9 153.8 118.0 153.6 119.1 153.4 120.2 153.2 121.2 153.1 122.3 152.9 123.4 152.7 124.5 152.5 125.5 152.3 126.6" stroke="#46a0f0" stroke-width="1.4" stroke-dasharray="1.2 2.8"/>
<path d="M152.3 126.6 152.1 127.7 152.0 128.8 151.8 129.8 151.6 130.9 151.4 132.0 151.2 133.1" stroke="#46a0f0" stroke-width="1.4" stroke-dasharray="1.8 2.2"/>
<path d="M151.2 133.1 151.0 134.1 150.9 135.2 150.7 136.3 150.5 137.4 150.3 138.4 150.1 139.5 149.9 140.6 149.8 141.7 149.6 142.7 149.4 143.8 149.2 144.9 149.0 146.0 148.8 147.0 148.7 148.1 148.5 149.2 148.3 150.3" stroke="#4bc6e8" stroke-width="1.4" stroke-dasharray="1.8 2.2"/>
<path d="M148.3 150.3 148.1 151.3 147.9 152.4 147.7 153.5" stroke="#50ebe1" stroke-width="1.4" stroke-dasharray="1.8 2.2"/>
<path d="M147.7 153.5 147.6 154.6 147.4 155.6 147.2 156.7 147.0 157.8 146.8 158.9 146.6 159.9 146.4 161.0 146.3 162.1 146.1 163.2 145.9 164.2 145.7 165.3 145.5 166.4" stroke="#50ebe1" stroke-width="1.4" stroke-dasharray="2.4 1.6"/>
<path d="M145.5 166.4 145.3 167.5 145.2 168.5 145.0 169.6 144.8 170.7 144.6 171.8 144.4 172.8 144.2 173.9 144.0 175.0 143.8 176.1 143.7 177.1 143.5 178.2 143.3 179.3 143.1 180.4" stroke="#5febc8" stroke-width="1.4" stroke-dasharray="2.4 1.6"/>
<path d="M143.1 180.4 142.9 181.4 142.7 182.5 142.5 183.6 142.3 184.7" stroke="#6eebaf" stroke-width="1.4" stroke-dasharray="2.4 1.6"/>
<path d="M142.3 184.7 142.1 185.7 141.9 186.8 141.7 187.9 141.5 189.0 141.4 190.0 141.2 191.1 141.0 192.2 140.8 193.3 140.6 194.3" stroke="#6eebaf" stroke-width="1.4" stroke-dasharray="3.2 0.8"/>
<path d="M140.6 194.3 140.4 195.4 140.2 196.5 139.9 197.6 139.7 198.6 139.5 199.7 139.3 200.8 139.1 201.9 138.9 202.9 138.7 204.0 138.5 205.1 138.2 206.2 138.0 207.2" stroke="#69eb98" stroke-width="1.4" stroke-dasharray="3.2 0.8"/>
<path d="M138.0 207.2 137.8 208.3 137.6 209.4 137.3 210.5 137.1 211.5 136.8 212.6 136.6 213.7 136.4 214.8 136.1 215.8 135.8 216.9 135.6 218.0 135.3 219.1 135.0 220.1" stroke="#64eb82" stroke-width="1.4" stroke-dasharray="3.2 0.8"/>
<path d="M135.0 220.1 134.7 221.2 134.4 222.3 134.1 223.4 133.8 224.4 133.5 225.5 133.2 226.6 132.8 227.7 132.5 228.7 132.1 229.8 131.7 230.9 131.3 232.0 130.9 233.0" stroke="#5ceb69" stroke-width="1.4"/>
<path d="M130.9 233.0 130.5 234.1 130.0 235.2 129.6 236.3 129.1 237.3 128.6 238.4 128.0 239.5 127.5 240.6 126.9 241.6 126.3 242.7 125.8 243.8 125.6 244.9" stroke="#55eb50" stroke-width="1.4"/>
<path d="M125.6 244.9 125.3 245.9 125.1 247.0 124.8 248.1 124.5 249.2 124.3 250.2 124.0 251.3 123.8 252.4 123.5 253.5" stroke="#55eb4b" stroke-width="1.4"/>
<path d="M123.5 253.5 123.3 254.5 123.0 255.6 122.7 256.7 122.5 257.8 122.2 258.8 122.0 259.9 121.7 261.0" stroke="#55eb46" stroke-width="1.4"/>
<path d="M121.7 261.0 121.5 262.1 121.2 263.1 121.0 264.2 120.7 265.3 120.4 266.4 120.2 267.4 119.9 268.5" stroke="#52eb3c" stroke-width="1.4"/>
<path d="M119.9 268.5 119.7 269.6 119.4 270.7 119.2 271.7" stroke="#50eb32" stroke-width="1.4"/>
<path d="M149.5 119.1 149.1 122.3 148.6 125.5 148.2 128.7 147.7 131.9 147.2 135.0 146.8 138.2 146.3 141.4 145.8 144.6 145.3 147.8 144.8 151.0 144.3 154.1 143.8 157.3 143.3 160.5 142.7 163.7 142.2 166.9 141.7 170.0 141.1 173.2 140.5 176.4 140.0 179.6 139.4 182.8 138.8 186.0 138.2 189.1 137.6 192.3 137.0 195.5 136.4 198.7 135.8 201.9 135.2 205.0 134.6 208.2 133.9 211.4 133.3 214.6 132.6 217.8 132.0 220.9 131.3 224.1 130.6 227.3 129.9 230.5 129.3 233.7 128.6 236.9 127.9 240.0 127.1 243.2 126.4 246.4 126.2 247.5 126.0 248.6 125.8 249.6 125.6 250.7 125.4 251.8 125.2 252.8 125.0 253.9 124.8 255.0 124.6 256.1 124.4 257.1 124.2 258.2 124.0 259.3 123.9 260.4 123.7 261.4 123.5 262.5 123.3 263.6 123.1 264.7 122.9 265.8 122.7 266.8 122.5 267.9" stroke="#454545" stroke-width="0.9"/>
<path d="M149.5 119.1 149.1 122.3 148.6 125.5" stroke="#46a0f0" stroke-width="1.4" stroke-dasharray="1.2 2.8"/>
<path d="M148.6 125.5 148.2 128.7 147.7 131.9" stroke="#46a0f0" stroke-width="1.4" stroke-dasharray="1.8 2.2"/>
<path d="M147.7 131.9 147.2 135.0 146.8 138.2 146.3 141.4 145.8 144.6 145.3 147.8 144.8 151.0" stroke="#4bc6e8" stroke-width="1.4" stroke-dasharray="1.8 2.2"/>
<path d="M144.8 151.0 144.3 154.1 143.8 157.3 143.3 160.5 142.7 163.7" stroke="#50ebe1" stroke-width="1.4" stroke-dasharray="2.4 1.6"/>
<path d="M142.7 163.7 142.2 166.9 141.7 170.0 141.1 173.2 140.5 176.4 140.0 179.6" stroke="#5febc8" stroke-width="1.4" stroke-dasharray="2.4 1.6"/>
<path d="M140.0 179.6 139.4 182.8" stroke="#6eebaf" stroke-width="1.4" stroke-dasharray="2.4 1.6"/>
<path d="M139.4 182.8 138.8 186.0 138.2 189.1 137.6 192.3" stroke="#6eebaf" stroke-width="1.4" stroke-dasharray="3.2 0.8"/>
<path d="M137.6 192.3 137.0 195.5 136.4 198.7 135.8 201.9 135.2 205.0" stroke="#69eb98" stroke-width="1.4" stroke-dasharray="3.2 0.8"/>
<path d="M135.2 205.0 134.6 208.2 133.9 211.4 133.3 214.6" stroke="#64eb82" stroke-width="1.4" stroke-dasharray="3.2 0.8"/>
<path d="M133.3 214.6 132.6 217.8" stroke="#5ceb69" stroke-width="1.4" stroke-dasharray="3.2 0.8"/>
<path d="M132.6 217.8 132.0 220.9 131.3 224.1 130.6 227.3" stroke="#5ceb69" stroke-width="1.4"/>
<path d="M130.6 227.3 129.9 230.5 129.3 233.7 128.6 236.9 127.9 240.0" stroke="#55eb50" stroke-width="1.4"/>
<path d="M127.9 240.0 127.1 243.2 126.4 246.4 126.2 247.5 126.0 248.6" stroke="#55eb4b" stroke-width="1.4"/>
<path d="M126.0 248.6 125.8 249.6 125.6 250.7 125.4 251.8 125.2 252.8 125.0 253.9 124.8 255.0" stroke="#55eb46" stroke-width="1.4"/>
<path d="M124.8 255.0 124.6 256.1 124.4 257.1 124.2 258.2 124.0 259.3 123.9 260.4 123.7 261.4 123.5 262.5" stroke="#52eb3c" stroke-width="1.4"/>
<path d="M123.5 262.5 123.3 263.6 123.1 264.7 122.9 265.8 122.7 266.8 122.5 267.9" stroke="#50eb32" stroke-width="1.4"/>
<path d="M144.5 125.9 144.1 128.9 143.7 131.9 143.3 134.9 142.9 137.9 142.5 140.9 142.1 144.0 141.6 147.0 141.2 150.0 140.8 153.0 140.3 156.0 139.8 159.0 139.4 162.0 138.9 165.1 138.4 168.1 138.0 171.1 137.5 174.1 137.0 177.1 136.5 180.1 136.0 183.1 135.5 186.1 134.9 189.2 134.4 192.2 133.9 195.2 133.3 198.2 132.8 201.2 132.2 204.2 131.7 207.2 131.1 210.2 130.5 213.3 130.0 216.3 129.4 219.3 128.8 222.3 128.2 225.3 127.6 228.3 127.0 231.3 126.4 234.3 125.7 237.4 125.1 240.4 124.5 243.4 123.8 246.4 123.6 247.5 123.4 248.6 123.2 249.6 123.0 250.7 122.8 251.8 122.6 252.8 122.4 253.9 122.2 255.0 122.1 256.1 121.9 257.1 121.7 258.2 121.5 259.3 121.3 260.4 121.1 261.4 120.9 262.5 120.7 263.6 120.5 264.7 120.3 265.8 120.1 266.8 119.9 267.9 119.7 269.0" stroke="#454545" stroke-width="0.9"/>
<path d="M144.5 125.9 144.1 128.9 143.7 131.9 143.3 134.9" stroke="#46a0f0" stroke-width="1.4" stroke-dasharray="1.8 2.2"/>
<path d="M143.3 134.9 142.9 137.9 142.5 140.9 142.1 144.0 141.6 147.0 141.2 150.0" stroke="#4bc6e8" stroke-width="1.4" stroke-dasharray="1.8 2.2"/>
<path d="M141.2 150.0 140.8 153.0 140.3 156.0 139.8 159.0 139.4 162.0 138.9 165.1" stroke="#50ebe1" stroke-width="1.4" stroke-dasharray="2.4 1.6"/>
<path d="M138.9 165.1 138.4 168.1 138.0 171.1 137.5 174.1 137.0 177.1" stroke="#5febc8" stroke-width="1.4" stroke-dasharray="2.4 1.6"/>
<path d="M137.0 177.1 136.5 180.1" stroke="#6eebaf" stroke-width="1.4" stroke-dasharray="2.4 1.6"/>
<path d="M136.5 180.1 136.0 183.1 135.5 186.1 134.9 189.2" stroke="#6eebaf" stroke-width="1.4" stroke-dasharray="3.2 0.8"/>
<path d="M134.9 189.2 134.4 192.2 133.9 195.2 133.3 198.2 132.8 201.2" stroke="#69eb98" stroke-width="1.4" stroke-dasharray="3.2 0.8"/>
<path d="M132.8 201.2 132.2 204.2 131.7 207.2 131.1 210.2 130.5 213.3" stroke="#64eb82" stroke-width="1.4" stroke-dasharray="3.2 0.8"/>
<path d="M130.5 213.3 130.0 216.3" stroke="#5ceb69" stroke-width="1.4" stroke-dasharray="3.2 0.8"/>
<path d="M130.0 216.3 129.4 219.3 128.8 222.3" stroke="#5ceb69" stroke-width="1.4"/>
<path d="M128.8 222.3 128.2 225.3 127.6 228.3 127.0 231.3 126.4 234.3" stroke="#55eb50" stroke-width="1.4"/>
<path d="M126.4 234.3 125.7 237.4 125.1 240.4 124.5 243.4" stroke="#55eb4b" stroke-width="1.4"/>
<path d="M124.5 243.4 123.8 246.4 123.6 247.5 123.4 248.6 123.2 249.6 123.0 250.7 122.8 251.8 122.6 252.8" stroke="#55eb46" stroke-width="1.4"/>
<path d="M122.6 252.8 122.4 253.9 122.2 255.0 122.1 256.1 121.9 257.1 121.7 258.2 121.5 259.3" stroke="#52eb3c" stroke-width="1.4"/>
<path d="M121.5 259.3 121.3 260.4 121.1 261.4 120.9 262.5 120.7 263.6 120.5 264.7 120.3 265.8 120.1 266.8" stroke="#50eb32" stroke-width="1.4"/>
<path d="M120.1 266.8 119.9 267.9 119.7 269.0" stroke="#52eb30" stroke-width="1.4"/>
<path d="M139.5 132.7 139.2 135.5 138.8 138.3 138.4 141.2 138.1 144.0 137.7 146.9 137.3 149.7 137.0 152.6 136.6 155.4 136.2 158.3 135.8 161.1 135.4 163.9 135.0 166.8 134.6 169.6 134.1 172.5 133.7 175.3 133.3 178.2 132.9 181.0 132.4 183.8 132.0 186.7 131.5 189.5 131.1 192.4 130.6 195.2 130.1 198.1 129.6 200.9 129.2 203.7 128.7 206.6 128.2 209.4 127.7 212.3 127.2 215.1 126.7 218.0 126.1 220.8 125.6 223.7 125.1 226.5 124.6 229.3 124.0 232.2 123.5 235.0 122.9 237.9 122.4 240.7 121.8 243.6 121.2 246.4 121.0 247.5 120.8 248.6 120.6 249.6 120.4 250.7 120.3 251.8 120.1 252.8 119.9 253.9 119.7 255.0 119.5 256.1 119.3 257.1 119.1 258.2 118.9 259.3 118.7 260.4 118.5 261.4 118.3 262.5 118.1 263.6 117.9 264.7 117.7 265.8 117.5 266.8 117.3 267.9 117.1 269.0 117.0 269.5" stroke="#454545" stroke-width="0.9"/>
<path d="M139.5 132.7 139.2 135.5" stroke="#46a0f0" stroke-width="1.4" stroke-dasharray="1.8 2.2"/>
<path d="M139.2 135.5 138.8 138.3 138.4 141.2 138.1 144.0 137.7 146.9 137.3 149.7" stroke="#4bc6e8" stroke-width="1.4" stroke-dasharray="1.8 2.2"/>
<path d="M137.3 149.7 137.0 152.6" stroke="#4bc6e8" stroke-width="1.4" stroke-dasharray="2.4 1.6"/>
<path d="M137.0 152.6 136.6 155.4 136.2 158.3 135.8 161.1 135.4 163.9 135.0 166.8" stroke="#50ebe1" stroke-width="1.4" stroke-dasharray="2.4 1.6"/>
<path d="M135.0 166.8 134.6 169.6 134.1 172.5 133.7 175.3 133.3 178.2" stroke="#5febc8" stroke-width="1.4" stroke-dasharray="2.4 1.6"/>
<path d="M133.3 178.2 132.9 181.0" stroke="#6eebaf" stroke-width="1.4" stroke-dasharray="2.4 1.6"/>
<path d="M132.9 181.0 132.4 183.8 132.0 186.7 131.5 189.5" stroke="#6eebaf" stroke-width="1.4" stroke-dasharray="3.2 0.8"/>
<path d="M131.5 189.5 131.1 192.4 130.6 195.2 130.1 198.1 129.6 200.9" stroke="#69eb98" stroke-width="1.4" stroke-dasharray="3.2 0.8"/>
<path d="M129.6 200.9 129.2 203.7 128.7 206.6 128.2 209.4" stroke="#64eb82" stroke-width="1.4" stroke-dasharray="3.2 0.8"/>
<path d="M128.2 209.4 127.7 212.3 127.2 215.1" stroke="#5ceb69" stroke-width="1.4" stroke-dasharray="3.2 0.8"/>
<path d="M127.2 215.1 126.7 218.0 126.1 220.8" stroke="#5ceb69" stroke-width="1.4"/>
<path d="M126.1 220.8 125.6 223.7 125.1 226.5 124.6 229.3" stroke="#55eb50" stroke-width="1.4"/>
<path d="M124.6 229.3 124.0 232.2 123.5 235.0 122.9 237.9 122.4 240.7" stroke="#55eb4b" stroke-width="1.4"/>
<path d="M122.4 240.7 121.8 243.6 121.2 246.4 121.0 247.5 120.8 248.6 120.6 249.6" stroke="#55eb46" stroke-width="1.4"/>
<path d="M120.6 249.6 120.4 250.7 120.3 251.8 120.1 252.8 119.9 253.9 119.7 255.0 119.5 256.1" stroke="#52eb3c" stroke-width="1.4"/>
<path d="M119.5 256.1 119.3 257.1 119.1 258.2 118.9 259.3 118.7 260.4 118.5 261.4 118.3 262.5 118.1 263.6" stroke="#50eb32" stroke-width="1.4"/>
<path d="M118.1 263.6 117.9 264.7 117.7 265.8 117.5 266.8 117.3 267.9 117.1 269.0 117.0 269.5" stroke="#52eb30" stroke-width="1.4"/>
<path d="M134.5 140.8 134.2 143.4 133.9 146.1 133.6 148.7 133.3 151.4 133.0 154.0 132.6 156.6 132.3 159.3 132.0 161.9 131.6 164.6 131.3 167.2 130.9 169.8 130.6 172.5 130.2 175.1 129.9 177.8 129.5 180.4 129.1 183.0 128.7 185.7 128.3 188.3 128.0 191.0 127.6 193.6 127.2 196.2 126.8 198.9 126.4 201.5 125.9 204.2 125.5 206.8 125.1 209.4 124.7 212.1 124.2 214.7 123.8 217.4 123.4 220.0 122.9 222.6 122.5 225.3 122.0 227.9 121.5 230.6 121.1 233.2 120.6 235.8 120.1 238.5 119.6 241.1 119.1 243.8 118.6 246.4 118.5 247.5 118.3 248.6 118.1 249.6 117.9 250.7 117.7 251.8 117.5 252.8 117.3 253.9 117.1 255.0 116.9 256.1 116.7 257.1 116.5 258.2 116.3 259.3 116.1 260.4 115.9 261.4 115.7 262.5 115.5 263.6 115.3 264.7 115.1 265.8 114.9 266.8 114.7 267.9 114.5 269.0 114.3 270.1 114.1 271.1" stroke="#454545" stroke-width="0.9"/>
<path d="M134.5 140.8 134.2 143.4 133.9 146.1 133.6 148.7" stroke="#4bc6e8" stroke-width="1.4" stroke-dasharray="1.8 2.2"/>
<path d="M133.6 148.7 133.3 151.4 133.0 154.0 132.6 156.6" stroke="#4bc6e8" stroke-width="1.4" stroke-dasharray="2.4 1.6"/>
<path d="M132.6 156.6 132.3 159.3 132.0 161.9 131.6 164.6 131.3 167.2" stroke="#50ebe1" stroke-width="1.4" stroke-dasharray="2.4 1.6"/>
<path d="M131.3 167.2 130.9 169.8 130.6 172.5 130.2 175.1 129.9 177.8" stroke="#5febc8" stroke-width="1.4" stroke-dasharray="2.4 1.6"/>
<path d="M129.9 177.8 129.5 180.4" stroke="#5febc8" stroke-width="1.4" stroke-dasharray="3.2 0.8"/>
<path d="M129.5 180.4 129.1 183.0 128.7 185.7 128.3 188.3 128.0 191.0" stroke="#6eebaf" stroke-width="1.4" stroke-dasharray="3.2 0.8"/>
<path d="M128.0 191.0 127.6 193.6 127.2 196.2 126.8 198.9" stroke="#69eb98" stroke-width="1.4" stroke-dasharray="3.2 0.8"/>
<path d="M126.8 198.9 126.4 201.5 125.9 204.2 125.5 206.8 125.1 209.4" stroke="#64eb82" stroke-width="1.4" stroke-dasharray="3.2 0.8"/>
<path d="M125.1 209.4 124.7 212.1 124.2 214.7" stroke="#5ceb69" stroke-width="1.4" stroke-dasharray="3.2 0.8"/>
<path d="M124.2 214.7 123.8 217.4 123.4 220.0" stroke="#5ceb69" stroke-width="1.4"/>
<path d="M123.4 220.0 122.9 222.6 122.5 225.3 122.0 227.9" stroke="#55eb50" stroke-width="1.4"/>
<path d="M122.0 227.9 121.5 230.6 121.1 233.2 120.6 235.8" stroke="#55eb4b" stroke-width="1.4"/>
<path d="M120.6 235.8 120.1 238.5 119.6 241.1 119.1 243.8 118.6 246.4" stroke="#55eb46" stroke-width="1.4"/>
<path d="M118.6 246.4 118.5 247.5 118.3 248.6 118.1 249.6 117.9 250.7 117.7 251.8 117.5 252.8 117.3 253.9" stroke="#52eb3c" stroke-width="1.4"/>
<path d="M117.3 253.9 117.1 255.0 116.9 256.1 116.7 257.1 116.5 258.2 116.3 259.3 116.1 260.4 115.9 261.4" stroke="#50eb32" stroke-width="1.4"/>
<path d="M115.9 261.4 115.7 262.5 115.5 263.6 115.3 264.7 115.1 265.8 114.9 266.8 114.7 267.9 114.5 269.0" stroke="#52eb30" stroke-width="1.4"/>
<path d="M114.5 269.0 114.3 270.1 114.1 271.1" stroke="#55eb2d" stroke-width="1.4"/>
<path d="M148.6 117.4 148.0 120.6 147.4 123.8 146.7 127.1 146.1 130.3 145.4 133.5 144.8 136.8 144.1 140.0 143.4 143.2 142.7 146.4 142.0 149.7 141.3 152.9 140.6 156.1 139.8 159.3 139.1 162.6 138.3 165.8 137.5 169.0 136.8 172.2 136.0 175.4 135.2 178.7 134.4 181.9 133.5 185.1 132.7 188.3 131.9 191.6 131.0 194.8 130.2 198.0 129.3 201.2 128.4 204.5 127.5 207.7 126.6 210.9 125.7 214.2 124.8 217.4 123.9 220.6 122.9 223.8 122.0 227.1 121.0 230.3 120.0 233.5 119.1 236.7 118.1 239.9 117.1 243.2 116.1 246.4 115.9 247.5 115.7 248.6 115.5 249.6 115.3 250.7 115.1 251.8 114.9 252.8 114.7 253.9 114.5 255.0 114.3 256.1 114.1 257.1 113.9 258.2 113.7 259.3 113.5 260.4 113.3 261.4 113.1 262.5 112.9 263.6 112.7 264.7 112.5 265.8 112.3 266.8 112.1 267.9 111.9 269.0 111.7 270.1 111.5 271.1 111.3 272.2" stroke="#454545" stroke-width="0.9"/>
<path d="M148.6 117.4 148.0 120.6 147.4 123.8" stroke="#4bc6e8" stroke-width="1.4" stroke-dasharray="1.2 2.8"/>
<path d="M147.4 123.8 146.7 127.1 146.1 130.3" stroke="#4bc6e8" stroke-width="1.4" stroke-dasharray="1.8 2.2"/>
<path d="M146.1 130.3 145.4 133.5 144.8 136.8 144.1 140.0 143.4 143.2 142.7 146.4" stroke="#50ebe1" stroke-width="1.4" stroke-dasharray="1.8 2.2"/>
<path d="M142.7 146.4 142.0 149.7" stroke="#5febc8" stroke-width="1.4" stroke-dasharray="1.8 2.2"/>
<path d="M142.0 149.7 141.3 152.9 140.6 156.1 139.8 159.3" stroke="#5febc8" stroke-width="1.4" stroke-dasharray="2.4 1.6"/>
<path d="M139.8 159.3 139.1 162.6 138.3 165.8 137.5 169.0 136.8 172.2" stroke="#6eebaf" stroke-width="1.4" stroke-dasharray="2.4 1.6"/>
<path d="M136.8 172.2 136.0 175.4 135.2 178.7 134.4 181.9" stroke="#69eb98" stroke-width="1.4" stroke-dasharray="2.4 1.6"/>
<path d="M134.4 181.9 133.5 185.1" stroke="#69eb98" stroke-width="1.4" stroke-dasharray="3.2 0.8"/>
<path d="M133.5 185.1 132.7 188.3 131.9 191.6 131.0 194.8 130.2 198.0" stroke="#64eb82" stroke-width="1.4" stroke-dasharray="3.2 0.8"/>
<path d="M130.2 198.0 129.3 201.2 128.4 204.5 127.5 207.7" stroke="#5ceb69" stroke-width="1.4" stroke-dasharray="3.2 0.8"/>
<path d="M127.5 207.7 126.6 210.9 125.7 214.2 124.8 217.4" stroke="#55eb50" stroke-width="1.4" stroke-dasharray="3.2 0.8"/>
<path d="M124.8 217.4 123.9 220.6" stroke="#55eb50" stroke-width="1.4"/>
<path d="M123.9 220.6 122.9 223.8 122.0 227.1 121.0 230.3" stroke="#55eb4b" stroke-width="1.4"/>
<path d="M121.0 230.3 120.0 233.5 119.1 236.7 118.1 239.9" stroke="#55eb46" stroke-width="1.4"/>
<path d="M118.1 239.9 117.1 243.2 116.1 246.4 115.9 247.5 115.7 248.6 115.5 249.6 115.3 250.7" stroke="#52eb3c" stroke-width="1.4"/>
<path d="M115.3 250.7 115.1 251.8 114.9 252.8 114.7 253.9 114.5 255.0 114.3 256.1 114.1 257.1 113.9 258.2" stroke="#50eb32" stroke-width="1.4"/>
<path d="M113.9 258.2 113.7 259.3 113.5 260.4 113.3 261.4 113.1 262.5 112.9 263.6 112.7 264.7 112.5 265.8 112.3 266.8" stroke="#52eb30" stroke-width="1.4"/>
<path d="M112.3 266.8 112.1 267.9 111.9 269.0 111.7 270.1 111.5 271.1 111.3 272.2" stroke="#55eb2d" stroke-width="1.4"/>
<path d="M143.1 117.4 142.5 120.6 142.0 123.8 141.4 127.1 140.8 130.3 140.2 133.5 139.6 136.8 139.0 140.0 138.4 143.2 137.7 146.4 137.1 149.7 136.4 152.9 135.8 156.1 135.1 159.3 134.4 162.6 133.7 165.8 133.0 169.0 132.3 172.2 131.6 175.4 130.9 178.7 130.1 181.9 129.4 185.1 128.6 188.3 127.9 191.6 127.1 194.8 126.3 198.0 125.5 201.2 124.7 204.5 123.9 207.7 123.1 210.9 122.3 214.2 121.4 217.4 120.6 220.6 119.7 223.8 118.9 227.1 118.0 230.3 117.1 233.5 116.2 236.7 115.3 239.9 114.4 243.2 113.5 246.4 113.3 247.5 113.1 248.6 112.9 249.6 112.7 250.7 112.5 251.8 112.3 252.8 112.1 253.9 111.9 255.0 111.7 256.1 111.5 257.1 111.3 258.2 111.1 259.3 110.9 260.4 110.7 261.4 110.5 262.5 110.3 263.6 110.1 264.7 109.9 265.8 109.7 266.8 109.5 267.9 109.3 269.0 109.1 270.1 108.9 271.1 108.7 272.2 108.5 273.3" stroke="#454545" stroke-width="0.9"/>
<path d="M143.1 117.4 142.5 120.6 142.0 123.8" stroke="#4bc6e8" stroke-width="1.4" stroke-dasharray="1.2 2.8"/>
<path d="M142.0 123.8 141.4 127.1" stroke="#4bc6e8" stroke-width="1.4" stroke-dasharray="1.8 2.2"/>
<path d="M141.4 127.1 140.8 130.3 140.2 133.5 139.6 136.8 139.0 140.0 138.4 143.2" stroke="#50ebe1" stroke-width="1.4" stroke-dasharray="1.8 2.2"/>
<path d="M138.4 143.2 137.7 146.4 137.1 149.7" stroke="#5febc8" stroke-width="1.4" stroke-dasharray="1.8 2.2"/>
<path d="M137.1 149.7 136.4 152.9 135.8 156.1" stroke="#5febc8" stroke-width="1.4" stroke-dasharray="2.4 1.6"/>
<path d="M135.8 156.1 135.1 159.3 134.4 162.6 133.7 165.8 133.0 169.0" stroke="#6eebaf" stroke-width="1.4" stroke-dasharray="2.4 1.6"/>
<path d="M133.0 169.0 132.3 172.2 131.6 175.4 130.9 178.7 130.1 181.9" stroke="#69eb98" stroke-width="1.4" stroke-dasharray="2.4 1.6"/>
<path d="M130.1 181.9 129.4 185.1 128.6 188.3 127.9 191.6" stroke="#64eb82" stroke-width="1.4" stroke-dasharray="3.2 0.8"/>
<path d="M127.9 191.6 127.1 194.8 126.3 198.0 125.5 201.2 124.7 204.5" stroke="#5ceb69" stroke-width="1.4" stroke-dasharray="3.2 0.8"/>
<path d="M124.7 204.5 123.9 207.7 123.1 210.9 122.3 214.2" stroke="#55eb50" stroke-width="1.4" stroke-dasharray="3.2 0.8"/>
<path d="M122.3 214.2 121.4 217.4" stroke="#55eb4b" stroke-width="1.4" stroke-dasharray="3.2 0.8"/>
<path d="M121.4 217.4 120.6 220.6 119.7 223.8" stroke="#55eb4b" stroke-width="1.4"/>
<path d="M119.7 223.8 118.9 227.1 118.0 230.3 117.1 233.5 116.2 236.7" stroke="#55eb46" stroke-width="1.4"/>
<path d="M116.2 236.7 115.3 239.9 114.4 243.2 113.5 246.4" stroke="#52eb3c" stroke-width="1.4"/>
<path d="M113.5 246.4 113.3 247.5 113.1 248.6 112.9 249.6 112.7 250.7 112.5 251.8 112.3 252.8 112.1 253.9 111.9 255.0" stroke="#50eb32" stroke-width="1.4"/>
<path d="M111.9 255.0 111.7 256.1 111.5 257.1 111.3 258.2 111.1 259.3 110.9 260.4 110.7 261.4 110.5 262.5 110.3 263.6" stroke="#52eb30" stroke-width="1.4"/>
<path d="M110.3 263.6 110.1 264.7 109.9 265.8 109.7 266.8 109.5 267.9 109.3 269.0 109.1 270.1 108.9 271.1" stroke="#55eb2d" stroke-width="1.4"/>
<path d="M108.9 271.1 108.7 272.2 108.5 273.3" stroke="#5aeb2d" stroke-width="1.4"/>
<path d="M137.6 117.4 137.1 120.6 136.6 123.8 136.1 127.1 135.5 130.3 135.0 133.5 134.4 136.8 133.9 140.0 133.3 143.2 132.8 146.4 132.2 149.7 131.6 152.9 131.0 156.1 130.4 159.3 129.8 162.6 129.1 165.8 128.5 169.0 127.9 172.2 127.2 175.4 126.6 178.7 125.9 181.9 125.2 185.1 124.6 188.3 123.9 191.6 123.2 194.8 122.5 198.0 121.8 201.2 121.0 204.5 120.3 207.7 119.6 210.9 118.8 214.2 118.1 217.4 117.3 220.6 116.5 223.8 115.7 227.1 114.9 230.3 114.1 233.5 113.3 236.7 112.5 239.9 111.7 243.2 110.9 246.4 110.7 247.5 110.5 248.6 110.3 249.6 110.1 250.7 109.9 251.8 109.7 252.8 109.5 253.9 109.3 255.0 109.1 256.1 108.9 257.1 108.7 258.2 108.5 259.3 108.3 260.4 108.1 261.4 107.9 262.5 107.7 263.6 107.5 264.7 107.3 265.8 107.1 266.8 106.9 267.9 106.7 269.0 106.5 270.1 106.3 271.1 106.1 272.2 105.9 273.3 105.7 274.4" stroke="#454545" stroke-width="0.9"/>
<path d="M137.6 117.4 137.1 120.6" stroke="#4bc6e8" stroke-width="1.4" stroke-dasharray="1.2 2.8"/>
<path d="M137.1 120.6 136.6 123.8 136.1 127.1 135.5 130.3 135.0 133.5 134.4 136.8" stroke="#50ebe1" stroke-width="1.4" stroke-dasharray="1.8 2.2"/>
<path d="M134.4 136.8 133.9 140.0 133.3 143.2 132.8 146.4 132.2 149.7" stroke="#5febc8" stroke-width="1.4" stroke-dasharray="1.8 2.2"/>
<path d="M132.2 149.7 131.6 152.9" stroke="#5febc8" stroke-width="1.4" stroke-dasharray="2.4 1.6"/>
<path d="M131.6 152.9 131.0 156.1 130.4 159.3 129.8 162.6 129.1 165.8" stroke="#6eebaf" stroke-width="1.4" stroke-dasharray="2.4 1.6"/>
<path d="M129.1 165.8 128.5 169.0 127.9 172.2 127.2 175.4 126.6 178.7" stroke="#69eb98" stroke-width="1.4" stroke-dasharray="2.4 1.6"/>
<path d="M126.6 178.7 125.9 181.9 125.2 185.1 124.6 188.3" stroke="#64eb82" stroke-width="1.4" stroke-dasharray="3.2 0.8"/>
<path d="M124.6 188.3 123.9 191.6 123.2 194.8 122.5 198.0 121.8 201.2" stroke="#5ceb69" stroke-width="1.4" stroke-dasharray="3.2 0.8"/>
<path d="M121.8 201.2 121.0 204.5 120.3 207.7 119.6 210.9" stroke="#55eb50" stroke-width="1.4" stroke-dasharray="3.2 0.8"/>
<path d="M119.6 210.9 118.8 214.2" stroke="#55eb4b" stroke-width="1.4" stroke-dasharray="3.2 0.8"/>
<path d="M118.8 214.2 118.1 217.4 117.3 220.6" stroke="#55eb4b" stroke-width="1.4"/>
<path d="M117.3 220.6 116.5 223.8 115.7 227.1 114.9 230.3" stroke="#55eb46" stroke-width="1.4"/>
<path d="M114.9 230.3 114.1 233.5 113.3 236.7 112.5 239.9" stroke="#52eb3c" stroke-width="1.4"/>
<path d="M112.5 239.9 111.7 243.2 110.9 246.4 110.7 247.5 110.5 248.6 110.3 249.6 110.1 250.7" stroke="#50eb32" stroke-width="1.4"/>
<path d="M110.1 250.7 109.9 251.8 109.7 252.8 109.5 253.9 109.3 255.0 109.1 256.1 108.9 257.1 108.7 258.2 108.5 259.3" stroke="#52eb30" stroke-width="1.4"/>
<path d="M108.5 259.3 108.3 260.4 108.1 261.4 107.9 262.5 107.7 263.6 107.5 264.7 107.3 265.8 107.1 266.8 106.9 267.9 106.7 269.0" stroke="#55eb2d" stroke-width="1.4"/>
<path d="M106.7 269.0 106.5 270.1 106.3 271.1 106.1 272.2 105.9 273.3 105.7 274.4" stroke="#5aeb2d" stroke-width="1.4"/>
<path d="M131.2 117.4 130.8 120.6 130.3 123.8 129.9 127.1 129.4 130.3 129.0 133.5 128.5 136.8 128.0 140.0 127.6 143.2 127.1 146.4 126.6 149.7 126.1 152.9 125.5 156.1 125.0 159.3 124.5 162.6 124.0 165.8 123.4 169.0 122.9 172.2 122.3 175.4 121.8 178.7 121.2 181.9 120.6 185.1 120.0 188.3 119.4 191.6 118.8 194.8 118.2 198.0 117.6 201.2 117.0 204.5 116.4 207.7 115.7 210.9 115.1 214.2 114.4 217.4 113.8 220.6 113.1 223.8 112.5 227.1 111.8 230.3 111.1 233.5 110.4 236.7 109.7 239.9 109.0 243.2 108.3 246.4 108.1 247.5 107.9 248.6 107.7 249.6 107.5 250.7 107.3 251.8 107.1 252.8 106.9 253.9 106.7 255.0 106.5 256.1 106.3 257.1 106.1 258.2 105.9 259.3 105.7 260.4 105.5 261.4 105.3 262.5 105.1 263.6 104.9 264.7 104.7 265.8 104.5 266.8 104.3 267.9 104.1 269.0 103.9 270.1 103.7 271.1 103.5 272.2 103.3 273.3 103.1 274.4 102.9 275.4" stroke="#454545" stroke-width="0.9"/>
<path d="M131.2 117.4 130.8 120.6" stroke="#50ebe1" stroke-width="1.4" stroke-dasharray="1.2 2.8"/>
<path d="M130.8 120.6 130.3 123.8 129.9 127.1 129.4 130.3 129.0 133.5" stroke="#50ebe1" stroke-width="1.4" stroke-dasharray="1.8 2.2"/>
<path d="M129.0 133.5 128.5 136.8 128.0 140.0 127.6 143.2 127.1 146.4" stroke="#5febc8" stroke-width="1.4" stroke-dasharray="1.8 2.2"/>
<path d="M127.1 146.4 126.6 149.7" stroke="#5febc8" stroke-width="1.4" stroke-dasharray="2.4 1.6"/>
<path d="M126.6 149.7 126.1 152.9 125.5 156.1 125.0 159.3 124.5 162.6" stroke="#6eebaf" stroke-width="1.4" stroke-dasharray="2.4 1.6"/>
<path d="M124.5 162.6 124.0 165.8 123.4 169.0 122.9 172.2" stroke="#69eb98" stroke-width="1.4" stroke-dasharray="2.4 1.6"/>
<path d="M122.9 172.2 122.3 175.4 121.8 178.7" stroke="#64eb82" stroke-width="1.4" stroke-dasharray="2.4 1.6"/>
<path d="M121.8 178.7 121.2 181.9 120.6 185.1" stroke="#64eb82" stroke-width="1.4" stroke-dasharray="3.2 0.8"/>
<path d="M120.6 185.1 120.0 188.3 119.4 191.6 118.8 194.8" stroke="#5ceb69" stroke-width="1.4" stroke-dasharray="3.2 0.8"/>
<path d="M118.8 194.8 118.2 198.0 117.6 201.2 117.0 204.5 116.4 207.7" stroke="#55eb50" stroke-width="1.4" stroke-dasharray="3.2 0.8"/>
<path d="M116.4 207.7 115.7 210.9 115.1 214.2" stroke="#55eb4b" stroke-width="1.4" stroke-dasharray="3.2 0.8"/>
<path d="M115.1 214.2 114.4 217.4" stroke="#55eb4b" stroke-width="1.4"/>
<path d="M114.4 217.4 113.8 220.6 113.1 223.8 112.5 227.1" stroke="#55eb46" stroke-width="1.4"/>
<path d="M112.5 227.1 111.8 230.3 111.1 233.5 110.4 236.7" stroke="#52eb3c" stroke-width="1.4"/>
<path d="M110.4 236.7 109.7 239.9 109.0 243.2 108.3 246.4 108.1 247.5" stroke="#50eb32" stroke-width="1.4"/>
<path d="M108.1 247.5 107.9 248.6 107.7 249.6 107.5 250.7 107.3 251.8 107.1 252.8 106.9 253.9 106.7 255.0 106.5 256.1" stroke="#52eb30" stroke-width="1.4"/>
<path d="M106.5 256.1 106.3 257.1 106.1 258.2 105.9 259.3 105.7 260.4 105.5 261.4 105.3 262.5 105.1 263.6 104.9 264.7" stroke="#55eb2d" stroke-width="1.4"/>
<path d="M104.9 264.7 104.7 265.8 104.5 266.8 104.3 267.9 104.1 269.0 103.9 270.1 103.7 271.1 103.5 272.2 103.3 273.3 103.1 274.4" stroke="#5aeb2d" stroke-width="1.4"/>
<path d="M103.1 274.4 102.9 275.4" stroke="#5feb2d" stroke-width="1.4"/>
<path d="M125.7 117.4 125.3 120.6 125.0 123.8 124.6 127.1 124.2 130.3 123.8 133.5 123.4 136.8 122.9 140.0 122.5 143.2 122.1 146.4 121.7 149.7 121.2 152.9 120.8 156.1 120.3 159.3 119.8 162.6 119.4 165.8 118.9 169.0 118.4 172.2 117.9 175.4 117.5 178.7 117.0 181.9 116.5 185.1 115.9 188.3 115.4 191.6 114.9 194.8 114.4 198.0 113.8 201.2 113.3 204.5 112.8 207.7 112.2 210.9 111.6 214.2 111.1 217.4 110.5 220.6 109.9 223.8 109.3 227.1 108.7 230.3 108.1 233.5 107.5 236.7 106.9 239.9 106.3 243.2 105.7 246.4 105.5 247.5 105.3 248.6 105.1 249.6 104.9 250.7 104.7 251.8 104.5 252.8 104.3 253.9 104.1 255.0 103.9 256.1 103.7 257.1 103.5 258.2 103.3 259.3 103.1 260.4 102.9 261.4 102.7 262.5 102.5 263.6 102.3 264.7 102.1 265.8 101.9 266.8 101.7 267.9 101.5 269.0 101.3 270.1 101.1 271.1 100.9 272.2 100.7 273.3 100.5 274.4 100.3 275.4 100.2 276.0" stroke="#454545" stroke-width="0.9"/>
<path d="M125.7 117.4 125.3 120.6 125.0 123.8 124.6 127.1 124.2 130.3" stroke="#50ebe1" stroke-width="1.4" stroke-dasharray="1.8 2.2"/>
<path d="M124.2 130.3 123.8 133.5 123.4 136.8 122.9 140.0 122.5 143.2" stroke="#5febc8" stroke-width="1.4" stroke-dasharray="1.8 2.2"/>
<path d="M122.5 143.2 122.1 146.4" stroke="#6eebaf" stroke-width="1.4" stroke-dasharray="1.8 2.2"/>
<path d="M122.1 146.4 121.7 149.7 121.2 152.9 120.8 156.1" stroke="#6eebaf" stroke-width="1.4" stroke-dasharray="2.4 1.6"/>
<path d="M120.8 156.1 120.3 159.3 119.8 162.6 119.4 165.8 118.9 169.0" stroke="#69eb98" stroke-width="1.4" stroke-dasharray="2.4 1.6"/>
<path d="M118.9 169.0 118.4 172.2 117.9 175.4" stroke="#64eb82" stroke-width="1.4" stroke-dasharray="2.4 1.6"/>
<path d="M117.9 175.4 117.5 178.7 117.0 181.9" stroke="#64eb82" stroke-width="1.4" stroke-dasharray="3.2 0.8"/>
<path d="M117.0 181.9 116.5 185.1 115.9 188.3 115.4 191.6" stroke="#5ceb69" stroke-width="1.4" stroke-dasharray="3.2 0.8"/>
<path d="M115.4 191.6 114.9 194.8 114.4 198.0 113.8 201.2" stroke="#55eb50" stroke-width="1.4" stroke-dasharray="3.2 0.8"/>
<path d="M113.8 201.2 113.3 204.5 112.8 207.7 112.2 210.9" stroke="#55eb4b" stroke-width="1.4" stroke-dasharray="3.2 0.8"/>
<path d="M112.2 210.9 111.6 214.2 111.1 217.4 110.5 220.6 109.9 223.8" stroke="#55eb46" stroke-width="1.4"/>
<path d="M109.9 223.8 109.3 227.1 108.7 230.3 108.1 233.5" stroke="#52eb3c" stroke-width="1.4"/>
<path d="M108.1 233.5 107.5 236.7 106.9 239.9" stroke="#50eb32" stroke-width="1.4"/>
<path d="M106.9 239.9 106.3 243.2 105.7 246.4 105.5 247.5 105.3 248.6 105.1 249.6 104.9 250.7 104.7 251.8" stroke="#52eb30" stroke-width="1.4"/>
<path d="M104.7 251.8 104.5 252.8 104.3 253.9 104.1 255.0 103.9 256.1 103.7 257.1 103.5 258.2 103.3 259.3 103.1 260.4 102.9 261.4" stroke="#55eb2d" stroke-width="1.4"/>
<path d="M102.9 261.4 102.7 262.5 102.5 263.6 102.3 264.7 102.1 265.8 101.9 266.8 101.7 267.9 101.5 269.0 101.3 270.1" stroke="#5aeb2d" stroke-width="1.4"/>
<path d="M101.3 270.1 101.1 271.1 100.9 272.2 100.7 273.3 100.5 274.4 100.3 275.4 100.2 276.0" stroke="#5feb2d" stroke-width="1.4"/>
<path d="M119.3 117.4 119.0 120.6 118.7 123.8 118.4 127.1 118.0 130.3 117.7 133.5 117.4 136.8 117.0 140.0 116.7 143.2 116.4 146.4 116.0 149.7 115.6 152.9 115.3 156.1 114.9 159.3 114.5 162.6 114.2 165.8 113.8 169.0 113.4 172.2 113.0 175.4 112.6 178.7 112.2 181.9 111.8 185.1 111.4 188.3 111.0 191.6 110.5 194.8 110.1 198.0 109.7 201.2 109.3 204.5 108.8 207.7 108.4 210.9 107.9 214.2 107.4 217.4 107.0 220.6 106.5 223.8 106.0 227.1 105.6 230.3 105.1 233.5 104.6 236.7 104.1 239.9 103.6 243.2 103.1 246.4 102.9 247.5 102.7 248.6 102.5 249.6 102.3 250.7 102.1 251.8 101.9 252.8 101.7 253.9 101.5 255.0 101.3 256.1 101.1 257.1 100.9 258.2 100.7 259.3 100.5 260.4 100.3 261.4 100.1 262.5 99.9 263.6 99.7 264.7 99.5 265.8 99.3 266.8 99.1 267.9 98.9 269.0 98.7 270.1 98.5 271.1 98.3 272.2 98.1 273.3 97.9 274.4 97.8 275.4 97.6 276.5" stroke="#454545" stroke-width="0.9"/>
<path d="M119.3 117.4 119.0 120.6 118.7 123.8 118.4 127.1" stroke="#50ebe1" stroke-width="1.4" stroke-dasharray="1.8 2.2"/>
<path d="M118.4 127.1 118.0 130.3 117.7 133.5 117.4 136.8 117.0 140.0" stroke="#5febc8" stroke-width="1.4" stroke-dasharray="1.8 2.2"/>
<path d="M117.0 140.0 116.7 143.2" stroke="#6eebaf" stroke-width="1.4" stroke-dasharray="1.8 2.2"/>
<path d="M116.7 143.2 116.4 146.4 116.0 149.7 115.6 152.9" stroke="#6eebaf" stroke-width="1.4" stroke-dasharray="2.4 1.6"/>
<path d="M115.6 152.9 115.3 156.1 114.9 159.3 114.5 162.6 114.2 165.8" stroke="#69eb98" stroke-width="1.4" stroke-dasharray="2.4 1.6"/>
<path d="M114.2 165.8 113.8 169.0 113.4 172.2 113.0 175.4" stroke="#64eb82" stroke-width="1.4" stroke-dasharray="2.4 1.6"/>
<path d="M113.0 175.4 112.6 178.7" stroke="#64eb82" stroke-width="1.4" stroke-dasharray="3.2 0.8"/>
<path d="M112.6 178.7 112.2 181.9 111.8 185.1 111.4 188.3" stroke="#5ceb69" stroke-width="1.4" stroke-dasharray="3.2 0.8"/>
<path d="M111.4 188.3 111.0 191.6 110.5 194.8 110.1 198.0" stroke="#55eb50" stroke-width="1.4" stroke-dasharray="3.2 0.8"/>
<path d="M110.1 198.0 109.7 201.2 109.3 204.5 108.8 207.7" stroke="#55eb4b" stroke-width="1.4" stroke-dasharray="3.2 0.8"/>
<path d="M108.8 207.7 108.4 210.9" stroke="#55eb46" stroke-width="1.4" stroke-dasharray="3.2 0.8"/>
<path d="M108.4 210.9 107.9 214.2 107.4 217.4" stroke="#55eb46" stroke-width="1.4"/>
<path d="M107.4 217.4 107.0 220.6 106.5 223.8 106.0 227.1" stroke="#52eb3c" stroke-width="1.4"/>
<path d="M106.0 227.1 105.6 230.3 105.1 233.5 104.6 236.7" stroke="#50eb32" stroke-width="1.4"/>
<path d="M104.6 236.7 104.1 239.9 103.6 243.2 103.1 246.4 102.9 247.5" stroke="#52eb30" stroke-width="1.4"/>
<path d="M102.9 247.5 102.7 248.6 102.5 249.6 102.3 250.7 102.1 251.8 101.9 252.8 101.7 253.9 101.5 255.0 101.3 256.1 101.1 257.1" stroke="#55eb2d" stroke-width="1.4"/>
<path d="M101.1 257.1 100.9 258.2 100.7 259.3 100.5 260.4 100.3 261.4 100.1 262.5 99.9 263.6 99.7 264.7 99.5 265.8 99.3 266.8" stroke="#5aeb2d" stroke-width="1.4"/>
<path d="M99.3 266.8 99.1 267.9 98.9 269.0 98.7 270.1 98.5 271.1 98.3 272.2 98.1 273.3 97.9 274.4 97.8 275.4" stroke="#5feb2d" stroke-width="1.4"/>
<path d="M97.8 275.4 97.6 276.5" stroke="#62eb2d" stroke-width="1.4"/>
<path d="M250.6 248.5 251.1 248.0" stroke="#6eebaf" stroke-width="1.5"/>
<path d="M251.1 248.0 251.4 247.7" stroke="#5ceb69" stroke-width="1.5"/>
<path d="M227.4 251.2 227.9 250.6 228.3 250.0" stroke="#5febc8" stroke-width="1.5"/>
<path d="M228.3 250.0 228.8 249.5" stroke="#6eebaf" stroke-width="1.5"/>
<path d="M228.8 249.5 229.3 248.9" stroke="#69eb98" stroke-width="1.5"/>
<path d="M229.3 248.9 229.7 248.3" stroke="#64eb82" stroke-width="1.5"/>
<path d="M229.7 248.3 230.2 247.7" stroke="#5ceb69" stroke-width="1.5"/>
<path d="M216.0 252.3 216.5 251.5" stroke="#5febc8" stroke-width="1.5"/>
<path d="M216.5 251.5 217.1 250.8" stroke="#6eebaf" stroke-width="1.5"/>
<path d="M217.1 250.8 217.7 250.0" stroke="#69eb98" stroke-width="1.5"/>
<path d="M217.7 250.0 218.2 249.2" stroke="#64eb82" stroke-width="1.5"/>
<path d="M218.2 249.2 218.8 248.5" stroke="#5ceb69" stroke-width="1.5"/>
<path d="M218.8 248.5 219.4 247.7" stroke="#55eb50" stroke-width="1.5"/>
<path d="M202.8 254.2 203.1 253.6" stroke="#5febc8" stroke-width="1.5"/>
<path d="M203.1 253.6 203.5 253.1 203.9 252.6 204.2 252.0" stroke="#6eebaf" stroke-width="1.5"/>
<path d="M204.2 252.0 204.6 251.5 205.0 250.9" stroke="#69eb98" stroke-width="1.5"/>
<path d="M205.0 250.9 205.3 250.4 205.7 249.9" stroke="#64eb82" stroke-width="1.5"/>
<path d="M205.7 249.9 206.1 249.3 206.4 248.8" stroke="#5ceb69" stroke-width="1.5"/>
<path d="M206.4 248.8 206.8 248.2" stroke="#55eb50" stroke-width="1.5"/>
<path d="M206.8 248.2 207.2 247.7" stroke="#55eb4b" stroke-width="1.5"/>
<path d="M191.2 255.6 191.6 255.0 192.0 254.3 192.5 253.6" stroke="#6eebaf" stroke-width="1.5"/>
<path d="M192.5 253.6 192.9 253.0 193.3 252.3" stroke="#69eb98" stroke-width="1.5"/>
<path d="M193.3 252.3 193.7 251.7 194.1 251.0" stroke="#64eb82" stroke-width="1.5"/>
<path d="M194.1 251.0 194.6 250.3 195.0 249.7" stroke="#5ceb69" stroke-width="1.5"/>
<path d="M195.0 249.7 195.4 249.0" stroke="#55eb50" stroke-width="1.5"/>
<path d="M195.4 249.0 195.8 248.4 196.2 247.7" stroke="#55eb4b" stroke-width="1.5"/>
<path d="M185.8 256.7 186.2 255.9" stroke="#6eebaf" stroke-width="1.5"/>
<path d="M186.2 255.9 186.7 255.2 187.2 254.4 187.6 253.7" stroke="#69eb98" stroke-width="1.5"/>
<path d="M187.6 253.7 188.1 252.9 188.5 252.2" stroke="#64eb82" stroke-width="1.5"/>
<path d="M188.5 252.2 189.0 251.4 189.4 250.7" stroke="#5ceb69" stroke-width="1.5"/>
<path d="M189.4 250.7 189.9 249.9 190.4 249.2" stroke="#55eb50" stroke-width="1.5"/>
<path d="M190.4 249.2 190.8 248.4" stroke="#55eb4b" stroke-width="1.5"/>
<path d="M190.8 248.4 191.3 247.7" stroke="#55eb46" stroke-width="1.5"/>
<path d="M181.8 257.2 182.3 256.4 182.7 255.6 183.2 254.8" stroke="#69eb98" stroke-width="1.5"/>
<path d="M183.2 254.8 183.7 254.0 184.1 253.2" stroke="#64eb82" stroke-width="1.5"/>
<path d="M184.1 253.2 184.6 252.4 185.1 251.6" stroke="#5ceb69" stroke-width="1.5"/>
<path d="M185.1 251.6 185.6 250.9 186.0 250.1" stroke="#55eb50" stroke-width="1.5"/>
<path d="M186.0 250.1 186.5 249.3" stroke="#55eb4b" stroke-width="1.5"/>
<path d="M186.5 249.3 187.0 248.5 187.4 247.7" stroke="#55eb46" stroke-width="1.5"/>
<path d="M176.6 258.2 177.1 257.3" stroke="#69eb98" stroke-width="1.5"/>
<path d="M177.1 257.3 177.6 256.4 178.1 255.5 178.6 254.7" stroke="#64eb82" stroke-width="1.5"/>
<path d="M178.6 254.7 179.1 253.8 179.6 252.9" stroke="#5ceb69" stroke-width="1.5"/>
<path d="M179.6 252.9 180.1 252.1 180.6 251.2" stroke="#55eb50" stroke-width="1.5"/>
<path d="M180.6 251.2 181.1 250.3" stroke="#55eb4b" stroke-width="1.5"/>
<path d="M181.1 250.3 181.6 249.4 182.1 248.6" stroke="#55eb46" stroke-width="1.5"/>
<path d="M182.1 248.6 182.6 247.7" stroke="#52eb3c" stroke-width="1.5"/>
<path d="M171.6 259.1 172.1 258.2 172.6 257.2 173.1 256.3" stroke="#64eb82" stroke-width="1.5"/>
<path d="M173.1 256.3 173.7 255.3 174.2 254.4" stroke="#5ceb69" stroke-width="1.5"/>
<path d="M174.2 254.4 174.7 253.4 175.3 252.5" stroke="#55eb50" stroke-width="1.5"/>
<path d="M175.3 252.5 175.8 251.5 176.3 250.5" stroke="#55eb4b" stroke-width="1.5"/>
<path d="M176.3 250.5 176.8 249.6" stroke="#55eb46" stroke-width="1.5"/>
<path d="M176.8 249.6 177.4 248.6" stroke="#52eb3c" stroke-width="1.5"/>
<path d="M177.4 248.6 177.9 247.7" stroke="#50eb32" stroke-width="1.5"/>
<path d="M165.3 260.5 165.9 259.5 166.5 258.4" stroke="#64eb82" stroke-width="1.5"/>
<path d="M166.5 258.4 167.1 257.3 167.7 256.3" stroke="#5ceb69" stroke-width="1.5"/>
<path d="M167.7 256.3 168.2 255.2 168.8 254.1" stroke="#55eb50" stroke-width="1.5"/>
<path d="M168.8 254.1 169.4 253.0 170.0 252.0" stroke="#55eb4b" stroke-width="1.5"/>
<path d="M170.0 252.0 170.6 250.9" stroke="#55eb46" stroke-width="1.5"/>
<path d="M170.6 250.9 171.2 249.8 171.7 248.8" stroke="#52eb3c" stroke-width="1.5"/>
<path d="M171.7 248.8 172.3 247.7" stroke="#50eb32" stroke-width="1.5"/>
<path d="M159.5 261.8 160.1 260.6 160.7 259.4 161.4 258.3" stroke="#5ceb69" stroke-width="1.5"/>
<path d="M161.4 258.3 162.0 257.1 162.6 255.9" stroke="#55eb50" stroke-width="1.5"/>
<path d="M162.6 255.9 163.3 254.7 163.9 253.6" stroke="#55eb4b" stroke-width="1.5"/>
<path d="M163.9 253.6 164.5 252.4 165.2 251.2" stroke="#55eb46" stroke-width="1.5"/>
<path d="M165.2 251.2 165.8 250.0" stroke="#52eb3c" stroke-width="1.5"/>
<path d="M165.8 250.0 166.4 248.9" stroke="#50eb32" stroke-width="1.5"/>
<path d="M166.4 248.9 167.1 247.7" stroke="#52eb30" stroke-width="1.5"/>
<path d="M156.9 262.0 157.6 260.8 158.2 259.6" stroke="#5ceb69" stroke-width="1.5"/>
<path d="M158.2 259.6 158.8 258.4 159.5 257.2" stroke="#55eb50" stroke-width="1.5"/>
<path d="M159.5 257.2 160.1 256.0 160.8 254.9" stroke="#55eb4b" stroke-width="1.5"/>
<path d="M160.8 254.9 161.4 253.7 162.0 252.5" stroke="#55eb46" stroke-width="1.5"/>
<path d="M162.0 252.5 162.7 251.3" stroke="#52eb3c" stroke-width="1.5"/>
<path d="M162.7 251.3 163.3 250.1" stroke="#50eb32" stroke-width="1.5"/>
<path d="M163.3 250.1 164.0 248.9 164.6 247.7" stroke="#52eb30" stroke-width="1.5"/>
<path d="M153.8 262.8 154.5 261.5 155.2 260.3 155.9 259.0" stroke="#55eb50" stroke-width="1.5"/>
<path d="M155.9 259.0 156.5 257.8 157.2 256.5" stroke="#55eb4b" stroke-width="1.5"/>
<path d="M157.2 256.5 157.9 255.2 158.6 254.0" stroke="#55eb46" stroke-width="1.5"/>
<path d="M158.6 254.0 159.2 252.7" stroke="#52eb3c" stroke-width="1.5"/>
<path d="M159.2 252.7 159.9 251.5 160.6 250.2" stroke="#50eb32" stroke-width="1.5"/>
<path d="M160.6 250.2 161.2 248.9" stroke="#52eb30" stroke-width="1.5"/>
<path d="M161.2 248.9 161.9 247.7" stroke="#55eb2d" stroke-width="1.5"/>
<path d="M150.4 263.5 151.1 262.2 151.8 260.8" stroke="#55eb50" stroke-width="1.5"/>
<path d="M151.8 260.8 152.5 259.5 153.2 258.2" stroke="#55eb4b" stroke-width="1.5"/>
<path d="M153.2 258.2 153.9 256.9 154.5 255.6" stroke="#55eb46" stroke-width="1.5"/>
<path d="M154.5 255.6 155.2 254.3 155.9 253.0" stroke="#52eb3c" stroke-width="1.5"/>
<path d="M155.9 253.0 156.6 251.6" stroke="#50eb32" stroke-width="1.5"/>
<path d="M156.6 251.6 157.3 250.3" stroke="#52eb30" stroke-width="1.5"/>
<path d="M157.3 250.3 158.0 249.0" stroke="#55eb2d" stroke-width="1.5"/>
<path d="M158.0 249.0 158.7 247.7" stroke="#5aeb2d" stroke-width="1.5"/>
<path d="M146.6 264.4 147.4 263.0 148.1 261.6 148.8 260.2" stroke="#55eb4b" stroke-width="1.5"/>
<path d="M148.8 260.2 149.6 258.8 150.3 257.4" stroke="#55eb46" stroke-width="1.5"/>
<path d="M150.3 257.4 151.1 256.0 151.8 254.6" stroke="#52eb3c" stroke-width="1.5"/>
<path d="M151.8 254.6 152.5 253.3" stroke="#50eb32" stroke-width="1.5"/>
<path d="M152.5 253.3 153.3 251.9 154.0 250.5" stroke="#52eb30" stroke-width="1.5"/>
<path d="M154.0 250.5 154.7 249.1" stroke="#55eb2d" stroke-width="1.5"/>
<path d="M154.7 249.1 155.5 247.7" stroke="#5aeb2d" stroke-width="1.5"/>
<path d="M142.9 265.2 143.6 263.8 144.4 262.3" stroke="#55eb4b" stroke-width="1.5"/>
<path d="M144.4 262.3 145.2 260.9 145.9 259.4" stroke="#55eb46" stroke-width="1.5"/>
<path d="M145.9 259.4 146.7 257.9 147.5 256.5" stroke="#52eb3c" stroke-width="1.5"/>
<path d="M147.5 256.5 148.3 255.0" stroke="#50eb32" stroke-width="1.5"/>
<path d="M148.3 255.0 149.0 253.5 149.8 252.1" stroke="#52eb30" stroke-width="1.5"/>
<path d="M149.8 252.1 150.6 250.6" stroke="#55eb2d" stroke-width="1.5"/>
<path d="M150.6 250.6 151.3 249.2" stroke="#5aeb2d" stroke-width="1.5"/>
<path d="M151.3 249.2 152.1 247.7" stroke="#5feb2d" stroke-width="1.5"/>
<path d="M138.8 266.5 139.6 265.0 140.5 263.4 141.3 261.8" stroke="#55eb46" stroke-width="1.5"/>
<path d="M141.3 261.8 142.1 260.3 142.9 258.7" stroke="#52eb3c" stroke-width="1.5"/>
<path d="M142.9 258.7 143.7 257.1 144.6 255.5" stroke="#50eb32" stroke-width="1.5"/>
<path d="M144.6 255.5 145.4 254.0" stroke="#52eb30" stroke-width="1.5"/>
<path d="M145.4 254.0 146.2 252.4" stroke="#55eb2d" stroke-width="1.5"/>
<path d="M146.2 252.4 147.0 250.8 147.8 249.3" stroke="#5aeb2d" stroke-width="1.5"/>
<path d="M147.8 249.3 148.6 247.7" stroke="#5feb2d" stroke-width="1.5"/>
<path d="M135.3 267.1 136.2 265.5 137.0 263.9" stroke="#55eb46" stroke-width="1.5"/>
<path d="M137.0 263.9 137.9 262.2 138.7 260.6" stroke="#52eb3c" stroke-width="1.5"/>
<path d="M138.7 260.6 139.5 259.0 140.4 257.4" stroke="#50eb32" stroke-width="1.5"/>
<path d="M140.4 257.4 141.2 255.8" stroke="#52eb30" stroke-width="1.5"/>
<path d="M141.2 255.8 142.0 254.2 142.9 252.5" stroke="#55eb2d" stroke-width="1.5"/>
<path d="M142.9 252.5 143.7 250.9" stroke="#5aeb2d" stroke-width="1.5"/>
<path d="M143.7 250.9 144.6 249.3" stroke="#5feb2d" stroke-width="1.5"/>
<path d="M144.6 249.3 145.4 247.7" stroke="#62eb2d" stroke-width="1.5"/>
<path d="M131.6 268.2 132.4 266.5 133.3 264.8 134.2 263.1" stroke="#52eb3c" stroke-width="1.5"/>
<path d="M134.2 263.1 135.1 261.4 136.0 259.6" stroke="#50eb32" stroke-width="1.5"/>
<path d="M136.0 259.6 136.8 257.9 137.7 256.2" stroke="#52eb30" stroke-width="1.5"/>
<path d="M137.7 256.2 138.6 254.5" stroke="#55eb2d" stroke-width="1.5"/>
<path d="M138.6 254.5 139.5 252.8" stroke="#5aeb2d" stroke-width="1.5"/>
<path d="M139.5 252.8 140.4 251.1" stroke="#5feb2d" stroke-width="1.5"/>
<path d="M140.4 251.1 141.2 249.4" stroke="#62eb2d" stroke-width="1.5"/>
<path d="M141.2 249.4 142.1 247.7" stroke="#64eb2d" stroke-width="1.5"/>
<path d="M127.9 269.3 128.8 267.5 129.7 265.7" stroke="#52eb3c" stroke-width="1.5"/>
<path d="M129.7 265.7 130.6 263.9 131.6 262.1" stroke="#50eb32" stroke-width="1.5"/>
<path d="M131.6 262.1 132.5 260.3 133.4 258.5" stroke="#52eb30" stroke-width="1.5"/>
<path d="M133.4 258.5 134.3 256.7" stroke="#55eb2d" stroke-width="1.5"/>
<path d="M134.3 256.7 135.2 254.9" stroke="#5aeb2d" stroke-width="1.5"/>
<path d="M135.2 254.9 136.2 253.1" stroke="#5feb2d" stroke-width="1.5"/>
<path d="M136.2 253.1 137.1 251.3" stroke="#62eb2d" stroke-width="1.5"/>
<path d="M137.1 251.3 138.0 249.5" stroke="#64eb2d" stroke-width="1.5"/>
<path d="M138.0 249.5 138.9 247.7" stroke="#7deb2a" stroke-width="1.5"/>
<path d="M124.1 270.2 125.1 268.3" stroke="#52eb3c" stroke-width="1.5"/>
<path d="M125.1 268.3 126.0 266.5 127.0 264.6" stroke="#50eb32" stroke-width="1.5"/>
<path d="M127.0 264.6 127.9 262.7 128.9 260.8" stroke="#52eb30" stroke-width="1.5"/>
<path d="M128.9 260.8 129.8 259.0" stroke="#55eb2d" stroke-width="1.5"/>
<path d="M129.8 259.0 130.8 257.1" stroke="#5aeb2d" stroke-width="1.5"/>
<path d="M130.8 257.1 131.8 255.2" stroke="#5feb2d" stroke-width="1.5"/>
<path d="M131.8 255.2 132.7 253.3" stroke="#62eb2d" stroke-width="1.5"/>
<path d="M132.7 253.3 133.7 251.4" stroke="#64eb2d" stroke-width="1.5"/>
<path d="M133.7 251.4 134.6 249.6" stroke="#7deb2a" stroke-width="1.5"/>
<path d="M134.6 249.6 135.6 247.7" stroke="#96eb28" stroke-width="1.5"/>
<path d="M119.2 271.7 120.2 269.7 121.2 267.7" stroke="#50eb32" stroke-width="1.5"/>
<path d="M121.2 267.7 122.2 265.7 123.2 263.7" stroke="#52eb30" stroke-width="1.5"/>
<path d="M123.2 263.7 124.2 261.7" stroke="#55eb2d" stroke-width="1.5"/>
<path d="M124.2 261.7 125.2 259.7" stroke="#5aeb2d" stroke-width="1.5"/>
<path d="M125.2 259.7 126.2 257.7" stroke="#5feb2d" stroke-width="1.5"/>
<path d="M126.2 257.7 127.2 255.7" stroke="#62eb2d" stroke-width="1.5"/>
<path d="M127.2 255.7 128.3 253.7" stroke="#64eb2d" stroke-width="1.5"/>
<path d="M128.3 253.7 129.3 251.7" stroke="#7deb2a" stroke-width="1.5"/>
<path d="M129.3 251.7 130.3 249.7" stroke="#96eb28" stroke-width="1.5"/>
<path d="M130.3 249.7 131.3 247.7" stroke="#b4ee23" stroke-width="1.5"/>
<path d="M122.5 267.9 123.3 266.2 124.2 264.5" stroke="#50eb32" stroke-width="1.5"/>
<path d="M124.2 264.5 125.0 262.8 125.9 261.2 126.7 259.5" stroke="#52eb30" stroke-width="1.5"/>
<path d="M126.7 259.5 127.6 257.8" stroke="#55eb2d" stroke-width="1.5"/>
<path d="M127.6 257.8 128.4 256.1" stroke="#5aeb2d" stroke-width="1.5"/>
<path d="M128.4 256.1 129.3 254.4" stroke="#5feb2d" stroke-width="1.5"/>
<path d="M129.3 254.4 130.1 252.7" stroke="#62eb2d" stroke-width="1.5"/>
<path d="M130.1 252.7 131.0 251.1" stroke="#7deb2a" stroke-width="1.5"/>
<path d="M131.0 251.1 131.9 249.4" stroke="#b4ee23" stroke-width="1.5"/>
<path d="M131.9 249.4 132.7 247.7" stroke="#e6e41e" stroke-width="1.5"/>
<path d="M119.7 269.0 120.6 267.2 121.5 265.4 122.4 263.6 123.3 261.8" stroke="#52eb30" stroke-width="1.5"/>
<path d="M123.3 261.8 124.2 260.0" stroke="#55eb2d" stroke-width="1.5"/>
<path d="M124.2 260.0 125.1 258.2" stroke="#5aeb2d" stroke-width="1.5"/>
<path d="M125.1 258.2 126.0 256.4" stroke="#5feb2d" stroke-width="1.5"/>
<path d="M126.0 256.4 126.9 254.6" stroke="#62eb2d" stroke-width="1.5"/>
<path d="M126.9 254.6 127.8 252.8" stroke="#64eb2d" stroke-width="1.5"/>
<path d="M127.8 252.8 128.7 251.1" stroke="#96eb28" stroke-width="1.5"/>
<path d="M128.7 251.1 129.6 249.3" stroke="#d2f01e" stroke-width="1.5"/>
<path d="M129.6 249.3 130.5 247.5" stroke="#fad71e" stroke-width="1.5"/>
<path d="M117.0 269.5 117.9 267.6 118.9 265.8" stroke="#52eb30" stroke-width="1.5"/>
<path d="M118.9 265.8 119.8 263.9 120.7 262.0 121.7 260.2" stroke="#55eb2d" stroke-width="1.5"/>
<path d="M121.7 260.2 122.6 258.3" stroke="#5aeb2d" stroke-width="1.5"/>
<path d="M122.6 258.3 123.5 256.4" stroke="#5feb2d" stroke-width="1.5"/>
<path d="M123.5 256.4 124.5 254.6" stroke="#64eb2d" stroke-width="1.5"/>
<path d="M124.5 254.6 125.4 252.7" stroke="#7deb2a" stroke-width="1.5"/>
<path d="M125.4 252.7 126.4 250.8" stroke="#b4ee23" stroke-width="1.5"/>
<path d="M126.4 250.8 127.3 249.0" stroke="#e6e41e" stroke-width="1.5"/>
<path d="M127.3 249.0 128.2 247.1" stroke="#fa8214" stroke-width="1.5"/>
<path d="M114.1 271.1 115.1 269.1 116.1 267.1 117.1 265.0 118.2 263.0" stroke="#55eb2d" stroke-width="1.5"/>
<path d="M118.2 263.0 119.2 261.0" stroke="#5aeb2d" stroke-width="1.5"/>
<path d="M119.2 261.0 120.2 258.9" stroke="#5feb2d" stroke-width="1.5"/>
<path d="M120.2 258.9 121.2 256.9" stroke="#62eb2d" stroke-width="1.5"/>
<path d="M121.2 256.9 122.2 254.9" stroke="#64eb2d" stroke-width="1.5"/>
<path d="M122.2 254.9 123.2 252.8" stroke="#96eb28" stroke-width="1.5"/>
<path d="M123.2 252.8 124.2 250.8" stroke="#d2f01e" stroke-width="1.5"/>
<path d="M124.2 250.8 125.3 248.8" stroke="#fad71e" stroke-width="1.5"/>
<path d="M125.3 248.8 126.3 246.8" stroke="#fa6914" stroke-width="1.5"/>
<path d="M111.3 272.2 112.4 270.1 113.4 267.9" stroke="#55eb2d" stroke-width="1.5"/>
<path d="M113.4 267.9 114.5 265.8 115.6 263.6" stroke="#5aeb2d" stroke-width="1.5"/>
<path d="M115.6 263.6 116.7 261.4 117.7 259.3" stroke="#5feb2d" stroke-width="1.5"/>
<path d="M117.7 259.3 118.8 257.1" stroke="#62eb2d" stroke-width="1.5"/>
<path d="M118.8 257.1 119.9 255.0" stroke="#7deb2a" stroke-width="1.5"/>
<path d="M119.9 255.0 120.9 252.8" stroke="#96eb28" stroke-width="1.5"/>
<path d="M120.9 252.8 122.0 250.7" stroke="#d2f01e" stroke-width="1.5"/>
<path d="M122.0 250.7 123.1 248.6" stroke="#faac19" stroke-width="1.5"/>
<path d="M123.1 248.6 124.1 246.4" stroke="#fa6914" stroke-width="1.5"/>
<path d="M108.5 273.3 109.6 271.0 110.8 268.7 111.9 266.4 113.0 264.2" stroke="#5aeb2d" stroke-width="1.5"/>
<path d="M113.0 264.2 114.1 261.9" stroke="#5feb2d" stroke-width="1.5"/>
<path d="M114.1 261.9 115.3 259.6" stroke="#62eb2d" stroke-width="1.5"/>
<path d="M115.3 259.6 116.4 257.3" stroke="#64eb2d" stroke-width="1.5"/>
<path d="M116.4 257.3 117.5 255.1" stroke="#7deb2a" stroke-width="1.5"/>
<path d="M117.5 255.1 118.6 252.8" stroke="#b4ee23" stroke-width="1.5"/>
<path d="M118.6 252.8 119.8 250.5" stroke="#e6e41e" stroke-width="1.5"/>
<path d="M119.8 250.5 120.9 248.2" stroke="#faac19" stroke-width="1.5"/>
<path d="M120.9 248.2 122.0 246.0" stroke="#fa5014" stroke-width="1.5"/>
<path d="M105.7 274.4 106.9 271.9 108.1 269.5 109.3 267.1" stroke="#5aeb2d" stroke-width="1.5"/>
<path d="M109.3 267.1 110.5 264.7" stroke="#5feb2d" stroke-width="1.5"/>
<path d="M110.5 264.7 111.6 262.3 112.8 259.9" stroke="#62eb2d" stroke-width="1.5"/>
<path d="M112.8 259.9 114.0 257.5" stroke="#7deb2a" stroke-width="1.5"/>
<path d="M114.0 257.5 115.2 255.1" stroke="#96eb28" stroke-width="1.5"/>
<path d="M115.2 255.1 116.4 252.7" stroke="#d2f01e" stroke-width="1.5"/>
<path d="M116.4 252.7 117.5 250.3" stroke="#fad71e" stroke-width="1.5"/>
<path d="M117.5 250.3 118.7 247.9" stroke="#fa8214" stroke-width="1.5"/>
<path d="M118.7 247.9 119.9 245.5" stroke="#f83a16" stroke-width="1.5"/>
<path d="M102.9 275.4 104.2 272.9 105.4 270.4 106.7 267.8 107.9 265.3" stroke="#5feb2d" stroke-width="1.5"/>
<path d="M107.9 265.3 109.1 262.8" stroke="#62eb2d" stroke-width="1.5"/>
<path d="M109.1 262.8 110.4 260.3" stroke="#64eb2d" stroke-width="1.5"/>
<path d="M110.4 260.3 111.6 257.7" stroke="#7deb2a" stroke-width="1.5"/>
<path d="M111.6 257.7 112.9 255.2" stroke="#b4ee23" stroke-width="1.5"/>
<path d="M112.9 255.2 114.1 252.7" stroke="#d2f01e" stroke-width="1.5"/>
<path d="M114.1 252.7 115.3 250.2" stroke="#fad71e" stroke-width="1.5"/>
<path d="M115.3 250.2 116.6 247.6" stroke="#fa6914" stroke-width="1.5"/>
<path d="M116.6 247.6 117.8 245.1" stroke="#f52319" stroke-width="1.5"/>
<path d="M100.2 276.0 101.5 273.4 102.8 270.7 104.1 268.1" stroke="#5feb2d" stroke-width="1.5"/>
<path d="M104.1 268.1 105.4 265.5" stroke="#62eb2d" stroke-width="1.5"/>
<path d="M105.4 265.5 106.6 262.9 107.9 260.3" stroke="#64eb2d" stroke-width="1.5"/>
<path d="M107.9 260.3 109.2 257.7" stroke="#96eb28" stroke-width="1.5"/>
<path d="M109.2 257.7 110.5 255.1" stroke="#b4ee23" stroke-width="1.5"/>
<path d="M110.5 255.1 111.8 252.5" stroke="#e6e41e" stroke-width="1.5"/>
<path d="M111.8 252.5 113.1 249.9" stroke="#faac19" stroke-width="1.5"/>
<path d="M113.1 249.9 114.3 247.3" stroke="#fa5014" stroke-width="1.5"/>
<path d="M114.3 247.3 115.6 244.7" stroke="#f21e1c" stroke-width="1.5"/>
<path d="M97.6 276.5 98.9 273.8 100.2 271.1 101.5 268.4 102.8 265.8" stroke="#62eb2d" stroke-width="1.5"/>
<path d="M102.8 265.8 104.2 263.1" stroke="#64eb2d" stroke-width="1.5"/>
<path d="M104.2 263.1 105.5 260.4" stroke="#7deb2a" stroke-width="1.5"/>
<path d="M105.5 260.4 106.8 257.7" stroke="#96eb28" stroke-width="1.5"/>
<path d="M106.8 257.7 108.1 255.0" stroke="#d2f01e" stroke-width="1.5"/>
<path d="M108.1 255.0 109.4 252.3" stroke="#fad71e" stroke-width="1.5"/>
<path d="M109.4 252.3 110.8 249.6" stroke="#fa8214" stroke-width="1.5"/>
<path d="M110.8 249.6 112.1 246.9" stroke="#fa5014" stroke-width="1.5"/>
<path d="M112.1 246.9 113.4 244.2" stroke="#f21e1c" stroke-width="1.5"/>
</g>
<g clip-path="url(#ca)" fill="none" stroke-linecap="round" stroke-linejoin="round">
<path d="M49.4 246.4 144.7 169.0 163.9 167.9 196.8 183.0 223.3 195.3 250.0 205.0 280.3 213.1 303.5 220.6 316.2 226.5 321.5 230.8" stroke="#2a2a2a" stroke-width="1.0"/>
<path d="M157.2 111.5 160.1 110.2 164.3 108.3 169.0 106.1 173.6 104.0 177.2 102.3 179.4 101.2 180.9 100.2 182.1 99.4 183.7 98.7 186.3 98.0 190.4 97.4 195.6 96.7 201.2 96.1 206.6 95.6 211.2 95.4 214.8 95.2 217.8 95.1 220.5 95.3 223.4 95.6 226.7 96.2 230.6 97.0 234.7 97.9 239.1 99.1 243.7 100.8 248.5 103.4 253.9 107.3 259.9 112.2 265.9 117.6 271.4 122.8 275.8 127.1 278.6 130.3 280.2 132.9 281.3 135.2 282.5 137.4 284.4 140.0 286.9 142.8 289.9 145.8 293.1 148.9 296.3 152.0 299.4 155.0 302.6 158.1 306.0 161.3 309.3 164.4 312.4 167.4 315.1 170.1 317.5 172.4 319.6 174.4 321.4 176.2 323.1 178.0 324.5 179.8 325.8 181.4 326.8 183.0 327.6 184.5 328.3 186.2 328.9 188.3 329.5 190.9 330.0 193.9 330.3 197.1 330.6 200.3 330.7 203.4 330.6 206.5 330.3 209.7 330.0 212.9 329.5 215.9 328.9 218.4 328.2 220.7 327.3 222.6 326.3 224.3 325.3 225.7 324.5 227.1 323.8 228.2 323.1 229.1 322.4 229.8 321.9 230.4 321.5 230.8" stroke="#2a2a2a" stroke-width="1.0"/>
<path d="M230.1 76.0 233.4 75.1 238.1 73.7 243.6 72.2 249.2 70.7 254.1 69.6 258.3 68.7 262.4 67.9 266.3 67.3 270.1 66.9 273.9 66.9 277.6 67.2 281.2 67.8 284.7 68.7 288.1 69.9 291.5 71.2 294.7 72.6 297.8 74.2 300.9 76.0 303.9 78.2 306.9 80.8 310.1 84.0 313.3 87.5 316.5 91.5 319.5 95.7 322.3 100.2 324.8 105.2 327.1 110.6 329.2 116.3 331.0 121.9 332.5 127.1 333.8 131.8 334.7 136.2 335.4 140.5 335.8 144.9 336.2 149.7 336.3 154.8 336.2 160.3 335.9 166.0 335.5 171.4 335.1 176.5 334.5 181.3 333.8 185.8 333.0 190.1 332.2 194.2 331.5 198.0 330.8 201.9 330.1 205.6 329.4 209.1 328.9 212.0 328.5 214.2" stroke="#2a2a2a" stroke-width="1.0"/>
<path d="M267.3 63.6 271.6 62.5 277.9 60.7 285.1 58.7 292.2 56.9 298.1 55.6 302.9 54.7 307.1 54.1 311.0 53.8 314.4 53.7 317.3 54.0 319.7 54.6 321.5 55.5 322.9 56.6 324.2 58.0 325.4 59.3 326.6 60.8 327.6 62.5 328.5 64.3 329.3 66.1 330.1 67.9 330.8 69.8 331.5 71.7 332.2 73.7 332.7 75.7 333.3 77.6 333.8 79.7 334.3 82.0 334.8 84.1 335.2 86.0 335.5 87.3" stroke="#2a2a2a" stroke-width="1.0"/>
<path d="M113.0 175.1 114.8 172.1 116.5 169.1 118.2 166.1 120.0 163.1 121.7 160.1 123.5 157.1 125.2 154.1 126.9 151.2 128.7 148.4 130.4 145.6 132.2 142.7 133.9 139.9 135.6 137.1 137.4 134.2 139.1 131.5 140.9 129.1 142.6 126.8 144.3 124.4 146.1 122.1 147.8 119.7 149.6 117.4 151.3 115.1 153.0 112.7 154.8 111.4 156.5 110.3" stroke="#000" stroke-width="1.6" stroke-dasharray="2.2 0.8" opacity="0.95"/>
<path d="M112.8 172.9 114.4 170.0 116.1 167.1 117.8 164.2 119.5 161.3 121.1 158.4 122.8 155.6 124.5 152.7 126.2 149.9 127.8 147.2 129.5 144.5 131.2 141.7 132.9 139.0 134.5 136.3 136.2 133.6 137.9 130.8 139.6 128.6 141.2 126.3 142.9 124.0 144.6 121.8 146.3 119.5 147.9 117.3 149.6 115.0 151.3 112.8 153.0 111.0 154.6 109.9" stroke="#000" stroke-width="1.5" stroke-dasharray="1.6 1.0" opacity="0.9"/>
<path d="M112.5 170.7 114.1 167.9 115.6 165.2 117.2 162.5 118.8 159.8 120.4 157.1 121.9 154.3 123.5 151.6 125.1 149.0 126.7 146.5 128.2 143.9 129.8 141.4 131.4 138.8 133.0 136.2 134.5 133.7 136.1 131.1 137.7 128.8 139.3 126.6 140.8 124.5 142.4 122.4 144.0 120.3 145.6 118.1 147.1 116.0 148.7 113.9 150.3 111.8 151.9 110.1" stroke="#111" stroke-width="1.4" stroke-dasharray="1.3 1.2" opacity="0.85"/>
<path d="M112.2 168.4 113.7 165.9 115.2 163.3 116.6 160.8 118.1 158.2 119.6 155.7 121.1 153.1 122.5 150.6 124.0 148.2 125.5 145.8 127.0 143.4 128.4 141.0 129.9 138.6 131.4 136.2 132.9 133.8 134.3 131.4 135.8 129.0 137.3 127.0 138.8 125.0 140.2 123.0 141.7 121.0 143.2 119.0 144.7 117.0 146.1 115.0 147.6 113.0 149.1 111.1" stroke="#2448e8" stroke-width="1.5" stroke-dasharray="1.6 1.2" opacity="0.95"/>
<path d="M112.0 166.2 113.3 163.8 114.7 161.4 116.1 159.1 117.5 156.7 118.8 154.3 120.2 151.9 121.6 149.6 123.0 147.3 124.3 145.1 125.7 142.8 127.1 140.6 128.5 138.4 129.8 136.1 131.2 133.9 132.6 131.6 134.0 129.4 135.3 127.3 136.7 125.4 138.1 123.6 139.4 121.7 140.8 119.9 142.2 118.0 143.6 116.2 144.9 114.3 146.3 112.5" stroke="#111" stroke-width="1.3" stroke-dasharray="1.1 1.5" opacity="0.75"/>
<path d="M111.7 163.9 113.0 161.7 114.2 159.5 115.5 157.3 116.8 155.1 118.1 152.9 119.3 150.7 120.6 148.5 121.9 146.4 123.2 144.4 124.4 142.3 125.7 140.2 127.0 138.1 128.3 136.1 129.5 134.0 130.8 131.9 132.1 129.8 133.4 127.8 134.6 125.9 135.9 124.2 137.2 122.5 138.5 120.7 139.7 119.0 141.0 117.3 142.3 115.6 143.6 113.9" stroke="#38c8e8" stroke-width="1.4" stroke-dasharray="1.3 1.3" opacity="0.95"/>
<path d="M111.4 161.7 112.6 159.7 113.8 157.6 114.9 155.6 116.1 153.6 117.3 151.5 118.5 149.5 119.6 147.5 120.8 145.6 122.0 143.7 123.2 141.8 124.3 139.8 125.5 137.9 126.7 136.0 127.9 134.1 129.0 132.2 130.2 130.3 131.4 128.4 132.6 126.5 133.7 124.8 134.9 123.2 136.1 121.6 137.3 120.0 138.4 118.4 139.6 116.9 140.8 115.3" stroke="#2040e0" stroke-width="1.4" stroke-dasharray="1.4 1.4" opacity="0.9"/>
<path d="M111.1 159.4 112.2 157.6 113.3 155.7 114.4 153.9 115.4 152.0 116.5 150.2 117.6 148.3 118.7 146.5 119.7 144.7 120.8 143.0 121.9 141.2 123.0 139.5 124.0 137.7 125.1 136.0 126.2 134.2 127.3 132.5 128.3 130.7 129.4 129.0 130.5 127.2 131.6 125.5 132.6 123.9 133.7 122.5 134.8 121.0 135.9 119.6 136.9 118.1 138.0 116.7" stroke="#222" stroke-width="1.1" stroke-dasharray="1 1.8" opacity="0.6"/>
<path d="M110.8 156.9 111.8 155.3 112.7 153.7 113.6 152.0 114.6 150.4 115.5 148.8 116.5 147.2 117.4 145.6 118.3 144.0 119.3 142.5 120.2 141.0 121.1 139.5 122.1 138.0 123.0 136.4 123.9 134.9 124.9 133.4 125.8 131.9 126.7 130.3 127.7 128.8 128.6 127.3 129.5 125.8 130.5 124.3 131.4 122.9 132.4 121.7 133.3 120.4 134.2 119.1" stroke="#40d8e0" stroke-width="1.3" stroke-dasharray="1.2 1.5" opacity="0.9"/>
<path d="M110.5 154.3 111.3 153.0 112.1 151.7 112.8 150.4 113.6 149.1 114.3 147.8 115.1 146.4 115.9 145.1 116.6 143.8 117.4 142.6 118.1 141.4 118.9 140.1 119.7 138.9 120.4 137.7 121.2 136.4 121.9 135.2 122.7 133.9 123.5 132.7 124.2 131.5 125.0 130.2 125.7 129.0 126.5 127.7 127.3 126.5 128.0 125.3 128.8 124.0 129.6 122.8" stroke="#2a5cf0" stroke-width="1.3" stroke-dasharray="1.4 1.4" opacity="0.85"/>
<path d="M153.1 116.6 155.4 114.4 157.6 112.9 159.8 111.5 162.1 110.0 164.3 108.5 166.6 107.1 168.8 105.6 171.0 104.2 173.3 103.1 175.5 102.1 177.8 101.0 180.0 99.9 182.2 98.9 184.5 97.8 186.7 96.7 188.9 95.7 191.2 94.6 193.4 93.6 195.7 92.6 197.9 91.6 200.1 90.6 202.4 89.6 204.6 88.6 206.8 87.6 209.1 86.6 211.3 85.7 213.6 84.8 215.8 83.9 218.0 83.0 220.3 82.1 222.5 81.2 224.8 80.3 227.0 79.4 229.2 78.5 231.5 77.7 233.7 77.0 235.9 76.2 238.2 75.5 240.4 74.8 242.7 74.1 244.9 73.4 247.1 72.7 249.4 72.0 251.6 71.3 253.8 70.6 256.1 69.9 258.3 69.2 260.6 68.5 262.8 67.8 265.0 67.1 267.3 66.4 269.5 65.7 271.8 65.0 274.0 64.3 276.2 63.6 278.5 62.9 280.7 62.2 282.9 61.5 285.2 60.9" stroke="#111" stroke-width="1.3" stroke-dasharray="3 2.5"/>
<path d="M113.8 176.5 119.3 117.4 120.7 136.8 125.7 117.4 126.9 135.7 131.2 117.4 132.6 133.5 137.6 117.4 138.8 131.4 143.1 117.4 144.3 129.2 148.6 117.4 149.8 123.8" stroke="#2a62f2" stroke-width="2.1"/>
<path d="M117.6 136.8 119.3 117.4" stroke="#5ae6e0" stroke-width="2"/>
</g>
<path d="M107.1 242.7 107.4 242.7 108.0 242.7 108.6 242.7 109.3 242.9 110.0 243.1 110.7 243.4 111.5 243.7 112.3 244.0 113.2 244.4 114.0 244.7 114.9 245.0 115.9 245.3 116.8 245.6 117.8 245.8 118.8 245.9 119.8 246.1 121.0 246.2 122.3 246.3 123.4 246.4 124.2 246.4" stroke="#f01c1c" stroke-width="2.2" fill="none" clip-path="url(#ca)"/>
<g clip-path="url(#cb)" fill="none" stroke-linecap="round" stroke-linejoin="round">
<path d="M432.2 265.6 435.4 257.4 438.5 249.1 441.7 240.8 444.9 232.5 448.1 225.3 451.3 219.9 454.4 214.5 457.6 209.1 460.8 203.6 464.0 198.2 467.1 192.8 470.3 187.7 473.5 182.9" stroke="#f01818" stroke-width="2.8"/>
<path d="M473.5 182.9 477.9 176.3 482.2 169.7 486.6 163.2 491.0 156.6 495.3 150.5 499.7 145.0 504.1 139.6 508.5 134.1 512.8 128.6 517.2 123.2 521.6 117.8 525.9 112.5 530.3 107.3 534.7 103.2 539.0 99.0 543.4 94.9 547.8 90.8 552.1 86.7 556.5 82.8 560.9 79.5 565.3 76.2 569.6 72.9 574.0 69.6 578.4 66.3 582.7 63.1 587.1 60.1 591.5 57.0 595.8 54.0 600.2 51.0 604.6 48.0 608.9 45.5 613.3 43.3 617.7 41.0 622.0 39.2 626.4 37.4 630.8 35.7 635.2 33.9 639.5 32.2 643.9 30.7" stroke="#f01818" stroke-width="2.5" stroke-dasharray="6 2.5"/>
<path d="M643.9 30.7 648.7 29.0 653.5 27.3 658.2 25.6 663.0 24.0 667.8 22.3 672.6 20.7 677.4 19.0 682.2 17.4 687.0 15.8 691.7 14.2 696.5 12.6 701.3 11.0 706.1 9.4" stroke="#f01818" stroke-width="2.6"/>
<path d="M680.2 5.2 677.0 9.4 673.4 14.5 669.4 19.7 665.5 23.8 661.8 26.2 658.1 27.5 654.7 28.6 651.8 29.6 649.1 30.4 646.6 31.0 643.8 31.4 641.2 31.6 639.3 31.8" stroke="#377df5" stroke-width="1.3"/>
<path d="M680.2 5.2 677.0 9.4 673.4 14.5 669.4 19.7 665.5 23.8 661.8 26.2 658.1 27.5 654.7 28.6 651.8 29.6 649.1 30.4 646.6 31.0 643.8 31.4 641.2 31.6 639.3 31.8" stroke="#3a3a3a" stroke-width="0.95" stroke-dasharray="1.2 1.4" opacity="0.75"/>
<path d="M657.5 -3.4 649.2 9.4 647.0 12.5 644.6 15.6 642.0 18.7 639.2 21.9 636.2 25.0 633.1 28.1 629.8 31.2 626.3 34.3 622.6 37.4 618.7 40.5" stroke="#46a0f0" stroke-width="1.3"/>
<path d="M657.5 -3.4 649.2 9.4 647.0 12.5 644.6 15.6 642.0 18.7 639.2 21.9 636.2 25.0 633.1 28.1 629.8 31.2 626.3 34.3 622.6 37.4 618.7 40.5" stroke="#3a3a3a" stroke-width="0.95" stroke-dasharray="1.2 1.4" opacity="0.75"/>
<path d="M640.3 -3.4 634.0 9.4 632.0 13.2 629.7 16.9 627.4 20.7 624.8 24.4 622.1 28.2 619.2 31.9 616.2 35.7 613.0 39.4 609.6 43.2 606.0 47.0" stroke="#4bc6e8" stroke-width="1.3"/>
<path d="M640.3 -3.4 634.0 9.4 632.0 13.2 629.7 16.9 627.4 20.7 624.8 24.4 622.1 28.2 619.2 31.9 616.2 35.7 613.0 39.4 609.6 43.2 606.0 47.0" stroke="#3a3a3a" stroke-width="0.95" stroke-dasharray="1.2 1.4" opacity="0.75"/>
<path d="M626.1 -3.4 621.2 9.4 619.2 13.9 617.2 18.5 614.9 23.0 612.5 27.6 609.9 32.1 607.2 36.6 604.3 41.2" stroke="#4bc6e8" stroke-width="1.3"/>
<path d="M604.3 41.2 601.3 45.7 598.1 50.2 594.7 54.8" stroke="#50ebe1" stroke-width="1.3"/>
<path d="M626.1 -3.4 621.2 9.4 619.2 13.9 617.2 18.5 614.9 23.0 612.5 27.6 609.9 32.1 607.2 36.6 604.3 41.2 601.3 45.7 598.1 50.2 594.7 54.8" stroke="#3a3a3a" stroke-width="0.95" stroke-dasharray="1.2 1.4" opacity="0.75"/>
<path d="M613.4 -3.4 609.3 9.4 607.4 14.7 605.3 20.1 603.1 25.4 600.7 30.7 598.2 36.1 595.5 41.4 592.7 46.7 589.7 52.1 586.5 57.4 583.2 62.8" stroke="#50ebe1" stroke-width="1.3"/>
<path d="M613.4 -3.4 609.3 9.4 607.4 14.7 605.3 20.1 603.1 25.4 600.7 30.7 598.2 36.1 595.5 41.4 592.7 46.7 589.7 52.1 586.5 57.4 583.2 62.8" stroke="#3a3a3a" stroke-width="0.95" stroke-dasharray="1.2 1.4" opacity="0.75"/>
<path d="M601.8 -3.4 598.3 9.4 596.5 15.5 594.5 21.6 592.3 27.6 590.0 33.7 587.6 39.8 585.0 45.9 582.3 52.0 579.4 58.0 576.3 64.1 573.1 70.2" stroke="#5febc8" stroke-width="1.3"/>
<path d="M601.8 -3.4 598.3 9.4 596.5 15.5 594.5 21.6 592.3 27.6 590.0 33.7 587.6 39.8 585.0 45.9 582.3 52.0 579.4 58.0 576.3 64.1 573.1 70.2" stroke="#3a3a3a" stroke-width="0.95" stroke-dasharray="1.2 1.4" opacity="0.75"/>
<path d="M589.6 -3.4 586.7 9.4 585.1 16.2 583.3 22.9 581.4 29.7 579.4 36.4 577.2 43.2 574.9 49.9" stroke="#5febc8" stroke-width="1.3"/>
<path d="M574.9 49.9 572.4 56.7 569.8 63.4 567.1 70.2 564.3 76.9" stroke="#6eebaf" stroke-width="1.3"/>
<path d="M589.6 -3.4 586.7 9.4 585.1 16.2 583.3 22.9 581.4 29.7 579.4 36.4 577.2 43.2 574.9 49.9 572.4 56.7 569.8 63.4 567.1 70.2 564.3 76.9" stroke="#3a3a3a" stroke-width="0.95" stroke-dasharray="1.2 1.4" opacity="0.75"/>
<path d="M577.4 -3.4 575.1 9.4 573.7 16.8 572.1 24.2 570.5 31.7 568.7 39.1 566.8 46.5 564.7 53.9 562.6 61.3 560.3 68.8 558.0 76.2 555.5 83.6" stroke="#6eebaf" stroke-width="1.3"/>
<path d="M577.4 -3.4 575.1 9.4 573.7 16.8 572.1 24.2 570.5 31.7 568.7 39.1 566.8 46.5 564.7 53.9 562.6 61.3 560.3 68.8 558.0 76.2 555.5 83.6" stroke="#3a3a3a" stroke-width="0.95" stroke-dasharray="1.2 1.4" opacity="0.75"/>
<path d="M568.0 -3.4 565.9 9.4 564.5 17.7" stroke="#6eebaf" stroke-width="1.3"/>
<path d="M564.5 17.7 563.0 25.9 561.4 34.2 559.6 42.4 557.7 50.7 555.7 58.9 553.6 67.2 551.4 75.4 549.0 83.7 546.6 91.9" stroke="#69eb98" stroke-width="1.3"/>
<path d="M568.0 -3.4 565.9 9.4 564.5 17.7 563.0 25.9 561.4 34.2 559.6 42.4 557.7 50.7 555.7 58.9 553.6 67.2 551.4 75.4 549.0 83.7 546.6 91.9" stroke="#3a3a3a" stroke-width="0.95" stroke-dasharray="1.2 1.4" opacity="0.75"/>
<path d="M558.8 -3.4 556.9 9.4 555.4 18.6 553.8 27.8 552.0 37.0 550.2 46.2 548.2 55.5" stroke="#69eb98" stroke-width="1.3"/>
<path d="M548.2 55.5 546.1 64.7 543.8 73.9 541.5 83.1 539.0 92.3 536.4 101.5" stroke="#64eb82" stroke-width="1.3"/>
<path d="M558.8 -3.4 556.9 9.4 555.4 18.6 553.8 27.8 552.0 37.0 550.2 46.2 548.2 55.5 546.1 64.7 543.8 73.9 541.5 83.1 539.0 92.3 536.4 101.5" stroke="#3a3a3a" stroke-width="0.95" stroke-dasharray="1.2 1.4" opacity="0.75"/>
<path d="M549.3 -3.4 547.7 9.4 546.3 19.4 544.8 29.4 543.2 39.3 541.4 49.3 539.6 59.3 537.6 69.3 535.6 79.2 533.4 89.2 531.1 99.2" stroke="#64eb82" stroke-width="1.3"/>
<path d="M531.1 99.2 528.7 109.2" stroke="#5ceb69" stroke-width="1.3"/>
<path d="M549.3 -3.4 547.7 9.4 546.3 19.4 544.8 29.4 543.2 39.3 541.4 49.3 539.6 59.3 537.6 69.3 535.6 79.2 533.4 89.2 531.1 99.2 528.7 109.2" stroke="#3a3a3a" stroke-width="0.95" stroke-dasharray="1.2 1.4" opacity="0.75"/>
<path d="M539.9 -3.4 538.6 9.4 537.3 20.2 536.0 31.1 534.6 41.9" stroke="#64eb82" stroke-width="1.3"/>
<path d="M534.6 41.9 533.0 52.7 531.4 63.5 529.6 74.4 527.8 85.2 525.8 96.0 523.8 106.8 521.6 117.7" stroke="#5ceb69" stroke-width="1.3"/>
<path d="M539.9 -3.4 538.6 9.4 537.3 20.2 536.0 31.1 534.6 41.9 533.0 52.7 531.4 63.5 529.6 74.4 527.8 85.2 525.8 96.0 523.8 106.8 521.6 117.7" stroke="#3a3a3a" stroke-width="0.95" stroke-dasharray="1.2 1.4" opacity="0.75"/>
<path d="M531.5 -3.4 530.3 9.4 529.2 21.1 527.9 32.8 526.6 44.5 525.2 56.2 523.6 67.9 522.0 79.6" stroke="#5ceb69" stroke-width="1.3"/>
<path d="M522.0 79.6 520.3 91.3 518.5 103.0 516.6 114.7 514.6 126.4" stroke="#55eb50" stroke-width="1.3"/>
<path d="M531.5 -3.4 530.3 9.4 529.2 21.1 527.9 32.8 526.6 44.5 525.2 56.2 523.6 67.9 522.0 79.6 520.3 91.3 518.5 103.0 516.6 114.7 514.6 126.4" stroke="#3a3a3a" stroke-width="0.95" stroke-dasharray="1.2 1.4" opacity="0.75"/>
<path d="M523.0 -3.4 522.1 9.4 521.1 21.9" stroke="#5ceb69" stroke-width="1.3"/>
<path d="M521.1 21.9 520.0 34.4 518.8 46.9 517.5 59.4 516.1 72.0 514.7 84.5 513.2 97.0 511.6 109.5" stroke="#55eb50" stroke-width="1.3"/>
<path d="M511.6 109.5 509.9 122.0 508.1 134.5" stroke="#55eb4b" stroke-width="1.3"/>
<path d="M523.0 -3.4 522.1 9.4 521.1 21.9 520.0 34.4 518.8 46.9 517.5 59.4 516.1 72.0 514.7 84.5 513.2 97.0 511.6 109.5 509.9 122.0 508.1 134.5" stroke="#3a3a3a" stroke-width="0.95" stroke-dasharray="1.2 1.4" opacity="0.75"/>
<path d="M515.5 -3.4 514.7 9.4 513.7 22.7 512.7 36.1 511.6 49.4 510.4 62.7" stroke="#55eb50" stroke-width="1.3"/>
<path d="M510.4 62.7 509.1 76.0 507.8 89.4 506.4 102.7 504.9 116.0 503.3 129.3 501.6 142.7" stroke="#55eb4b" stroke-width="1.3"/>
<path d="M515.5 -3.4 514.7 9.4 513.7 22.7 512.7 36.1 511.6 49.4 510.4 62.7 509.1 76.0 507.8 89.4 506.4 102.7 504.9 116.0 503.3 129.3 501.6 142.7" stroke="#3a3a3a" stroke-width="0.95" stroke-dasharray="1.2 1.4" opacity="0.75"/>
<path d="M508.2 -3.4 507.4 9.4 506.5 23.5" stroke="#55eb50" stroke-width="1.3"/>
<path d="M506.5 23.5 505.6 37.7 504.5 51.8 503.4 66.0 502.2 80.1 500.9 94.2" stroke="#55eb4b" stroke-width="1.3"/>
<path d="M500.9 94.2 499.6 108.4 498.2 122.5 496.7 136.6 495.1 150.8" stroke="#55eb46" stroke-width="1.3"/>
<path d="M508.2 -3.4 507.4 9.4 506.5 23.5 505.6 37.7 504.5 51.8 503.4 66.0 502.2 80.1 500.9 94.2 499.6 108.4 498.2 122.5 496.7 136.6 495.1 150.8" stroke="#3a3a3a" stroke-width="0.95" stroke-dasharray="1.2 1.4" opacity="0.75"/>
<path d="M500.9 -3.4 500.1 9.4 499.2 24.5 498.2 39.5 497.2 54.6" stroke="#55eb4b" stroke-width="1.3"/>
<path d="M497.2 54.6 496.2 69.7 495.1 84.7 493.9 99.8 492.7 114.9 491.5 129.9" stroke="#55eb46" stroke-width="1.3"/>
<path d="M491.5 129.9 490.1 145.0 488.6 160.1" stroke="#52eb3c" stroke-width="1.3"/>
<path d="M500.9 -3.4 500.1 9.4 499.2 24.5 498.2 39.5 497.2 54.6 496.2 69.7 495.1 84.7 493.9 99.8 492.7 114.9 491.5 129.9 490.1 145.0 488.6 160.1" stroke="#3a3a3a" stroke-width="0.95" stroke-dasharray="1.2 1.4" opacity="0.75"/>
<path d="M494.5 -3.4 493.7 9.4" stroke="#55eb4b" stroke-width="1.3"/>
<path d="M493.7 9.4 492.8 25.4 491.8 41.5 490.8 57.5 489.7 73.6 488.6 89.6" stroke="#55eb46" stroke-width="1.3"/>
<path d="M488.6 89.6 487.5 105.7 486.3 121.7 485.0 137.8 483.6 153.8" stroke="#52eb3c" stroke-width="1.3"/>
<path d="M483.6 153.8 482.2 169.9" stroke="#50eb32" stroke-width="1.3"/>
<path d="M494.5 -3.4 493.7 9.4 492.8 25.4 491.8 41.5 490.8 57.5 489.7 73.6 488.6 89.6 487.5 105.7 486.3 121.7 485.0 137.8 483.6 153.8 482.2 169.9" stroke="#3a3a3a" stroke-width="0.95" stroke-dasharray="1.2 1.4" opacity="0.75"/>
<path d="M487.2 -3.4 486.4 9.4 485.4 26.4 484.4 43.4 483.5 60.5" stroke="#55eb46" stroke-width="1.3"/>
<path d="M483.5 60.5 482.5 77.5 481.5 94.5 480.5 111.5 479.4 128.6" stroke="#52eb3c" stroke-width="1.3"/>
<path d="M479.4 128.6 478.2 145.6 477.0 162.6 475.7 179.6" stroke="#50eb32" stroke-width="1.3"/>
<path d="M487.2 -3.4 486.4 9.4 485.4 26.4 484.4 43.4 483.5 60.5 482.5 77.5 481.5 94.5 480.5 111.5 479.4 128.6 478.2 145.6 477.0 162.6 475.7 179.6" stroke="#3a3a3a" stroke-width="0.95" stroke-dasharray="1.2 1.4" opacity="0.75"/>
<path d="M480.8 -3.4 480.0 9.4" stroke="#55eb4b" stroke-width="1.3"/>
<path d="M480.0 9.4 478.9 27.4 477.9 45.5 476.9 63.5" stroke="#55eb46" stroke-width="1.3"/>
<path d="M476.9 63.5 475.9 81.6 474.9 99.6 473.8 117.6 472.7 135.7" stroke="#52eb3c" stroke-width="1.3"/>
<path d="M472.7 135.7 471.5 153.7 470.3 171.8 468.9 189.8" stroke="#50eb32" stroke-width="1.3"/>
<path d="M480.8 -3.4 480.0 9.4 478.9 27.4 477.9 45.5 476.9 63.5 475.9 81.6 474.9 99.6 473.8 117.6 472.7 135.7 471.5 153.7 470.3 171.8 468.9 189.8" stroke="#3a3a3a" stroke-width="0.95" stroke-dasharray="1.2 1.4" opacity="0.75"/>
<path d="M474.4 -3.4 473.6 9.4" stroke="#55eb4b" stroke-width="1.3"/>
<path d="M473.6 9.4 472.5 28.2 471.6 46.9 470.8 65.7 470.2 84.4" stroke="#55eb46" stroke-width="1.3"/>
<path d="M470.2 84.4 469.6 103.2 469.0 122.0 468.3 140.7" stroke="#52eb3c" stroke-width="1.3"/>
<path d="M468.3 140.7 467.7 159.5 466.9 178.2 466.0 197.0" stroke="#50eb32" stroke-width="1.3"/>
<path d="M474.4 -3.4 473.6 9.4 472.5 28.2 471.6 46.9 470.8 65.7 470.2 84.4 469.6 103.2 469.0 122.0 468.3 140.7 467.7 159.5 466.9 178.2 466.0 197.0" stroke="#3a3a3a" stroke-width="0.95" stroke-dasharray="1.2 1.4" opacity="0.75"/>
<path d="M468.1 -3.4 467.3 9.4" stroke="#55eb4b" stroke-width="1.3"/>
<path d="M467.3 9.4 466.2 29.0 465.3 48.7 464.6 68.3 464.0 87.9" stroke="#55eb46" stroke-width="1.3"/>
<path d="M464.0 87.9 463.5 107.6 463.0 127.2 462.5 146.9" stroke="#52eb3c" stroke-width="1.3"/>
<path d="M462.5 146.9 461.9 166.5 461.3 186.1 460.5 205.8" stroke="#50eb32" stroke-width="1.3"/>
<path d="M468.1 -3.4 467.3 9.4 466.2 29.0 465.3 48.7 464.6 68.3 464.0 87.9 463.5 107.6 463.0 127.2 462.5 146.9 461.9 166.5 461.3 186.1 460.5 205.8" stroke="#3a3a3a" stroke-width="0.95" stroke-dasharray="1.2 1.4" opacity="0.75"/>
<path d="M462.6 -3.4 461.8 9.4 460.7 30.0" stroke="#55eb4b" stroke-width="1.3"/>
<path d="M460.7 30.0 459.7 50.6 459.0 71.2 458.4 91.8" stroke="#55eb46" stroke-width="1.3"/>
<path d="M458.4 91.8 457.9 112.4 457.4 133.0 456.9 153.6" stroke="#52eb3c" stroke-width="1.3"/>
<path d="M456.9 153.6 456.4 174.2 455.8 194.8 455.0 215.3" stroke="#50eb32" stroke-width="1.3"/>
<path d="M462.6 -3.4 461.8 9.4 460.7 30.0 459.7 50.6 459.0 71.2 458.4 91.8 457.9 112.4 457.4 133.0 456.9 153.6 456.4 174.2 455.8 194.8 455.0 215.3" stroke="#3a3a3a" stroke-width="0.95" stroke-dasharray="1.2 1.4" opacity="0.75"/>
<path d="M458.3 -3.4 457.5 9.4 456.3 30.6" stroke="#55eb4b" stroke-width="1.3"/>
<path d="M456.3 30.6 455.2 51.9 454.3 73.1 453.4 94.3" stroke="#55eb46" stroke-width="1.3"/>
<path d="M453.4 94.3 452.7 115.6 451.9 136.8 451.1 158.0" stroke="#52eb3c" stroke-width="1.3"/>
<path d="M451.1 158.0 450.2 179.3 449.2 200.5 448.1 221.7" stroke="#50eb32" stroke-width="1.3"/>
<path d="M458.3 -3.4 457.5 9.4 456.3 30.6 455.2 51.9 454.3 73.1 453.4 94.3 452.7 115.6 451.9 136.8 451.1 158.0 450.2 179.3 449.2 200.5 448.1 221.7" stroke="#3a3a3a" stroke-width="0.95" stroke-dasharray="1.2 1.4" opacity="0.75"/>
<path d="M454.8 -3.4 454.0 9.4 452.8 31.5" stroke="#55eb4b" stroke-width="1.3"/>
<path d="M452.8 31.5 451.7 53.6 450.7 75.7 449.9 97.8" stroke="#55eb46" stroke-width="1.3"/>
<path d="M449.9 97.8 449.0 120.0 448.1 142.1 447.2 164.2" stroke="#52eb3c" stroke-width="1.3"/>
<path d="M447.2 164.2 446.3 186.3 445.2 208.4 444.0 230.5" stroke="#50eb32" stroke-width="1.3"/>
<path d="M454.8 -3.4 454.0 9.4 452.8 31.5 451.7 53.6 450.7 75.7 449.9 97.8 449.0 120.0 448.1 142.1 447.2 164.2 446.3 186.3 445.2 208.4 444.0 230.5" stroke="#3a3a3a" stroke-width="0.95" stroke-dasharray="1.2 1.4" opacity="0.75"/>
<path d="M451.1 -3.4 450.4 9.4 449.2 32.1" stroke="#55eb4b" stroke-width="1.3"/>
<path d="M449.2 32.1 448.1 54.9 447.0 77.6 445.9 100.4" stroke="#55eb46" stroke-width="1.3"/>
<path d="M445.9 100.4 444.9 123.1 443.7 145.9 442.6 168.6" stroke="#52eb3c" stroke-width="1.3"/>
<path d="M442.6 168.6 441.3 191.4 440.0 214.1 438.5 236.9" stroke="#50eb32" stroke-width="1.3"/>
<path d="M451.1 -3.4 450.4 9.4 449.2 32.1 448.1 54.9 447.0 77.6 445.9 100.4 444.9 123.1 443.7 145.9 442.6 168.6 441.3 191.4 440.0 214.1 438.5 236.9" stroke="#3a3a3a" stroke-width="0.95" stroke-dasharray="1.2 1.4" opacity="0.75"/>
<path d="M446.6 -3.4 445.9 9.4 444.8 32.9" stroke="#55eb4b" stroke-width="1.3"/>
<path d="M444.8 32.9 443.7 56.3 442.6 79.8 441.6 103.3" stroke="#55eb46" stroke-width="1.3"/>
<path d="M441.6 103.3 440.5 126.7 439.4 150.2 438.3 173.7" stroke="#52eb3c" stroke-width="1.3"/>
<path d="M438.3 173.7 437.1 197.1 435.8 220.6 434.4 244.1" stroke="#50eb32" stroke-width="1.3"/>
<path d="M446.6 -3.4 445.9 9.4 444.8 32.9 443.7 56.3 442.6 79.8 441.6 103.3 440.5 126.7 439.4 150.2 438.3 173.7 437.1 197.1 435.8 220.6 434.4 244.1" stroke="#3a3a3a" stroke-width="0.95" stroke-dasharray="1.2 1.4" opacity="0.75"/>
<path d="M441.2 -3.4 440.6 9.4 439.5 33.3" stroke="#55eb4b" stroke-width="1.3"/>
<path d="M439.5 33.3 438.5 57.1 437.7 81.0 436.8 104.9" stroke="#55eb46" stroke-width="1.3"/>
<path d="M436.8 104.9 436.0 128.7 435.2 152.6 434.4 176.5" stroke="#52eb3c" stroke-width="1.3"/>
<path d="M434.4 176.5 433.5 200.3 432.4 224.2 431.3 248.1" stroke="#50eb32" stroke-width="1.3"/>
<path d="M441.2 -3.4 440.6 9.4 439.5 33.3 438.5 57.1 437.7 81.0 436.8 104.9 436.0 128.7 435.2 152.6 434.4 176.5 433.5 200.3 432.4 224.2 431.3 248.1" stroke="#3a3a3a" stroke-width="0.95" stroke-dasharray="1.2 1.4" opacity="0.75"/>
<path d="M436.3 -3.4 435.6 9.4" stroke="#55eb4b" stroke-width="1.3"/>
<path d="M435.6 9.4 434.6 33.6 433.8 57.8 433.1 82.0 432.6 106.1" stroke="#55eb46" stroke-width="1.3"/>
<path d="M432.6 106.1 432.2 130.3 431.8 154.5 431.4 178.7" stroke="#52eb3c" stroke-width="1.3"/>
<path d="M431.4 178.7 430.9 202.9 430.4 227.1 429.7 251.3" stroke="#50eb32" stroke-width="1.3"/>
<path d="M436.3 -3.4 435.6 9.4 434.6 33.6 433.8 57.8 433.1 82.0 432.6 106.1 432.2 130.3 431.8 154.5 431.4 178.7 430.9 202.9 430.4 227.1 429.7 251.3" stroke="#3a3a3a" stroke-width="0.95" stroke-dasharray="1.2 1.4" opacity="0.75"/>
<path d="M639.3 31.8 635.8 31.0" stroke="#4bc6e8" stroke-width="1.8"/>
<path d="M635.8 31.0 631.4 29.0" stroke="#50ebe1" stroke-width="1.8"/>
<path d="M631.4 29.0 622.3 27.4" stroke="#64eb82" stroke-width="1.8"/>
<path d="M622.3 27.4 613.7 26.5" stroke="#52eb30" stroke-width="1.8"/>
<path d="M618.7 40.5 618.7 39.6 618.7 38.6" stroke="#4bc6e8" stroke-width="1.8"/>
<path d="M618.7 38.6 618.7 37.7 618.5 36.0" stroke="#50ebe1" stroke-width="1.8"/>
<path d="M618.5 36.0 617.8 34.7" stroke="#5febc8" stroke-width="1.8"/>
<path d="M617.8 34.7 616.6 33.5" stroke="#6eebaf" stroke-width="1.8"/>
<path d="M616.6 33.5 615.0 32.4" stroke="#69eb98" stroke-width="1.8"/>
<path d="M615.0 32.4 612.9 31.4" stroke="#64eb82" stroke-width="1.8"/>
<path d="M612.9 31.4 610.6 30.6" stroke="#5ceb69" stroke-width="1.8"/>
<path d="M610.6 30.6 607.9 29.9" stroke="#55eb50" stroke-width="1.8"/>
<path d="M607.9 29.9 605.1 29.4" stroke="#55eb4b" stroke-width="1.8"/>
<path d="M605.1 29.4 602.1 29.1" stroke="#52eb3c" stroke-width="1.8"/>
<path d="M602.1 29.1 599.0 29.0" stroke="#52eb30" stroke-width="1.8"/>
<path d="M606.0 47.0 606.0 46.0 606.1 45.0 606.1 44.1 606.1 43.1 606.1 42.1 606.1 41.2 606.1 40.2" stroke="#4bc6e8" stroke-width="1.8"/>
<path d="M606.1 40.2 606.2 39.3 606.2 38.3 606.2 37.3" stroke="#50ebe1" stroke-width="1.8"/>
<path d="M606.2 37.3 606.0 36.0" stroke="#5febc8" stroke-width="1.8"/>
<path d="M606.0 36.0 605.3 34.7 604.1 33.5" stroke="#6eebaf" stroke-width="1.8"/>
<path d="M604.1 33.5 602.5 32.4" stroke="#69eb98" stroke-width="1.8"/>
<path d="M602.5 32.4 600.6 31.4" stroke="#64eb82" stroke-width="1.8"/>
<path d="M600.6 31.4 598.3 30.6" stroke="#55eb50" stroke-width="1.8"/>
<path d="M598.3 30.6 595.7 29.9" stroke="#55eb4b" stroke-width="1.8"/>
<path d="M595.7 29.9 592.9 29.4" stroke="#52eb3c" stroke-width="1.8"/>
<path d="M592.9 29.4 590.0 29.1" stroke="#52eb30" stroke-width="1.8"/>
<path d="M590.0 29.1 587.0 29.0" stroke="#5aeb2d" stroke-width="1.8"/>
<path d="M594.7 54.8 594.8 53.2 594.8 51.5 594.9 49.9 594.9 48.3 594.9 46.7 595.0 45.1 595.0 43.5 595.1 41.8" stroke="#50ebe1" stroke-width="1.8"/>
<path d="M595.1 41.8 595.1 40.2 595.2 38.6" stroke="#5febc8" stroke-width="1.8"/>
<path d="M595.2 38.6 594.9 37.1" stroke="#6eebaf" stroke-width="1.8"/>
<path d="M594.9 37.1 594.2 35.6 593.1 34.2" stroke="#69eb98" stroke-width="1.8"/>
<path d="M593.1 34.2 591.6 32.9" stroke="#64eb82" stroke-width="1.8"/>
<path d="M591.6 32.9 589.7 31.8" stroke="#55eb50" stroke-width="1.8"/>
<path d="M589.7 31.8 587.4 30.8" stroke="#55eb4b" stroke-width="1.8"/>
<path d="M587.4 30.8 584.9 30.0" stroke="#52eb3c" stroke-width="1.8"/>
<path d="M584.9 30.0 582.2 29.4" stroke="#52eb30" stroke-width="1.8"/>
<path d="M582.2 29.4 579.4 29.1" stroke="#5aeb2d" stroke-width="1.8"/>
<path d="M579.4 29.1 576.4 29.0" stroke="#62eb2d" stroke-width="1.8"/>
<path d="M583.2 62.8 583.3 60.7 583.4 58.6 583.4 56.6 583.5 54.5 583.6 52.5" stroke="#50ebe1" stroke-width="1.8"/>
<path d="M583.6 52.5 583.7 50.4 583.8 48.4 583.9 46.3" stroke="#5febc8" stroke-width="1.8"/>
<path d="M583.9 46.3 583.9 44.2 584.0 42.2" stroke="#6eebaf" stroke-width="1.8"/>
<path d="M584.0 42.2 583.8 40.1" stroke="#69eb98" stroke-width="1.8"/>
<path d="M583.8 40.1 583.1 38.1 582.0 36.2" stroke="#64eb82" stroke-width="1.8"/>
<path d="M582.0 36.2 580.5 34.4" stroke="#55eb50" stroke-width="1.8"/>
<path d="M580.5 34.4 578.7 32.8" stroke="#55eb4b" stroke-width="1.8"/>
<path d="M578.7 32.8 576.5 31.5" stroke="#55eb46" stroke-width="1.8"/>
<path d="M576.5 31.5 574.1 30.4" stroke="#50eb32" stroke-width="1.8"/>
<path d="M574.1 30.4 571.4 29.6" stroke="#55eb2d" stroke-width="1.8"/>
<path d="M571.4 29.6 568.6 29.1" stroke="#5feb2d" stroke-width="1.8"/>
<path d="M568.6 29.1 565.8 29.0" stroke="#7deb2a" stroke-width="1.8"/>
<path d="M573.1 70.2 573.3 67.7 573.4 65.3 573.5 62.8 573.6 60.3 573.8 57.9 573.9 55.4" stroke="#5febc8" stroke-width="1.8"/>
<path d="M573.9 55.4 574.0 52.9 574.2 50.5 574.3 48.0" stroke="#6eebaf" stroke-width="1.8"/>
<path d="M574.3 48.0 574.4 45.5" stroke="#69eb98" stroke-width="1.8"/>
<path d="M574.4 45.5 573.0 43.1" stroke="#64eb82" stroke-width="1.8"/>
<path d="M573.0 43.1 571.4 40.8" stroke="#5ceb69" stroke-width="1.8"/>
<path d="M571.4 40.8 569.7 38.7" stroke="#55eb50" stroke-width="1.8"/>
<path d="M569.7 38.7 567.9 36.7" stroke="#55eb4b" stroke-width="1.8"/>
<path d="M567.9 36.7 566.1 34.8" stroke="#55eb46" stroke-width="1.8"/>
<path d="M566.1 34.8 564.2 33.2" stroke="#50eb32" stroke-width="1.8"/>
<path d="M564.2 33.2 562.4 31.7" stroke="#55eb2d" stroke-width="1.8"/>
<path d="M562.4 31.7 560.5 30.4" stroke="#5feb2d" stroke-width="1.8"/>
<path d="M560.5 30.4 558.5 29.5" stroke="#64eb2d" stroke-width="1.8"/>
<path d="M558.5 29.5 556.6 29.0" stroke="#b4ee23" stroke-width="1.8"/>
<path d="M564.3 76.9 564.4 74.1 564.6 71.3 564.8 68.4 565.0 65.6 565.1 62.7 565.3 59.9 565.5 57.1" stroke="#6eebaf" stroke-width="1.8"/>
<path d="M565.5 57.1 565.7 54.2 565.8 51.4" stroke="#69eb98" stroke-width="1.8"/>
<path d="M565.8 51.4 566.0 48.6" stroke="#64eb82" stroke-width="1.8"/>
<path d="M566.0 48.6 564.6 45.7 563.1 43.0" stroke="#5ceb69" stroke-width="1.8"/>
<path d="M563.1 43.0 561.4 40.4" stroke="#55eb4b" stroke-width="1.8"/>
<path d="M561.4 40.4 559.7 38.1" stroke="#55eb46" stroke-width="1.8"/>
<path d="M559.7 38.1 558.0 35.9" stroke="#52eb3c" stroke-width="1.8"/>
<path d="M558.0 35.9 556.2 33.9" stroke="#52eb30" stroke-width="1.8"/>
<path d="M556.2 33.9 554.4 32.2" stroke="#5aeb2d" stroke-width="1.8"/>
<path d="M554.4 32.2 552.6 30.7" stroke="#62eb2d" stroke-width="1.8"/>
<path d="M552.6 30.7 550.7 29.6" stroke="#96eb28" stroke-width="1.8"/>
<path d="M550.7 29.6 548.8 29.0" stroke="#e6e41e" stroke-width="1.8"/>
<path d="M555.5 83.6 555.7 80.4 555.9 77.2 556.1 74.0" stroke="#6eebaf" stroke-width="1.8"/>
<path d="M556.1 74.0 556.4 70.8 556.6 67.6 556.8 64.4 557.0 61.2" stroke="#69eb98" stroke-width="1.8"/>
<path d="M557.0 61.2 557.3 58.0 557.5 54.8" stroke="#64eb82" stroke-width="1.8"/>
<path d="M557.5 54.8 557.7 51.6 556.4 48.3" stroke="#5ceb69" stroke-width="1.8"/>
<path d="M556.4 48.3 554.9 45.1" stroke="#55eb50" stroke-width="1.8"/>
<path d="M554.9 45.1 553.3 42.2" stroke="#55eb4b" stroke-width="1.8"/>
<path d="M553.3 42.2 551.7 39.5" stroke="#52eb3c" stroke-width="1.8"/>
<path d="M551.7 39.5 550.0 37.0" stroke="#50eb32" stroke-width="1.8"/>
<path d="M550.0 37.0 548.3 34.7" stroke="#55eb2d" stroke-width="1.8"/>
<path d="M548.3 34.7 546.5 32.7" stroke="#5feb2d" stroke-width="1.8"/>
<path d="M546.5 32.7 544.8 31.0" stroke="#7deb2a" stroke-width="1.8"/>
<path d="M544.8 31.0 543.0 29.7" stroke="#b4ee23" stroke-width="1.8"/>
<path d="M543.0 29.7 541.2 29.0" stroke="#faac19" stroke-width="1.8"/>
<path d="M556.1 74.0 556.4 70.8" stroke="#3a3a3a" stroke-width="0.9" stroke-dasharray="1.1 1.5" opacity="0.6"/>
<path d="M546.6 91.9 546.9 88.3 547.2 84.6 547.5 81.0 547.8 77.3 548.1 73.6" stroke="#69eb98" stroke-width="1.8"/>
<path d="M548.1 73.6 548.4 70.0 548.7 66.3 549.0 62.6" stroke="#64eb82" stroke-width="1.8"/>
<path d="M549.0 62.6 549.3 59.0 549.6 55.3" stroke="#5ceb69" stroke-width="1.8"/>
<path d="M549.6 55.3 548.3 51.5" stroke="#55eb50" stroke-width="1.8"/>
<path d="M548.3 51.5 546.8 47.8" stroke="#55eb4b" stroke-width="1.8"/>
<path d="M546.8 47.8 545.3 44.4" stroke="#55eb46" stroke-width="1.8"/>
<path d="M545.3 44.4 543.7 41.2" stroke="#50eb32" stroke-width="1.8"/>
<path d="M543.7 41.2 542.1 38.3" stroke="#55eb2d" stroke-width="1.8"/>
<path d="M542.1 38.3 540.5 35.6" stroke="#5feb2d" stroke-width="1.8"/>
<path d="M540.5 35.6 538.8 33.3" stroke="#64eb2d" stroke-width="1.8"/>
<path d="M538.8 33.3 537.1 31.3" stroke="#96eb28" stroke-width="1.8"/>
<path d="M537.1 31.3 535.3 29.8" stroke="#e6e41e" stroke-width="1.8"/>
<path d="M535.3 29.8 533.6 29.0" stroke="#fa8214" stroke-width="1.8"/>
<path d="M547.5 81.0 547.8 77.3 548.1 73.6 548.4 70.0" stroke="#3a3a3a" stroke-width="0.9" stroke-dasharray="1.1 1.5" opacity="0.6"/>
<path d="M536.4 101.5 536.8 97.3 537.1 93.1 537.5 89.0 537.8 84.8 538.2 80.6 538.5 76.4" stroke="#64eb82" stroke-width="1.8"/>
<path d="M538.5 76.4 538.9 72.2 539.2 68.0" stroke="#5ceb69" stroke-width="1.8"/>
<path d="M539.2 68.0 539.6 63.8 539.9 59.6" stroke="#55eb50" stroke-width="1.8"/>
<path d="M539.9 59.6 538.7 55.1" stroke="#55eb4b" stroke-width="1.8"/>
<path d="M538.7 55.1 537.3 50.9" stroke="#55eb46" stroke-width="1.8"/>
<path d="M537.3 50.9 535.9 46.9" stroke="#52eb3c" stroke-width="1.8"/>
<path d="M535.9 46.9 534.4 43.2" stroke="#52eb30" stroke-width="1.8"/>
<path d="M534.4 43.2 532.8 39.8" stroke="#5aeb2d" stroke-width="1.8"/>
<path d="M532.8 39.8 531.2 36.7" stroke="#62eb2d" stroke-width="1.8"/>
<path d="M531.2 36.7 529.6 34.0" stroke="#7deb2a" stroke-width="1.8"/>
<path d="M529.6 34.0 528.0 31.7" stroke="#d2f01e" stroke-width="1.8"/>
<path d="M528.0 31.7 526.3 29.9" stroke="#faac19" stroke-width="1.8"/>
<path d="M526.3 29.9 524.7 29.0" stroke="#fa5014" stroke-width="1.8"/>
<path d="M537.5 89.0 537.8 84.8 538.2 80.6 538.5 76.4 538.9 72.2" stroke="#3a3a3a" stroke-width="0.9" stroke-dasharray="1.1 1.5" opacity="0.6"/>
<path d="M528.7 109.2 529.1 104.5 529.5 99.9 529.9 95.3 530.3 90.7 530.7 86.1 531.0 81.5 531.4 76.9" stroke="#5ceb69" stroke-width="1.8"/>
<path d="M531.4 76.9 531.8 72.3 532.2 67.7" stroke="#55eb50" stroke-width="1.8"/>
<path d="M532.2 67.7 532.6 63.1" stroke="#55eb4b" stroke-width="1.8"/>
<path d="M532.6 63.1 531.5 58.1" stroke="#55eb46" stroke-width="1.8"/>
<path d="M531.5 58.1 530.1 53.4" stroke="#52eb3c" stroke-width="1.8"/>
<path d="M530.1 53.4 528.7 48.9" stroke="#50eb32" stroke-width="1.8"/>
<path d="M528.7 48.9 527.3 44.8" stroke="#55eb2d" stroke-width="1.8"/>
<path d="M527.3 44.8 525.8 41.0" stroke="#5feb2d" stroke-width="1.8"/>
<path d="M525.8 41.0 524.2 37.6" stroke="#64eb2d" stroke-width="1.8"/>
<path d="M524.2 37.6 522.7 34.6" stroke="#96eb28" stroke-width="1.8"/>
<path d="M522.7 34.6 521.1 32.0" stroke="#e6e41e" stroke-width="1.8"/>
<path d="M521.1 32.0 519.5 30.0" stroke="#fa8214" stroke-width="1.8"/>
<path d="M519.5 30.0 517.9 29.0" stroke="#f52319" stroke-width="1.8"/>
<path d="M529.9 95.3 530.3 90.7 530.7 86.1 531.0 81.5 531.4 76.9 531.8 72.3" stroke="#3a3a3a" stroke-width="0.9" stroke-dasharray="1.1 1.5" opacity="0.6"/>
<path d="M521.6 117.7 522.1 112.6 522.5 107.5 523.0 102.4 523.4 97.4" stroke="#5ceb69" stroke-width="1.8"/>
<path d="M523.4 97.4 523.9 92.3 524.3 87.2 524.8 82.1" stroke="#55eb50" stroke-width="1.8"/>
<path d="M524.8 82.1 525.2 77.0 525.6 72.0" stroke="#55eb4b" stroke-width="1.8"/>
<path d="M525.6 72.0 526.1 66.9" stroke="#55eb46" stroke-width="1.8"/>
<path d="M526.1 66.9 525.0 61.4" stroke="#52eb3c" stroke-width="1.8"/>
<path d="M525.0 61.4 523.7 56.1" stroke="#50eb32" stroke-width="1.8"/>
<path d="M523.7 56.1 522.3 51.2" stroke="#52eb30" stroke-width="1.8"/>
<path d="M522.3 51.2 520.9 46.6" stroke="#5aeb2d" stroke-width="1.8"/>
<path d="M520.9 46.6 519.5 42.4" stroke="#5feb2d" stroke-width="1.8"/>
<path d="M519.5 42.4 518.0 38.6" stroke="#64eb2d" stroke-width="1.8"/>
<path d="M518.0 38.6 516.5 35.2" stroke="#b4ee23" stroke-width="1.8"/>
<path d="M516.5 35.2 515.0 32.4" stroke="#e6e41e" stroke-width="1.8"/>
<path d="M515.0 32.4 513.4 30.2" stroke="#fa8214" stroke-width="1.8"/>
<path d="M513.4 30.2 511.9 29.0" stroke="#f52319" stroke-width="1.8"/>
<path d="M522.5 107.5 523.0 102.4 523.4 97.4 523.9 92.3 524.3 87.2 524.8 82.1 525.2 77.0 525.6 72.0" stroke="#3a3a3a" stroke-width="0.9" stroke-dasharray="1.1 1.5" opacity="0.6"/>
<path d="M514.6 126.4 515.1 120.8 515.6 115.3 516.1 109.7 516.6 104.2 517.1 98.6" stroke="#55eb50" stroke-width="1.8"/>
<path d="M517.1 98.6 517.6 93.1 518.1 87.5 518.6 81.9" stroke="#55eb4b" stroke-width="1.8"/>
<path d="M518.6 81.9 519.1 76.4 519.6 70.8" stroke="#55eb46" stroke-width="1.8"/>
<path d="M519.6 70.8 518.5 64.7" stroke="#52eb3c" stroke-width="1.8"/>
<path d="M518.5 64.7 517.3 58.9" stroke="#50eb32" stroke-width="1.8"/>
<path d="M517.3 58.9 516.0 53.5" stroke="#55eb2d" stroke-width="1.8"/>
<path d="M516.0 53.5 514.6 48.4" stroke="#5aeb2d" stroke-width="1.8"/>
<path d="M514.6 48.4 513.2 43.8" stroke="#62eb2d" stroke-width="1.8"/>
<path d="M513.2 43.8 511.8 39.5" stroke="#7deb2a" stroke-width="1.8"/>
<path d="M511.8 39.5 510.4 35.8" stroke="#b4ee23" stroke-width="1.8"/>
<path d="M510.4 35.8 508.9 32.7" stroke="#fad71e" stroke-width="1.8"/>
<path d="M508.9 32.7 507.4 30.3" stroke="#fa6914" stroke-width="1.8"/>
<path d="M507.4 30.3 506.0 29.0" stroke="#f52319" stroke-width="1.8"/>
<path d="M515.6 115.3 516.1 109.7 516.6 104.2 517.1 98.6 517.6 93.1 518.1 87.5 518.6 81.9 519.1 76.4 519.6 70.8" stroke="#3a3a3a" stroke-width="0.9" stroke-dasharray="1.1 1.5" opacity="0.6"/>
<path d="M508.1 134.5 508.7 128.4 509.2 122.3 509.8 116.1 510.4 110.0 510.9 103.9 511.5 97.8" stroke="#55eb4b" stroke-width="1.8"/>
<path d="M511.5 97.8 512.0 91.6 512.6 85.5 513.1 79.4" stroke="#55eb46" stroke-width="1.8"/>
<path d="M513.1 79.4 513.7 73.3" stroke="#52eb3c" stroke-width="1.8"/>
<path d="M513.7 73.3 512.7 66.8" stroke="#50eb32" stroke-width="1.8"/>
<path d="M512.7 66.8 511.5 60.7" stroke="#52eb30" stroke-width="1.8"/>
<path d="M511.5 60.7 510.2 54.9" stroke="#55eb2d" stroke-width="1.8"/>
<path d="M510.2 54.9 508.9 49.5" stroke="#5feb2d" stroke-width="1.8"/>
<path d="M508.9 49.5 507.6 44.6" stroke="#62eb2d" stroke-width="1.8"/>
<path d="M507.6 44.6 506.3 40.2" stroke="#7deb2a" stroke-width="1.8"/>
<path d="M506.3 40.2 504.9 36.2" stroke="#b4ee23" stroke-width="1.8"/>
<path d="M504.9 36.2 503.5 32.9" stroke="#fad71e" stroke-width="1.8"/>
<path d="M503.5 32.9 502.1 30.4" stroke="#fa6914" stroke-width="1.8"/>
<path d="M502.1 30.4 500.7 29.0" stroke="#f52319" stroke-width="1.8"/>
<path d="M509.2 122.3 509.8 116.1 510.4 110.0 510.9 103.9 511.5 97.8 512.0 91.6 512.6 85.5 513.1 79.4 513.7 73.3" stroke="#3a3a3a" stroke-width="0.9" stroke-dasharray="1.1 1.5" opacity="0.6"/>
<path d="M501.6 142.7 502.3 135.7 502.9 128.8" stroke="#55eb4b" stroke-width="1.8"/>
<path d="M502.9 128.8 503.6 121.8 504.2 114.9 504.8 108.0 505.5 101.0 506.1 94.1" stroke="#55eb46" stroke-width="1.8"/>
<path d="M506.1 94.1 506.8 87.1 507.4 80.2" stroke="#52eb3c" stroke-width="1.8"/>
<path d="M507.4 80.2 508.1 73.3" stroke="#50eb32" stroke-width="1.8"/>
<path d="M508.1 73.3 507.1 66.8" stroke="#52eb30" stroke-width="1.8"/>
<path d="M507.1 66.8 505.9 60.7" stroke="#55eb2d" stroke-width="1.8"/>
<path d="M505.9 60.7 504.7 54.9" stroke="#5aeb2d" stroke-width="1.8"/>
<path d="M504.7 54.9 503.5 49.5" stroke="#5feb2d" stroke-width="1.8"/>
<path d="M503.5 49.5 502.2 44.6" stroke="#64eb2d" stroke-width="1.8"/>
<path d="M502.2 44.6 501.0 40.2" stroke="#96eb28" stroke-width="1.8"/>
<path d="M501.0 40.2 499.6 36.2" stroke="#d2f01e" stroke-width="1.8"/>
<path d="M499.6 36.2 498.3 32.9" stroke="#fad71e" stroke-width="1.8"/>
<path d="M498.3 32.9 497.0 30.4" stroke="#fa6914" stroke-width="1.8"/>
<path d="M497.0 30.4 495.6 29.0" stroke="#f52319" stroke-width="1.8"/>
<path d="M502.9 128.8 503.6 121.8 504.2 114.9 504.8 108.0 505.5 101.0 506.1 94.1 506.8 87.1 507.4 80.2 508.1 73.3" stroke="#3a3a3a" stroke-width="0.9" stroke-dasharray="1.1 1.5" opacity="0.6"/>
<path d="M495.1 150.8 495.9 143.0 496.6 135.3 497.3 127.5 498.1 119.8 498.8 112.0" stroke="#55eb46" stroke-width="1.8"/>
<path d="M498.8 112.0 499.5 104.3 500.3 96.5 501.0 88.8" stroke="#52eb3c" stroke-width="1.8"/>
<path d="M501.0 88.8 501.7 81.0 502.4 73.3" stroke="#50eb32" stroke-width="1.8"/>
<path d="M502.4 73.3 501.5 66.8" stroke="#52eb30" stroke-width="1.8"/>
<path d="M501.5 66.8 500.4 60.7" stroke="#55eb2d" stroke-width="1.8"/>
<path d="M500.4 60.7 499.3 54.9" stroke="#5aeb2d" stroke-width="1.8"/>
<path d="M499.3 54.9 498.1 49.5" stroke="#62eb2d" stroke-width="1.8"/>
<path d="M498.1 49.5 496.9 44.6" stroke="#64eb2d" stroke-width="1.8"/>
<path d="M496.9 44.6 495.7 40.2" stroke="#96eb28" stroke-width="1.8"/>
<path d="M495.7 40.2 494.4 36.2" stroke="#d2f01e" stroke-width="1.8"/>
<path d="M494.4 36.2 493.2 32.9" stroke="#faac19" stroke-width="1.8"/>
<path d="M493.2 32.9 491.9 30.4" stroke="#fa6914" stroke-width="1.8"/>
<path d="M491.9 30.4 490.6 29.0" stroke="#f52319" stroke-width="1.8"/>
<path d="M496.6 135.3 497.3 127.5 498.1 119.8 498.8 112.0 499.5 104.3 500.3 96.5 501.0 88.8 501.7 81.0 502.4 73.3" stroke="#3a3a3a" stroke-width="0.9" stroke-dasharray="1.1 1.5" opacity="0.6"/>
<path d="M488.6 160.1 489.5 151.4 490.3 142.7 491.1 134.0 492.0 125.4 492.8 116.7 493.6 108.0" stroke="#52eb3c" stroke-width="1.8"/>
<path d="M493.6 108.0 494.5 99.3 495.3 90.6 496.1 81.9" stroke="#50eb32" stroke-width="1.8"/>
<path d="M496.1 81.9 497.0 73.3" stroke="#52eb30" stroke-width="1.8"/>
<path d="M497.0 73.3 496.1 66.8" stroke="#55eb2d" stroke-width="1.8"/>
<path d="M496.1 66.8 495.0 60.7" stroke="#5aeb2d" stroke-width="1.8"/>
<path d="M495.0 60.7 494.0 54.9" stroke="#5feb2d" stroke-width="1.8"/>
<path d="M494.0 54.9 492.8 49.5" stroke="#62eb2d" stroke-width="1.8"/>
<path d="M492.8 49.5 491.7 44.6" stroke="#7deb2a" stroke-width="1.8"/>
<path d="M491.7 44.6 490.5 40.2" stroke="#96eb28" stroke-width="1.8"/>
<path d="M490.5 40.2 489.3 36.2" stroke="#d2f01e" stroke-width="1.8"/>
<path d="M489.3 36.2 488.1 32.9" stroke="#faac19" stroke-width="1.8"/>
<path d="M488.1 32.9 486.9 30.4" stroke="#fa6914" stroke-width="1.8"/>
<path d="M486.9 30.4 485.7 29.0" stroke="#f52319" stroke-width="1.8"/>
<path d="M490.3 142.7 491.1 134.0 492.0 125.4 492.8 116.7 493.6 108.0 494.5 99.3 495.3 90.6 496.1 81.9 497.0 73.3" stroke="#3a3a3a" stroke-width="0.9" stroke-dasharray="1.1 1.5" opacity="0.6"/>
<path d="M482.2 169.9 483.1 160.2 484.0 150.5 485.0 140.9 485.9 131.2 486.9 121.6 487.8 111.9 488.7 102.2" stroke="#50eb32" stroke-width="1.8"/>
<path d="M488.7 102.2 489.7 92.6 490.6 82.9" stroke="#52eb30" stroke-width="1.8"/>
<path d="M490.6 82.9 491.6 73.3 490.7 66.8" stroke="#55eb2d" stroke-width="1.8"/>
<path d="M490.7 66.8 489.7 60.7" stroke="#5aeb2d" stroke-width="1.8"/>
<path d="M489.7 60.7 488.7 54.9" stroke="#5feb2d" stroke-width="1.8"/>
<path d="M488.7 54.9 487.7 49.5" stroke="#64eb2d" stroke-width="1.8"/>
<path d="M487.7 49.5 486.6 44.6" stroke="#7deb2a" stroke-width="1.8"/>
<path d="M486.6 44.6 485.5 40.2" stroke="#b4ee23" stroke-width="1.8"/>
<path d="M485.5 40.2 484.3 36.2" stroke="#e6e41e" stroke-width="1.8"/>
<path d="M484.3 36.2 483.2 32.9" stroke="#faac19" stroke-width="1.8"/>
<path d="M483.2 32.9 482.0 30.4" stroke="#fa5014" stroke-width="1.8"/>
<path d="M482.0 30.4 480.9 29.0" stroke="#f52319" stroke-width="1.8"/>
<path d="M483.1 160.2 484.0 150.5 485.0 140.9 485.9 131.2 486.9 121.6 487.8 111.9 488.7 102.2 489.7 92.6 490.6 82.9 491.6 73.3" stroke="#3a3a3a" stroke-width="0.9" stroke-dasharray="1.1 1.5" opacity="0.6"/>
<path d="M475.7 179.6 476.7 169.0 477.8 158.4 478.8 147.7 479.9 137.1 480.9 126.4" stroke="#50eb32" stroke-width="1.8"/>
<path d="M480.9 126.4 482.0 115.8 483.0 105.2 484.1 94.5" stroke="#52eb30" stroke-width="1.8"/>
<path d="M484.1 94.5 485.2 83.9 486.2 73.3" stroke="#55eb2d" stroke-width="1.8"/>
<path d="M486.2 73.3 485.4 66.8" stroke="#5aeb2d" stroke-width="1.8"/>
<path d="M485.4 66.8 484.5 60.7" stroke="#5feb2d" stroke-width="1.8"/>
<path d="M484.5 60.7 483.5 54.9" stroke="#62eb2d" stroke-width="1.8"/>
<path d="M483.5 54.9 482.5 49.5" stroke="#64eb2d" stroke-width="1.8"/>
<path d="M482.5 49.5 481.5 44.6" stroke="#7deb2a" stroke-width="1.8"/>
<path d="M481.5 44.6 480.4 40.2" stroke="#b4ee23" stroke-width="1.8"/>
<path d="M480.4 40.2 479.4 36.2" stroke="#e6e41e" stroke-width="1.8"/>
<path d="M479.4 36.2 478.3 32.9" stroke="#faac19" stroke-width="1.8"/>
<path d="M478.3 32.9 477.2 30.4" stroke="#fa5014" stroke-width="1.8"/>
<path d="M477.2 30.4 476.1 29.0" stroke="#f21e1c" stroke-width="1.8"/>
<path d="M476.7 169.0 477.8 158.4 478.8 147.7 479.9 137.1 480.9 126.4 482.0 115.8 483.0 105.2 484.1 94.5 485.2 83.9 486.2 73.3" stroke="#3a3a3a" stroke-width="0.9" stroke-dasharray="1.1 1.5" opacity="0.6"/>
<path d="M468.9 189.8 470.1 178.1 471.3 166.5 472.4 154.8 473.6 143.2 474.8 131.5" stroke="#50eb32" stroke-width="1.8"/>
<path d="M474.8 131.5 476.0 119.9 477.1 108.2 478.3 96.6" stroke="#52eb30" stroke-width="1.8"/>
<path d="M478.3 96.6 479.5 84.9 480.7 73.3" stroke="#55eb2d" stroke-width="1.8"/>
<path d="M480.7 73.3 479.9 66.8" stroke="#5aeb2d" stroke-width="1.8"/>
<path d="M479.9 66.8 479.0 60.7" stroke="#5feb2d" stroke-width="1.8"/>
<path d="M479.0 60.7 478.1 54.9" stroke="#62eb2d" stroke-width="1.8"/>
<path d="M478.1 54.9 477.2 49.5" stroke="#64eb2d" stroke-width="1.8"/>
<path d="M477.2 49.5 476.2 44.6" stroke="#96eb28" stroke-width="1.8"/>
<path d="M476.2 44.6 475.2 40.2" stroke="#b4ee23" stroke-width="1.8"/>
<path d="M475.2 40.2 474.2 36.2" stroke="#e6e41e" stroke-width="1.8"/>
<path d="M474.2 36.2 473.2 32.9" stroke="#faac19" stroke-width="1.8"/>
<path d="M473.2 32.9 472.2 30.4" stroke="#fa5014" stroke-width="1.8"/>
<path d="M472.2 30.4 471.1 29.0" stroke="#f21e1c" stroke-width="1.8"/>
<path d="M470.1 178.1 471.3 166.5 472.4 154.8 473.6 143.2 474.8 131.5 476.0 119.9 477.1 108.2 478.3 96.6 479.5 84.9 480.7 73.3" stroke="#3a3a3a" stroke-width="0.9" stroke-dasharray="1.1 1.5" opacity="0.6"/>
<path d="M466.0 197.0 466.2 191.6 466.6 184.0 467.0 175.0 467.4 165.6 467.8 156.7" stroke="#50eb32" stroke-width="1.8"/>
<path d="M467.8 156.7 468.1 149.1 468.4 143.2 468.5 138.4" stroke="#52eb30" stroke-width="1.8"/>
<path d="M468.5 138.4 468.6 134.1" stroke="#55eb2d" stroke-width="1.8"/>
<path d="M468.6 134.1 468.8 129.6 468.9 124.1" stroke="#5aeb2d" stroke-width="1.8"/>
<path d="M468.9 124.1 469.2 117.2" stroke="#62eb2d" stroke-width="1.8"/>
<path d="M469.2 117.2 469.7 107.6" stroke="#64eb2d" stroke-width="1.8"/>
<path d="M469.7 107.6 470.3 95.9" stroke="#96eb28" stroke-width="1.8"/>
<path d="M470.3 95.9 470.9 83.2" stroke="#d2f01e" stroke-width="1.8"/>
<path d="M470.9 83.2 471.6 71.0" stroke="#fad71e" stroke-width="1.8"/>
<path d="M471.6 71.0 472.1 60.6" stroke="#fa6914" stroke-width="1.8"/>
<path d="M472.1 60.6 472.5 53.3" stroke="#f21e1c" stroke-width="1.8"/>
<path d="M466.6 184.0 467.0 175.0 467.4 165.6 467.8 156.7 468.1 149.1 468.4 143.2 468.5 138.4 468.6 134.1 468.8 129.6 468.9 124.1 469.2 117.2 469.7 107.6 470.3 95.9 470.9 83.2 471.6 71.0" stroke="#3a3a3a" stroke-width="0.9" stroke-dasharray="1.1 1.5" opacity="0.6"/>
<path d="M460.5 205.8 460.7 200.6 461.0 193.4 461.4 184.9 461.9 175.8 462.3 166.5" stroke="#50eb32" stroke-width="1.8"/>
<path d="M462.3 166.5 462.6 157.9 462.9 149.8 463.2 141.9" stroke="#52eb30" stroke-width="1.8"/>
<path d="M463.2 141.9 463.4 133.9" stroke="#55eb2d" stroke-width="1.8"/>
<path d="M463.4 133.9 463.7 125.6" stroke="#5aeb2d" stroke-width="1.8"/>
<path d="M463.7 125.6 464.0 117.0" stroke="#5feb2d" stroke-width="1.8"/>
<path d="M464.0 117.0 464.4 107.8" stroke="#62eb2d" stroke-width="1.8"/>
<path d="M464.4 107.8 464.9 97.3" stroke="#64eb2d" stroke-width="1.8"/>
<path d="M464.9 97.3 465.5 85.2" stroke="#96eb28" stroke-width="1.8"/>
<path d="M465.5 85.2 466.1 72.8" stroke="#d2f01e" stroke-width="1.8"/>
<path d="M466.1 72.8 466.7 61.1" stroke="#faac19" stroke-width="1.8"/>
<path d="M466.7 61.1 467.3 51.1" stroke="#fa6914" stroke-width="1.8"/>
<path d="M467.3 51.1 467.6 44.0" stroke="#f21e1c" stroke-width="1.8"/>
<path d="M461.0 193.4 461.4 184.9 461.9 175.8 462.3 166.5 462.6 157.9 462.9 149.8 463.2 141.9 463.4 133.9 463.7 125.6 464.0 117.0 464.4 107.8 464.9 97.3 465.5 85.2 466.1 72.8" stroke="#3a3a3a" stroke-width="0.9" stroke-dasharray="1.1 1.5" opacity="0.6"/>
<path d="M455.0 215.3 455.2 210.4 455.5 203.7 455.9 195.7 456.3 186.7 456.7 177.2" stroke="#50eb32" stroke-width="1.8"/>
<path d="M456.7 177.2 457.1 167.5 457.5 157.1 457.9 145.8" stroke="#52eb30" stroke-width="1.8"/>
<path d="M457.9 145.8 458.3 134.0" stroke="#55eb2d" stroke-width="1.8"/>
<path d="M458.3 134.0 458.7 121.9" stroke="#5aeb2d" stroke-width="1.8"/>
<path d="M458.7 121.9 459.1 110.0" stroke="#5feb2d" stroke-width="1.8"/>
<path d="M459.1 110.0 459.5 98.5" stroke="#62eb2d" stroke-width="1.8"/>
<path d="M459.5 98.5 460.1 86.9" stroke="#64eb2d" stroke-width="1.8"/>
<path d="M460.1 86.9 460.7 74.5" stroke="#96eb28" stroke-width="1.8"/>
<path d="M460.7 74.5 461.3 62.3" stroke="#d2f01e" stroke-width="1.8"/>
<path d="M461.3 62.3 461.9 51.0" stroke="#faac19" stroke-width="1.8"/>
<path d="M461.9 51.0 462.4 41.6" stroke="#fa6914" stroke-width="1.8"/>
<path d="M462.4 41.6 462.8 34.7" stroke="#f21e1c" stroke-width="1.8"/>
<path d="M455.5 203.7 455.9 195.7 456.3 186.7 456.7 177.2 457.1 167.5 457.5 157.1 457.9 145.8 458.3 134.0 458.7 121.9 459.1 110.0 459.5 98.5 460.1 86.9 460.7 74.5" stroke="#3a3a3a" stroke-width="0.9" stroke-dasharray="1.1 1.5" opacity="0.6"/>
<path d="M448.1 221.7 448.3 216.9 448.6 210.7 449.0 203.1 449.4 194.3 449.8 184.5" stroke="#50eb32" stroke-width="1.8"/>
<path d="M449.8 184.5 450.2 173.8 450.7 161.6 451.2 147.6" stroke="#52eb30" stroke-width="1.8"/>
<path d="M451.2 147.6 451.7 132.5" stroke="#55eb2d" stroke-width="1.8"/>
<path d="M451.7 132.5 452.3 117.3" stroke="#5aeb2d" stroke-width="1.8"/>
<path d="M452.3 117.3 452.8 102.5" stroke="#5feb2d" stroke-width="1.8"/>
<path d="M452.8 102.5 453.4 89.2" stroke="#62eb2d" stroke-width="1.8"/>
<path d="M453.4 89.2 453.9 76.6" stroke="#64eb2d" stroke-width="1.8"/>
<path d="M453.9 76.6 454.5 64.0" stroke="#96eb28" stroke-width="1.8"/>
<path d="M454.5 64.0 455.2 52.0" stroke="#d2f01e" stroke-width="1.8"/>
<path d="M455.2 52.0 455.8 41.2" stroke="#faac19" stroke-width="1.8"/>
<path d="M455.8 41.2 456.2 32.1" stroke="#fa5014" stroke-width="1.8"/>
<path d="M456.2 32.1 456.6 25.4" stroke="#f21e1c" stroke-width="1.8"/>
<path d="M448.6 210.7 449.0 203.1 449.4 194.3 449.8 184.5 450.2 173.8 450.7 161.6 451.2 147.6 451.7 132.5 452.3 117.3 452.8 102.5 453.4 89.2 453.9 76.6" stroke="#3a3a3a" stroke-width="0.9" stroke-dasharray="1.1 1.5" opacity="0.6"/>
<path d="M444.0 230.5 444.2 225.9 444.5 220.0" stroke="#52eb30" stroke-width="1.8"/>
<path d="M444.5 220.0 444.8 212.7 445.2 204.1" stroke="#55eb2d" stroke-width="1.8"/>
<path d="M445.2 204.1 445.7 194.1" stroke="#5aeb2d" stroke-width="1.8"/>
<path d="M445.7 194.1 446.1 182.6" stroke="#5feb2d" stroke-width="1.8"/>
<path d="M446.1 182.6 446.7 168.8" stroke="#62eb2d" stroke-width="1.8"/>
<path d="M446.7 168.8 447.3 152.3" stroke="#64eb2d" stroke-width="1.8"/>
<path d="M447.3 152.3 448.0 134.5" stroke="#7deb2a" stroke-width="1.8"/>
<path d="M448.0 134.5 448.6 116.5" stroke="#96eb28" stroke-width="1.8"/>
<path d="M448.6 116.5 449.3 99.4" stroke="#d2f01e" stroke-width="1.8"/>
<path d="M449.3 99.4 449.9 84.4" stroke="#e6e41e" stroke-width="1.8"/>
<path d="M449.9 84.4 450.5 71.1" stroke="#fad71e" stroke-width="1.8"/>
<path d="M450.5 71.1 451.2 58.2" stroke="#faac19" stroke-width="1.8"/>
<path d="M451.2 58.2 451.8 46.4" stroke="#fa6914" stroke-width="1.8"/>
<path d="M451.8 46.4 452.3 35.9" stroke="#fa5014" stroke-width="1.8"/>
<path d="M452.3 35.9 452.8 27.1" stroke="#f52319" stroke-width="1.8"/>
<path d="M452.8 27.1 453.2 20.6" stroke="#f21e1c" stroke-width="1.8"/>
<path d="M444.5 220.0 444.8 212.7 445.2 204.1 445.7 194.1 446.1 182.6 446.7 168.8 447.3 152.3 448.0 134.5 448.6 116.5 449.3 99.4 449.9 84.4 450.5 71.1" stroke="#3a3a3a" stroke-width="0.9" stroke-dasharray="1.1 1.5" opacity="0.6"/>
<path d="M438.5 236.9 438.7 232.4 439.0 226.8" stroke="#52eb30" stroke-width="1.8"/>
<path d="M439.0 226.8 439.3 219.8" stroke="#55eb2d" stroke-width="1.8"/>
<path d="M439.3 219.8 439.7 211.3 440.2 201.1" stroke="#5aeb2d" stroke-width="1.8"/>
<path d="M440.2 201.1 440.7 189.0" stroke="#5feb2d" stroke-width="1.8"/>
<path d="M440.7 189.0 441.3 173.8" stroke="#62eb2d" stroke-width="1.8"/>
<path d="M441.3 173.8 442.0 155.4" stroke="#64eb2d" stroke-width="1.8"/>
<path d="M442.0 155.4 442.8 135.3" stroke="#7deb2a" stroke-width="1.8"/>
<path d="M442.8 135.3 443.7 115.0" stroke="#b4ee23" stroke-width="1.8"/>
<path d="M443.7 115.0 444.4 95.9" stroke="#d2f01e" stroke-width="1.8"/>
<path d="M444.4 95.9 445.1 79.6" stroke="#e6e41e" stroke-width="1.8"/>
<path d="M445.1 79.6 445.8 65.6" stroke="#fad71e" stroke-width="1.8"/>
<path d="M445.8 65.6 446.4 52.6" stroke="#fa8214" stroke-width="1.8"/>
<path d="M446.4 52.6 447.0 40.9" stroke="#fa6914" stroke-width="1.8"/>
<path d="M447.0 40.9 447.6 30.7" stroke="#fa5014" stroke-width="1.8"/>
<path d="M447.6 30.7 448.0 22.2" stroke="#f52319" stroke-width="1.8"/>
<path d="M448.0 22.2 448.4 15.8" stroke="#f21e1c" stroke-width="1.8"/>
<path d="M439.0 226.8 439.3 219.8 439.7 211.3 440.2 201.1 440.7 189.0 441.3 173.8 442.0 155.4 442.8 135.3 443.7 115.0 444.4 95.9 445.1 79.6" stroke="#3a3a3a" stroke-width="0.9" stroke-dasharray="1.1 1.5" opacity="0.6"/>
<path d="M434.4 244.1 434.6 239.7 434.8 234.4" stroke="#52eb30" stroke-width="1.8"/>
<path d="M434.8 234.4 435.2 227.7" stroke="#55eb2d" stroke-width="1.8"/>
<path d="M435.2 227.7 435.5 219.4 436.0 209.0" stroke="#5aeb2d" stroke-width="1.8"/>
<path d="M436.0 209.0 436.6 196.2" stroke="#5feb2d" stroke-width="1.8"/>
<path d="M436.6 196.2 437.3 179.5" stroke="#62eb2d" stroke-width="1.8"/>
<path d="M437.3 179.5 438.1 159.1" stroke="#64eb2d" stroke-width="1.8"/>
<path d="M438.1 159.1 439.1 136.5" stroke="#7deb2a" stroke-width="1.8"/>
<path d="M439.1 136.5 440.0 113.8" stroke="#b4ee23" stroke-width="1.8"/>
<path d="M440.0 113.8 440.9 92.6" stroke="#d2f01e" stroke-width="1.8"/>
<path d="M440.9 92.6 441.7 74.9" stroke="#e6e41e" stroke-width="1.8"/>
<path d="M441.7 74.9 442.4 60.1" stroke="#fad71e" stroke-width="1.8"/>
<path d="M442.4 60.1 443.0 46.9" stroke="#fa8214" stroke-width="1.8"/>
<path d="M443.0 46.9 443.6 35.3" stroke="#fa6914" stroke-width="1.8"/>
<path d="M443.6 35.3 444.2 25.4" stroke="#fa5014" stroke-width="1.8"/>
<path d="M444.2 25.4 444.6 17.3" stroke="#f52319" stroke-width="1.8"/>
<path d="M444.6 17.3 444.9 11.0" stroke="#f21e1c" stroke-width="1.8"/>
<path d="M434.8 234.4 435.2 227.7 435.5 219.4 436.0 209.0 436.6 196.2 437.3 179.5 438.1 159.1 439.1 136.5 440.0 113.8 440.9 92.6 441.7 74.9" stroke="#3a3a3a" stroke-width="0.9" stroke-dasharray="1.1 1.5" opacity="0.6"/>
<path d="M431.3 248.1 431.5 243.8 431.7 238.7" stroke="#52eb30" stroke-width="1.8"/>
<path d="M431.7 238.7 432.0 232.3" stroke="#55eb2d" stroke-width="1.8"/>
<path d="M432.0 232.3 432.4 224.0 432.9 213.5" stroke="#5aeb2d" stroke-width="1.8"/>
<path d="M432.9 213.5 433.5 200.2" stroke="#5feb2d" stroke-width="1.8"/>
<path d="M433.5 200.2 434.3 182.5" stroke="#62eb2d" stroke-width="1.8"/>
<path d="M434.3 182.5 435.2 160.4" stroke="#64eb2d" stroke-width="1.8"/>
<path d="M435.2 160.4 436.3 136.1" stroke="#7deb2a" stroke-width="1.8"/>
<path d="M436.3 136.1 437.4 111.6" stroke="#b4ee23" stroke-width="1.8"/>
<path d="M437.4 111.6 438.4 88.9" stroke="#d2f01e" stroke-width="1.8"/>
<path d="M438.4 88.9 439.3 70.1" stroke="#e6e41e" stroke-width="1.8"/>
<path d="M439.3 70.1 440.0 54.8" stroke="#fad71e" stroke-width="1.8"/>
<path d="M440.0 54.8 440.7 41.5" stroke="#fa8214" stroke-width="1.8"/>
<path d="M440.7 41.5 441.3 30.0" stroke="#fa6914" stroke-width="1.8"/>
<path d="M441.3 30.0 441.8 20.3" stroke="#fa5014" stroke-width="1.8"/>
<path d="M441.8 20.3 442.2 12.4" stroke="#f52319" stroke-width="1.8"/>
<path d="M442.2 12.4 442.5 6.2" stroke="#f21e1c" stroke-width="1.8"/>
<path d="M432.0 232.3 432.4 224.0 432.9 213.5 433.5 200.2 434.3 182.5 435.2 160.4 436.3 136.1 437.4 111.6 438.4 88.9 439.3 70.1" stroke="#3a3a3a" stroke-width="0.9" stroke-dasharray="1.1 1.5" opacity="0.6"/>
<path d="M429.7 251.3 429.9 247.1 430.1 242.2" stroke="#52eb30" stroke-width="1.8"/>
<path d="M430.1 242.2 430.4 235.9" stroke="#55eb2d" stroke-width="1.8"/>
<path d="M430.4 235.9 430.7 227.8 431.2 217.1" stroke="#5aeb2d" stroke-width="1.8"/>
<path d="M431.2 217.1 431.9 203.4" stroke="#5feb2d" stroke-width="1.8"/>
<path d="M431.9 203.4 432.7 184.7" stroke="#62eb2d" stroke-width="1.8"/>
<path d="M432.7 184.7 433.8 161.3" stroke="#64eb2d" stroke-width="1.8"/>
<path d="M433.8 161.3 435.0 135.3" stroke="#7deb2a" stroke-width="1.8"/>
<path d="M435.0 135.3 436.3 109.1" stroke="#b4ee23" stroke-width="1.8"/>
<path d="M436.3 109.1 437.4 85.0" stroke="#d2f01e" stroke-width="1.8"/>
<path d="M437.4 85.0 438.3 65.3" stroke="#e6e41e" stroke-width="1.8"/>
<path d="M438.3 65.3 439.1 49.6" stroke="#fad71e" stroke-width="1.8"/>
<path d="M439.1 49.6 439.8 36.1" stroke="#fa8214" stroke-width="1.8"/>
<path d="M439.8 36.1 440.4 24.7" stroke="#fa6914" stroke-width="1.8"/>
<path d="M440.4 24.7 440.9 15.2" stroke="#fa5014" stroke-width="1.8"/>
<path d="M440.9 15.2 441.3 7.5" stroke="#f52319" stroke-width="1.8"/>
<path d="M441.3 7.5 441.6 1.4" stroke="#f21e1c" stroke-width="1.8"/>
<path d="M430.4 235.9 430.7 227.8 431.2 217.1 431.9 203.4 432.7 184.7 433.8 161.3 435.0 135.3 436.3 109.1 437.4 85.0" stroke="#3a3a3a" stroke-width="0.9" stroke-dasharray="1.1 1.5" opacity="0.6"/>
</g>
<path d="M439.4 1.4 439.8 2.9 440.2 4.9 440.8 7.2 441.6 9.4 442.5 11.4 443.5 13.4 444.6 15.4 445.9 17.4 447.4 19.3 449.0 21.2 450.7 23.0 452.4 24.6 454.2 26.0 456.1 27.3 458.0 28.4 460.0 29.4 461.8 30.2 463.7 30.8 465.7 31.3 468.1 31.8 471.4 32.1 475.4 32.3 479.1 32.4 481.6 32.5" stroke="#f01c1c" stroke-width="2.0" stroke-dasharray="3 1.2" fill="none" clip-path="url(#cb)"/>
<path d="M481.6 32.5 519.5 32.5 562.8 31.8 600.6 31.0 627.7 29.4" stroke="#f01c1c" stroke-width="2.4" stroke-dasharray="2.2 3.2" fill="none"/>
<g clip-path="url(#cc)">
<path d="M226.6 508.2 232.7 508.7 238.7 509.2 244.8 509.7 250.9 510.2 257.0 510.7 263.0 511.2 269.1 511.9 275.2 512.6 281.3 513.1 287.3 513.4 293.4 513.4 299.5 513.2 305.6 512.9 311.6 512.4 317.7 511.8 323.8 510.7 329.8 509.0 335.9 507.4 342.0 505.8 348.1 504.1 354.1 502.3 360.2 500.4 366.3 498.3 372.4 496.3 378.4 494.4 384.5 492.8 390.6 491.3 396.7 489.4 402.7 487.1 408.8 484.2 414.9 481.0 421.0 477.3 427.0 473.2 433.1 468.7 439.2 464.0 445.2 458.9 451.3 453.6 457.4 447.8 463.5 441.5 469.5 434.7 475.6 427.1 481.7 418.5 487.8 409.3 493.8 399.6 499.9 389.8 506.0 379.8 512.1 369.4 518.1 358.3 524.2 345.8" stroke="#000" stroke-width="1.3" fill="none"/>
<path d="M315.3 509.7h0M353.9 500.1h0M336.7 494.0h0M258.6 520.0h0M269.2 506.1h0M350.6 503.9h0M227.3 508.4h0M343.2 515.0h0M339.7 509.4h0M293.0 508.6h0M269.6 512.5h0M266.1 511.0h0M262.8 513.1h0M289.8 505.9h0M298.2 513.4h0M305.2 527.3h0M367.9 502.3h0M339.1 519.5h0M314.9 533.3h0M367.0 501.6h0M257.2 502.0h0M249.3 509.8h0M313.5 519.9h0M232.8 514.9h0M231.7 501.2h0M299.7 512.2h0M292.8 513.1h0M356.8 501.8h0M315.9 511.7h0M299.6 507.9h0M297.1 509.7h0M261.7 509.7h0M228.3 515.2h0M253.9 507.1h0M324.8 514.9h0M255.1 503.4h0M279.0 521.3h0M227.1 509.2h0M344.4 505.2h0M248.5 518.7h0M264.6 500.1h0M351.5 493.5h0M299.0 516.3h0M346.8 499.4h0M317.4 509.3h0M331.9 525.6h0M239.6 507.6h0M303.4 513.4h0M298.7 512.7h0M350.3 510.5h0M277.9 514.6h0M311.5 513.5h0M235.0 501.1h0M281.6 510.9h0M272.4 512.3h0M247.9 499.9h0M342.5 509.3h0M280.5 515.6h0M365.5 510.5h0M310.3 502.2h0M312.5 506.0h0M317.2 505.8h0M322.6 506.6h0M248.0 509.2h0M289.1 512.0h0M260.6 512.7h0M283.7 514.6h0M240.3 509.0h0M364.0 489.2h0M257.1 507.1h0M321.9 511.5h0M269.2 515.7h0M350.7 507.5h0M320.6 500.9h0M245.3 506.4h0M346.5 504.1h0M360.7 502.5h0M354.9 509.3h0M307.5 513.1h0M247.2 504.2h0M253.9 513.0h0M358.3 502.5h0M305.0 514.3h0M252.2 509.6h0M352.1 513.4h0M317.7 513.3h0M307.5 518.3h0M280.0 507.2h0M284.9 518.4h0M260.6 507.2h0M232.0 498.7h0M351.0 505.3h0M293.0 517.4h0M304.3 511.7h0M272.3 512.3h0M333.2 514.6h0M230.2 505.5h0M279.4 499.8h0M230.9 510.3h0M244.0 511.0h0M363.9 506.0h0M320.0 509.4h0M287.4 521.6h0M300.9 520.4h0M350.5 495.0h0M275.5 518.5h0M310.4 505.4h0M323.6 500.7h0M277.0 511.0h0M300.3 509.6h0M335.2 494.8h0M355.6 503.1h0M248.0 513.8h0M359.1 509.6h0M227.3 508.0h0M333.5 498.4h0M341.6 499.6h0M246.0 516.0h0M286.1 519.0h0M342.3 509.0h0M228.6 506.5h0M315.8 513.3h0M339.2 505.2h0M299.4 511.3h0M329.6 511.0h0M258.7 511.1h0M254.8 509.2h0M278.1 513.4h0M252.1 507.0h0M275.7 500.4h0M361.2 496.2h0M308.0 512.3h0M274.9 523.6h0M265.1 508.9h0M361.7 512.6h0M289.7 522.7h0M365.7 492.9h0M299.8 508.6h0M300.6 514.1h0M353.8 513.6h0M332.0 510.9h0M309.0 517.0h0M287.2 509.2h0M351.2 488.4h0M285.0 511.9h0M357.6 506.4h0M236.4 516.7h0M287.6 513.8h0M300.3 514.3h0M361.6 507.5h0M262.2 510.4h0M341.0 513.6h0M322.6 503.7h0M328.4 502.5h0M316.0 504.8h0M364.5 502.0h0M273.8 509.0h0M283.1 514.1h0M255.4 513.1h0M233.8 511.0h0M256.8 519.2h0M356.5 511.0h0M345.8 499.5h0M242.6 510.8h0M312.3 510.9h0M294.6 506.8h0M311.0 523.8h0M320.2 516.6h0M270.1 510.9h0M363.0 496.9h0M292.7 515.9h0M315.7 505.2h0M316.8 510.5h0M252.7 518.3h0M235.4 515.0h0M285.0 508.1h0M335.0 504.6h0M342.3 518.1h0M330.2 500.1h0M242.7 505.6h0M356.2 492.9h0M340.4 508.7h0M351.2 505.1h0M300.9 520.5h0M356.6 485.0h0M233.2 509.9h0M230.9 498.2h0M229.5 512.7h0M262.5 510.1h0M261.9 522.1h0M368.9 498.8h0M372.3 492.9h0M375.3 499.7h0M378.4 490.7h0M383.2 492.0h0M386.7 495.9h0M389.7 493.2h0M393.6 492.0h0M397.2 489.4h0M400.8 489.8h0M404.4 489.2h0M407.2 486.1h0M411.8 486.3h0M413.9 486.0h0M418.5 479.0h0M421.9 473.6h0M425.6 479.6h0M429.7 471.3h0M433.0 471.1h0M435.2 470.6h0M438.4 461.6h0M443.3 462.4h0M445.8 453.2h0M449.9 457.6h0M453.9 449.8h0M456.1 449.8h0M459.4 448.4h0M464.2 438.7h0M467.6 437.4h0M471.0 430.8h0M474.7 428.5h0M477.8 428.0h0M481.0 420.0h0M485.2 413.1h0M488.3 405.0h0M491.5 406.5h0M496.2 396.0h0M499.4 396.6h0M503.2 382.2h0M506.0 383.6h0M509.7 379.8h0M513.1 367.8h0M516.7 357.1h0M520.8 358.4h0M523.8 350.5h0" stroke="#000" stroke-width="3.8" stroke-linecap="round"/>
<path d="M226.6 522.2 231.9 524.6 237.2 526.8 242.5 528.8 247.8 530.6 253.1 532.1 258.4 533.2 263.7 534.1 269.0 535.0 274.3 535.8 279.6 536.5 284.9 536.9 290.2 537.0 295.5 537.0 300.8 537.0 306.1 537.0 311.4 537.0 316.7 536.9 322.0 536.1 327.3 534.9 332.7 533.6 338.0 532.2 343.3 530.7 348.6 528.9 353.9 526.8 359.2 524.5 364.5 521.5 369.8 517.8 375.1 513.6 380.4 509.3 385.7 504.8 391.0 499.9 396.3 494.7 401.6 489.4 406.9 483.8 412.2 477.9 417.5 471.3 422.8 463.9 428.1 456.0 433.4 447.6 438.7 439.0 444.0 429.8 449.3 420.1 454.6 410.0 459.9 399.5 465.2 388.4 470.5 376.5 475.8 363.9 481.1 348.8 486.4 328.3" stroke="#33ee22" stroke-width="1.4" fill="none"/>
<path d="M333.1 532.0h0M335.2 541.1h0M320.1 538.2h0M294.0 539.9h0M256.0 536.9h0M273.5 546.6h0M273.5 537.3h0M295.6 532.7h0M386.7 502.1h0M283.1 539.7h0M298.3 537.1h0M286.2 533.3h0M319.8 549.8h0M378.5 511.4h0M369.1 515.7h0M287.0 533.7h0M269.4 526.9h0M368.3 513.4h0M305.7 535.5h0M336.5 531.2h0M238.3 523.5h0M365.5 523.4h0M276.8 536.4h0M305.8 532.7h0M258.3 523.8h0M293.9 537.8h0M359.3 524.6h0M359.2 523.5h0M302.5 530.6h0M349.7 528.6h0M300.0 530.0h0M286.4 541.6h0M314.1 537.9h0M258.9 534.2h0M277.3 532.5h0M339.8 526.7h0M350.1 535.6h0M235.7 530.6h0M344.0 528.8h0M357.6 528.4h0M297.9 544.3h0M236.6 521.6h0M336.0 530.4h0M266.0 532.2h0M329.7 536.6h0M287.0 532.0h0M328.7 535.7h0M268.0 529.6h0M303.0 541.4h0M310.7 541.1h0M327.7 533.8h0M259.2 536.7h0M380.8 505.8h0M272.9 534.4h0M275.6 540.5h0M267.7 534.5h0M237.4 528.6h0M294.4 532.6h0M350.3 531.3h0M340.3 533.7h0M257.9 527.3h0M248.5 520.1h0M278.1 526.7h0M349.7 528.2h0M304.8 536.0h0M374.5 506.7h0M331.8 534.4h0M326.1 539.9h0M349.6 527.9h0M346.8 527.3h0M281.7 540.7h0M267.8 542.8h0M296.7 543.9h0M305.0 533.8h0M249.3 534.7h0M297.3 537.7h0M329.1 533.4h0M248.3 527.8h0M248.7 532.5h0M254.4 530.0h0M272.0 539.8h0M380.7 510.8h0M230.7 529.0h0M256.0 527.3h0M253.0 532.2h0M302.6 540.6h0M229.0 525.0h0M300.0 538.1h0M252.7 528.6h0M269.8 542.8h0M353.6 531.9h0M256.1 534.6h0M325.5 523.2h0M291.7 532.4h0M293.5 537.6h0M357.5 521.8h0M252.4 522.0h0M374.6 515.1h0M369.8 519.5h0M333.7 527.5h0M234.5 523.3h0M332.9 530.3h0M322.8 538.4h0M350.3 519.0h0M260.9 525.4h0M379.4 507.4h0M368.6 515.3h0M244.9 539.4h0M277.1 533.1h0M231.8 525.5h0M359.8 522.1h0M373.2 511.8h0M385.2 506.9h0M324.7 543.6h0M333.3 531.7h0M335.3 536.5h0M318.0 538.3h0M379.2 513.2h0M324.0 537.3h0M280.4 547.6h0M386.8 500.6h0M391.7 498.5h0M396.1 492.0h0M401.5 484.2h0M407.4 483.2h0M412.4 482.3h0M417.3 473.9h0M423.0 466.8h0M426.8 459.3h0M432.3 449.1h0M438.0 445.5h0M442.9 430.8h0M448.3 425.8h0M452.9 412.4h0M457.5 404.7h0M463.0 393.9h0M467.1 384.5h0M471.7 375.3h0M478.4 358.7h0M483.0 346.8h0" stroke="#44ee22" stroke-width="4.1" stroke-linecap="square"/>
<path d="M226.6 532.7 231.1 535.9 235.5 538.9 240.0 541.7 244.4 544.2 248.9 546.5 253.4 548.6 257.8 550.6 262.3 552.4 266.8 553.9 271.2 555.2 275.7 556.3 280.1 557.4 284.6 558.2 289.1 558.8 293.5 559.1 298.0 559.4 302.4 559.7 306.9 559.7 311.4 559.4 315.8 558.3 320.3 556.9 324.8 555.3 329.2 553.2 333.7 550.6 338.1 547.4 342.6 544.0 347.1 539.8 351.5 534.4 356.0 528.5 360.4 522.5 364.9 516.5 369.4 510.2 373.8 503.7 378.3 497.0 382.8 490.0 387.2 482.2 391.7 472.9 396.1 462.7 400.6 452.4 405.1 443.2 409.5 435.2 414.0 426.1 418.5 413.4 422.9 399.4 427.4 387.6 431.8 376.3 436.3 366.4 440.8 354.0 445.2 328.3" stroke="#1133ee" stroke-width="1.4" fill="none"/>
<path d="M244.5 532.8l2.5 4.3h-5zM290.4 560.6l2.5 4.3h-5zM275.6 554.0l2.5 4.3h-5zM307.2 554.7l2.5 4.3h-5zM265.2 547.1l2.5 4.3h-5zM231.3 535.3l2.5 4.3h-5zM272.1 551.1l2.5 4.3h-5zM330.3 551.1l2.5 4.3h-5zM261.7 548.8l2.5 4.3h-5zM282.2 555.6l2.5 4.3h-5zM330.3 555.3l2.5 4.3h-5zM282.5 555.1l2.5 4.3h-5zM348.4 531.2l2.5 4.3h-5zM352.7 534.7l2.5 4.3h-5zM269.3 553.0l2.5 4.3h-5zM327.7 548.0l2.5 4.3h-5zM261.4 554.4l2.5 4.3h-5zM245.8 541.2l2.5 4.3h-5zM286.7 560.8l2.5 4.3h-5zM309.4 551.4l2.5 4.3h-5zM355.1 515.7l2.5 4.3h-5zM246.6 532.9l2.5 4.3h-5zM324.4 553.7l2.5 4.3h-5zM291.9 552.7l2.5 4.3h-5zM244.7 541.0l2.5 4.3h-5zM360.2 519.6l2.5 4.3h-5zM322.2 546.1l2.5 4.3h-5zM244.3 547.7l2.5 4.3h-5zM351.0 527.2l2.5 4.3h-5zM240.8 539.6l2.5 4.3h-5zM239.3 531.7l2.5 4.3h-5zM272.1 551.7l2.5 4.3h-5zM355.4 529.6l2.5 4.3h-5zM231.1 531.8l2.5 4.3h-5zM352.7 526.5l2.5 4.3h-5zM310.6 556.5l2.5 4.3h-5zM235.8 533.9l2.5 4.3h-5zM304.7 559.4l2.5 4.3h-5zM289.6 566.3l2.5 4.3h-5zM304.1 552.6l2.5 4.3h-5zM327.9 547.8l2.5 4.3h-5zM319.8 553.6l2.5 4.3h-5zM363.6 515.2l2.5 4.3h-5zM248.1 538.3l2.5 4.3h-5zM338.2 546.8l2.5 4.3h-5zM283.1 558.5l2.5 4.3h-5zM334.2 548.3l2.5 4.3h-5zM349.1 528.9l2.5 4.3h-5zM362.9 523.2l2.5 4.3h-5zM263.1 544.2l2.5 4.3h-5zM288.8 559.0l2.5 4.3h-5zM356.1 530.8l2.5 4.3h-5zM356.5 518.9l2.5 4.3h-5zM277.8 554.5l2.5 4.3h-5zM355.7 532.2l2.5 4.3h-5zM282.4 556.7l2.5 4.3h-5zM278.1 549.6l2.5 4.3h-5zM330.5 544.0l2.5 4.3h-5zM291.3 558.2l2.5 4.3h-5zM288.2 553.9l2.5 4.3h-5zM279.6 551.0l2.5 4.3h-5zM286.0 558.7l2.5 4.3h-5zM245.8 540.4l2.5 4.3h-5zM235.0 535.9l2.5 4.3h-5zM330.2 552.5l2.5 4.3h-5zM304.1 559.3l2.5 4.3h-5zM318.9 554.2l2.5 4.3h-5zM336.8 545.5l2.5 4.3h-5zM258.2 550.7l2.5 4.3h-5zM258.7 550.2l2.5 4.3h-5zM264.8 545.1l2.5 4.3h-5zM268.3 550.6l2.5 4.3h-5zM331.1 545.1l2.5 4.3h-5zM278.0 548.3l2.5 4.3h-5zM271.0 549.5l2.5 4.3h-5zM314.0 545.1l2.5 4.3h-5zM252.2 549.3l2.5 4.3h-5zM241.2 535.7l2.5 4.3h-5zM322.4 555.0l2.5 4.3h-5zM330.5 540.8l2.5 4.3h-5zM267.3 543.1l2.5 4.3h-5zM314.0 565.4l2.5 4.3h-5zM231.3 537.9l2.5 4.3h-5zM282.1 551.8l2.5 4.3h-5zM306.0 553.1l2.5 4.3h-5zM261.4 545.7l2.5 4.3h-5zM274.4 553.6l2.5 4.3h-5zM310.3 554.5l2.5 4.3h-5zM307.6 553.8l2.5 4.3h-5zM247.8 543.5l2.5 4.3h-5zM323.7 548.0l2.5 4.3h-5zM237.6 548.3l2.5 4.3h-5zM359.8 517.5l2.5 4.3h-5zM254.4 551.3l2.5 4.3h-5zM261.4 544.7l2.5 4.3h-5zM254.1 547.3l2.5 4.3h-5zM362.8 520.9l2.5 4.3h-5zM266.0 549.1l2.5 4.3h-5zM309.7 561.2l2.5 4.3h-5zM362.7 521.2l2.5 4.3h-5zM357.1 531.7l2.5 4.3h-5zM232.4 534.1l2.5 4.3h-5zM298.2 554.3l2.5 4.3h-5zM309.2 551.9l2.5 4.3h-5zM323.1 553.9l2.5 4.3h-5zM272.7 547.7l2.5 4.3h-5zM271.6 552.4l2.5 4.3h-5zM227.2 530.8l2.5 4.3h-5zM231.4 530.6l2.5 4.3h-5zM302.2 551.8l2.5 4.3h-5zM237.0 538.7l2.5 4.3h-5zM254.4 547.5l2.5 4.3h-5zM272.4 553.5l2.5 4.3h-5zM236.3 536.2l2.5 4.3h-5zM230.8 537.2l2.5 4.3h-5zM353.9 523.5l2.5 4.3h-5zM286.4 557.6l2.5 4.3h-5zM254.7 544.2l2.5 4.3h-5zM323.9 556.8l2.5 4.3h-5zM227.9 529.1l2.5 4.3h-5zM365.4 511.9l2.5 4.3h-5zM368.6 509.6l2.5 4.3h-5zM372.1 498.1l2.5 4.3h-5zM376.6 495.9l2.5 4.3h-5zM381.0 485.4l2.5 4.3h-5zM385.8 479.6l2.5 4.3h-5zM389.0 477.7l2.5 4.3h-5zM392.4 469.4l2.5 4.3h-5zM397.5 455.5l2.5 4.3h-5zM401.9 446.6l2.5 4.3h-5zM406.2 438.2l2.5 4.3h-5zM411.1 430.1l2.5 4.3h-5zM414.7 426.3l2.5 4.3h-5zM419.3 408.6l2.5 4.3h-5zM422.3 404.1l2.5 4.3h-5zM427.7 382.9l2.5 4.3h-5zM432.7 373.4l2.5 4.3h-5zM436.1 365.9l2.5 4.3h-5zM440.0 354.3l2.5 4.3h-5z" fill="#1133ee"/>
<path d="M226.6 551.9 230.4 555.1 234.2 558.3 238.0 561.5 241.8 564.7 245.6 567.9 249.4 571.1 253.3 574.4 257.1 577.4 260.9 580.0 264.7 582.4 268.5 584.1 272.3 585.2 276.1 586.1 279.9 586.4 283.7 585.7 287.5 584.3 291.3 582.7 295.1 580.4 298.9 577.3 302.8 573.7 306.6 569.9 310.4 566.1 314.2 562.4 318.0 558.6 321.8 554.6 325.6 550.3 329.4 546.0 333.2 541.4 337.0 536.6 340.8 531.6 344.6 526.3 348.4 520.4 352.3 513.8 356.1 506.1 359.9 497.7 363.7 489.1 367.5 480.4 371.3 471.4 375.1 461.8 378.9 451.4 382.7 440.4 386.5 430.2 390.3 421.8 394.1 413.9 397.9 404.2 401.7 391.6 405.6 376.0 409.4 356.7 413.2 328.3" stroke="#a83ce8" stroke-width="1.4" fill="none"/>
<path d="M254.0 565.8l2.4 2.7l-2.4 2.7l-2.4 -2.7zM237.7 562.9l2.4 2.7l-2.4 2.7l-2.4 -2.7zM287.1 594.7l2.4 2.7l-2.4 2.7l-2.4 -2.7zM302.5 575.4l2.4 2.7l-2.4 2.7l-2.4 -2.7zM267.4 592.4l2.4 2.7l-2.4 2.7l-2.4 -2.7zM240.5 561.1l2.4 2.7l-2.4 2.7l-2.4 -2.7zM330.6 535.9l2.4 2.7l-2.4 2.7l-2.4 -2.7zM329.7 539.2l2.4 2.7l-2.4 2.7l-2.4 -2.7zM298.7 582.4l2.4 2.7l-2.4 2.7l-2.4 -2.7zM244.3 568.3l2.4 2.7l-2.4 2.7l-2.4 -2.7zM296.1 566.9l2.4 2.7l-2.4 2.7l-2.4 -2.7zM307.3 564.7l2.4 2.7l-2.4 2.7l-2.4 -2.7zM281.5 583.5l2.4 2.7l-2.4 2.7l-2.4 -2.7zM337.3 527.5l2.4 2.7l-2.4 2.7l-2.4 -2.7zM276.6 569.5l2.4 2.7l-2.4 2.7l-2.4 -2.7zM292.1 572.3l2.4 2.7l-2.4 2.7l-2.4 -2.7zM241.2 560.7l2.4 2.7l-2.4 2.7l-2.4 -2.7zM298.8 572.7l2.4 2.7l-2.4 2.7l-2.4 -2.7zM324.9 545.0l2.4 2.7l-2.4 2.7l-2.4 -2.7zM320.3 556.9l2.4 2.7l-2.4 2.7l-2.4 -2.7zM259.5 582.5l2.4 2.7l-2.4 2.7l-2.4 -2.7zM353.8 507.8l2.4 2.7l-2.4 2.7l-2.4 -2.7zM318.9 560.3l2.4 2.7l-2.4 2.7l-2.4 -2.7zM280.9 583.9l2.4 2.7l-2.4 2.7l-2.4 -2.7zM279.8 583.1l2.4 2.7l-2.4 2.7l-2.4 -2.7zM326.5 533.3l2.4 2.7l-2.4 2.7l-2.4 -2.7zM249.1 572.9l2.4 2.7l-2.4 2.7l-2.4 -2.7zM308.6 565.8l2.4 2.7l-2.4 2.7l-2.4 -2.7zM318.8 556.0l2.4 2.7l-2.4 2.7l-2.4 -2.7zM292.8 576.7l2.4 2.7l-2.4 2.7l-2.4 -2.7zM338.5 526.0l2.4 2.7l-2.4 2.7l-2.4 -2.7zM286.7 584.8l2.4 2.7l-2.4 2.7l-2.4 -2.7zM286.2 586.8l2.4 2.7l-2.4 2.7l-2.4 -2.7zM263.1 588.1l2.4 2.7l-2.4 2.7l-2.4 -2.7zM344.5 529.1l2.4 2.7l-2.4 2.7l-2.4 -2.7zM267.1 577.9l2.4 2.7l-2.4 2.7l-2.4 -2.7zM315.7 557.9l2.4 2.7l-2.4 2.7l-2.4 -2.7zM279.1 589.4l2.4 2.7l-2.4 2.7l-2.4 -2.7zM346.5 522.8l2.4 2.7l-2.4 2.7l-2.4 -2.7zM348.1 518.0l2.4 2.7l-2.4 2.7l-2.4 -2.7zM230.5 549.6l2.4 2.7l-2.4 2.7l-2.4 -2.7zM354.1 510.8l2.4 2.7l-2.4 2.7l-2.4 -2.7zM304.2 571.1l2.4 2.7l-2.4 2.7l-2.4 -2.7zM236.1 567.5l2.4 2.7l-2.4 2.7l-2.4 -2.7zM290.3 587.0l2.4 2.7l-2.4 2.7l-2.4 -2.7zM232.9 545.3l2.4 2.7l-2.4 2.7l-2.4 -2.7zM297.0 588.7l2.4 2.7l-2.4 2.7l-2.4 -2.7zM250.4 571.1l2.4 2.7l-2.4 2.7l-2.4 -2.7zM273.8 581.7l2.4 2.7l-2.4 2.7l-2.4 -2.7zM265.7 582.4l2.4 2.7l-2.4 2.7l-2.4 -2.7zM303.8 574.6l2.4 2.7l-2.4 2.7l-2.4 -2.7zM332.0 540.5l2.4 2.7l-2.4 2.7l-2.4 -2.7zM346.7 520.5l2.4 2.7l-2.4 2.7l-2.4 -2.7zM268.8 582.0l2.4 2.7l-2.4 2.7l-2.4 -2.7zM299.6 584.6l2.4 2.7l-2.4 2.7l-2.4 -2.7zM227.4 550.7l2.4 2.7l-2.4 2.7l-2.4 -2.7zM274.3 587.9l2.4 2.7l-2.4 2.7l-2.4 -2.7zM349.8 518.6l2.4 2.7l-2.4 2.7l-2.4 -2.7zM241.8 560.7l2.4 2.7l-2.4 2.7l-2.4 -2.7zM338.1 528.9l2.4 2.7l-2.4 2.7l-2.4 -2.7zM310.2 558.4l2.4 2.7l-2.4 2.7l-2.4 -2.7zM264.3 582.3l2.4 2.7l-2.4 2.7l-2.4 -2.7zM326.4 541.5l2.4 2.7l-2.4 2.7l-2.4 -2.7zM263.7 572.5l2.4 2.7l-2.4 2.7l-2.4 -2.7zM341.3 521.8l2.4 2.7l-2.4 2.7l-2.4 -2.7zM237.2 550.2l2.4 2.7l-2.4 2.7l-2.4 -2.7zM241.9 562.8l2.4 2.7l-2.4 2.7l-2.4 -2.7zM322.7 551.8l2.4 2.7l-2.4 2.7l-2.4 -2.7zM284.2 578.2l2.4 2.7l-2.4 2.7l-2.4 -2.7zM245.5 572.8l2.4 2.7l-2.4 2.7l-2.4 -2.7zM292.4 578.2l2.4 2.7l-2.4 2.7l-2.4 -2.7zM264.7 582.7l2.4 2.7l-2.4 2.7l-2.4 -2.7zM297.0 578.3l2.4 2.7l-2.4 2.7l-2.4 -2.7zM321.9 561.6l2.4 2.7l-2.4 2.7l-2.4 -2.7zM336.4 539.7l2.4 2.7l-2.4 2.7l-2.4 -2.7zM234.2 555.7l2.4 2.7l-2.4 2.7l-2.4 -2.7zM302.5 566.2l2.4 2.7l-2.4 2.7l-2.4 -2.7zM352.7 504.6l2.4 2.7l-2.4 2.7l-2.4 -2.7zM285.5 582.9l2.4 2.7l-2.4 2.7l-2.4 -2.7zM325.3 549.1l2.4 2.7l-2.4 2.7l-2.4 -2.7zM239.1 564.4l2.4 2.7l-2.4 2.7l-2.4 -2.7zM338.6 529.6l2.4 2.7l-2.4 2.7l-2.4 -2.7zM301.2 573.9l2.4 2.7l-2.4 2.7l-2.4 -2.7zM340.5 525.9l2.4 2.7l-2.4 2.7l-2.4 -2.7zM327.5 535.5l2.4 2.7l-2.4 2.7l-2.4 -2.7zM338.0 532.8l2.4 2.7l-2.4 2.7l-2.4 -2.7zM233.9 563.9l2.4 2.7l-2.4 2.7l-2.4 -2.7zM318.3 560.4l2.4 2.7l-2.4 2.7l-2.4 -2.7zM251.9 578.8l2.4 2.7l-2.4 2.7l-2.4 -2.7zM260.7 584.0l2.4 2.7l-2.4 2.7l-2.4 -2.7zM268.2 573.9l2.4 2.7l-2.4 2.7l-2.4 -2.7zM302.4 570.1l2.4 2.7l-2.4 2.7l-2.4 -2.7zM307.1 575.3l2.4 2.7l-2.4 2.7l-2.4 -2.7zM346.0 517.8l2.4 2.7l-2.4 2.7l-2.4 -2.7zM228.2 543.4l2.4 2.7l-2.4 2.7l-2.4 -2.7zM355.4 505.8l2.4 2.7l-2.4 2.7l-2.4 -2.7zM359.0 498.8l2.4 2.7l-2.4 2.7l-2.4 -2.7zM363.0 488.8l2.4 2.7l-2.4 2.7l-2.4 -2.7zM366.9 478.3l2.4 2.7l-2.4 2.7l-2.4 -2.7zM370.7 468.4l2.4 2.7l-2.4 2.7l-2.4 -2.7zM374.6 457.4l2.4 2.7l-2.4 2.7l-2.4 -2.7zM378.4 446.9l2.4 2.7l-2.4 2.7l-2.4 -2.7zM383.0 433.8l2.4 2.7l-2.4 2.7l-2.4 -2.7zM385.9 425.4l2.4 2.7l-2.4 2.7l-2.4 -2.7zM391.3 415.5l2.4 2.7l-2.4 2.7l-2.4 -2.7zM394.5 414.5l2.4 2.7l-2.4 2.7l-2.4 -2.7zM398.0 401.6l2.4 2.7l-2.4 2.7l-2.4 -2.7zM402.1 386.6l2.4 2.7l-2.4 2.7l-2.4 -2.7zM406.0 372.3l2.4 2.7l-2.4 2.7l-2.4 -2.7zM410.4 345.3l2.4 2.7l-2.4 2.7l-2.4 -2.7z" fill="#a63ae6"/>
<path d="M226.6 580.7 229.9 585.0 233.1 589.0 236.4 592.7 239.7 596.0 243.0 599.1 246.2 601.9 249.5 604.5 252.8 607.0 256.0 609.8 259.3 611.8 262.6 611.9 265.8 610.3 269.1 607.8 272.4 605.1 275.7 602.3 278.9 598.9 282.2 595.1 285.5 591.0 288.7 586.7 292.0 582.4 295.3 578.0 298.5 573.4 301.8 568.6 305.1 563.6 308.4 558.2 311.6 552.5 314.9 546.4 318.2 539.6 321.4 531.7 324.7 523.2 328.0 514.5 331.3 506.1 334.5 497.7 337.8 489.2 341.1 480.8 344.3 472.9 347.6 465.1 350.9 457.5 354.1 449.6 357.4 441.4 360.7 432.6 364.0 423.5 367.2 413.9 370.5 403.6 373.8 392.9 377.0 381.4 380.3 367.6 383.6 347.7 386.8 328.3" stroke="#000" stroke-width="1.3" fill="none"/>
<path d="M286.7 580.8h6.4l-3.2 5.4zM325.3 514.1h6.4l-3.2 5.4zM294.2 578.6h6.4l-3.2 5.4zM263.8 606.6h6.4l-3.2 5.4zM297.1 571.8h6.4l-3.2 5.4zM271.5 606.9h6.4l-3.2 5.4zM266.0 611.3h6.4l-3.2 5.4zM261.1 611.0h6.4l-3.2 5.4zM274.2 606.8h6.4l-3.2 5.4zM252.4 613.3h6.4l-3.2 5.4zM248.3 611.3h6.4l-3.2 5.4zM238.7 594.6h6.4l-3.2 5.4zM268.7 600.9h6.4l-3.2 5.4zM253.6 598.1h6.4l-3.2 5.4zM309.6 554.9h6.4l-3.2 5.4zM310.7 548.8h6.4l-3.2 5.4zM258.8 605.0h6.4l-3.2 5.4zM287.2 583.0h6.4l-3.2 5.4zM316.3 535.3h6.4l-3.2 5.4zM260.4 600.7h6.4l-3.2 5.4zM280.5 592.2h6.4l-3.2 5.4zM269.1 608.2h6.4l-3.2 5.4zM290.4 584.0h6.4l-3.2 5.4zM322.3 516.9h6.4l-3.2 5.4zM237.7 593.1h6.4l-3.2 5.4zM322.8 523.6h6.4l-3.2 5.4zM292.0 580.3h6.4l-3.2 5.4zM305.4 552.6h6.4l-3.2 5.4zM288.8 577.0h6.4l-3.2 5.4zM313.1 544.2h6.4l-3.2 5.4zM257.0 606.5h6.4l-3.2 5.4zM296.3 566.6h6.4l-3.2 5.4zM250.6 613.8h6.4l-3.2 5.4zM275.8 597.7h6.4l-3.2 5.4zM293.6 571.3h6.4l-3.2 5.4zM244.1 602.9h6.4l-3.2 5.4zM229.7 596.4h6.4l-3.2 5.4zM304.9 557.4h6.4l-3.2 5.4zM306.7 549.3h6.4l-3.2 5.4zM292.0 568.0h6.4l-3.2 5.4zM291.2 564.1h6.4l-3.2 5.4zM232.0 594.2h6.4l-3.2 5.4zM291.6 571.4h6.4l-3.2 5.4zM282.8 581.8h6.4l-3.2 5.4zM287.0 577.5h6.4l-3.2 5.4zM269.4 601.6h6.4l-3.2 5.4zM246.6 607.7h6.4l-3.2 5.4zM298.2 563.7h6.4l-3.2 5.4zM271.2 604.3h6.4l-3.2 5.4zM300.2 575.7h6.4l-3.2 5.4zM260.9 595.1h6.4l-3.2 5.4zM232.4 585.9h6.4l-3.2 5.4zM279.3 583.4h6.4l-3.2 5.4zM287.6 585.9h6.4l-3.2 5.4zM318.4 521.7h6.4l-3.2 5.4zM314.9 529.6h6.4l-3.2 5.4zM229.3 578.2h6.4l-3.2 5.4zM302.9 559.4h6.4l-3.2 5.4zM250.3 610.8h6.4l-3.2 5.4zM295.2 571.9h6.4l-3.2 5.4zM273.7 598.0h6.4l-3.2 5.4zM278.1 598.4h6.4l-3.2 5.4zM294.9 572.2h6.4l-3.2 5.4zM289.1 580.0h6.4l-3.2 5.4zM293.3 564.5h6.4l-3.2 5.4zM263.0 601.3h6.4l-3.2 5.4zM293.2 574.1h6.4l-3.2 5.4zM259.0 603.6h6.4l-3.2 5.4zM286.0 587.3h6.4l-3.2 5.4zM270.7 602.9h6.4l-3.2 5.4zM281.4 585.1h6.4l-3.2 5.4zM225.2 586.5h6.4l-3.2 5.4zM274.8 598.7h6.4l-3.2 5.4zM246.1 608.0h6.4l-3.2 5.4zM263.1 606.8h6.4l-3.2 5.4zM231.0 579.8h6.4l-3.2 5.4zM291.1 580.4h6.4l-3.2 5.4zM315.4 534.8h6.4l-3.2 5.4zM259.9 613.4h6.4l-3.2 5.4zM234.2 596.7h6.4l-3.2 5.4zM287.3 587.8h6.4l-3.2 5.4zM236.5 586.5h6.4l-3.2 5.4zM326.3 503.9h6.4l-3.2 5.4zM329.8 498.1h6.4l-3.2 5.4zM335.8 484.8h6.4l-3.2 5.4zM341.3 468.7h6.4l-3.2 5.4zM344.5 463.0h6.4l-3.2 5.4zM349.2 449.8h6.4l-3.2 5.4zM353.2 441.0h6.4l-3.2 5.4zM356.6 431.9h6.4l-3.2 5.4zM362.5 414.9h6.4l-3.2 5.4zM365.3 408.5h6.4l-3.2 5.4zM370.3 391.9h6.4l-3.2 5.4zM375.0 377.2h6.4l-3.2 5.4zM379.8 349.8h6.4l-3.2 5.4z" fill="#c6cfcf" stroke="#222" stroke-width="0.75"/>
<path d="M256.4 618.7L524.2 357.6" stroke="#ee1111" stroke-width="3.2"/>
</g>
<path d="M240.5 359.3H288" stroke="#000" stroke-width="1.3"/>
<path d="M264.1 359.3h0" stroke="#000" stroke-width="3.8" stroke-linecap="round"/>
<path d="M240.5 375.4H288" stroke="#33ee22" stroke-width="1.4"/>
<path d="M264.1 375.4h0" stroke="#44ee22" stroke-width="3.4" stroke-linecap="square"/>
<path d="M240.5 391.1H288" stroke="#1133ee" stroke-width="1.4"/>
<path d="M264.1 388.5l2.3 4h-4.6z" fill="#1133ee"/>
<path d="M240.5 407.0H288" stroke="#a83ce8" stroke-width="1.4"/>
<path d="M264.1 404.7l2 2.3l-2 2.3l-2 -2.3z" fill="#a63ae6"/>
<path d="M240.5 423.0H288" stroke="#000" stroke-width="1.3"/>
<path d="M260.9 420.4h6.4l-3.2 5.4z" fill="#c6cfcf" stroke="#222" stroke-width="0.75"/>
<path d="M240.5 438.6H288" stroke="#ee1111" stroke-width="3.2"/>
<text x="294" y="363.6" font-size="12.3">0 - 1 nm</text>
<text x="294" y="379.7" font-size="12.3">1 - 2 nm</text>
<text x="294" y="395.4" font-size="12.3">2 - 3 nm</text>
<text x="294" y="411.3" font-size="12.3">3 - 4 nm</text>
<text x="294" y="427.3" font-size="12.3">4 - 5 nm</text>
<rect x="49.4" y="9.9" width="297.1" height="270.9" fill="none" stroke="#000" stroke-width="1.5"/>
<rect x="411.3" y="9.4" width="297.5" height="271.4" fill="none" stroke="#000" stroke-width="1.5"/>
<rect x="226.6" y="345.8" width="297.6" height="270.7" fill="none" stroke="#000" stroke-width="1.5"/>
<path d="M60.4 280.8v-3.8M82.4 280.8v-3.8M104.4 280.8v-3.8M126.4 280.8v-3.8M148.4 280.8v-3.8M170.4 280.8v-3.8M192.4 280.8v-3.8M214.5 280.8v-3.8M236.5 280.8v-3.8M258.5 280.8v-3.8M280.5 280.8v-3.8M302.5 280.8v-3.8M324.5 280.8v-3.8M126.4 280.8v-6.3M214.5 280.8v-6.3M302.5 280.8v-6.3M49.4 278.7h4M49.4 267.9h4M49.4 257.1h4M49.4 246.4h4M49.4 235.7h4M49.4 224.9h4M49.4 214.2h4M49.4 203.4h4M49.4 192.7h4M49.4 181.9h4M49.4 171.1h4M49.4 160.4h4M49.4 149.7h4M49.4 138.9h4M49.4 128.2h4M49.4 117.4h4M49.4 106.7h4M49.4 95.9h4M49.4 85.1h4M49.4 74.4h4M49.4 63.6h4M49.4 52.9h4M49.4 42.1h4M49.4 31.4h4M49.4 20.6h4M49.4 246.4h6.3M49.4 192.7h6.3M49.4 138.9h6.3M49.4 85.1h6.3M49.4 31.4h6.3" stroke="#000" stroke-width="1.3" fill="none"/>
<text x="126.4" y="297.4" font-size="12.3" text-anchor="middle">2000</text>
<text x="214.5" y="297.4" font-size="12.3" text-anchor="middle">4000</text>
<text x="302.5" y="297.4" font-size="12.3" text-anchor="middle">6000</text>
<text x="44.6" y="250.7" font-size="12.3" text-anchor="end">0</text>
<text x="44.6" y="197.0" font-size="12.3" text-anchor="end">5</text>
<text x="44.6" y="143.2" font-size="12.3" text-anchor="end">10</text>
<text x="44.6" y="89.4" font-size="12.3" text-anchor="end">15</text>
<text x="44.6" y="35.7" font-size="12.3" text-anchor="end">20</text>
<path d="M438.3 280.8v-3.8M465.4 280.8v-3.8M492.4 280.8v-3.8M519.5 280.8v-3.8M546.5 280.8v-3.8M573.6 280.8v-3.8M600.6 280.8v-3.8M627.7 280.8v-3.8M654.7 280.8v-3.8M681.8 280.8v-3.8M465.4 280.8v-6.3M573.6 280.8v-6.3M681.8 280.8v-6.3M411.3 264.8h4M411.3 248.9h4M411.3 232.9h4M411.3 216.9h4M411.3 201.0h4M411.3 185.0h4M411.3 169.0h4M411.3 153.1h4M411.3 137.1h4M411.3 121.2h4M411.3 105.2h4M411.3 89.2h4M411.3 73.3h4M411.3 57.3h4M411.3 41.3h4M411.3 25.4h4M411.3 25.4h6.3M411.3 105.2h6.3M411.3 185.0h6.3M411.3 264.8h6.3" stroke="#000" stroke-width="1.3" fill="none"/>
<text x="465.4" y="297.4" font-size="12.3" text-anchor="middle">2000</text>
<text x="573.6" y="297.4" font-size="12.3" text-anchor="middle">4000</text>
<text x="681.8" y="297.4" font-size="12.3" text-anchor="middle">6000</text>
<text x="405.8" y="29.7" font-size="12.3" text-anchor="end">0</text>
<text x="405.8" y="109.5" font-size="12.3" text-anchor="end">-1</text>
<text x="405.8" y="189.3" font-size="12.3" text-anchor="end">-2</text>
<text x="405.8" y="269.1" font-size="12.3" text-anchor="end">-3</text>
<path d="M249.5 616.5v-3.8M272.4 616.5v-3.8M295.3 616.5v-3.8M318.2 616.5v-3.8M341.1 616.5v-3.8M364.0 616.5v-3.8M386.8 616.5v-3.8M409.7 616.5v-3.8M432.6 616.5v-3.8M455.5 616.5v-3.8M478.4 616.5v-3.8M501.3 616.5v-3.8M226.6 616.5v-6.3M341.1 616.5v-6.3M455.5 616.5v-6.3M226.6 599.0h4M226.6 581.6h4M226.6 564.1h4M226.6 546.6h4M226.6 529.2h4M226.6 511.7h4M226.6 494.2h4M226.6 476.8h4M226.6 459.3h4M226.6 441.9h4M226.6 424.4h4M226.6 406.9h4M226.6 389.5h4M226.6 372.0h4M226.6 354.5h4M226.6 599.0h6.3M226.6 511.7h6.3M226.6 424.4h6.3" stroke="#000" stroke-width="1.3" fill="none"/>
<text x="226.6" y="632.6" font-size="12.3" text-anchor="middle">5000</text>
<text x="341.1" y="632.6" font-size="12.3" text-anchor="middle">5500</text>
<text x="455.5" y="632.6" font-size="12.3" text-anchor="middle">6000</text>
<text x="220" y="603.3" font-size="12.3" text-anchor="end">-0.1</text>
<text x="220" y="516.0" font-size="12.3" text-anchor="end">0</text>
<text x="220" y="428.7" font-size="12.3" text-anchor="end">0.1</text>
<text x="197.9" y="315.4" font-size="14" text-anchor="middle">Temperature (K)</text>
<text x="560" y="315.4" font-size="14" text-anchor="middle">Temperature (K)</text>
<text x="375.4" y="650" font-size="14" text-anchor="middle">Temperature (K)</text>
<text x="21.5" y="145.6" font-size="14" text-anchor="middle" transform="rotate(-90 21.5 145.6)">Pressure (GPa)</text>
<text x="381.7" y="145" font-size="14" text-anchor="middle" transform="rotate(-90 381.7 145)">Pressure (GPa)</text>
<text x="196.6" y="481" font-size="14" text-anchor="middle" transform="rotate(-90 196.6 481)">Pressure (GPa)</text>
<text x="0.3" y="16.9" font-size="17.6" font-weight="bold">(a)</text>
<text x="366.6" y="16.9" font-size="17.6" font-weight="bold">(b)</text>
<text x="175.6" y="355" font-size="17.6" font-weight="bold">(c)</text>
<path d="M49.4 246.4H346.5" stroke="#000" stroke-width="1.8" stroke-dasharray="7.3 6.8"/>
<path d="M411.3 25.4H708.8" stroke="#000" stroke-width="1.8" stroke-dasharray="7.3 6.8"/>
<path d="M226.6 511.7H524.2" stroke="#000" stroke-width="1.5" stroke-dasharray="7 6.5"/>
<rect x="55.0" y="13.7" width="7.2" height="13.3" fill="#1937f5"/>
<rect x="62.2" y="13.7" width="14.9" height="13.3" fill="#1432fa"/>
<rect x="77.1" y="13.7" width="14.9" height="13.3" fill="#285afa"/>
<rect x="92.0" y="13.7" width="14.9" height="13.3" fill="#46a0f0"/>
<rect x="106.9" y="13.7" width="14.9" height="13.3" fill="#50ebe1"/>
<rect x="121.8" y="13.7" width="14.9" height="13.3" fill="#6eebaf"/>
<rect x="136.7" y="13.7" width="14.9" height="13.3" fill="#64eb82"/>
<rect x="151.6" y="13.7" width="14.9" height="13.3" fill="#55eb50"/>
<rect x="166.5" y="13.7" width="14.9" height="13.3" fill="#55eb46"/>
<rect x="181.4" y="13.7" width="14.9" height="13.3" fill="#50eb32"/>
<rect x="196.3" y="13.7" width="14.9" height="13.3" fill="#55eb2d"/>
<rect x="211.2" y="13.7" width="14.9" height="13.3" fill="#5feb2d"/>
<rect x="226.1" y="13.7" width="14.9" height="13.3" fill="#64eb2d"/>
<rect x="241.0" y="13.7" width="14.9" height="13.3" fill="#96eb28"/>
<rect x="255.9" y="13.7" width="14.9" height="13.3" fill="#d2f01e"/>
<rect x="270.8" y="13.7" width="14.9" height="13.3" fill="#fad71e"/>
<rect x="285.7" y="13.7" width="14.9" height="13.3" fill="#fa8214"/>
<rect x="300.6" y="13.7" width="14.9" height="13.3" fill="#fa5014"/>
<rect x="315.5" y="13.7" width="14.9" height="13.3" fill="#f52319"/>
<rect x="330.4" y="13.7" width="7.3" height="13.3" fill="#f0191e"/>
<path d="M62.2 13.7V27.0M77.1 13.7V27.0M92.0 13.7V27.0M106.9 13.7V27.0M121.8 13.7V27.0M136.7 13.7V27.0M151.6 13.7V27.0M166.5 13.7V27.0M181.4 13.7V27.0M196.3 13.7V27.0M211.2 13.7V27.0M226.1 13.7V27.0M241.0 13.7V27.0M255.9 13.7V27.0M270.8 13.7V27.0M285.7 13.7V27.0M300.6 13.7V27.0M315.5 13.7V27.0M330.4 13.7V27.0" stroke="#444" stroke-width="0.9"/>
<rect x="55" y="13.7" width="282.7" height="13.3" fill="none" stroke="#555" stroke-width="1"/>
<text x="62.2" y="37.6" font-size="8.4" text-anchor="middle" fill="#222">5</text>
<text x="77.1" y="37.6" font-size="8.4" text-anchor="middle" fill="#222">10</text>
<text x="92.0" y="37.6" font-size="8.4" text-anchor="middle" fill="#222">15</text>
<text x="106.9" y="37.6" font-size="8.4" text-anchor="middle" fill="#222">20</text>
<text x="121.8" y="37.6" font-size="8.4" text-anchor="middle" fill="#222">25</text>
<text x="136.7" y="37.6" font-size="8.4" text-anchor="middle" fill="#222">30</text>
<text x="151.6" y="37.6" font-size="8.4" text-anchor="middle" fill="#222">35</text>
<text x="166.5" y="37.6" font-size="8.4" text-anchor="middle" fill="#222">40</text>
<text x="181.4" y="37.6" font-size="8.4" text-anchor="middle" fill="#222">45</text>
<text x="196.3" y="37.6" font-size="8.4" text-anchor="middle" fill="#222">50</text>
<text x="211.2" y="37.6" font-size="8.4" text-anchor="middle" fill="#222">55</text>
<text x="226.1" y="37.6" font-size="8.4" text-anchor="middle" fill="#222">60</text>
<text x="241.0" y="37.6" font-size="8.4" text-anchor="middle" fill="#222">65</text>
<text x="255.9" y="37.6" font-size="8.4" text-anchor="middle" fill="#222">70</text>
<text x="270.8" y="37.6" font-size="8.4" text-anchor="middle" fill="#222">75</text>
<text x="285.7" y="37.6" font-size="8.4" text-anchor="middle" fill="#222">80</text>
<text x="300.6" y="37.6" font-size="8.4" text-anchor="middle" fill="#222">85</text>
<text x="315.5" y="37.6" font-size="8.4" text-anchor="middle" fill="#222">90</text>
<text x="330.4" y="37.6" font-size="8.4" text-anchor="middle" fill="#222">95</text>
<text x="196.9" y="51.8" font-size="12.4" text-anchor="middle">time (ps)</text>
<text x="96.3" y="89.6" font-size="12.3">140 - 145 nm</text>
<path d="M119.4 119.5L119.4 93.5M122.6 100.5L119.4 93.5L116.2 100.5" stroke="#222" stroke-width="1.1" fill="none"/>
<text x="297.6" y="272" font-size="12.3">0 - 5 nm</text>
<path d="M322.2 231.5L322.2 261.0M319.0 254.0L322.2 261.0L325.4 254.0" stroke="#222" stroke-width="1.1" fill="none"/>
<text x="531" y="193.9" font-size="12.3">95 - 100 nm</text>
<path d="M469.0 189.7L527.5 189.7M518.5 192.9L527.5 189.7L518.5 186.5" stroke="#222" stroke-width="1.1" fill="none"/>
</svg></body></html>
